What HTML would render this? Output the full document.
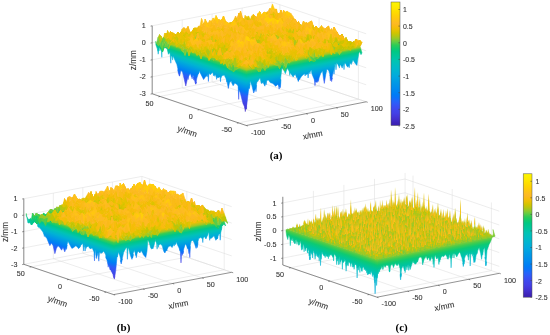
<!DOCTYPE html>
<html><head><meta charset="utf-8"><style>*{margin:0;padding:0}
html,body{width:550px;height:335px;background:#fff;overflow:hidden}
svg{display:block}
text{font-family:"Liberation Sans",Arial,sans-serif;font-size:8.00px;fill:#333;stroke:#333;stroke-width:.1}
text.r{text-anchor:end}
text.m{text-anchor:middle;font-size:8.2px}
text.cb{font-size:7.9px}
text.p{font-family:"Liberation Serif","Times New Roman",serif;font-weight:bold;font-size:11px;text-anchor:middle;fill:#000;stroke:none}
.g{stroke:#dadada;stroke-width:.5;fill:none}
.ax{stroke:#4a4a4a;stroke-width:.6;fill:none}
.cbr{stroke:#555;stroke-width:.5}
g path{stroke-width:1.1;stroke-linejoin:round}
.c0{fill:#3a20b0;stroke:#3a20b0}.c1{fill:#3c22b4;stroke:#3c22b4}.c2{fill:#3e24b8;stroke:#3e24b8}.c3{fill:#4028c0;stroke:#4028c0}.c4{fill:#422cc7;stroke:#422cc7}.c5{fill:#4430cf;stroke:#4430cf}.c6{fill:#4434d5;stroke:#4434d5}.c7{fill:#4438da;stroke:#4438da}.c8{fill:#443cdf;stroke:#443cdf}.c9{fill:#4440e4;stroke:#4440e4}.c10{fill:#4242e7;stroke:#4242e7}.c11{fill:#4145e9;stroke:#4145e9}.c12{fill:#3f47ec;stroke:#3f47ec}.c13{fill:#3e49ef;stroke:#3e49ef}.c14{fill:#3b4df1;stroke:#3b4df1}.c15{fill:#3752f3;stroke:#3752f3}.c16{fill:#3357f5;stroke:#3357f5}.c17{fill:#2f5cf8;stroke:#2f5cf8}.c18{fill:#2a61fa;stroke:#2a61fa}.c19{fill:#2266fa;stroke:#2266fa}.c20{fill:#196bf9;stroke:#196bf9}.c21{fill:#1070f9;stroke:#1070f9}.c22{fill:#0675f8;stroke:#0675f8}.c23{fill:#0079f7;stroke:#0079f7}.c24{fill:#007df6;stroke:#007df6}.c25{fill:#0080f4;stroke:#0080f4}.c26{fill:#0084f2;stroke:#0084f2}.c27{fill:#0087f1;stroke:#0087f1}.c28{fill:#008aef;stroke:#008aef}.c29{fill:#008ded;stroke:#008ded}.c30{fill:#0090eb;stroke:#0090eb}.c31{fill:#0093e9;stroke:#0093e9}.c32{fill:#0096e7;stroke:#0096e7}.c33{fill:#0099e6;stroke:#0099e6}.c34{fill:#009de4;stroke:#009de4}.c35{fill:#00a0e3;stroke:#00a0e3}.c36{fill:#00a4e2;stroke:#00a4e2}.c37{fill:#00a7e0;stroke:#00a7e0}.c38{fill:#00aade;stroke:#00aade}.c39{fill:#00addb;stroke:#00addb}.c40{fill:#00afd8;stroke:#00afd8}.c41{fill:#00b2d5;stroke:#00b2d5}.c42{fill:#00b4d1;stroke:#00b4d1}.c43{fill:#00b6ce;stroke:#00b6ce}.c44{fill:#00b9ca;stroke:#00b9ca}.c45{fill:#00bbc6;stroke:#00bbc6}.c46{fill:#00bdc3;stroke:#00bdc3}.c47{fill:#00bfbe;stroke:#00bfbe}.c48{fill:#00c1ba;stroke:#00c1ba}.c49{fill:#00c3b6;stroke:#00c3b6}.c50{fill:#00c4b0;stroke:#00c4b0}.c51{fill:#00c5aa;stroke:#00c5aa}.c52{fill:#00c5a3;stroke:#00c5a3}.c53{fill:#00c69c;stroke:#00c69c}.c54{fill:#00c696;stroke:#00c696}.c55{fill:#00c78f;stroke:#00c78f}.c56{fill:#00c789;stroke:#00c789}.c57{fill:#00c883;stroke:#00c883}.c58{fill:#07c979;stroke:#07c979}.c59{fill:#0fca70;stroke:#0fca70}.c60{fill:#17cb66;stroke:#17cb66}.c61{fill:#1ecc5c;stroke:#1ecc5c}.c62{fill:#31cc54;stroke:#31cc54}.c63{fill:#46cc4d;stroke:#46cc4d}.c64{fill:#5bcc46;stroke:#5bcc46}.c65{fill:#70cc3e;stroke:#70cc3e}.c66{fill:#84ca33;stroke:#84ca33}.c67{fill:#98c929;stroke:#98c929}.c68{fill:#aac81e;stroke:#aac81e}.c69{fill:#b6c610;stroke:#b6c610}.c70{fill:#c2c402;stroke:#c2c402}.c71{fill:#cfc400;stroke:#cfc400}.c72{fill:#dbc400;stroke:#dbc400}.c73{fill:#e4c302;stroke:#e4c302}.c74{fill:#ecc005;stroke:#ecc005}.c75{fill:#f4bd08;stroke:#f4bd08}.c76{fill:#f9bc0f;stroke:#f9bc0f}.c77{fill:#fabb18;stroke:#fabb18}.c78{fill:#fcba22;stroke:#fcba22}.c79{fill:#fdbb24;stroke:#fdbb24}.c80{fill:#febf1e;stroke:#febf1e}.c81{fill:#fec317;stroke:#fec317}.c82{fill:#ffc710;stroke:#ffc710}.c83{fill:#ffcb0c;stroke:#ffcb0c}.c84{fill:#ffcf08;stroke:#ffcf08}.c85{fill:#ffd304;stroke:#ffd304}.c86{fill:#ffd701;stroke:#ffd701}.c87{fill:#ffdb00;stroke:#ffdb00}.c88{fill:#ffdf00;stroke:#ffdf00}.c89{fill:#ffe200;stroke:#ffe200}.c90{fill:#ffe600;stroke:#ffe600}.c91{fill:#ffe900;stroke:#ffe900}.c92{fill:#feec00;stroke:#feec00}.c93{fill:#fdef00;stroke:#fdef00}.c94{fill:#fcf200;stroke:#fcf200}.c95{fill:#fbf500;stroke:#fbf500}</style></head><body>
<svg width="550" height="335" viewBox="0 0 550 335">
<defs><linearGradient id="cb" x1="0" y1="0" x2="0" y2="1"><stop offset="0.000" stop-color="#fbf500"/><stop offset="0.025" stop-color="#fdee00"/><stop offset="0.050" stop-color="#ffe700"/><stop offset="0.075" stop-color="#ffde00"/><stop offset="0.100" stop-color="#ffd503"/><stop offset="0.125" stop-color="#ffcb0b"/><stop offset="0.150" stop-color="#fec219"/><stop offset="0.175" stop-color="#fdb925"/><stop offset="0.200" stop-color="#f9bc0f"/><stop offset="0.225" stop-color="#e9c104"/><stop offset="0.250" stop-color="#d2c400"/><stop offset="0.275" stop-color="#b5c612"/><stop offset="0.300" stop-color="#8eca2e"/><stop offset="0.325" stop-color="#5ecc45"/><stop offset="0.350" stop-color="#2ccc56"/><stop offset="0.375" stop-color="#12ca6c"/><stop offset="0.400" stop-color="#00c883"/><stop offset="0.425" stop-color="#00c792"/><stop offset="0.450" stop-color="#00c5a1"/><stop offset="0.475" stop-color="#00c4b1"/><stop offset="0.500" stop-color="#00c0bc"/><stop offset="0.525" stop-color="#00bbc6"/><stop offset="0.550" stop-color="#00b6cf"/><stop offset="0.575" stop-color="#00b0d6"/><stop offset="0.600" stop-color="#00aade"/><stop offset="0.625" stop-color="#00a2e2"/><stop offset="0.650" stop-color="#009ae5"/><stop offset="0.675" stop-color="#0093e9"/><stop offset="0.700" stop-color="#008cee"/><stop offset="0.725" stop-color="#0084f2"/><stop offset="0.750" stop-color="#007cf6"/><stop offset="0.775" stop-color="#0c72f9"/><stop offset="0.800" stop-color="#2266fa"/><stop offset="0.825" stop-color="#305af7"/><stop offset="0.850" stop-color="#3a4ef2"/><stop offset="0.875" stop-color="#4046ec"/><stop offset="0.900" stop-color="#4341e6"/><stop offset="0.925" stop-color="#4438db"/><stop offset="0.950" stop-color="#432fcd"/><stop offset="0.975" stop-color="#3f25bb"/><stop offset="1.000" stop-color="#3a20b0"/></linearGradient><linearGradient id="ga1" gradientUnits="userSpaceOnUse" x1="0" y1="-16.12" x2="0" y2="43.88" gradientTransform="skewY(18.617)"><stop offset="0.000" stop-color="#ecc005"/><stop offset="0.050" stop-color="#a3c823"/><stop offset="0.083" stop-color="#3bcc51"/><stop offset="0.133" stop-color="#00c788"/><stop offset="0.200" stop-color="#00c2b8"/><stop offset="0.267" stop-color="#00b1d5"/><stop offset="0.333" stop-color="#009ae5"/><stop offset="0.417" stop-color="#007df5"/><stop offset="0.500" stop-color="#305af7"/><stop offset="0.633" stop-color="#4440e4"/><stop offset="0.800" stop-color="#3f26bc"/><stop offset="1.000" stop-color="#3a20b0"/></linearGradient><linearGradient id="ga2" gradientUnits="userSpaceOnUse" x1="0" y1="115.53" x2="0" y2="175.53" gradientTransform="skewY(-11.181)"><stop offset="0.000" stop-color="#ecc005"/><stop offset="0.050" stop-color="#a3c823"/><stop offset="0.083" stop-color="#3bcc51"/><stop offset="0.133" stop-color="#00c788"/><stop offset="0.200" stop-color="#00c2b8"/><stop offset="0.267" stop-color="#00b1d5"/><stop offset="0.333" stop-color="#009ae5"/><stop offset="0.417" stop-color="#007df5"/><stop offset="0.500" stop-color="#305af7"/><stop offset="0.633" stop-color="#4440e4"/><stop offset="0.800" stop-color="#3f26bc"/><stop offset="1.000" stop-color="#3a20b0"/></linearGradient><linearGradient id="gb1" gradientUnits="userSpaceOnUse" x1="0" y1="199.69" x2="0" y2="259.69" gradientTransform="skewY(18.645)"><stop offset="0.000" stop-color="#ecc005"/><stop offset="0.050" stop-color="#a3c823"/><stop offset="0.083" stop-color="#3bcc51"/><stop offset="0.133" stop-color="#00c788"/><stop offset="0.200" stop-color="#00c2b8"/><stop offset="0.267" stop-color="#00b1d5"/><stop offset="0.333" stop-color="#009ae5"/><stop offset="0.417" stop-color="#007df5"/><stop offset="0.500" stop-color="#305af7"/><stop offset="0.633" stop-color="#4440e4"/><stop offset="0.800" stop-color="#3f26bc"/><stop offset="1.000" stop-color="#3a20b0"/></linearGradient><linearGradient id="gb2" gradientUnits="userSpaceOnUse" x1="0" y1="259.47" x2="0" y2="319.47" gradientTransform="skewY(-10.693)"><stop offset="0.000" stop-color="#ecc005"/><stop offset="0.050" stop-color="#a3c823"/><stop offset="0.083" stop-color="#3bcc51"/><stop offset="0.133" stop-color="#00c788"/><stop offset="0.200" stop-color="#00c2b8"/><stop offset="0.267" stop-color="#00b1d5"/><stop offset="0.333" stop-color="#009ae5"/><stop offset="0.417" stop-color="#007df5"/><stop offset="0.500" stop-color="#305af7"/><stop offset="0.633" stop-color="#4440e4"/><stop offset="0.800" stop-color="#3f26bc"/><stop offset="1.000" stop-color="#3a20b0"/></linearGradient><linearGradient id="gc1" gradientUnits="userSpaceOnUse" x1="0" y1="130.52" x2="0" y2="170.52" gradientTransform="skewY(18.872)"><stop offset="0.000" stop-color="#80cb35"/><stop offset="0.075" stop-color="#3bcc51"/><stop offset="0.150" stop-color="#0cca73"/><stop offset="0.250" stop-color="#00c698"/><stop offset="0.375" stop-color="#00c2b8"/><stop offset="0.550" stop-color="#00b5d1"/><stop offset="1.000" stop-color="#00a3e2"/></linearGradient><linearGradient id="gc2" gradientUnits="userSpaceOnUse" x1="0" y1="333.06" x2="0" y2="373.06" gradientTransform="skewY(-11.057)"><stop offset="0.000" stop-color="#80cb35"/><stop offset="0.075" stop-color="#3bcc51"/><stop offset="0.150" stop-color="#0cca73"/><stop offset="0.250" stop-color="#00c698"/><stop offset="0.375" stop-color="#00c2b8"/><stop offset="0.550" stop-color="#00b5d1"/><stop offset="1.000" stop-color="#00a3e2"/></linearGradient></defs>
<path class="g" d="M246.3 125.5L152.2 93.8M276.3 119.6L182.2 87.9M306.2 113.7L212.1 82.0M336.2 107.7L242.1 76.0M366.2 101.8L272.1 70.1M238.5 122.9L358.4 99.2M199.2 109.7L319.1 85.9M160.0 96.4L279.9 72.7M152.2 93.8L152.2 25.8M182.2 87.9L182.2 19.9M212.1 82.0L212.1 14.0M242.1 76.0L242.1 8.0M272.1 70.1L272.1 2.1M152.2 93.8L272.1 70.1M152.2 76.8L272.1 53.1M152.2 59.8L272.1 36.1M152.2 42.8L272.1 19.1M152.2 25.8L272.1 2.1M358.4 99.2L358.4 31.2M319.1 85.9L319.1 17.9M279.9 72.7L279.9 4.7M366.2 101.8L272.1 70.1M366.2 84.8L272.1 53.1M366.2 67.8L272.1 36.1M366.2 50.8L272.1 19.1M366.2 33.8L272.1 2.1"/><path class="g" d="M113.6 294.6L23.8 264.3M143.1 289.0L53.3 258.7M172.6 283.5L82.8 253.2M202.2 277.9L112.4 247.6M231.7 272.3L141.9 242.0M106.1 292.1L224.2 269.8M68.7 279.5L186.8 257.1M31.3 266.8L149.4 244.5M23.8 264.3L23.8 198.7M53.3 258.7L53.3 193.1M82.8 253.2L82.8 187.6M112.4 247.6L112.4 182.0M141.9 242.0L141.9 176.4M23.8 264.3L141.9 242.0M23.8 247.9L141.9 225.6M23.8 231.5L141.9 209.2M23.8 215.1L141.9 192.8M23.8 198.7L141.9 176.4M224.2 269.8L224.2 204.2M186.8 257.1L186.8 191.5M149.4 244.5L149.4 178.9M231.7 272.3L141.9 242.0M231.7 255.9L141.9 225.6M231.7 239.5L141.9 209.2M231.7 223.1L141.9 192.8M231.7 206.7L141.9 176.4"/><path class="g" d="M377.0 297.2L282.8 265.0M407.6 291.2L313.4 259.0M438.1 285.2L343.9 253.1M468.7 279.3L374.5 247.1M499.3 273.3L405.1 241.1M369.1 294.5L491.4 270.6M329.9 281.1L452.2 257.2M290.7 267.7L413.0 243.8M282.8 265.0L282.8 196.8M313.4 259.0L313.4 190.9M343.9 253.1L343.9 184.9M374.5 247.1L374.5 178.9M405.1 241.1L405.1 172.9M282.8 258.1L405.1 234.2M282.8 244.3L405.1 220.4M282.8 230.5L405.1 206.6M282.8 216.7L405.1 192.8M282.8 202.9L405.1 179.0M491.4 270.6L491.4 202.4M452.2 257.2L452.2 189.0M413.0 243.8L413.0 175.6M499.3 266.4L405.1 234.2M499.3 252.6L405.1 220.4M499.3 238.8L405.1 206.6M499.3 225.0L405.1 192.8M499.3 211.2L405.1 179.0"/>
<path fill="url(#ga2)" stroke="url(#ga2)" stroke-width=".5" d="M245.7 63.8L247.4 62.4L249.0 62.8L250.6 66.2L252.2 56.0L253.8 62.9L255.4 66.7L257.1 65.2L258.7 67.1L260.3 67.9L261.9 67.2L263.5 67.5L265.1 70.0L266.7 67.4L268.4 66.9L270.0 60.2L271.6 62.9L273.2 63.0L274.8 64.7L276.4 65.1L278.1 65.2L279.7 66.2L281.3 63.2L282.9 63.4L284.5 70.5L286.1 67.6L287.7 61.4L289.4 62.5L291.0 60.8L292.6 60.3L294.2 55.5L295.8 60.2L297.4 59.2L299.1 53.2L300.7 54.0L302.3 52.3L303.9 54.7L305.5 56.9L307.1 50.8L308.7 55.9L310.4 60.2L312.0 60.3L313.6 60.6L315.2 61.1L316.8 57.2L318.4 57.8L320.1 55.0L321.7 54.5L323.3 49.6L324.9 49.5L326.5 49.3L328.1 50.8L329.7 51.5L331.4 54.4L333.0 48.4L334.6 52.9L336.2 47.1L337.8 50.1L339.4 54.3L341.0 52.0L342.7 49.4L344.3 50.0L345.9 49.1L347.5 47.7L349.1 49.2L350.7 50.1L352.4 45.7L354.0 46.4L355.6 47.5L357.2 44.7L358.8 40.2L360.4 45.3L362.0 41.9L360.2 46.6L362.0 52.9L361.0 54.7L359.3 51.1L358.0 58.3L356.9 65.4L354.8 62.8L353.0 60.1L351.2 64.6L349.4 61.9L347.6 67.2L345.8 63.7L344.0 62.8L342.2 68.1L340.4 64.6L338.7 66.3L336.9 61.9L334.2 65.4L332.9 73.5L331.5 79.8L330.1 75.3L328.8 70.8L327.0 69.0L325.8 74.4L324.3 83.4L323.4 78.0L322.5 70.8L320.7 73.5L319.0 78.0L317.2 82.5L315.4 81.6L313.6 78.0L311.8 73.5L311.4 70.1L309.6 71.9L306.9 74.6L304.3 73.7L301.6 76.3L299.8 79.0L298.3 80.8L297.1 77.2L295.3 74.6L292.6 76.3L290.8 73.7L289.0 71.0L287.2 68.3L285.4 73.7L283.7 70.1L281.9 68.3L281.0 75.5L279.7 87.1L277.9 84.4L275.6 86.2L272.9 83.5L270.2 82.6L268.4 79.9L266.1 80.8L264.9 86.2L263.1 82.6L261.3 83.5L260.0 78.1L258.2 80.8L257.0 82.2L255.5 88.5L253.7 93.0L251.9 85.8L250.2 81.3L248.4 91.2L246.9 103.7L245.7 108.9ZM292.5 74.3h1.6l-0.8 2.7zM330.6 77.7h1.4l-0.7 1.5zM248.6 83.8h1.6l-0.8 4.9zM348.4 61.0h1.6l-0.8 6.8zM333.4 65.0h1.2l-0.6 2.1zM317.3 78.7h1.6l-0.8 2.9zM278.5 84.7h1.3l-0.7 4.5zM304.4 72.5h1.5l-0.8 3.5zM265.3 79.3h1.6l-0.8 5.5zM347.7 63.1h1.6l-0.8 2.9zM307.5 71.9h1.2l-0.6 6.1zM338.7 64.1h1.4l-0.7 4.0zM295.9 75.0h1.4l-0.7 2.7zM334.7 62.2h1.6l-0.8 2.0zM297.7 79.2h1.2l-0.6 2.4zM333.2 65.5h1.6l-0.8 8.7zM279.8 79.5h1.2l-0.6 8.2zM347.6 63.5h1.4l-0.7 3.1zM336.7 61.9h1.6l-0.8 2.3zM330.8 77.9h1.6l-0.8 3.7zM339.7 63.2h1.5l-0.8 1.8zM314.3 79.3h1.4l-0.7 6.4zM255.3 85.2h1.3l-0.6 6.5zM309.4 70.1h1.1l-0.6 3.9zM346.0 63.7h1.2l-0.6 1.8zM343.4 61.3h1.3l-0.7 8.3zM329.8 74.8h1.2l-0.6 6.0zM358.5 50.4h1.3l-0.6 1.9zM335.2 61.6h1.6l-0.8 8.2zM289.2 70.7h1.2l-0.6 4.8z"/><path fill="url(#ga1)" stroke="url(#ga1)" stroke-width=".5" d="M156.4 42.9L158.4 45.4L160.4 47.1L162.4 51.8L164.5 46.6L166.5 46.7L168.5 48.7L170.6 42.4L172.6 40.1L174.6 39.2L176.7 46.5L178.7 45.4L180.7 47.7L182.8 50.7L184.8 55.1L186.8 48.1L188.9 55.5L190.9 50.1L192.9 52.4L195.0 50.9L197.0 55.0L199.0 53.7L201.0 58.8L203.1 51.6L205.1 50.8L207.1 54.4L209.2 60.1L211.2 57.1L213.2 56.6L215.3 58.3L217.3 59.3L219.3 59.4L221.4 59.5L223.4 64.2L225.4 62.5L227.5 67.7L229.5 69.3L231.5 70.1L233.6 71.4L235.6 66.0L237.6 66.5L239.7 64.7L241.7 65.6L243.7 63.4L245.7 63.8L246.6 63.0L246.6 108.9L245.7 109.1L243.0 103.7L240.3 93.0L237.6 84.9L234.9 83.1L233.1 85.8L231.3 81.3L229.6 82.2L228.3 88.5L226.9 80.4L224.2 75.1L221.5 76.0L219.7 76.9L217.9 77.8L216.1 74.2L214.3 75.1L212.5 72.4L210.7 74.2L209.0 73.3L207.2 75.1L205.4 76.9L203.6 79.6L201.8 76.0L200.0 72.4L199.3 70.8L196.9 78.0L195.7 84.3L193.0 75.3L191.6 77.1L190.3 73.5L187.6 78.0L185.8 86.0L182.2 70.8L180.8 70.8L179.6 76.2L176.9 64.6L173.3 56.5L171.5 56.1L170.1 52.0L168.4 54.3L167.0 48.4L164.3 47.5L162.5 45.7L161.1 50.8L159.3 46.6L158.1 51.1L155.9 44.9L155.7 41.3ZM207.8 72.4h1.2l-0.6 9.1zM193.3 77.0h1.2l-0.6 3.2zM178.6 73.5h1.4l-0.7 2.3zM209.3 72.4h1.5l-0.7 2.3zM170.0 52.3h1.5l-0.7 10.9zM197.7 71.9h1.5l-0.8 2.0zM161.2 46.8h1.2l-0.6 10.5zM191.3 74.9h1.6l-0.8 4.0zM214.1 73.3h1.7l-0.8 3.1zM215.8 73.7h1.6l-0.8 5.7zM177.7 69.7h1.5l-0.8 3.8zM195.1 81.9h1.5l-0.8 2.1zM219.9 75.0h1.2l-0.6 6.7zM181.5 69.6h1.5l-0.8 1.9zM216.4 74.4h1.2l-0.6 2.4zM158.4 45.7h1.5l-0.8 1.8zM168.4 52.0h1.2l-0.6 1.6zM158.3 46.1h1.4l-0.7 4.9zM172.0 54.8h1.2l-0.6 5.3zM187.4 75.7h1.3l-0.6 3.9zM213.0 72.7h1.4l-0.7 3.2zM244.5 106.8h1.6l-0.8 4.8zM220.4 74.7h1.4l-0.7 2.9zM165.8 46.7h1.3l-0.6 1.6zM157.5 49.0h1.4l-0.7 5.2zM226.3 78.9h1.1l-0.6 3.3zM238.2 87.0h1.1l-0.6 12.4zM216.8 75.5h1.4l-0.7 2.1zM231.8 82.6h1.3l-0.6 1.6zM206.4 73.7h1.4l-0.7 3.2z"/><path fill="url(#gb2)" stroke="url(#gb2)" stroke-width=".5" d="M113.1 237.1L114.7 238.5L116.3 238.4L117.9 241.9L119.5 227.1L121.1 235.4L122.7 239.1L124.3 238.6L125.9 240.2L127.4 239.3L129.0 238.7L130.6 240.0L132.2 237.9L133.8 237.8L135.4 235.5L137.0 234.0L138.6 234.7L140.2 237.0L141.8 234.3L143.4 236.9L144.9 234.4L146.5 233.8L148.1 236.0L149.7 234.2L151.3 236.9L152.9 230.4L154.5 226.3L156.1 233.9L157.7 235.0L159.3 232.2L160.9 228.7L162.4 228.0L164.0 227.6L165.6 227.6L167.2 229.4L168.8 224.9L170.4 228.2L172.0 223.4L173.6 229.2L175.2 227.9L176.8 227.7L178.4 225.7L180.0 232.2L181.5 232.5L183.1 229.6L184.7 225.4L186.3 226.0L187.9 221.7L189.5 228.2L191.1 221.5L192.7 220.7L194.3 222.6L195.9 221.4L197.5 218.9L199.0 220.8L200.6 218.3L202.2 212.5L203.8 220.0L205.4 219.9L207.0 222.1L208.6 220.5L210.2 221.5L211.8 223.8L213.4 222.6L215.0 224.1L216.5 226.6L218.1 227.9L219.7 224.9L221.3 220.9L222.9 220.7L224.5 216.3L226.1 220.4L227.7 223.0L223.9 219.7L225.7 226.0L223.9 224.2L222.1 226.0L221.2 229.6L219.8 233.1L218.5 234.9L217.3 238.5L215.8 240.3L214.0 235.8L212.2 237.6L210.8 238.5L209.6 235.8L208.7 232.2L207.8 234.9L206.0 238.5L204.2 236.7L202.4 238.5L200.6 237.6L198.8 238.5L197.6 243.0L196.1 248.4L194.3 243.0L192.9 240.3L191.1 241.2L189.9 247.5L189.0 253.7L188.1 248.4L186.8 245.7L185.4 243.9L183.9 248.4L182.7 253.7L181.4 252.8L179.3 248.5L177.5 244.9L175.7 241.3L173.9 244.0L172.1 247.6L170.3 245.8L168.5 246.7L166.7 249.4L164.9 253.0L163.7 251.2L162.2 245.8L160.4 244.0L158.7 244.9L156.9 243.1L155.4 239.6L154.2 244.9L152.4 248.5L150.6 247.6L149.3 243.1L147.9 239.6L147.0 251.2L145.8 257.5L143.4 254.8L141.6 250.3L139.9 253.0L138.1 251.2L136.3 254.8L134.5 250.3L133.2 253.0L132.0 259.4L130.5 255.8L128.7 248.7L127.3 246.9L125.5 248.7L123.7 252.2L122.5 257.6L121.2 262.1L119.8 255.8L118.3 252.2L117.1 255.8L115.8 270.2L114.4 279.1L113.1 275.3ZM196.5 242.6h1.6l-0.8 5.0zM147.4 238.9h1.6l-0.8 1.5zM219.9 229.3h1.6l-0.8 2.8zM186.7 245.4h1.3l-0.6 2.5zM179.3 248.6h1.5l-0.8 2.5zM221.6 224.3h1.5l-0.7 1.6zM216.7 237.0h1.2l-0.6 2.0zM135.1 252.1h1.4l-0.7 3.4zM134.6 250.9h1.5l-0.8 1.7zM156.4 241.9h1.5l-0.8 7.3zM121.0 258.9h1.5l-0.7 1.6zM173.5 242.0h1.4l-0.7 4.1zM208.9 234.6h1.6l-0.8 5.8zM155.4 239.9h1.4l-0.7 2.1zM113.4 276.6h1.4l-0.7 1.5zM205.2 236.8h1.2l-0.6 2.2zM182.3 251.2h1.3l-0.6 2.5zM157.8 243.2h1.4l-0.7 4.0zM189.2 246.5h1.2l-0.6 11.1zM135.7 253.2h1.3l-0.7 4.5zM220.6 227.6h1.4l-0.7 2.2zM126.8 245.6h1.3l-0.7 13.7zM180.3 250.7h1.5l-0.8 12.2zM116.5 253.6h1.6l-0.8 3.5zM132.0 254.1h1.3l-0.7 3.9zM174.7 240.4h1.2l-0.6 3.2zM181.5 251.9h1.4l-0.7 3.4zM219.5 230.5h1.4l-0.7 9.7zM166.1 247.9h1.3l-0.6 3.1zM202.2 236.6h1.2l-0.6 6.0zM131.7 255.4h1.5l-0.7 2.2zM141.5 250.2h1.4l-0.7 2.2zM218.6 232.2h1.5l-0.8 1.7zM174.2 240.8h1.6l-0.8 3.6zM174.8 240.3h1.2l-0.6 4.4zM152.2 245.9h1.4l-0.7 3.0zM209.7 236.0h1.3l-0.6 2.5zM150.7 246.5h1.4l-0.7 2.7zM120.3 260.4h1.7l-0.8 3.6zM187.3 246.3h1.1l-0.6 2.7z"/><path fill="url(#gb1)" stroke="url(#gb1)" stroke-width=".5" d="M27.8 222.4L29.8 221.8L31.7 223.3L33.6 219.8L35.6 220.6L37.5 217.8L39.4 222.9L41.4 220.6L43.3 221.3L45.3 225.3L47.2 221.6L49.1 215.0L51.1 220.5L53.0 221.1L55.0 220.3L56.9 217.6L58.8 216.8L60.8 217.1L62.7 220.8L64.7 222.3L66.6 222.2L68.5 225.8L70.5 227.5L72.4 231.1L74.3 229.3L76.3 226.8L78.2 232.0L80.2 229.3L82.1 230.6L84.0 228.6L86.0 231.0L87.9 236.7L89.9 232.6L91.8 231.9L93.7 235.1L95.7 233.9L97.6 231.9L99.6 237.4L101.5 234.9L103.4 234.3L105.4 237.0L107.3 237.1L109.2 235.0L111.2 234.5L113.1 237.1L114.0 237.9L114.0 275.3L112.6 273.7L109.9 268.4L107.2 261.2L105.4 254.0L103.7 251.3L101.9 253.1L99.7 252.2L97.9 253.1L96.5 258.5L95.1 249.6L93.8 251.3L92.0 247.8L90.2 248.7L88.4 246.0L86.6 246.9L84.9 242.4L84.0 245.1L82.2 243.3L80.4 246.0L78.6 248.7L77.7 247.5L75.9 245.7L73.7 247.5L71.9 248.4L69.8 244.8L68.0 241.2L66.2 247.5L64.8 251.9L63.0 247.5L61.6 250.2L59.8 247.5L58.0 245.7L56.4 248.4L54.9 253.7L53.1 245.7L51.3 243.0L49.9 245.7L48.7 243.0L46.9 238.5L45.1 235.8L42.4 231.3L39.7 227.8L37.9 226.9L36.1 219.7L34.3 217.9L32.9 222.4L31.6 219.7L30.4 217.9L29.3 221.5L28.1 218.8L26.3 216.1L26.3 213.4ZM78.6 246.0h1.7l-0.8 1.9zM43.6 233.1h1.6l-0.8 3.5zM107.6 262.3h1.2l-0.6 4.9zM90.1 246.8h1.7l-0.8 1.9zM100.2 251.2h1.4l-0.7 2.3zM105.6 256.7h1.6l-0.8 2.4zM86.9 244.9h1.3l-0.7 1.5zM85.4 244.0h1.4l-0.7 4.4zM82.9 243.4h1.7l-0.8 7.6zM88.8 246.2h1.4l-0.7 2.0zM93.8 248.9h1.4l-0.7 12.0zM79.3 245.2h1.2l-0.6 1.6zM83.4 243.5h1.2l-0.6 3.5zM109.7 267.7h1.1l-0.6 2.3zM84.5 241.7h1.4l-0.7 9.4zM81.0 242.4h1.6l-0.8 2.2zM45.6 235.9h1.2l-0.6 1.6zM28.4 219.4h1.4l-0.7 3.9zM98.0 251.1h1.6l-0.8 10.1zM65.7 245.2h1.5l-0.7 4.2z"/><path fill="url(#gc2)" stroke="url(#gc2)" stroke-width=".5" d="M376.5 259.5L495.1 236.3L493.0 229.5L493.3 234.0L491.8 238.4L490.3 242.2L489.1 244.4L488.1 247.4L487.0 250.4L485.8 266.0L484.6 247.4L482.8 251.1L481.6 259.3L480.6 253.4L479.1 247.4L477.6 251.1L476.1 255.6L474.9 262.3L473.9 257.1L472.4 252.6L470.9 251.1L469.4 253.4L468.2 257.1L467.2 253.4L465.7 254.9L464.5 258.6L463.4 265.3L462.2 259.3L461.2 254.9L459.7 251.9L458.2 254.1L456.7 257.1L455.7 254.9L454.2 252.6L452.7 254.1L451.5 256.3L450.0 254.9L449.1 253.8L447.2 256.8L445.4 254.6L443.6 256.8L441.6 255.3L440.1 259.8L438.2 256.0L436.7 259.0L435.2 255.3L433.7 258.3L431.9 256.0L430.4 260.5L428.7 256.8L427.5 259.8L426.0 256.0L424.5 258.3L423.0 262.8L421.5 257.5L419.8 256.9L418.3 259.1L416.8 262.1L415.3 264.3L413.8 259.9L412.6 262.1L411.1 266.6L410.1 269.6L408.6 263.6L407.1 267.3L405.6 265.8L404.6 271.0L403.1 265.8L401.6 268.8L400.7 276.3L400.1 268.8L398.6 263.6L397.1 265.8L395.1 263.6L393.7 266.6L392.2 264.3L390.7 265.8L389.6 271.8L388.4 265.8L386.6 265.1L385.1 267.3L383.7 265.1L382.2 265.8L380.7 269.6L379.5 267.3L378.0 271.8L376.5 277.8L376.5 277.8ZM413.8 260.2h1.2l-0.6 3.6zM422.2 260.4h1.0l-0.5 4.5zM447.6 253.7h1.2l-0.6 5.6zM453.3 251.3h1.4l-0.7 6.7zM450.6 254.4h1.0l-0.5 13.4zM382.5 263.9h1.0l-0.5 4.8zM469.6 250.8h1.0l-0.5 3.0zM424.2 256.2h1.4l-0.7 2.2zM429.3 257.6h1.0l-0.5 3.1zM382.1 264.0h1.3l-0.7 3.0zM469.4 250.8h1.3l-0.7 1.8zM460.8 254.3h1.1l-0.6 2.2zM439.3 257.6h1.0l-0.5 1.8zM438.2 255.7h1.3l-0.6 8.8zM428.0 255.4h1.4l-0.7 2.5zM377.4 270.0h1.4l-0.7 4.0zM441.8 254.4h1.1l-0.6 1.7zM416.8 259.5h1.2l-0.6 2.7zM416.9 259.2h1.3l-0.6 2.1zM471.9 251.2h1.0l-0.5 5.1zM451.4 254.0h1.0l-0.5 4.0zM381.9 264.1h1.3l-0.7 1.7zM433.4 256.0h1.3l-0.7 11.4zM436.7 256.2h1.3l-0.7 2.3zM392.7 264.6h1.4l-0.7 3.1zM446.7 255.1h1.4l-0.7 4.0zM441.0 253.8h1.3l-0.6 3.5zM438.7 256.9h1.3l-0.7 3.5zM378.6 267.1h1.0l-0.5 5.1zM400.2 273.6h1.3l-0.6 3.2zM450.6 254.6h1.4l-0.7 4.2zM412.8 259.1h1.2l-0.6 3.8zM388.9 269.9h1.2l-0.6 2.2zM462.8 263.1h1.0l-0.5 3.5zM432.6 256.1h1.1l-0.5 8.3zM376.0 275.6h1.3l-0.7 9.9zM484.8 257.5h1.0l-0.5 1.7zM437.8 254.7h1.0l-0.5 2.6zM473.3 256.2h1.4l-0.7 6.5zM476.2 251.7h1.3l-0.7 2.4zM473.6 256.7h1.0l-0.5 2.9zM470.8 250.2h1.4l-0.7 4.0zM408.2 262.7h1.1l-0.6 7.7zM378.7 266.5h1.2l-0.6 2.7zM470.3 249.7h1.4l-0.7 4.7zM450.0 253.9h1.2l-0.6 4.3zM449.9 253.8h1.0l-0.5 3.1zM382.3 264.0h1.2l-0.6 5.7zM463.4 260.0h1.3l-0.7 4.1zM467.9 254.8h1.0l-0.5 5.4zM404.9 264.7h1.1l-0.6 1.5zM400.0 274.5h1.3l-0.7 5.4zM482.0 250.6h1.3l-0.6 4.3zM377.2 270.8h1.4l-0.7 2.1zM439.0 257.4h1.4l-0.7 4.8zM474.0 258.8h1.0l-0.5 3.3zM376.5 273.7h1.3l-0.7 2.2zM485.5 261.8h1.1l-0.6 3.6zM406.4 265.7h1.1l-0.6 4.2zM448.5 252.4h1.0l-0.5 5.4zM469.6 250.7h1.2l-0.6 15.3zM404.6 266.5h1.1l-0.6 6.2zM431.5 254.8h1.4l-0.7 4.3zM379.0 266.2h1.3l-0.7 5.2zM465.8 252.7h1.3l-0.6 2.5zM415.2 261.9h1.4l-0.7 1.9z"/><path fill="url(#gc1)" stroke="url(#gc1)" stroke-width=".5" d="M287.0 228.9L376.5 259.5L377.4 259.3L377.4 277.8L376.0 276.8L374.8 282.8L373.6 275.3L372.1 273.1L370.6 270.8L369.1 273.8L367.3 268.6L365.8 270.8L364.3 267.8L362.5 266.3L361.3 268.6L359.6 264.9L358.1 267.1L356.6 264.9L354.8 263.4L353.6 267.1L352.1 262.6L350.6 264.1L349.1 261.9L347.6 261.1L346.4 265.6L344.9 259.6L343.4 262.6L341.9 258.9L340.7 261.1L339.7 256.6L338.2 257.4L337.2 261.1L335.7 255.9L334.2 253.7L333.0 257.4L331.5 254.4L330.0 255.0L328.5 254.6L327.0 256.8L325.5 253.1L324.0 256.0L322.1 252.3L320.3 255.3L319.1 253.1L317.6 256.8L316.1 252.3L315.1 253.8L313.6 250.1L312.1 254.6L310.9 252.3L309.9 259.8L308.7 249.3L307.6 251.6L306.6 246.3L305.4 248.6L304.2 245.6L302.7 243.4L301.7 247.1L300.2 241.1L299.1 244.9L297.6 241.1L296.1 238.9L294.9 243.4L293.7 239.6L292.3 236.6L291.2 240.4L290.2 237.4L288.7 235.1L287.8 239.6L286.7 235.9L286.0 231.4L286.0 229.9ZM313.5 249.9h1.2l-0.6 3.1zM293.1 238.5h1.4l-0.7 1.8zM301.6 243.3h1.4l-0.7 2.1zM329.0 253.4h1.2l-0.6 3.2zM359.3 263.9h1.1l-0.5 8.6zM331.6 254.2h1.1l-0.5 1.7zM357.6 265.3h1.4l-0.7 4.9zM320.0 253.5h1.0l-0.5 2.3zM294.3 241.8h1.2l-0.6 2.2zM350.3 262.4h1.0l-0.5 4.2zM322.4 252.8h1.4l-0.7 1.7zM327.2 254.2h1.2l-0.6 2.4zM326.2 254.5h1.0l-0.5 1.5zM347.0 259.7h1.2l-0.6 5.6zM339.8 258.6h1.4l-0.7 3.6zM356.7 264.4h1.1l-0.6 3.8zM369.5 270.2h1.4l-0.7 1.8zM317.9 253.2h1.0l-0.5 4.4zM320.6 252.4h1.1l-0.5 6.9zM359.9 265.6h1.4l-0.7 1.8zM303.5 243.8h1.1l-0.5 8.0zM295.2 238.3h1.2l-0.6 1.8zM359.0 263.4h1.1l-0.6 2.2zM367.9 270.2h1.0l-0.5 4.3zM304.8 246.9h1.4l-0.7 2.2zM341.8 258.5h1.1l-0.5 10.8zM315.4 250.9h1.2l-0.6 5.3zM345.5 262.9h1.2l-0.6 8.3zM336.2 258.1h1.1l-0.6 6.6zM371.8 272.0h1.3l-0.6 4.5zM306.9 249.7h1.2l-0.6 3.4zM293.2 238.5h1.3l-0.7 3.9zM356.6 264.2h1.1l-0.6 13.8zM318.5 251.7h1.3l-0.6 9.2zM309.4 257.4h1.1l-0.6 2.5zM305.9 245.0h1.2l-0.6 3.0zM374.6 279.9h1.0l-0.5 13.9zM301.0 245.5h1.4l-0.7 4.7zM296.4 238.7h1.2l-0.6 5.7zM311.9 252.1h1.1l-0.5 5.9zM339.3 256.1h1.3l-0.7 8.3zM361.2 266.4h1.0l-0.5 4.7zM298.3 242.8h1.1l-0.6 2.6zM296.5 238.9h1.4l-0.7 2.5zM361.7 265.2h1.2l-0.6 2.6zM304.9 246.8h1.3l-0.7 4.0zM324.6 252.1h1.3l-0.7 5.6zM353.5 264.2h1.2l-0.6 5.1zM319.9 253.5h1.2l-0.6 12.1zM354.9 262.5h1.2l-0.6 2.4zM368.6 272.3h1.0l-0.5 1.7zM366.9 267.8h1.2l-0.6 7.1zM368.3 271.4h1.0l-0.5 2.0zM361.5 265.7h1.0l-0.5 5.8zM289.7 236.2h1.2l-0.6 9.5zM291.0 237.4h1.2l-0.6 1.7zM333.5 252.8h1.0l-0.5 1.5zM363.6 266.2h1.2l-0.6 3.7zM352.0 262.3h1.0l-0.5 4.9zM327.7 253.3h1.3l-0.6 5.4zM301.9 243.2h1.0l-0.5 6.2zM337.9 255.7h1.3l-0.6 9.1zM369.7 269.7h1.4l-0.7 4.7zM343.3 260.2h1.1l-0.5 1.6zM291.8 235.1h1.0l-0.5 5.8zM308.7 252.1h1.0l-0.5 4.1zM333.0 254.3h1.1l-0.5 6.7zM342.4 260.3h1.4l-0.7 2.0zM347.5 259.9h1.3l-0.7 6.2zM324.1 253.1h1.3l-0.6 3.3zM314.4 252.3h1.3l-0.6 6.8zM357.2 265.1h1.2l-0.6 2.5zM366.1 267.9h1.4l-0.7 5.0zM367.7 269.8h1.0l-0.5 3.9z"/><g transform="scale(.5)"><path class="c83" d="M546 22l3-4-4-10-3 9z"/><path class="c80" d="M550 28l3-10-4 0-3 4zm-7 0l3-6-4-5-3 0z"/><path class="c75" d="M544 38l3-14-4 4-3 0z"/><path class="c76" d="M554 33l3 1-4-16-3 10zm-18 0l4-5-4-5-4 2z"/><path class="c77" d="M547 24l3 4-4-6-3 6z"/><path class="c78" d="M540 28l3 0-4-11-3 6z"/><path class="c72" d="M548 44l3-10-4-10-3 14z"/><path class="c73" d="M558 32l4 5-5-3-3-1zm-17-2l3 8-4-10-4 5z"/><path class="c75" d="M555 27l3 5-4 1-3 1zm-4 7l3-1-4-5-3-4zm-18-7l3 6-4-8-3 6z"/><path class="c69" d="M527 44l3-9-4-1-3 5z"/><path class="c72" d="M545 29l3 15-4-6-3-8zm-11 7l3 5-4-14-3 8z"/><path class="c73" d="M541 38l4-9-4 1-4 11zm-4 3l4-11-5 3-3-6zm-7-6l3-8-4 4-3 3z"/><path class="c74" d="M552 28l3-1-4 7-3 10z"/><path class="c76" d="M562 20l4 14-4 3-4-5z"/><path class="c78" d="M566 34l4-7-4 7-4-14z"/><path class="c79" d="M559 30l3-10-4 12-3-5z"/><path class="c69" d="M538 48l3-10-4 3-3-5z"/><path class="c70" d="M531 40l3-4-4-1-3 9z"/><path class="c71" d="M524 38l3 6-4-5-4-16z"/><path class="c72" d="M545 44l4-7-4-8-4 9z"/><path class="c73" d="M520 39l4-1-5-15-3 13z"/><path class="c74" d="M549 37l3-9-4 16-3-15z"/><path class="c76" d="M553 41l3-15-4 2-3 9z"/><path class="c77" d="M563 38l3-4-4-14-3 10z"/><path class="c79" d="M556 26l3 4-4-3-3 1z"/><path class="c80" d="M571 31l3-9-4 5-4 7z"/><path class="c69" d="M535 39l3 9-4-12-3 4zm-7 2l3-1-4 4-3-6z"/><path class="c70" d="M549 42l4-1-4-4-4 7zm-7-9l3 11-4-6-3 10zm-10 7l3-1-4 1-3 1z"/><path class="c71" d="M524 35l4 6-4-3-4 1z"/><path class="c72" d="M539 36l3-3-4 15-3-9z"/><path class="c73" d="M517 28l3 11-4-3-3-1z"/><path class="c75" d="M557 36l3 0-4-10-3 15z"/><path class="c76" d="M564 41l3-20-4 17-3-2zm-4-5l3 2-4-8-3-4z"/><path class="c78" d="M567 21l4 10-5 3-3 4z"/><path class="c82" d="M575 31l3-6-4-3-3 9z"/><path class="c71" d="M554 44l3-8-4 5-4 1zm-26-3l4-1-4 1-4-6z"/><path class="c72" d="M550 45l4-1-5-2-3-10z"/><path class="c73" d="M546 32l3 10-4 2-3-11zm-10 5l3-1-4 3-3 1zm-18 11l3-17-4-3-3 12zm-7-11l3 3-4-8-3 5z"/><path class="c74" d="M561 37l3 4-4-5-3 0zm-47 3l3-12-4 7-3-3z"/><path class="c75" d="M521 31l3 4-4 4-3-11z"/><path class="c76" d="M543 37l3-5-4 1-3 3z"/><path class="c80" d="M568 37l3-13-4-3-3 20z"/><path class="c81" d="M579 32l3-5-4-2-3 6z"/><path class="c82" d="M575 29l4 3-4-1-4-7z"/><path class="c83" d="M571 24l4 7-4 0-4-10z"/><path class="c71" d="M515 34l3 14-4-8-3-3z"/><path class="c72" d="M529 38l3 4-4-1-3 2zm3 4l4-5-4 3-4 1zm-10-4l3 5-4-12-3 17z"/><path class="c73" d="M525 43l3-2-4-6-3-4z"/><path class="c74" d="M565 41l3-4-4 4-3-4zm-18-1l3 5-4-13-3 5z"/><path class="c75" d="M554 37l4-10-4 17-4 1zm-14-2l3 2-4-1-3 1zm-36 0l3-6-4 3-3 9zm3-6l4 8-4 0-4-5z"/><path class="c76" d="M558 27l3 10-4-1-3 8z"/><path class="c77" d="M587 36l3 10-4-13-3 4zm-25 5l3 0-4-4-3-10z"/><path class="c80" d="M583 37l3-4-4-6-3 5z"/><path class="c81" d="M579 27l4 10-4-5-4-3z"/><path class="c82" d="M572 26l3 3-4-5-3 13z"/><path class="c73" d="M501 43l3-8-4 6-3-9z"/><path class="c74" d="M551 35l3 2-4 8-3-5zm-25 0l3 3-4 5-3-5zm-7-7l3 10-4 10-3-14z"/><path class="c75" d="M591 42l3 3-4 1-3-10zm-54-5l3-2-4 2-4 5z"/><path class="c76" d="M566 34l3 4-4 3-3 0zm-18 11l3-10-4 5-3-10zm-15-14l4 6-5 5-3-4zm-22 6l4-3-4 3-4-8z"/><path class="c77" d="M558 43l4-2-4-14-4 10zm-14-13l3 10-4-3-3-2zm-29 8l4-10-4 6-4 3zm-7-3l3 2-4-8-3 6z"/><path class="c78" d="M569 38l3-12-4 11-3 4zm-28-2l3-6-4 5-3 2z"/><path class="c80" d="M584 36l3 0-4 1-4-10z"/><path class="c82" d="M573 32l3-4-4-2-3 12z"/><path class="c85" d="M576 28l3-1-4 2-3-3z"/><path class="c71" d="M502 43l3-4-4 4-3 4z"/><path class="c73" d="M595 46l3 3-4-4-3-3zm-97 1l3-4-4-11-3 2z"/><path class="c74" d="M505 39l3-4-4 0-3 8z"/><path class="c75" d="M552 44l3-5-4-4-3 10zm-40-2l3-4-4-1-3-2zm-18-6l4 11-4-13-4-3z"/><path class="c76" d="M559 41l3-6-4 8-3-4zm-4-2l3 4-4-6-3-2zm-10 2l3 4-4-15-3 6z"/><path class="c77" d="M588 46l3-4-4-6-3 0zm-26-11l4-1-4 7-4 2z"/><path class="c78" d="M584 41l4 5-4-10-4-4zm-61-10l3 4-4 3-3-10z"/><path class="c79" d="M570 39l3-7-4 6-3-4z"/><path class="c80" d="M537 27l4 9-4 1-4-6zm-7-3l3 7-4 7-3-3z"/><path class="c81" d="M520 24l3 7-4-3-4 10z"/><path class="c82" d="M577 42l3-10-4-4-3 4z"/><path class="c83" d="M580 32l4 4-5-9-3 1zm-53-7l3-1-4 11-3-4z"/><path class="c70" d="M488 43l3 2-4-1-3 2z"/><path class="c71" d="M599 56l3-7-4 0-3-3zm-100-10l3-3-4 4-4-11z"/><path class="c73" d="M596 47l3 9-4-10-3-4zm-47-1l3-2-4 1-3-4zm-43-6l3 6-4-7-3 4zm3 6l3-4-4-7-3 4z"/><path class="c74" d="M491 45l3-9-4-5-3 13z"/><path class="c75" d="M592 42l3 4-4-4-3 4zm-79 0l3-15-4 15-3 4z"/><path class="c76" d="M588 45l4-3-4 4-4-5zm-32-5l3 1-4-2-3 5z"/><path class="c77" d="M546 38l3 8-4-5-4-10z"/><path class="c78" d="M581 45l3-4-4-9-3 10z"/><path class="c79" d="M563 37l4 0-5-2-3 6zm4 0l3 2-4-5-4 1z"/><path class="c80" d="M571 36l3-3-4 6-3-2zm3-3l3 9-4-10-3 7zm-33-2l4 10-4-5-4-9zm-25-4l4-3-5 14-3 4z"/><path class="c82" d="M538 35l3-4-4-4-3 6z"/><path class="c83" d="M531 37l3-4-4-9-3 1zm3-4l3-6-4 4-3-7zm-10 3l3-11-4 6-3-7z"/><path class="c66" d="M607 60l3 1-4-7-3 5zm-108-5l4-1-4-8-4 5z"/><path class="c68" d="M603 59l3-5-4-5-3 7z"/><path class="c69" d="M492 49l3 2-4-6-3-2z"/><path class="c70" d="M600 50l3 9-4-3-3-9zm-97 4l3-14-4 3-3 3z"/><path class="c71" d="M495 51l4-5-5-10-3 9z"/><path class="c74" d="M553 43l3-3-4 4-3 2z"/><path class="c75" d="M550 42l3 1-4 3-3-8zm-40-10l3 10-4 4-3-6z"/><path class="c76" d="M593 44l3 3-4-5-4 3zm-36-2l3 1-4-3-3 3zm-72-6l3 7-4 3-3-24z"/><path class="c77" d="M582 46l3-7-4 6-3-2zm3-7l3 6-4-4-3 4zm-25 4l3-6-4 4-3-1z"/><path class="c78" d="M578 43l3 2-4-3-3-9z"/><path class="c79" d="M535 41l3-6-4-2-3 4z"/><path class="c80" d="M542 41l4-3-5-7-3 4z"/><path class="c81" d="M575 36l3 7-4-10-3 3zm-8 1l4-1-4 1-4 0zm-39-2l3 2-4-12-3 11zm-11 0l3-4-4-4-3 15z"/><path class="c82" d="M524 30l4 5-4 1-4-5z"/><path class="c83" d="M520 31l4 5-4-12-4 3z"/><path class="c68" d="M611 57l3-2-4 6-3-1zm-7 0l3 3-4-1-3-9zm-108-12l3 10-4-4-3-2z"/><path class="c71" d="M503 50l4-20-4 24-4 1z"/><path class="c74" d="M554 54l3-12-4 1-3-1zm-65-15l3 10-4-6-3-7z"/><path class="c75" d="M597 46l3 4-4-3-3-3zm-11 7l3-5-4-9-3 7zm-100-9l3-5-4-3-3 8z"/><path class="c76" d="M593 48l4-2-4-2-4 4zm-32 5l3-17-4 7-3-1zm-54-23l3 2-4 8-3 14z"/><path class="c77" d="M589 48l4-4-5 1-3-6zm-43-2l4-4-4-4-4 3zm-14-1l3-4-4-4-3-2z"/><path class="c78" d="M579 45l3 1-4-3-3-7zm-68 2l3-4-4-11-3-2zm3-4l3-8-4 7-3-10z"/><path class="c79" d="M536 40l3-12-4 13-3 4zm-58-14l4 18-5-12-3 6zm4 18l3-8-4-14-4 10z"/><path class="c80" d="M568 46l3-7-4-2-3-1zm-4-10l3 1-4 0-3 6zm-25-8l3 13-4-6-3 6zm-10 10l3 7-4-10-4-5z"/><path class="c81" d="M571 39l4-3-4 0-4 1z"/><path class="c82" d="M521 35l3-5-4 1-3 4z"/><path class="c68" d="M500 53l3-3-4 5-3-10z"/><path class="c69" d="M608 55l3 2-4 3-3-3zm-111-4l3 2-4-8-3 8z"/><path class="c70" d="M615 57l3 0-4-2-3 2zm-61-2l4 1-4-2-4-6z"/><path class="c71" d="M605 55l3 0-4 2-3-1zm-47 1l3-3-4-11-3 12zm-65-3l3-8-4 4-3-10z"/><path class="c72" d="M601 56l3 1-4-7-3-4zm-111-5l3 2-4-14-3 5z"/><path class="c73" d="M550 48l4 6-4-12-4 4z"/><path class="c74" d="M590 49l3-1-4 0-3 5zm-10 1l3 2-4-7-3 7zm3 2l3 1-4-7-3-1zm-68-3l3-10-4 4-3 4zm-8 0l4-2-4-17-4 20z"/><path class="c75" d="M565 53l3-7-4-10-3 17zm-18-8l3 3-4-2-3 0z"/><path class="c76" d="M597 43l4 13-4-10-4 2z"/><path class="c77" d="M572 45l4 7-5-13-3 7zm-39-3l3-2-4 5-3-7zm-51-1l4 3-4 0-4-18z"/><path class="c78" d="M576 52l3-7-4-9-4 3zm-36-3l3-3-4-18-3 12zm3-3l3 0-4-5-3-13zm-71-10l3 7-4-11-3 7z"/><path class="c79" d="M518 39l3-4-4 0-3 8zm-43 4l3-17-4 12-3-6z"/><path class="c80" d="M522 39l3-2-4-2-3 4z"/><path class="c82" d="M525 37l4 1-5-8-3 5z"/><path class="c68" d="M559 55l3 9-4-8-4-1zm3 9l3-11-4 0-3 3z"/><path class="c70" d="M504 48l3 1-4 1-3 3z"/><path class="c71" d="M501 46l3 2-4 5-3-2zm-7-5l3 10-4 2-3-2z"/><path class="c72" d="M619 44l4 17-5-4-3 0zm-32 14l3-9-4 4-3-1zm-21-6l3-10-4 11-3 11z"/><path class="c73" d="M612 45l3 12-4 0-3-2zm-11 11l4-1-4 1-4-13zm-89-12l3 5-4-2-4 2zm-26 3l4 4-4-7-4-3z"/><path class="c74" d="M609 53l3-8-4 10-3 0zm-25-8l3 13-4-6-3-2zm-8 9l4-4-4 2-4-7zm-68-11l4 1-5 5-3-1z"/><path class="c75" d="M551 44l3 11-4-7-3-3zm-68-4l3 7-4-6-3 5zm-7 5l3 1-4-3-3-7zm-7 4l3-13-4 3-3 6z"/><path class="c76" d="M591 39l3 11-4-1-3 9zm3 11l3-7-4 5-3 1zm-25-8l3 3-4 1-3 7zm-25-3l3 6-4 1-3 3zm-25 10l3-10-4 0-3 10z"/><path class="c77" d="M537 40l3 9-4-9-3 2zm-58 6l3-5-4-15-3 17z"/><path class="c78" d="M616 47l3-3-4 13-3-12z"/><path class="c79" d="M526 48l3-14-4 3-3 2z"/><path class="c80" d="M533 44l4-4-4 2-4-8zm-4-10l4 8-4-4-4-1z"/><path class="c72" d="M563 40l3 12-4 12-3-9zm-98 4l4 5-4-4-4 2z"/><path class="c73" d="M606 52l3 1-4 2-4 1zm-29 3l3-6-4 5-3 2zm-61-6l3 0-4 0-3-5zm-18 0l3-3-4 5-3-10zm-8-1l4-7-4 10-4-4zm-28-1l3-3-4 3-3 0z"/><path class="c74" d="M570 57l3-1-4-14-3 10zm-15-12l4 10-5 0-3-11zm-86-5l4 7-4 2-4-5zm4 7l3-2-4-9-3 13z"/><path class="c75" d="M573 56l3-2-4-9-3-3zm-68-13l3 0-4 5-3-2zm-10-1l3 7-4-8-4 7zm-15 4l3-6-4 6-3-1z"/><path class="c76" d="M627 56l4 2-4-4-4-12zm-25-4l4 0-5 4-3-10zm-22-3l4-4-4 5-4 4zm-60-6l3-2-4 8-3 0zm3-2l3 7-4-9-3 10zm-36-2l3 9-4-1-3-7z"/><path class="c77" d="M623 42l4 12-4 7-4-17zm-10 13l3-8-4-2-3 8zm-15-9l3 10-4-13-3 7zm-86-5l4 8-4-5-4-1z"/><path class="c78" d="M595 55l3-9-4 4-3-11zm-54-11l3-5-4 10-3-9z"/><path class="c79" d="M588 41l3-2-4 19-3-13zm-58-2l3 5-4-10-3 14z"/><path class="c80" d="M545 47l3-10-4 2-3 5zm3-10l3 7-4 1-3-6zm-11-2l4 9-4-4-4 4z"/><path class="c81" d="M552 40l3 5-4-1-3-7z"/><path class="c82" d="M620 44l3-2-4 2-3 3z"/><path class="c72" d="M574 52l3 3-4 1-3 1zm-115 1l3-6-4 0-3-1z"/><path class="c73" d="M631 54l4 8-4-4-4-2zm-129 0l3-11-4 3-3 3z"/><path class="c74" d="M477 43l3 3-4-1-3 2z"/><path class="c75" d="M610 52l3 3-4-2-3-1zm-111-11l3 13-4-5-3-7zm-15 14l3-16-4 1-3 6zm-18-10l3-5-4 4-3 3z"/><path class="c76" d="M606 52l4 0-4 0-4 0zm-7 1l3-1-4-6-3 9zm-18 3l3-13-4 6-3 6zm-14-8l3 9-4-5-3-12zm-51 6l4-11-4 6-4-8zm-10-8l3-2-4-1-3 11zm-25-10l3 19-4-9-3-3zm-7 11l3-4-4 4-4-7z"/><path class="c77" d="M524 56l3-14-4-1-3 2z"/><path class="c78" d="M614 49l3-2-4 8-3-3zm-105-5l3-3-4 2-3 0zm-18-4l4 2-5 6-3-9z"/><path class="c79" d="M624 51l3 5-4-14-3 2zm-7-4l3-3-4 3-3 8zm-25 6l3 2-4-16-3 2zm-33-14l4 1-4 15-4-10zm-32 3l3-3-4 9-3-7z"/><path class="c80" d="M589 46l3 7-4-12-4 2zm-5-3l4-2-4 4-4 4z"/><path class="c81" d="M556 48l3-9-4 6-3-5zm-7-7l3-1-4-3-3 10zm-7 0l3 6-4-3-4-9z"/><path class="c82" d="M563 42l4 6-4-8-4-1zm-29-5l3-2-4 9-3-5z"/><path class="c83" d="M531 37l3 0-4 2-3 3z"/><path class="c70" d="M456 52l3 1-4-7-3 5z"/><path class="c72" d="M460 45l3 6-4 2-3-1zm3 6l3-6-4 2-3 6z"/><path class="c73" d="M452 51l4 1-4-1-4-12z"/><path class="c74" d="M600 61l3-6-4-2-3 6zm-4-2l3-6-4 2-3-2zm-18-4l3 1-4-1-3-3zm-111-6l3-5-4 1-3 6z"/><path class="c75" d="M636 58l3-2-4 6-4-8zm-43-2l3 3-4-6-3-7zm-83-4l3 3-4-11-3 2zm3 3l3-1-4-13-3 3zm-25-3l3-12-4-1-3 16z"/><path class="c76" d="M628 57l3-3-4 2-3-5zm-25-2l3-3-4 0-3 1zm-28 5l3-5-4-3-3-12zm-90-21l3 13-4 3-3-19zm-15 5l4 3-5-7-3 5z"/><path class="c77" d="M625 53l3 4-4-6-3 2zm-40 5l4-12-5-3-3 13zm-14-18l3 12-4 5-3-9zm-54 4l3-11-4 21-3 1zm3-11l4 23-4-13-4 11zm-17 7l3 6-4 8-3-13z"/><path class="c78" d="M618 57l3-4-4-6-3 2zm-126-15l3-1-4-1-3 12zm-14 2l3-8-4 7-3 4z"/><path class="c79" d="M610 48l4 1-4 3-4 0z"/><path class="c80" d="M621 53l3-2-4-7-3 3zm-93-14l3-2-4 5-3 14zm-33 2l4 0-4 1-4-2z"/><path class="c81" d="M546 41l3 0-4 6-3-6z"/><path class="c82" d="M567 46l4-6-4 8-4-6zm-14-5l3 7-4-8-3 1z"/><path class="c83" d="M560 36l3 6-4-3-3 9z"/><path class="c84" d="M542 39l4 2-4 0-4-4zm-4-2l4 4-5-6-3 2z"/><path class="c86" d="M535 34l3 3-4 0-3 0z"/><path class="c72" d="M457 54l3-9-4 7-4-1z"/><path class="c73" d="M597 56l3 5-4-2-3-3zm-83 5l3-17-4 11-3-3z"/><path class="c74" d="M582 54l3 4-4-2-3-1z"/><path class="c75" d="M636 58l4 8-4-8-4-6zm4 8l3-15-4 5-3 2zm-54-9l3-6-4 7-3-4zm-7-6l3 3-4 1-3 5zm-108 0l3-2-4-5-3 5zm-7-4l3 2-4 2-3-6zm-15 3l3 1-4-12-3 6z"/><path class="c76" d="M629 63l3-11-4 5-3-4zm-40-12l4 5-4-10-4 12zm-115-2l4-5-4 3-4-3zm-28-12l3 13-4-5-3 1z"/><path class="c77" d="M632 52l4 6-5-4-3 3zm-128-1l3-9-4-2-4 15zm-8-4l3 8-4-14-3 1zm-7 2l3-7-4 10-3-13zm-11-1l4-5-4 1-4 5z"/><path class="c78" d="M611 62l3-4-4-10-3-6zm3-4l4-1-4-8-4-1zm-10-5l3-11-4 13-3 6zm-32 2l3 5-4-20-4 6zm-65-13l3 10-4-6-3-6zm-8 13l4-15-4 1-4 0z"/><path class="c79" d="M525 50l3-11-4 17-4-23z"/><path class="c80" d="M622 42l3 11-4 0-3 4zm-15 0l3 6-4 4-3 3zm-78 6l3-8-4-1-3 11z"/><path class="c81" d="M561 54l3-2-4-16-3 5zm-40-9l4 5-5-17-3 11zm-39-2l3-4-4-3-3 8z"/><path class="c82" d="M564 52l3-6-4-4-3-6z"/><path class="c83" d="M557 41l3-5-4 12-3-7zm-7 0l3 0-4 0-3 0z"/><path class="c84" d="M554 41l3 0-4 0-3 0z"/><path class="c85" d="M546 36l4 5-4 0-4-2zm-7 7l3-4-4-2-3-3zm-7-3l3-6-4 3-3 2z"/><path class="c70" d="M515 58l3-2-4 5-3-3z"/><path class="c72" d="M453 52l4 2-5-3-3-1z"/><path class="c73" d="M511 58l3 3-4-9-3-10zm-21-5l3 2-4-6-3 6zm-25 1l3 1-4-8-3 3zm-8-6l4 2-4 4-4-2z"/><path class="c74" d="M640 62l4-5-4 9-4-8zm-172-7l3-4-4-2-3-2zm-7-5l3-3-4-2-3 9z"/><path class="c75" d="M633 67l3-9-4-6-3 11zm-18-7l4-6-5 4-3 4zm-32 1l3-4-4-3-3-3zm-65-5l3-11-4-1-3 17zm-18-6l4 1-5 4-3-8zm-18 1l4 4-4-12-4 5z"/><path class="c76" d="M644 57l3-1-4-5-3 15zm-43-3l3-1-4 8-3-5zm-25-4l3 1-4 9-3-5zm-51 9l4-11-4 2-4-5zm-17-8l3 7-4-16-3 9zm-15 4l3-8-4-5-3 7zm-18-13l3 6-4 1-3 2zm-25 5l3 5-4-2-3-13z"/><path class="c77" d="M648 62l3-5-4-1-3 1zm-55-12l4 6-4 0-4-5zm-21 7l4-7-4 5-4-4zm-86-2l3-6-4-10-3 4z"/><path class="c78" d="M590 52l3-2-4 1-3 6zm-25-2l3 1-4 1-3 2zm3 1l4 4-5-9-3 6zm-125-7l3-7-4 9-3-2z"/><path class="c79" d="M619 54l3-12-4 15-4 1zm-21-2l3 2-4 2-4-6z"/><path class="c80" d="M623 61l3-10-4-9-3 12zm3-10l3 12-4-10-3-11zm-18-6l3 17-4-20-3 11z"/><path class="c81" d="M540 51l3-9-4 1-3 5zm-7-6l3 3-4-8-3 8z"/><path class="c82" d="M558 46l3 8-4-13-3 0z"/><path class="c83" d="M536 48l3-5-4-9-3 6z"/><path class="c85" d="M551 44l3-3-4 0-4-5zm-8-2l3-6-4 3-3 4z"/><path class="c70" d="M519 68l3-8-4-4-3 2z"/><path class="c73" d="M634 65l3-8-4 10-3 1zm-7 5l3-2-4-17-3 10zm3-2l3-1-4-4-3-12zm-108-8l3-1-4-14-3 11zm-10-8l3 6-4 0-3-7zm-43 3l3-6-4 6-3-1z"/><path class="c74" d="M644 69l4-7-4-5-4 5zm-60-5l3-7-4 4-3-4zm-58-8l3-10-4 13-3 1zm-32-2l3-1-4 2-3-2zm-7-2l3 1-4 2-4-4zm-26 0l4 2-4-4-4-2z"/><path class="c75" d="M637 57l3 5-4-4-3 9zm-140-4l3-3-4-3-3 8zm-43-5l3 0-4 4-3-5z"/><path class="c76" d="M652 61l3 0-4-4-3 5zm-50 2l3 0-4-9-3-2zm-15-6l3-5-4 5-3 4zm-11 5l4-5-4-7-4 7zm-75-7l3-6-4 1-3 3zm3-6l4 2-4 0-4-1zm-32 0l3-7-4 9-3 4z"/><path class="c77" d="M619 55l4 6-4-7-4 6zm-39 2l3 4-4-10-3-1zm-101-5l3-1-4-3-3-6z"/><path class="c78" d="M612 52l3 8-4 2-3-17zm-7 11l3-18-4 8-3 1zm-11 2l4-13-5-2-3 2zm-25-11l3 3-4-6-3-1zm-40-8l4-1-4 3-4 11zm-53-1l3 7-4-10-3 7z"/><path class="c79" d="M544 55l3-4-4-9-3 9zm-7 0l3-4-4-3-3-3zm-97-14l3 3-4 0-4-5z"/><path class="c80" d="M562 47l3 3-4 4-3-8z"/><path class="c81" d="M609 49l3 3-4-7-3 18zm-162-17l3 15-4-10-3 7z"/><path class="c82" d="M444 39l3-7-4 12-3-3z"/><path class="c83" d="M547 51l4-7-5-8-3 6zm-111-11l4 1-5-2-3-8z"/><path class="c84" d="M559 42l3 5-4-1-3-5zm-8-2l4 1-4 3-4 7zm4 1l3 5-4-5-3 3z"/><path class="c69" d="M631 77l3-12-4 3-3 2z"/><path class="c71" d="M581 73l3-9-4-7-4 5zm-58-16l3-1-4 4-3 8z"/><path class="c72" d="M516 53l3 15-4-10-3-6zm-51 6l4-4-4-1-4-2z"/><path class="c73" d="M645 65l4-4-5 8-3-1zm-7 8l3-5-4-11-3 8z"/><path class="c74" d="M656 69l3 1-4-9-3 0zm-15-1l3 1-4-7-3-5zm-18-2l4 4-4-9-4-6zm-28-1l3-7-4 7-3-8zm-108-10l4-1-4-2-4 4z"/><path class="c75" d="M649 61l3 0-4 1-4 7zm-43 3l3-15-4 14-3 0zm-8-6l4 5-4-11-4 13zm-10 0l3-1-4 0-3 7zm-15-1l3 5-4-5-3-3zm-61 2l4-6-4-1-4 0zm-21-5l3 0-4-1-3-1zm-11 4l3-2-4-4-3-7zm3-2l4-4-5-1-3 1zm-10 1l3-12-4 4-3 6zm-15-4l3-1-4-4-3 0z"/><path class="c76" d="M620 66l3 0-4-11-3 3zm-29-9l3 8-4-13-3 5zm-21 6l3-6-4-3-3-1zm-72-16l3 8-4-2-3 1z"/><path class="c77" d="M653 55l3 14-4-8-3 0zm-115 2l3-7-4 5-3-1zm3-7l3 5-4-4-3 4zm-11 8l4-4-5-8-3 10zm-25-11l3 5-4-3-3 6zm3 5l4 0-4-1-4-2zm-53-1l3 2-4-5-3-6z"/><path class="c78" d="M616 58l3-3-4 5-3-8z"/><path class="c79" d="M613 64l3-6-4-6-3-3zm-79-10l3 1-4-10-4 1z"/><path class="c80" d="M566 53l3 1-4-4-3-3zm-18 4l3-17-4 11-3 4zm-97-15l3 6-4-1-3-15z"/><path class="c81" d="M563 58l3-5-4-6-3-5zm-133-11l3-3-4-6-3-2z"/><path class="c82" d="M448 53l3-11-4-10-3 7zm-8-10l4-4-4 2-4-1z"/><path class="c83" d="M433 44l3-4-4-9-3 7z"/><path class="c86" d="M555 49l4-7-4-1-4-1z"/><path class="c68" d="M581 77l4-8-4 4-4-10z"/><path class="c69" d="M466 56l4 1-5 2-3 10z"/><path class="c70" d="M642 74l3-9-4 3-3 5zm-7-8l3 7-4-8-3 12zm-173 3l3-10-4-7-3 1z"/><path class="c71" d="M628 61l3 16-4-7-4-4zm-43 8l3-11-4 6-3 9zm-111-12l3 5-4-5-3 0zm-4 0l3 0-4-2-4 4z"/><path class="c72" d="M577 63l4 10-5-11-3-5z"/><path class="c73" d="M632 61l3 5-4 11-3-16zm-33 4l3 5-4-12-3 7zm3 5l4-6-4-1-4-5zm-28 0l3-7-4-6-3 6zm-54-17l3 4-4 11-3-15zm-36 6l3-4-4 1-3 2zm-7 3l3-4-4-13-3 12zm-18-13l3 20-4-16-3-2z"/><path class="c74" d="M567 66l3-3-4-10-3 5zm-40-7l3-1-4-2-3 1z"/><path class="c75" d="M660 62l3-5-4 13-3-1zm-36 0l4-1-5 5-3 0zm-7 1l3 3-4-8-3 6zm-25 2l3 0-4-8-3 1zm-50-4l3 0-4-11-3 7zm-8 0l4-4-4-3-4 4zm-10-3l3 1-4-2-3-4zm-7 0l3-5-4 0-4 6z"/><path class="c76" d="M606 53l4 4-4 7-4 6zm-61 8l3-4-4-2-3-5zm-36-2l3 0-4-7-3-5zm-18 0l4-12-4 7-4 1zm-39-6l3-2-4-9-3 11z"/><path class="c77" d="M649 70l4-15-4 6-4 4zm-39-13l3 7-4-15-3 15zm-111 4l3-3-4-11-3 0zm3-3l3-11-4 8-3-8z"/><path class="c78" d="M664 63l3 5-4-11-3 5zm-115-10l3-5-4 9-3 4zm-54-6l3 0-4 7-3 0z"/><path class="c79" d="M444 45l4 8-4-14-4 4z"/><path class="c80" d="M657 52l3 10-4 7-3-14zm-98 5l4 1-4-16-4 7z"/><path class="c81" d="M441 45l3 0-4-2-3-3zm-7-2l3-3-4 4-3 3zm3-3l3 3-4-3-3 4zm-10 5l3 2-4-11-3 6z"/><path class="c82" d="M552 48l3 1-4-9-3 17z"/><path class="c65" d="M585 77l4 2-4-10-4 8z"/><path class="c69" d="M578 69l3 8-4-14-3 7z"/><path class="c70" d="M639 71l3 3-4-1-3-7zm-50 8l3-14-4-7-3 11z"/><path class="c71" d="M571 66l3 4-4-7-3 3zm-90-7l3 0-4-1-3 4z"/><path class="c72" d="M643 65l3 5-4 4-3-3zm3 5l3 0-4-5-3 9zm-53-8l3 1-4 2-3 14zm-80 4l4-8-5 1-3 0zm-28-3l3-3-4-1-3 0zm-7-3l3-1-4 3-3-5zm-15-4l3 0-4 13-3-20z"/><path class="c73" d="M636 73l3-2-4-5-3-5zm-40-10l3 2-4 0-3 0zm-28-2l3 5-4 0-3-3zm-8 8l4-6-5-6-3 7zm-25-13l3 7-4-2-3 3zm3 7l4-2-4-4-4 4zm-7 1l3-3-4-3-3 1zm-28-7l3 4-4-3-3 3zm-15 3l3-1-4-4-3 4z"/><path class="c74" d="M621 70l3-8-4 4-3-3zm-18-1l3-16-4 17-3-5zm-39-6l3 3-4-8-4-1zm-54-11l3 14-4-7-3 2zm-40-1l4 6-4 0-4-1z"/><path class="c75" d="M618 63l3 7-4-7-3 0zm-90-11l3 12-4-5-3-1zm-22 9l3-2-4-12-3 11zm-11-2l4 2-4-14-4 12z"/><path class="c76" d="M628 71l4-10-4 0-4 1zm-14-8l3 0-4 1-3-7zm-93-5l3 0-4-5-3 5zm-65-5l3-4-4 2-3 2z"/><path class="c77" d="M553 65l3-1-4-16-3 5zm-105-19l4 7-4 0-4-8z"/><path class="c78" d="M611 63l3 0-4-6-4-4zm-65-15l3 5-4 8-3 0z"/><path class="c79" d="M661 68l3-5-4-1-3-10zm-8 0l4-16-4 3-4 15zm-97-4l3-7-4-8-3-1zm-103-20l3 9-4 0-4-7zm-26 12l4-16-4 5-4 0zm-7-1l3-10-4-4-3 6z"/><path class="c80" d="M668 54l3 6-4 8-3-5z"/><path class="c81" d="M445 41l3 5-4-1-3 0zm-14-1l3 3-4 4-3-2zm-8 5l4 0-4-3-4-1z"/><path class="c83" d="M438 39l3 6-4-5-3 3z"/><path class="c66" d="M582 78l3-1-4 0-3-8z"/><path class="c67" d="M579 77l3 1-4-9-3 5z"/><path class="c68" d="M589 72l4-10-4 17-4-2z"/><path class="c69" d="M575 74l3-5-4 1-3-4z"/><path class="c71" d="M640 76l3-11-4 6-3 2zm-68-2l3 0-4-8-3-5z"/><path class="c72" d="M625 72l3-1-4-9-3 8zm-25-1l3-2-4-4-3-2zm-43-9l3 7-4-5-3 1z"/><path class="c73" d="M604 67l3-2-4 4-3 2zm-7 4l3 0-4-8-3-1zm-80-8l4-5-4 0-4 8zm-35-10l3 10-4-4-3 1z"/><path class="c74" d="M622 65l3 7-4-2-3-7zm-58-5l4 1-4 2-4 6zm-64-2l3-1-4 4-4-2z"/><path class="c75" d="M647 74l3-12-4 8-3-5zm3-12l3 6-4 2-3 0zm-21 3l3-4-4 10-3 1zm3-4l4 12-4-12-4 10zm-118-6l3 8-4 3-3-14zm-7 8l3-11-4 9-3-4zm-11 5l4-10-5 1-3-11zm-7-10l3-10-4 12-3 3zm3-10l3 11-4 0-3 1zm-68 6l3 2-4-11-3 10z"/><path class="c76" d="M662 62l3 8-4-2-3 3zm-8 7l4 2-5-3-3-6zm-47-4l4-2-5-10-3 16zm-133-12l4 7-4-3-4-6zm-7-2l3 0-4 5-3 0zm-50 3l3 1-4-8-3 0z"/><path class="c77" d="M658 71l3-3-4-16-4 16zm-119-16l3 4-4 4-3-7zm3 4l4-11-4 13-4 2zm-10-2l3-1-4 8-3-12zm-72-6l3 5-4-7-3 4z"/><path class="c78" d="M665 70l3-16-4 9-3 5zm-50-17l3 10-4 0-3 0zm-94-1l4 0-4 6-4 5zm4 0l3 0-4 6-3 0zm-93 2l3-3-4-11-4 16z"/><path class="c79" d="M464 47l3 4-4 5-3-5z"/><path class="c80" d="M550 50l3 15-4-12-3-5zm-79-4l3 7-4-2-3 0zm-14 0l3 5-4 2-3-9zm-43 0l3 8-4-7-3-9z"/><path class="c81" d="M672 62l3 3-4-5-3-6zm-125-4l3-8-4-2-4 11z"/><path class="c82" d="M449 49l4-5-5 2-3-5zm-10-9l3 10-4-11-3 12zm3 10l3-9-4 4-3-6zm-7 1l3-12-4 4-3-3z"/><path class="c66" d="M583 77l3-3-4 4-3-1z"/><path class="c67" d="M586 74l3-2-4 5-3 1z"/><path class="c68" d="M576 67l3 10-4-3-3 0z"/><path class="c70" d="M590 68l4 5-5-1-3 2z"/><path class="c71" d="M594 73l3-2-4-9-4 10z"/><path class="c73" d="M641 72l3-6-4 10-4-6zm3-6l3 8-4-9-3 11zm-8 4l4 6-4-3-4-12zm-35-8l3 5-4 4-3 0zm-101 0l4-3-4-1-4 10z"/><path class="c74" d="M568 65l4 9-4-13-4-1zm-143-5l3 0-4-6-3 0zm3 0l4-6-5 2-3-2z"/><path class="c75" d="M626 65l3 0-4 7-3-7zm-93 0l3 1-4-9-3 2zm-29-6l3 4-4-6-3 1zm-18-2l3 1-4 5-3-10zm-8 5l4-9-4 7-4-7zm-57-8l3 0-4 1-3-1z"/><path class="c76" d="M651 67l3 2-4-7-3 12zm-43 2l3-12-4 8-3 2zm-47-14l3 5-4 9-3-7zm-68 0l3 13-4-20-3 10z"/><path class="c77" d="M676 69l3 4-4-8-3-3zm-18-1l4-6-4 9-4-2zm-93-3l3 0-4-5-3-5zm-11-5l3 2-4 3-3-15zm-18 6l3-11-4 1-3 1zm-53-13l3 4-4-4-4 9z"/><path class="c78" d="M673 74l3-5-4-7-3 2zm-40-16l3 12-4-9-3 4zm-90 4l4-4-5 1-3-4zm-25-7l3-3-4 11-3-8zm-10-6l3 4-4 10-3-4zm3 4l3 2-4-3-3 11zm-36 3l3 6-4-9-3-7zm-25-3l3-3-4-1-3 7zm-32-6l3 7-4 0-3-8z"/><path class="c79" d="M666 65l3-1-4 6-3-8zm-47-3l3 3-4-2-3-10zm-8-5l4-4-4 10-4 2zm-53-1l3-1-4 7-3-2zm-33 3l4 0-4-7-4 0zm4 0l3-2-4-5-3 0zm-86-2l3-1-4-6-3-10zm3-1l3-7-4-8-3 9z"/><path class="c80" d="M669 64l3-2-4-8-3 16zm-118-8l3 4-4-10-3 8zm-115-6l3-10-4 11-3 3z"/><path class="c81" d="M461 51l3-4-4 4-3-5zm-51-7l4 2-4-8-4 17z"/><path class="c82" d="M615 61l4 1-4-9-4 4zm-162-11l4-4-4-2-4 5z"/><path class="c83" d="M468 41l3 5-4 5-3-4z"/><path class="c70" d="M587 74l3-6-4 6-3 3zm-7-4l3 7-4 0-3-10z"/><path class="c72" d="M680 72l3 15-4-14-3-4z"/><path class="c73" d="M684 68l4 10-5 9-3-15zm-112-4l4 3-4 7-4-9z"/><path class="c74" d="M594 72l4-10-4 11-4-5zm4-10l3 0-4 9-3 2z"/><path class="c75" d="M677 75l3-3-4-3-3 5zm-29-7l3-1-4 7-3-8zm-11 10l4-6-5-2-3-12zm-32-8l3-1-4-2-3-5zm-28-4l3 4-4-3-4-3zm-8 1l3-3-4 1-3 0zm-32-7l3 3-4 3-3-1zm-43 3l3-7-4-1-3 12zm3-7l3 6-4 6-3-13zm-7 11l3-12-4 3-3-1z"/><path class="c76" d="M602 73l3-3-4-8-3 0zm-62-10l3-1-4-7-3 11zm-10-2l3 4-4-6-4 0zm-43-5l3 11-4-10-3-4zm-58-2l3-7-4 13-3 0z"/><path class="c77" d="M670 70l3 4-4-10-3 1zm-18-2l3 1-4-2-3 1zm3 1l3-1-4 1-3-2zm-10-4l3 3-4-2-3 6zm-198-14l3 2-4 3-3 1zm-15-4l4 3-4 4-4 6z"/><path class="c78" d="M627 62l3 8-4-5-3 0zm3 8l3-12-4 7-3 0zm-7-5l3 0-4 0-3-3zm-61 2l3-2-4-10-3 1zm-7 1l3-12-4 4-3-4zm-11-14l3 8-4 0-3 1zm3 8l4-6-4 2-4 4zm-28 0l3-3-4-4-3 4zm-15-5l4-8-4 10-4 3zm-25-4l4 0-5 9-3-6zm-57-10l3 17-4-6-3-7z"/><path class="c79" d="M659 63l3 3-4 2-3 1zm3 3l4-1-4-3-4 6zm-140-7l3 0-4-7-3 3zm-7 0l3-4-4 0-3-2zm-61-2l3-8-4 1-3 3zm-18-3l4 3-4-7-4-3zm4 3l3 0-4-17-3 10z"/><path class="c80" d="M619 58l4 7-4-3-4-1zm-7 1l3 2-4-4-3 12zm-150-8l3 2-4-2-4-2z"/><path class="c81" d="M512 55l3 4-4-6-3-4zm-55-6l4 2-4-5-4 4zm-46 2l4-3-5-4-3 4zm4-3l3-1-4-1-4-2zm-11 3l3-3-4-11-3 15zm3-3l3-4-4 11-3-18z"/><path class="c82" d="M472 56l3 0-4-10-3-5zm-7-3l3-12-4 6-3 4z"/><path class="c71" d="M688 83l4 7-4-12-4-10zm-104-16l3 7-4 3-3-7z"/><path class="c74" d="M598 70l4 3-4-11-4 10zm-7-6l3 8-4-4-3 6zm-151 0l4-1-4-6-4-3zm-42-6l3-1-4-5-4 9z"/><path class="c75" d="M681 78l3-10-4 4-3 3zm-43-6l3-10-4 16-3-3zm-7 4l3-1-4-5-3-8zm3-1l3 3-4-20-3 12zm-28-7l3 0-4 2-3 3zm-18 1l3-5-4 10-3-7zm-7-3l3 1-4 3-3-4zm-15-1l3 2-4-2-3 2zm-10-4l3 9-4-2-4-4zm3 9l3-3-4-11-3 12zm-54-5l4-1-5-7-3 6zm-7 4l3-6-4-7-3 7zm-7-8l3 2-4 4-3-11z"/><path class="c76" d="M674 65l3 10-4-1-3-4zm-33-3l4 3-4 7-4 6zm-32 6l3-9-4 10-3 1zm-36-2l4 0-5-2-3 3zm-22-2l4 4-4-12-4 6zm-17-1l3-3-4 5-3-4zm-33 0l3-6-4 5-3-6zm-53-3l3-2-4-7-3 12zm-4 3l3-12-4 6-3 0zm-21 0l3-3-4-17-3 14z"/><path class="c77" d="M649 73l3-5-4 0-3-3zm-101-4l3-5-4-2-3-8zm-7-1l3-14-4 9-3-3zm-18-6l3 0-4-3-3 3zm3 0l4-1-5-2-3 0zm-100-2l3-6-4 6-3-17zm-25-3l3-6-4 1-3 0z"/><path class="c78" d="M666 74l4-4-4-5-4 1zm-10-2l3-9-4 6-3-1zm-126-19l4 10-4-2-4 1zm-14 8l3 1-4-3-3-4zm-36-2l3-2-4-4-3 5zm-4-1l3-5-4 3-3 0zm-25 0l3-1-4-4-3-2zm-18 4l3-8-4-7-3 7z"/><path class="c79" d="M671 66l3-1-4 5-4 4zm-162-2l3-9-4-6-4 8zm-26-7l4-1-4-3-4 0zm-68-8l4 8-4-9-4 3z"/><path class="c80" d="M663 64l3 10-4-8-3-3zm-50 6l3-13-4 2-3 9zm-155-19l4 0-5-2-3 8zm-39 6l3-14-4 4-3 1zm-11-11l3 5-4-3-3 3z"/><path class="c81" d="M473 49l3 9-4-2-3-8zm-7 4l3-5-4 5-3-2z"/><path class="c82" d="M624 57l3 5-4 3-4-7zm-155-9l3 8-4-15-3 12z"/><path class="c83" d="M616 57l3 1-4 3-3-2z"/><path class="c69" d="M692 75l4 13-4 2-4-7z"/><path class="c71" d="M542 77l3-8-4-1-3 5z"/><path class="c72" d="M602 82l4-14-4 5-4-3zm-107-10l3-3-4-6-3-2z"/><path class="c73" d="M685 81l3 2-4-15-3 10zm-183-16l3 0-4-2-3 6zm-108-9l4 2-5 3-3 2z"/><path class="c74" d="M682 71l3 10-4-3-3-2zm-122 4l3-4-4-1-3-9zm3-4l3-6-4 2-3 3zm-25 2l3-5-4-8-3 3zm-46-8l3 7-4-11-4-2zm-47-8l3 3-4 3-4 1zm-11 4l3 1-4 0-3 0zm3 1l3 2-4-10-3 8zm-10-5l3 5-4-2-3 3zm3 5l3 0-4-8-3 6zm-28-4l3 0-4-1-3 1z"/><path class="c75" d="M642 79l3-3-4-14-3 10zm-7-12l3 5-4 3-3 1zm-36-6l3 21-4-12-3-5zm-14 14l3-6-4-2-3-1zm-8 0l4-9-4 0-4 0zm-125-13l3 1-4-5-3 2z"/><path class="c76" d="M678 76l3 2-4-3-3-10zm-29-9l4 5-4 1-4 3zm4 5l3 0-4-4-3 5zm-29 12l4-12-4-15-4 13zm-14-15l3 1-4-2-3 0zm-15-4l3 5-4 2-3-8zm-21 5l3 5-4-9-3-5zm-7 0l3-9-4 4-3 6zm-15-4l4-5-5 3-3 5zm-7 3l3 0-4-15-3 14zm-11-1l4 5-4-10-4-10zm-25-9l4 3-4 2-4 1zm-50 7l3-6-4-9-3 12zm-40-7l4 4-4-6-4-8z"/><path class="c77" d="M645 76l4-3-4-8-4-3zm-75-15l3 5-4 1-3-2zm-50 0l3 1-4 0-3-1zm-7 1l3-1-4-6-3 9zm-58 1l3-12-4 6-3 1zm-46-3l3-1-4-13-3 12z"/><path class="c78" d="M675 75l3 1-4-11-3 1zm-47-3l3 4-4-14-3-5zm-11-2l3 0-4-13-3 13zm-25-4l3-1-4-1-3 5zm-65-1l3-12-4 9-3 0zm-40-6l4 2-4-5-4 1zm-82-1l3-12-4 5-3 6z"/><path class="c79" d="M667 70l4-4-5 8-3-10zm-150-16l3 7-4 0-3 1zm-33 3l3 2-4-2-3 2zm-7 3l3-1-4-1-3-9z"/><path class="c80" d="M462 60l4-7-4-2-4 0zm-50-1l3-10-4 2-3-5z"/><path class="c81" d="M660 66l3-2-4-1-3 9z"/><path class="c82" d="M620 70l4-13-5 1-3-1z"/><path class="c83" d="M470 51l3-2-4-1-3 5z"/><path class="c69" d="M696 83l4 10-4-5-4-13z"/><path class="c71" d="M628 83l4-6-4-5-4 12zm-42-6l3 6-4-8-4-5zm-47-4l3 4-4-4-4-5z"/><path class="c72" d="M689 82l3-7-4 8-3-2zm-125-4l3-8-4 1-3 4zm-18-2l3-9-4 2-3 8zm-50-4l3-8-4 8-3-7zm3-8l3 1-4 4-3 3z"/><path class="c73" d="M693 80l3 3-4-8-3 7zm-104 3l3-17-4 3-3 6zm-61-11l3 1-4-8-3 7zm-72-6l3 0-4-3-3-1zm-15 1l4-10-5 7-3-2z"/><path class="c74" d="M646 78l3-11-4 9-3 3zm-25-8l3 14-4-14-3 0zm-43 2l3-2-4 5-3-5zm3-2l4 5-4-9-4 9zm-25 3l4 2-4-14-4 5zm-78-7l3 2-4-8-3 8zm-33-4l4 5-4-10-4 10zm-7-2l3 7-4-5-3-1zm-7 4l3-3-4 1-3-5zm-43-8l3 0-4 2-3 8zm3 0l3 0-4 7-3-5z"/><path class="c75" d="M632 77l3-10-4 9-3-4zm-18 1l3-8-4 0-3-1zm-61-8l3 3-4-7-3 1zm-4-3l3-1-4 3-3 0zm-79 4l4-3-4-17-4 12zm-21-4l3-5-4-2-3-3zm-43-9l3 2-4-2-3 0zm-11 7l3-8-4-1-3 0zm3-8l4 1-4 0-4-2z"/><path class="c76" d="M686 72l3 10-4-1-3-10zm-7 4l3-5-4 5-3-1zm-11 0l3 3-4-9-3 8zm-29-4l3 7-4-7-3-5zm-32-11l3 8-4-1-4 14zm-76 12l3-5-4-15-3 12zm-7-1l3-7-4-3-3-1zm-21-5l3-10-4 8-3-1zm-15 2l4-4-5-6-3-2zm-25-15l3 9-4-3-3 6zm-40 0l4 3-4 6-4-4z"/><path class="c77" d="M671 79l4-4-4-9-4 4zm-60-5l3 4-4-9-3-8zm-40-5l3 1-4-9-3 9zm-65-12l3 2-4 6-3 0zm-25 11l3-11-4 2-3 1zm-65-12l3 3-4-10-3 10z"/><path class="c78" d="M661 80l3-2-4-12-3-3zm-25-15l3 7-4-5-3 10zm-33 2l4-6-5 21-3-21zm-82-7l3 12-4-11-3-7zm-8 12l4-18-4 8-4-3zm-93-17l3-1-4 5-3-3zm-7-10l3 11-4 3-3 1z"/><path class="c79" d="M664 78l3-8-4-6-3 2zm-68-7l3-10-4 4-3 1zm-122-3l3-8-4-11-3 2zm-8-5l4-12-4 2-4 7z"/><path class="c80" d="M657 63l3 3-4 6-3 0z"/><path class="c81" d="M654 67l3-4-4 9-4-5z"/><path class="c69" d="M701 83l3 2-4 8-4-10zm-86 5l3-2-4-8-3-4zm-25-7l3-3-4 5-3-6zm-33 3l3-2-4-9-3-3zm3-2l4-4-4-3-4-2z"/><path class="c70" d="M622 84l3 2-4-16-3 16zm3 2l3-3-4 1-3-14zm-61-8l4-6-4 6-4 4zm-21-4l3 2-4 1-3-4zm-11 4l3-2-4-3-3-1z"/><path class="c71" d="M492 77l4-5-4-7-4 4zm-17-4l3-7-4 2-4 3zm-90-9l3-8-4 10-3 2z"/><path class="c72" d="M705 86l3-2-4 1-3-2zm-8 2l4-5-5 0-3-3zm-158-18l4 4-4-1-4 3zm-4 6l4-3-5-5-3 5zm-86-5l4-5-4 1-4-5z"/><path class="c73" d="M665 83l3-7-4 2-3 2zm-47 3l3-16-4 0-3 8zm-25-8l3-7-4-5-3 17zm-11-2l4 1-5-7-3 2zm-14-4l3-3-4 1-3 8zm-18 3l3-5-4-3-3 9zm-25-1l3-2-4 0-3-12zm-72-8l3 0-4-4-3 5z"/><path class="c74" d="M675 81l4-5-4-1-4 4zm-78-3l3-7-4 0-3 7zm-25-7l3 6-4-8-3 3zm3 6l3-5-4-2-3-1zm-75-10l3 0-4-3-3 8zm-11-7l3 17-4-8-3-6zm-7 8l3-5-4 5-3-2zm-25-2l3-2-4 2-3 0zm-65-1l3 0-4-9-3 0z"/><path class="c75" d="M690 81l3-1-4 2-3-10zm-10 1l3-7-4 1-4 5zm-8-7l3 6-4-2-3-3zm-29-4l3 7-4 1-3-7zm-10 0l3-6-4 12-4 6zm-126 1l3-3-4-12-3 10zm-22-9l3 6-4-12-3 11zm-18 6l3 2-4-8-3-9zm-25-8l3 1-4 5-3-7zm-7 1l3-2-4 1-3 3z"/><path class="c76" d="M647 72l3 3-4 3-3-7zm-133-8l3-4-4 12-3-3zm-4 5l3 3-4-13-3-2zm-50-5l3-10-4 12-3 0zm-28 2l3-4-4 2-3-13zm-33-5l3-7-4 3-3 8z"/><path class="c77" d="M402 54l4 4-4 0-4-1z"/><path class="c78" d="M683 75l3-3-4-1-3 5zm-33 0l4-8-5 0-3 11zm-43-1l4 0-4-13-4 6zm-179-23l3 13-4-7-4-3zm-22 5l4 0-4 2-4-4z"/><path class="c79" d="M640 69l3 2-4 1-3-7zm-40 2l3-4-4-6-3 10zm-83-11l4 0-4-6-4 18zm-107-4l3-11-4 15-3-2z"/><path class="c80" d="M658 66l3 14-4-17-3 4zm-234-8l4-7-5 3-3 1z"/><path class="c81" d="M417 53l3 2-4 1-3-11z"/><path class="c68" d="M551 84l3 3-4-12-3 0z"/><path class="c69" d="M619 76l3 8-4 2-3 2zm-58-3l3 5-4 4-3 2zm-7 14l3-3-4-14-3 5zm-83-9l4-5-5-2-3-2z"/><path class="c70" d="M626 89l3-18-4 15-3-2zm-50-3l3-2-4-7-3-6zm-47-7l3-1-4-6-3 2zm-61-10l3 9-4-9-3 6zm-83 2l4-5-4-2-4 5zm-7-6l3 4-4-5-3 3zm3 4l4-5-4 4-4-4z"/><path class="c71" d="M701 88l4-2-4-3-4 5zm-107-12l3 2-4 0-3 3zm-11 2l3 1-4-3-3 8zm3 1l4 2-4-4-4-1zm-7 5l3-8-4-4-3 5zm-32-9l3 0-4 1-3-2zm-11 3l3-8-4 6-3 2zm-10 4l3-3-4-5-3-7zm-30-11l4-4-4 5-4 5z"/><path class="c72" d="M691 83l3 4-4-6-3 4zm3 4l3 1-4-8-3 1zm-83-10l4 11-4-14-4 0zm-150-7l3 5-4-11-3 2z"/><path class="c73" d="M709 89l3-11-4 6-3 2zm-43 1l3-6-4-1-3-15zm-37-19l4 0-5 12-3 3zm-86 3l4 1-4-1-4-4zm-39-2l3 0-4-5-3 0zm-51-8l4 2-4 0-4 5zm-60 2l3-9-4 8-3 1zm-4 0l3-1-4-9-3 8z"/><path class="c74" d="M684 82l3 3-4-10-3 7zm-8 2l4-2-5-1-3-6zm-7 0l3-9-4 1-3 7zm-100-11l3-2-4 1-4 6zm-58 0l3-9-4 5-3 3zm-11-5l4 4-4-5-4 4zm-21-3l3 3-4-2-3 7zm-15 10l3-6-4-15-3 10zm-21-3l3-9-4-2-3 5zm-47-15l3 4-4 4-3 0z"/><path class="c75" d="M633 86l4-11-4-4-4 0zm-25-6l3-3-4-3-3-2zm-7-4l3-4-4-1-3 7zm-108-14l3 9-4 6-3-17zm-47 1l3 8-4-9-3-1z"/><path class="c76" d="M687 85l3-4-4-9-3 3zm-169-4l4-14-5-7-3 4zm-82-23l3 8-4-4-3 4zm3 8l3-5-4-1-3 2zm-11 7l4-7-4-15-4 7zm-25-6l3-11-4-2-3 7z"/><path class="c77" d="M604 72l3 2-4-7-3 4zm-82-5l3 7-4-14-4 0z"/><path class="c78" d="M662 68l3 15-4-3-3-14zm-11 9l3-8-4 6-3-3z"/><path class="c79" d="M637 75l3-6-4-4-3 6zm-151-21l3 6-4 3-3 5z"/><path class="c80" d="M418 58l3-1-4-4-3 3zm3-1l3 1-4-3-3-2zm-10-5l3 4-4 0-4 0z"/><path class="c81" d="M658 81l4-13-4-2-4 3zm-4-12l4-3-4 1-4 8zm-10-5l3 8-4-1-3-2z"/><path class="c82" d="M414 56l3-3-4-8-3 11z"/><path class="c65" d="M677 99l3-7-4-8-3 16z"/><path class="c66" d="M670 94l3 6-4-16-3 6zm-115-4l3-10-4 7-3-3z"/><path class="c68" d="M580 86l3-8-4 6-3 2zm-22-6l3-7-4 11-3 3zm-21 3l3-3-4-2-3 6zm-7-6l3 7-4-5-3 3zm3 7l3-6-4 0-3 1z"/><path class="c70" d="M702 94l3-5-4-1-3-4zm3-5l4 0-4-3-4 2zm-32 11l3-16-4-9-3 9zm-43-12l3-2-4-15-3 18zm-108-11l4 5-4-15-4 14zm-93-6l3 0-4 2-3-5zm-39 0l3-5-4 0-4 5zm-8-6l3 6-4-2-3-4z"/><path class="c71" d="M698 84l3 4-4 0-3-1zm-18 8l4-10-4 0-4 2zm-57-15l3 12-4-5-3-8zm-108 2l3 2-4-17-3 9zm-140-13l3-1-4 2-3 1z"/><path class="c72" d="M663 96l3-6-4-22-4 13zm-116-24l4 12-4-9-4-1zm-7 8l3-6-4-4-3 8zm-28-14l3 13-4-6-3 3zm-4 10l3-3-4-1-3 0zm-33-8l4-3-4 8-4 5zm-10-1l3 2-4 6-3-5z"/><path class="c73" d="M695 85l3-1-4 3-3-4zm-122-9l3 10-4-15-3 2zm-101-10l3 2-4 10-3-9zm-40 5l4-13-4 8-4 7z"/><path class="c74" d="M688 80l3 3-4 2-3-3zm-68 10l3-13-4-1-3-7zm-8-7l4-14-5 8-3 3zm4-14l3 7-4 12-4-11zm-11 12l3-1-4-8-3 4zm-7-6l3 1-4 2-3-2zm-36 1l3-6-4 3-3 7zm3-6l4 3-5 5-3-5zm-107-1l3 1-4-4-4-2zm-86-10l3 7-4 2-3-13z"/><path class="c75" d="M713 78l3 7-4-7-3 11zm-76 2l4-8-4 3-4 11zm-132-17l3 13-4-4-4-4zm-65 3l3 6-4-6-3-8zm-15 2l3 5-4-15-3-1zm-21-5l3-2-4 6-3-7z"/><path class="c76" d="M590 58l4 18-4 5-4-2zm-111 9l4-1-4-1-4 3zm-32 2l3-13-4 7-3 9zm3-13l3 8-4 7-3-8zm-53 9l3-5-4-3-3 9zm3-5l3 7-4-6-3-4z"/><path class="c77" d="M655 80l3 1-4-12-3 8zm-61 0l4-5-4 1-4-18zm-7-6l3-16-4 21-3-1zm-90-13l3 7-4 3-3-9zm-75 2l3 5-4-11-3 1z"/><path class="c78" d="M483 66l3-12-4 14-3-3zm-29-5l4 8-5-5-3-8zm-47 0l4-9-5 4-3 11z"/><path class="c79" d="M645 80l3-2-4-14-3 8zm3-2l3-1-4-5-3-8zm-161-5l3-12-4-7-3 12z"/><path class="c80" d="M641 72l3-8-4 5-3 6zm-226-10l3-4-4-2-3-4z"/><path class="c82" d="M490 61l3 1-4-2-3-6z"/><path class="c63" d="M674 95l3 4-4 1-3-6z"/><path class="c66" d="M667 94l3 0-4-4-3 6z"/><path class="c67" d="M681 85l3 8-4-1-3 7zm-129 5l3 0-4-6-4-12z"/><path class="c68" d="M548 89l4 1-5-18-3 9z"/><path class="c69" d="M659 94l4 2-5-15-3-1zm-78-9l3 1-4 0-3-4zm-4-3l3 4-4 0-3-10zm-18 2l3-8-4 4-3 10zm-33-3l4-4-4 5-4-5z"/><path class="c70" d="M706 94l4-8-5 3-3 5zm-90-1l4-3-4-21-4 14zm-82-18l3 8-4 1-3-7zm-11 11l3-5-4-4-3-3zm-4-12l3 3-4 4-3-2z"/><path class="c71" d="M699 90l3 4-4-10-3 1zm-11-1l4 2-4-11-4 13zm-4 4l4-13-4 2-4 10zm-28-5l3 6-4-14-3-1zm-22-6l3-2-4 6-3 2zm-10 4l3-5-4-4-3 13zm3-5l3 7-4 1-3-12zm-18 6l3-4-4-3-3 1zm-25-1l3-12-4 4-3 8zm-11-7l4 3-4-6-4 10zm-32-11l3 13-4-1-3 3zm-155-7l4 10-5 0-3-6z"/><path class="c72" d="M544 81l3-9-4 2-3 6zm-150-16l3 0-4 1-3 5zm-15-1l3 1-4 0-3 1z"/><path class="c73" d="M710 86l3-8-4 11-4 0zm-18 5l3-6-4-2-3-3zm-86-9l3 5-4-6-3-7zm-40-4l3 8-4-16-3 6zm3 8l4-10-4-3-4-3zm-179-18l4-3-4 6-4-10z"/><path class="c74" d="M516 72l3 2-4 5-3-13zm-54-6l3 1-4 3-3-1zm-18-1l3 4-4 3-3-6zm-11 2l3-4-4 8-3 0zm-7-5l3 9-4-3-3-5zm-25 10l3-9-4-3-3 5zm-18-7l3-4-4 4-3-1z"/><path class="c75" d="M631 69l3 13-4 6-3-7zm-32 11l3-6-4 1-4 5zm3-6l3 7-4-5-3-1zm-104 1l3 4-4-18-3 6zm-22 0l3-8-4 1-3-2zm-7-6l3-3-4 3-3-2z"/><path class="c76" d="M714 85l3 0-4-7-3 8zm3 0l3-5-4 5-3-7zm-68-6l3 0-4-1-3 2zm3 0l3 1-4-3-3 1zm-61 6l3-5-4-22-3 16zm-100-13l3-5-4-6-3 12zm-8-5l4 6-4-7-4 1zm-17 1l3 1-4-2-3-1zm-30-5l4 3-4-8-4 13zm-60-10l3 11-4 2-3-7z"/><path class="c77" d="M509 69l3-3-4 10-3-13zm-8 10l4-16-5 5-3-7zm-43-16l4 3-4 3-4-8zm-17-1l3 3-4 1-4-3zm-22 4l3-3-4-5-3 4zm-11 1l3-12-4 6-3 2zm-40-2l4-6-4-4-4 3z"/><path class="c78" d="M641 67l4 13-4-8-4 8zm-190-1l3-5-4-5-3 13z"/><path class="c79" d="M415 55l4 11-4-4-4-7z"/><path class="c80" d="M494 67l3-6-4 1-3-1zm-83-12l4 7-4-10-4 9z"/><path class="c65" d="M556 89l3-5-4 6-3 0z"/><path class="c66" d="M663 88l4 6-4 2-4-2z"/><path class="c67" d="M678 93l3-8-4 14-3-4zm-58-6l4-1-4 4-4 3zm-28 4l3-3-4-3-3 5zm-40-14l4 12-4 1-4-1z"/><path class="c68" d="M671 81l3 14-4-1-3 0z"/><path class="c69" d="M703 90l3 4-4 0-3-4zm-86-2l3-1-4 6-3-9zm-4-4l3 9-4-10-3 4zm-53-5l3 6-4-1-3 5zm-158-1l3-9-4 3-3 7z"/><path class="c70" d="M685 94l3-5-4 4-3-8zm-10 0l3-1-4 2-3-14zm-8 1l4-14-4 13-4-6zm-7-10l3 3-4 6-3-6zm-75-7l3 12-4-4-3-1zm3 12l3-5-4-11-3 12z"/><path class="c71" d="M700 92l3-2-4 0-3 0zm-7-3l3 1-4 1-4-2zm3 1l3 0-4-5-3 6zm-86-4l3-2-4 3-3-5zm-15 2l4-8-5 0-3 5zm-32-3l3-7-4-2-3 8zm-43-4l3 5-4-12-3-2zm-18 2l3-9-4 5-3-4zm-108-13l4 9-4-14-4 3zm4 9l3-7-4-7-3 0z"/><path class="c72" d="M577 78l4 7-4-3-4-3zm-32-1l3 12-4-8-3-13zm-18-4l3 1-4 7-3 5zm3 1l4 1-4 2-4 4zm-168-10l3 1-4 2-3 4z"/><path class="c73" d="M710 85l4 0-4 1-4 8zm-140-15l3 9-4 7-3-8zm-93 7l3-3-4 1-3-6zm-72-8l3-2-4-4-3 9zm-36 5l4-12-5 3-3 0z"/><path class="c74" d="M653 85l3 3-4-9-3 0zm-118-4l3-8-4 2-4-1zm3-8l3-5-4 15-3-8zm-43 5l3-3-4-8-3 5zm-15-4l3-7-4 0-3 8zm-115-9l3 0-4-7-3 9z"/><path class="c75" d="M718 81l3 10-4-6-3 0zm3 10l3-6-4-5-3 5zm-93-8l3-14-4 12-3 5zm-25-6l3 5-4-8-3 6zm-98-3l4-5-4-6-4 16zm-32-5l3 6-4-9-3 3zm-46-1l3 1-4-7-3 9zm3 1l3-2-4 4-3-9zm-7 2l3-9-4 1-3 3z"/><path class="c76" d="M509 76l4-8-4 1-4 5zm-21-9l3 5-4 1-4-6zm-18 1l3 1-4 0-3-1zm-22-2l3 0-4 3-3-4zm-11 10l4-14-5 1-3 4zm-50-16l3 8-4-7-3 4zm-7 6l3-1-4-1-3-11z"/><path class="c77" d="M642 85l4 1-5-19-3 10zm4 1l3-7-4 1-4-13zm-162-18l4-1-5 0-3 7zm-32-3l3 5-4-4-3 0zm3 5l3-7-4-2-3 5z"/><path class="c78" d="M635 81l3-4-4 5-3-13zm3-4l3-10-4 13-3 2zm-125-9l3 4-4-6-3 3zm-51-6l4 6-4-2-4-3zm-17 2l3 2-4-1-3-3zm-25-2l3 9-4-5-4-11zm-47 0l3-9-4 6-4 6z"/><path class="c79" d="M412 64l3-9-4 0-3 12z"/><path class="c68" d="M596 86l3 8-4-6-3 3zm-198-10l4 2-4 1-4-9z"/><path class="c69" d="M679 95l3-7-4 5-3 1zm-8 3l4-4-4-13-4 14zm-315-28l3 3-4 0-4-2z"/><path class="c70" d="M686 89l3 7-4-2-3-6zm3 7l4-7-5 0-3 5zm-25-5l3 4-4-7-3-3zm-50 0l3-3-4-4-3 2zm-25-8l3 8-4-1-3-12zm-33 8l4-12-4 10-4-12zm-197-18l3-9-4 7-3 2z"/><path class="c71" d="M682 88l3 6-4-9-3 8zm-79 1l4-3-4-9-4 17zm-4 5l4-17-4 3-4 8zm-93-12l3-6-4-2-3 9zm-100-6l3-7-4 0-3 9z"/><path class="c72" d="M704 96l3-13-4 7-3 2zm-80-16l4 3-4 3-4 1zm-60 3l3-7-4 9-3-6zm-25 1l3-5-4-6-3 8zm-40-15l3 14-4-8-3 3zm-65 6l3 1-4-9-3 2zm-53-1l3-4-4-4-3 3z"/><path class="c73" d="M707 83l3 2-4 9-3-4zm-10 2l3 7-4-2-3-1zm-68 6l3-7-4-1-4-3zm-8-10l3-1-4 7-3 1zm-14 5l3 0-4-4-3-5zm-25-6l3-2-4 7-4-7zm-61 2l3-12-4 11-3-2zm3-12l3 3-4 13-3-5zm-10 13l3-4-4-11-4 8zm-76-14l3 1-4 6-3-1zm-65-4l4 4-4-7-4 12zm-7-1l3 10-4-9-3-1z"/><path class="c74" d="M711 96l3-6-4-5-3-2zm-54-16l3 5-4 3-3-3zm-11 9l4-11-4 8-4-1zm-7 0l3-4-4-8-3 4zm-61-2l4-7-5-2-3-3zm-11-11l3-6-4 8-3 7zm-18-9l3 10-4 12-3-12zm-32 12l3 2-4-9-3-4zm-86-11l3 7-4-6-3-1zm-18 4l3 0-4-8-3 5zm-4-3l3-5-4 3-3 2zm-18 4l3-3-4-2-3-8z"/><path class="c75" d="M654 89l3-9-4 5-3-7zm-4-11l3 7-4-6-3 7zm-119-7l4 10-5-7-3-1zm-39-3l3 10-4-6-3-5zm-11-1l3 1-4 6-3 3zm-25 1l3 7-4-5-3-5zm-72 2l3-10-4 5-3 1z"/><path class="c76" d="M714 90l4-9-4 4-4 0zm-140-15l3 3-4 1-3-9zm-32 4l3-2-4-9-3 5zm-68-14l3 12-4-8-3-1zm-11 5l4-1-5-7-3 13zm-22 0l4-6-4-2-4 14zm-17-2l3 0-4 3-3-9z"/><path class="c77" d="M632 84l3-3-4-12-3 14zm-61-5l3-4-4-5-3 6zm-25-5l3-7-4 10-3 2zm-50-5l3 0-4 9-3-10zm-37 6l3-13-4 1-3 7zm-10 0l3-10-4 1-3-2zm-72-6l3-3-4-13-3 9z"/><path class="c78" d="M467 69l3-1-4 0-4-6zm-51 3l4-10-5-7-3 9z"/><path class="c79" d="M488 67l4 1-4-1-4 1z"/><path class="c66" d="M399 82l4-8-5 2-3 12zm-7 0l3 6-4-15-3 3z"/><path class="c68" d="M676 91l3 4-4-1-4 4zm-119-3l3-8-4 11-3-1zm-162 0l3-12-4-6-3 3z"/><path class="c69" d="M668 87l3 11-4-3-3-4zm-68 0l3 2-4 5-3-8zm-82 4l3-9-4-3-3 4zm-115-17l3 2-4 2-4-2z"/><path class="c70" d="M658 103l3-11-4-12-3 9zm-65-13l3-4-4 5-3-8z"/><path class="c71" d="M701 98l3-2-4-4-3-7zm-8-3l4-10-4 4-4 7zm-28-4l3-4-4 4-3 1zm-15 9l4-11-4-11-4 11zm-35-13l3 1-4 3-3-6zm3 1l3-7-4 7-3 3zm-7-3l3 6-4-5-3 0zm-51-5l4 3-4-4-4 12zm-50 0l4 3-5-7-3 6zm-125-11l3 7-4-6-3 4zm-33 1l4 0-5 1-3-2z"/><path class="c72" d="M708 94l3 2-4-13-3 13zm-11-2l4 6-4-13-4 10zm-7-8l3 11-4 1-3-7zm-7 5l3 0-4-1-3 7zm-11-5l4 7-5 7-3-11zm-32 2l3 1-4 2-3-1zm3 1l3 2-4-4-3 4zm-36-3l4 1-4 1-4 3zm-17-4l3 10-4-7-3 2zm-8 6l4-1-4-5-4 7zm-29 4l3 1-4-14-3-10zm-46-12l3 2-4 2-3-5zm-4-1l3 5-4 1-3-14zm-126-4l4 1-4-5-4-4zm-17-2l3-8-4 10-3-3z"/><path class="c73" d="M661 92l3-1-4-6-3-5zm-25-4l3 1-4-8-3 3zm-11-2l4 5-5-11-3 1zm-39-1l3-2-4-5-3 2zm-11 4l3-2-4-12-3 4zm-165-18l3 1-4-3-3 7zm-22 5l3-3-4-13-3 10zm-18-7l3-4-4 9-3-10z"/><path class="c74" d="M633 78l3 10-4-4-3 7zm-65 3l3-2-4-3-3 7zm-123-5l4-1-4-11-4 6zm-82-13l3 1-4 0-3 9z"/><path class="c75" d="M550 78l3 12-4-23-3 7zm-7-5l3 1-4 5-3 5zm-8-1l4 12-4-3-4-10zm-10-2l3 15-4-15-3 12zm-75 0l3-4-4 9-4 1zm-8 0l3 6-4-6-3-1zm-25-7l3 8-4 1-3 0zm3 8l4-3-4-6-4 10zm-53-4l3 2-4-5-3-1z"/><path class="c76" d="M532 73l3-1-4-1-3 14zm-4 12l3-14-4 2-3-3zm-28-7l3-1-4-8-3 0zm-25-5l3 3-4-11-3 8zm3 3l3-9-4 10-3-12zm-11-1l4-2-4-4-4 1zm-7-5l3 0-4 5-3-7z"/><path class="c77" d="M492 80l4-11-4-1-4-1zm-21-7l3-8-4 3-3 1zm-18-7l3 2-4-3-3 10zm-18-6l3 9-4 6-3-7zm-7 2l3 6-4 0-3 0z"/><path class="c78" d="M485 73l3-6-4 1-3-1zm-61-6l4-5-4 6-4 3z"/><path class="c63" d="M396 89l3-7-4 6-3-6z"/><path class="c67" d="M654 93l4 10-4-14-4 11z"/><path class="c68" d="M662 97l3-6-4 1-3 11zm-101-5l4 3-5-15-3 8zm-43-3l4-4-4 6-4-11zm-172-8l3-13-4 9-3 1z"/><path class="c69" d="M647 93l3 7-4-11-3-2zm-133-13l4 11-4-8-4-3zm-125-1l3 3-4-6-3-7z"/><path class="c70" d="M701 101l4-9-4 6-4-6zm4-9l3 2-4 2-3 2zm-21 7l3-5-4-5-3 6zm-33-13l3 7-4 7-3-7zm-57 7l3-2-4-1-3-10zm3-2l3-4-4-1-3 4zm-219-12l3-5-4-1-3 2z"/><path class="c71" d="M680 95l3-6-4 6-3-4zm-111-10l3-1-4-3-3 14zm-4 10l3-14-4 2-4-3zm-11-14l3 7-4 2-3-12zm-32 4l3-15-4 12-3 9zm-11 3l3-8-4 0-3-2zm-108-7l4-14-4 7-4 8zm-22-7l4-5-4 5-4-1zm-32-6l3 2-4-1-3 8z"/><path class="c72" d="M604 87l3-3-4 5-3-2zm-18 3l4-10-4 5-4 1zm-7-12l3 8-4 1-3 2zm-7 6l3 5-4-10-3 2zm-201-10l3 1-4-6-3-2zm3 1l3-2-4-8-3 4z"/><path class="c73" d="M694 95l3-3-4 3-3-11zm-18-3l4 3-4-4-4-7zm-7 2l3-10-4 3-3 4zm-50-11l3 3-4 2-3-1zm-7 2l3 2-4-2-4-1zm-11-7l3 9-4 0-3 4zm-97 5l3-5-4-1-3 1zm-97-16l3 4-4 5-3-2zm-51-3l4 7-4-1-4 0z"/><path class="c74" d="M687 94l3-10-4 5-3 0zm-43-11l3 10-4-6-3-1zm-22 3l3 0-4-5-3 7zm-93 5l3-18-4 12-3-15zm-58-12l4-6-4 0-4 2zm-10 1l3 0-4-10-3-1zm3 0l3-5-4-5-3 0zm-53-3l3-5-4-1-3-4zm-47-4l3-6-4-4-3 8zm-11-2l3-7-4 6-3-2z"/><path class="c75" d="M637 89l3-3-4 2-3-10zm-11 1l3-11-4 7-3 0zm3-11l4-1-4 13-4-5zm-136-2l4-3-5 6-3-8zm4-3l3 4-4-9-4 11zm-83-2l3-9-4 9-3-1z"/><path class="c76" d="M547 81l3-3-4-4-3-1zm-8-5l4-3-4 11-4-12zm-50-4l3 8-4-13-3 6zm-10-2l3 5-4 1-3-3zm3 5l3-2-4-6-3 9zm-36-7l4 2-5 6-3-6z"/><path class="c77" d="M486 71l3 1-4 1-3 2z"/><path class="c78" d="M544 72l3 9-4-8-4 3zm-8 4l3 0-4-4-3 1zm-79-7l3 1-4-2-3-2zm-18 0l3 1-4-1-3-9z"/><path class="c79" d="M454 67l3 2-4-3-3 4zm-33-4l3 4-4 4-3-8z"/><path class="c80" d="M436 69l3 0-4-9-3 3zm-8-3l4-3-4-1-4 5z"/><path class="c81" d="M432 63l3-3-4 8-3-6z"/><path class="c64" d="M400 86l3-5-4 1-3 7z"/><path class="c65" d="M393 84l3 5-4-7-3-3z"/><path class="c66" d="M397 76l3 10-4 3-3-5z"/><path class="c67" d="M587 95l4 9-5-14-3-1z"/><path class="c68" d="M659 90l3 7-4 6-4-10zm-68 14l3-11-4-13-4 10zm-86-12l3 5-4-14-3-4zm3 5l3-9-4-10-3 5zm-118-16l3 3-4-5-3-4zm-47-3l3 3-4-3-3-9z"/><path class="c69" d="M663 99l3 1-4-3-3-7zm3 1l3-6-4-3-3 6zm-101-13l4-2-4 10-4-3zm-50 2l3 0-4-9-3 8z"/><path class="c70" d="M698 99l3 2-4-9-3 3zm-10 0l3-6-4 1-3 5zm-166-8l4-13-4 7-4 4zm-57-12l3 7-4-6-3 0zm-90-3l3 3-4-4-3-1zm-11 4l4-10-4 3-4 5z"/><path class="c71" d="M695 96l3 3-4-4-3-2zm-15-6l4 9-4-4-4-3zm-82 3l3-15-4 13-3 2zm-40-11l3 10-4-4-3-7zm-90 4l3-7-4-4-3 5zm-82-11l3 4-4-10-4 5zm-36-2l3-2-4-3-3 13z"/><path class="c72" d="M655 98l4-8-5 3-3-7zm-72-9l3 1-4-4-3-8zm-53-8l3 4-4 6-3-13zm-123-6l4 2-4-10-4 14zm-47 3l4-5-4-2-4-7zm-21 0l4 0-4-9-4-8z"/><path class="c73" d="M691 93l3 2-4-11-3 10zm-18 4l3-5-4-8-3 10zm-97-11l3-8-4 11-3-5zm-43-1l3-9-4-3-3 18zm-7-7l3 13-4-21-3 15zm-144-13l4 10-5-1-3 5zm-14 5l3 4-4-7-3 6zm-11-1l3 9-4-14-3 7z"/><path class="c74" d="M648 92l3-6-4 7-3-10zm-10-4l3 3-4-2-4-5zm3 3l3-8-4 3-3 3zm-33-7l4 1-5-1-3 3zm-28 1l3 4-4-11-3 8zm-79-6l3 4-4-5-3-4z"/><path class="c75" d="M623 80l3 10-4-4-3-3zm-11 11l4-10-4 4-4-1zm4-10l3 2-4 4-3-2zm-43-9l3 14-4-2-3 1zm-76 10l4-3-4-5-4 3zm-25-8l3-8-4 13-3 7zm-14 6l3 0-4-11-3-2z"/><path class="c76" d="M605 86l3-2-4 3-3-9zm-50-1l3-3-4-1-3-8zm-4-12l3 8-4-3-3 3zm-68 9l3-11-4 4-3-5zm-68-14l3-2-4 6-3 5z"/><path class="c77" d="M633 84l4 5-4-11-4 1zm-143-8l3 1-4-5-3-1zm-15-10l4 4-4 3-4 6z"/><path class="c78" d="M630 78l3 6-4-5-3 11zm-82 3l3-8-4 8-3-9zm-98-7l4-7-4 3-4-2z"/><path class="c79" d="M540 76l4-4-5 4-3 0zm-93-3l3 1-4-6-3-7zm-4-12l3 7-4 2-3-1zm-10 8l3 0-4-6-4 3zm-8 1l3-4-4 1-3-4zm-7-4l3-3-4 0-3 9z"/><path class="c80" d="M422 68l3 2-4-7-3 3z"/><path class="c81" d="M440 65l3-4-4 8-3 0z"/><path class="c63" d="M516 97l3 0-4-8-3 11zm-7-3l3 6-4-3-3-5z"/><path class="c64" d="M512 100l3-11-4-1-3 9z"/><path class="c65" d="M667 102l3 6-4-8-3-1zm-72-3l3-6-4 0-3 11z"/><path class="c66" d="M674 103l3-3-4-3-3 11zm-83-15l4 11-4 5-4-9zm-72 9l3-6-4-2-3 0z"/><path class="c67" d="M670 108l3-11-4-3-3 6z"/><path class="c68" d="M404 80l3-5-4 6-3 5z"/><path class="c69" d="M501 94l4-2-4-13-4 3zm-107-18l3 0-4 8-3-3z"/><path class="c70" d="M681 100l3-1-4-9-3 10zm3-1l4 0-4 0-4-9zm-25-4l4 4-4-9-4 8zm-60-2l3-10-4 10-3 6zm-15 1l3 1-4-6-3-4zm-183-19l3 5-4 6-3-10zm-54-9l3 7-4 8-3-3z"/><path class="c71" d="M692 99l3-3-4-3-3 6zm-15 1l3-10-4 2-3 5zm-111-12l3 4-4-5-3 0zm-4-1l3 0-4 5-3-10zm-186-14l3 7-4-4-3-1zm-7 3l3-1-4-5-4 10z"/><path class="c72" d="M616 93l4 4-4-16-4 10zm-7 6l3-8-4-7-3 2zm-82-12l3-6-4-3-4 13zm-69-2l4-5-4 0-4-2zm4-5l3-1-4 1-3 0zm-76 0l4 1-4-6-4-10zm-7 0l3-15-4 14-3-3zm-7-5l3 1-4-2-3-4zm-11-9l3 14-4-2-3-9z"/><path class="c73" d="M652 89l3 9-4-12-3 6zm-28 2l3-2-4-9-3 17zm-65-6l3 2-4-5-3 3zm-90-10l3-1-4 12-3-7zm-118 0l3-3-4 1-3-7zm3-3l3-3-4 2-3 2zm-11-7l4 1-4 12-4 0zm-7 5l3 8-4-17-3 13z"/><path class="c74" d="M649 88l3 1-4 3-3-1zm-4 3l3 1-4-9-3 8zm-76 1l4-20-4 13-4 2zm-161-16l3-7-4 6-3 5z"/><path class="c75" d="M642 82l3 9-4 0-3-3zm-22 15l3-17-4 3-3-2zm-18-14l3 3-4-8-3 15zm-25 5l3-3-4 1-3-14zm-43-5l3-8-4 10-3-4zm-43-3l3-3-4-1-3 4zm3-3l3 5-4-5-3-1zm-7 3l3-4-4-5-3 11zm-33-2l4 2-4-13-4 7zm-43-9l4-1-4 9-4-2z"/><path class="c76" d="M484 68l3 12-4 2-3-7zm-33 4l3 6-4-4-3-1z"/><path class="c77" d="M634 90l4-2-5-4-3-6zm-7-1l3-11-4 12-3-10zm-75-13l3 9-4-12-3 8zm-15-1l3 1-4 0-3 9z"/><path class="c78" d="M480 75l3 7-4-12-4-4zm-47-6l4 7-4-7-4-2zm4 7l3-11-4 4-3 0zm-11-1l3-8-4 3-3-2z"/><path class="c79" d="M476 74l4 1-5-9-3 8zm-32 7l3-8-4-12-3 4zm-15-14l4 2-5-3-3 4zm-10 4l3-3-4-2-3 2z"/><path class="c80" d="M541 77l3-5-4 4-3-1zm3-5l4 9-4-9-4 4z"/><path class="c62" d="M520 105l3-10-4 2-3 0zm-7-4l3-4-4 3-3-6z"/><path class="c65" d="M671 103l3 0-4 5-3-6zm-166-9l4 0-4-2-4 2z"/><path class="c66" d="M523 95l4-8-5 4-3 6z"/><path class="c68" d="M678 99l3 1-4 0-3 3zm-83 3l4-9-4 6-4-11zm-68-6l4-9-4 0-4 8z"/><path class="c69" d="M685 100l4 1-5-2-3 1zm4 1l3-2-4 0-4 0zm-29 0l3-3-4-3-3 5zm3-3l4 4-4-3-4-4zm-78-5l3 3-4-2-3-2zm3 3l3-8-4 7-3-1zm-86-11l3 9-4 0-3-13zm-112 0l4-9-4 5-4-1z"/><path class="c70" d="M656 100l3-5-4 3-3-9zm-43-11l3 4-4-2-3 8z"/><path class="c71" d="M581 92l3 2-4-9-3 3zm-226-13l3-2-4-5-3 3zm-15 6l3-20-4 13-3-8z"/><path class="c72" d="M610 89l3 0-4 10-3-9zm-7 11l3-10-4-7-3 10zm-105-19l3 13-4-12-3-5zm-111-7l3 11-4-5-3-10z"/><path class="c73" d="M653 95l3 5-4-11-3-1zm-32-15l3 11-4 6-4-4zm-15 10l3 9-4-13-3-3zm-28 2l3 0-4-4-3-6zm-47-5l3-4-4-2-3 6zm-68-7l3-5-4 5-4 5zm-51 2l4-2-5-11-3 7zm-7-6l3 0-4 4-3-5zm-25 1l3-7-4 10-3-7zm-7-6l3 2-4 2-3 1zm-8 0l4 5-5 4-3-14zm-28 0l3 14-4-15-3-3zm-7 4l3-8-4 0-3 13z"/><path class="c74" d="M445 80l3-2-4 3-3-9zm-47-8l3 3-4 1-3 0zm-15-2l3 10-4-15-3 15zm-21 7l3-6-4-5-3 11zm-4 0l3-11-4 3-3 3zm-25-10l3 3-4 4-3-7z"/><path class="c75" d="M570 76l4 6-5 10-3-4zm4 6l3 6-4-16-4 20zm-11-5l3 11-4-1-3-2zm-97-2l3 0-4 4-3 1zm-11-1l3 11-4-7-3-6zm-7 4l3-6-4 1-3 8zm-28-1l3-5-4-1-3 9zm-72-1l3-1-4-9-4-1z"/><path class="c76" d="M635 93l3-7-4 4-3-9zm3-7l4-4-4 6-4 2zm-82-6l3 5-4 0-3-9zm-61 1l3 0-4-4-3 3zm-79-1l3-9-4-3-4 1z"/><path class="c77" d="M646 88l3 0-4 3-3-9zm-18-7l3 0-4 8-3 2zm-90 4l3-8-4-2-3 8zm-68-10l3 1-4-1-3 0zm3 1l3-2-4 0-3 1zm-36 3l4-7-4 4-4-7zm4-7l3 9-4-16-3 11zm-18 0l3 3-4-7-3 3z"/><path class="c78" d="M631 81l3 9-4-12-3 11zm-143-9l3 8-4 0-3-12zm-58 2l3-5-4-2-3 8z"/><path class="c80" d="M480 72l4-4-4 7-4-1z"/><path class="c81" d="M552 82l4-2-4-4-4-7zm-4-13l4 7-4 5-4-9z"/><path class="c82" d="M545 77l3-8-4 3-3 5z"/><path class="c61" d="M517 99l3 6-4-8-3 4z"/><path class="c64" d="M524 96l3 0-4-1-3 10z"/><path class="c65" d="M510 91l3 10-4-7-4 0z"/><path class="c66" d="M514 88l3 11-4 2-3-10z"/><path class="c68" d="M679 109l3-4-4-6-3 2zm-7-5l3-3-4 2-3-3zm3-3l3-2-4 4-3 0zm-11 4l4-5-5-2-3 3zm4-5l3 3-4-1-4-4z"/><path class="c69" d="M682 105l3-5-4 0-3-1zm-86-2l3-14-4 13-3-8zm3-14l4 11-4-7-4 9zm-10 10l3-5-4 2-3-3zm3-5l3 8-4-14-3 8z"/><path class="c70" d="M657 98l3 3-4-1-3-5zm-298-15l3-6-4 0-3 2zm-11-4l4 3-4-6-4 4zm4 3l3-3-4-4-3 1zm-26-2l4-5-4 5-4-8z"/><path class="c71" d="M607 94l3-5-4 1-3 10zm-76-15l4 14-4-6-4 9zm-25-2l4 14-5 3-3-9zm-115 8l4-7-5 7-3-11zm-47-5l4-4-5-11-3 20zm-21 3l3-3-4-8-3-3z"/><path class="c72" d="M582 88l3 5-4-1-3 0zm-47 5l3-8-4-2-3 4zm-140-15l3-6-4 4-4 9zm-54-15l3 17-4 5-3-14z"/><path class="c73" d="M614 97l3-6-4-2-3 0zm-198-20l4 0-4 3-4 2zm-7 3l3 2-4-6-3 0zm-32 0l3-3-4-4-3-2zm-11 1l3-6-4-4-3 6zm-32-2l3-8-4-4-3 8z"/><path class="c74" d="M369 75l4-4-4 5-4-5z"/><path class="c75" d="M650 93l3 2-4-7-3 0zm-33-2l4-11-5 13-3-4zm-78-9l3-2-4 5-3 8zm-40-2l3 5-4-4-3 0zm-40-4l4 4-5 5-3-11zm-10 2l3 2-4-2-3 2zm-8 2l4 0-4-8-4 7zm-10-1l3 9-4-14-3-5zm3 9l3-9-4-10-3 5zm-28-9l3 1-4-4-3-6zm-33-10l4 11-4-9-4 4z"/><path class="c76" d="M639 93l3-7-4 0-3 7zm-65-4l4 3-4-10-4-6zm-93-8l3-2-4-7-3 11zm-7 0l3 2-4-7-3-1zm-18 1l3-6-4-2-3 6zm-4-2l3-6-4-2-3 6zm-53-5l3-5-4 2-3 6zm3-5l3 6-4-1-3-3zm-18-3l3 7-4-4-3 7z"/><path class="c77" d="M646 87l4 6-4-5-4-2zm-14 5l3 1-4-12-3 0zm-140-12l3 1-4-1-3-8zm-15 3l3-11-4 2-3 2z"/><path class="c78" d="M642 86l4 2-4-6-4 4zm-78 6l3-6-4-9-3-2zm3-6l3-10-4 12-3-11zm-25-6l3-3-4 0-3 8zm-75-9l3 4-4 0-3 5zm-43 1l3-3-4 3-3 5zm3-3l3 5-4 1-3-3z"/><path class="c79" d="M621 89l4-12-4 3-4 11zm-61-14l3 2-4 8-3-5z"/><path class="c80" d="M625 77l3 4-4 10-3-11zm-68 2l3-4-4 5-4 2zm-8 4l3-1-4-13-3 8zm-65-4l4-7-4-4-4 4z"/><path class="c64" d="M521 91l3 5-4 9-3-6z"/><path class="c67" d="M600 109l4-6-5-14-3 14zm-244-21l3-5-4-4-3 3z"/><path class="c68" d="M676 101l3 8-4-8-3 3zm-8 2l4 1-4-4-4 5z"/><path class="c69" d="M604 103l3-9-4 6-4-11zm-244-25l3 4-4 1-3 5zm-8 0l4 10-4-6-4-3zm-25-3l4 7-5-2-3 3zm4 7l3-3-4-4-4 5zm-11 6l3-5-4-14-3 6z"/><path class="c70" d="M593 86l3 17-4-9-3 5zm-68 1l3 7-4 2-3-5zm3 7l3-15-4 17-3 0zm-10-7l3 4-4 8-3-11zm-155-5l3-1-4-4-3 6zm-28-4l3-2-4 3-3 3z"/><path class="c71" d="M661 87l3 18-4-4-3-3zm-161 8l3-3-4-12-3 8zm-65-8l3-6-4 7-3-9z"/><path class="c72" d="M578 97l4-9-4 4-4-3zm-68-4l4-5-4 3-4-14zm-72-12l3-1-4-1-3 9zm-43 1l4-7-4 3-4 7z"/><path class="c73" d="M608 92l3-7-4 9-3 9zm-22-7l3 14-4-6-3-5zm-216-3l3-13-4 6-3 6z"/><path class="c74" d="M611 85l3 12-4-8-3 5zm-36 7l3 5-4-8-3-9zm-72 0l3-15-4 8-3-5zm-10-5l3 1-4-8-4 4zm-8 2l3-5-4-5-3 2zm-32-3l3-4-4-2-3-2zm-11-3l4-5-5 2-3 1zm-22 5l4-16-4 5-4 0zm-7-17l3 6-4 5-3-2z"/><path class="c75" d="M654 83l3 15-4-3-3-2zm-18 3l3 7-4 0-3-1zm-18 0l3 3-4 2-3 6zm-122 2l3-8-4 1-3-1zm-18-7l3 0-4 2-3-2zm-32-3l3 0-4 2-4 0zm-18 15l3-14-4-10-3 3zm-11-16l3 11-4-11-3-6zm-14 6l3-4-4-9-3 5zm-15-8l3 10-4-11-3-7zm-10 2l3-4-4 7-4-11zm3-4l3-6-4 10-3 3zm-36-2l3 8-4 1-3-17zm-7 5l3-13-4 8-3 8z"/><path class="c76" d="M535 84l4-2-4 11-4-14zm-64 4l3-7-4-6-3-4zm-11-6l3-6-4 0-3 6z"/><path class="c77" d="M643 91l3-4-4-1-3 7zm-155-7l4-4-4-8-4 7zm-21-5l4 9-4-17-4 5zm-57-8l3 0-4 9-3-1zm-25 5l3-1-4-8-3 6z"/><path class="c78" d="M651 95l3-12-4 10-4-6zm-83-16l3 1-4 6-3 6zm3 1l3 9-4-13-3 10zm-21 3l3 0-4 0-3-2zm3 0l4-4-5 3-3 1zm-10 4l3-6-4-1-3 2zm-80-11l4-5-4 9-4-4z"/><path class="c79" d="M658 88l3-1-4 11-3-15zm-25-2l3 0-4 6-3-7zm-72-4l3 10-4-17-3 4zm-15-1l3 2-4-6-3 3z"/><path class="c80" d="M629 85l3 7-4-11-3-4z"/><path class="c81" d="M625 82l4 3-4-8-4 12z"/><path class="c60" d="M321 95l3 5-4-12-3 4z"/><path class="c64" d="M324 100l3-25-4 8-3 5z"/><path class="c65" d="M317 92l3-4-4-13-3 12z"/><path class="c69" d="M604 94l4-2-4 11-4 6zm-7 2l3 13-4-6-3-17zm-168-10l3 3-4 4-3-9zm3 3l3-2-4-8-3 14z"/><path class="c70" d="M669 107l3-12-4 8-3 0zm-313-24l4-5-4 10-4-10z"/><path class="c71" d="M672 95l4 6-4 3-4-1zm-7 8l3 0-4 2-3-18zm-129-9l4 1-5-11-3 14zm-32-4l3-5-4 7-3 3zm-7-3l3 8-4-7-3-1zm-72-3l3 9-4-21-4 16zm-61 0l3-5-4 3-3-4zm3-5l3 3-4-1-3 1zm-28 2l3 0-4-5-3 2zm-8 0l4-3-4 4-4-7z"/><path class="c72" d="M529 81l3 17-4-4-3-7zm-7 14l3-8-4 4-3-4zm-8-6l4-2-4 1-4 5zm-75-5l3-1-4-2-3 6zm-18 0l4 0-5 4-3-11zm-29-4l3 2-4 3-3-10zm-21 0l3 0-4 2-3-3zm-25 4l3-6-4-7-3 10z"/><path class="c73" d="M590 99l3-13-4 13-3-14zm-58-1l3-14-4-5-3 15zm-21-11l3 2-4 4-3-8zm-4-2l3 8-4-16-3 15zm-18 1l4 1-5-3-3 5zm-35 1l3-8-4 7-3-1zm-55-7l4 3-4-8-4 7zm-50-2l3 0-4 1-3-8z"/><path class="c74" d="M644 100l3-6-4-3-3 5zm-50-9l3 5-4-10-3 13zm-33 1l4 0-4-10-4 11zm-104-13l3 3-4 0-3 4zm-7 6l3 1-4-8-3 0zm-47-2l4-6-4 6-4-3zm-14-3l3 0-4-5-3 1zm-15 0l4-3-5-8-3 13z"/><path class="c75" d="M579 89l3-9-4 17-3-5zm-39 6l3-8-4-5-4 2zm-94-17l4 7-4-7-4 5zm-104 3l3-10-4-8-3 13z"/><path class="c76" d="M647 94l4 1-5-8-3 4zm-7 2l3-5-4 2-3-7zm-53-3l3 6-4-14-4-5zm-5-13l4 5-4 3-4 9zm-17 12l3-13-4 13-3-10zm-11-5l3 6-4-10-3 0zm-72-12l3 14-4-8-3 0zm-10 8l3-10-4 15-4-9zm3-10l3 8-4 0-3 7zm-68 4l3-6-4 8-3 4zm-11-11l3 14-4 2-3-2zm-14 8l3 2-4-3-3 4z"/><path class="c77" d="M662 89l3 14-4-16-3 1zm-7 13l3-14-4-5-3 12zm-18-7l3 1-4-10-3 0zm-22-7l3-2-4 11-3-12zm-43 6l3-2-4-12-3-1zm-15-1l4-11-4-3-4 4zm-10-8l3-2-4-2-3 6z"/><path class="c78" d="M612 88l3 0-4-3-3 7z"/><path class="c79" d="M629 94l4-8-4-1-4-3zm-10-3l3-7-4 2-3 2zm-155-25l3 13-4-3-3 6zm-50 10l3 1-4-6-3 0z"/><path class="c80" d="M622 84l3-2-4 7-3-3zm-143-8l3-1-4 6-3-8z"/><path class="c58" d="M325 104l3-14-4 10-3-5z"/><path class="c65" d="M328 90l3-9-4-6-3 25z"/><path class="c68" d="M332 83l3 0-4-2-3 9z"/><path class="c70" d="M343 84l3 0-4-3-3 0zm-8-1l4-2-4-3-4 3z"/><path class="c71" d="M433 91l3-7-4 5-3-3zm3-7l3 0-4 3-3 2zm-86-1l3-4-4-1-3 6z"/><path class="c72" d="M655 104l4-3-4 1-4-8zm-14-4l3 0-4-4-3-1zm-101-8l4-1-4 4-4-1zm-7 3l3-1-4 4-3-17zm-14-6l3 6-4-8-4 2zm-18-2l3 3-4 5-3-8zm-76 0l4-1-4-2-4 0zm-17 5l3-8-4-7-4 6zm-40-9l3-3-4-1-3 5zm-15-4l3 4-4-5-3 0z"/><path class="c73" d="M666 98l3 9-4-4-3-14zm-65-19l3 15-4 15-3-13zm-10 13l3-1-4 8-3-6zm-68-5l3 6-4 2-3-6zm-8 4l4-2-5 0-3-2zm-57-5l3 3-4-10-3 8zm-97-17l3 15-4-6-4 5z"/><path class="c74" d="M651 94l4 8-4-7-4-1zm-75-6l3 1-4 3-3 2zm-18 2l3 2-4 1-3-6zm-14 1l3-6-4 2-3 8zm-18 2l3-12-4 6-3 8zm-18-7l3 1-4-2-3 5zm-151-4l4-13-5 14-3-4z"/><path class="c75" d="M659 101l3-12-4-1-3 14zm-11-6l3-1-4 0-3 6zm-155-18l4 10-4 0-4-1zm-7 8l3 1-4 3-3-14zm-46-3l3-4-4 6-3 0zm-25 4l3-7-4-3-3 8zm-40-11l3-1-4 6-3 0z"/><path class="c76" d="M630 92l4 2-5 0-3 1zm4 2l3 1-4-9-4 8zm-69-9l4-1-4 8-4 0zm-17 3l3-1-4-2-3 6zm-98-14l4 13-4-2-4-7zm-7 4l3 0-4 5-3 1zm-25 1l3 5-4-7-3-1zm-18 4l3 0-4-3-3-14zm-14-6l3 3-4-4-3-2zm-8-3l4 0-4 3-4 3z"/><path class="c77" d="M623 97l3-2-4-11-3 7zm-15-10l4 1-4 4-4 2zm-35-2l3 3-4 6-3-10zm-4-1l3 10-4-15-3 13zm-18 3l3 0-4-4-3 2zm-61-7l3-3-4 9-3-1zm-79 4l3-8-4-5-3 6zm-18-7l3-11-4 14-3 0zm-11 3l4-3-4-3-4 0z"/><path class="c78" d="M626 95l3-1-4-12-3 2zm-43-7l4 5-5-13-3 9zm-86-10l4 9-4 0-4-10zm-32-1l3 10-4-21-3 23zm3 10l4-4-5-4-3-13zm-7 2l3-23-4 16-3-3z"/><path class="c79" d="M616 82l3 9-4-3-3 0zm-140 2l3-8-4-3-3 10z"/><path class="c80" d="M605 85l3 2-4 7-3-15zm-7-6l3 0-4 17-3-5zm-115-3l3 9-4-10-3 1z"/><path class="c62" d="M329 94l3-11-4 7-3 14z"/><path class="c68" d="M344 88l3 2-4-6-4-2z"/><path class="c69" d="M347 90l3-7-4 1-3 0zm-11-1l3-7-4 1-3 0z"/><path class="c70" d="M659 104l4 6-4-9-4 3zm-247-16l3-2-4-2-3 8zm-73-6l4 2-4-3-4 2z"/><path class="c71" d="M537 95l3-3-4 2-3 1zm-183-10l3-3-4-3-3 4z"/><path class="c72" d="M426 86l3-4-4 5-3 5zm3-4l4 9-4-5-4 1zm-10 6l3 4-4-13-3 7zm3 4l3-5-4-3-3-5zm-18-11l4 11-5-9-3 0z"/><path class="c73" d="M663 110l3-12-4-9-3 12zm-129-20l3 5-4 0-3-4zm-58-6l4 6-4-6-4 10zm-7 11l3-1-4-7-3-10zm3-1l4-10-4-1-4 4zm-35-7l3-5-4 2-3 7zm-68-6l3-2-4 4-3 3zm-4 5l3-3-4 1-3-15z"/><path class="c74" d="M645 96l3-1-4 5-3 0zm-54-3l4 0-4-1-4 8zm-4 7l4-8-4 1-4-5zm-57-9l3 4-4-14-3 12zm-11-1l4-3-4 2-4 2zm-133-6l4 1-4-8-4 3zm4 1l3-8-4 3-3-3zm-18-6l3-4-4 5-3 3zm-11 4l4 3-4-17-4 13z"/><path class="c75" d="M652 92l3 12-4-10-3 1zm-25 6l3-6-4 3-3 2zm-68-10l3 11-4-9-3-2zm3 11l3-14-4 7-3-2zm-18-9l4-2-4 3-4 1zm-17-8l3 9-4 2-3-6zm-15 6l3 3-4-4-3-1zm-7-3l3 1-4 4-3-3zm-54 2l4 3-5-16-3 15zm4 3l3-4-4 1-4-13zm-11-2l3 1-4-11-3 4z"/><path class="c76" d="M642 98l3-2-4 4-3-14zm-4-12l3 14-4-5-3-1zm-54 12l3 2-4-12-3-7zm-122-18l3-3-4 12-3-3zm-68 0l3-4-4 1-3 8z"/><path class="c77" d="M617 106l3-12-4-12-4 6zm-62-18l3 2-4-3-3 0zm-176-10l3 2-4-6-3 1z"/><path class="c78" d="M634 98l4-12-4 8-4-2zm-14-4l3 3-4-6-3-9zm-25-1l3-14-4 12-3 1zm-43-7l3 2-4-1-3 1zm-43-10l3 12-4-2-3-1zm-7 8l3 1-4 2-4-9zm-15 4l3-8-4 5-3-9zm-7 2l3-14-4 0-3 8zm-33-1l3-15-4 4-3 0zm-50-13l3 7-4-17-3 11z"/><path class="c79" d="M577 95l3-14-4 7-3-3zm3-14l3 7-4 1-3-1z"/><path class="c80" d="M609 90l3-2-4-1-3-2zm3-2l4-6-4 6-4-1zm-42 0l3-3-4-1-4 1z"/><path class="c81" d="M494 80l3-2-4-1-3 3z"/><path class="c83" d="M602 89l3-4-4-6-3 0z"/><path class="c65" d="M333 94l3-5-4-6-3 11z"/><path class="c68" d="M340 90l4-2-5-6-3 7z"/><path class="c69" d="M348 85l3 1-4 4-3-2zm3 1l3-1-4-2-3 7z"/><path class="c70" d="M628 110l3-11-4-1-3 11zm-205-17l3-7-4 6-3-4zm-68-5l3-5-4 2-3 1z"/><path class="c71" d="M621 96l3 13-4-15-3 12zm-209-3l4-1-4-4-4-9zm4-1l3-4-4-2-3 2zm-36 0l3-8-4-6-3 15z"/><path class="c72" d="M646 113l3-14-4-3-3 2zm-22-4l3-11-4-1-3-3zm-83-9l3-10-4 2-3 3zm-21 0l3-4-4-6-3 0zm-87-12l4-1-4 4-4-9zm-42 3l3-11-4 5-4-1zm-33-8l3 0-4-1-3 3z"/><path class="c73" d="M656 102l3 2-4 0-3-12zm-68-5l3-4-4 7-3-2zm-50-9l3 12-4-5-3-5zm-65-2l3-2-4 10-3 1zm-25 2l3-1-4 2-3-1zm-10 12l3-27-4 14-4 1zm-8-10l3-2-4-6-3 4zm-25-6l3-5-4 2-3 14zm3-5l4 9-4 4-4-11zm-7 16l3-14-4 2-3-7zm-28-16l3 14-4-14-3 2zm-8 1l4 1-4 5-4-3z"/><path class="c74" d="M596 95l3 7-4-9-4 0zm-80-5l3 0-4 1-3-3zm-118-7l3 12-4-19-3 4zm-15 1l3 0-4-4-3-2zm-7 9l3-15-4-3-3 4z"/><path class="c75" d="M653 99l3 3-4-10-3 7zm-22 0l3-1-4-6-3 6zm-18 0l4 7-5-18-3 2zm-10 0l3-5-4-5-3 13zm-40-12l3 10-4 2-3-11zm3 10l4-9-5-3-3 14zm-21-8l4-1-5 2-3 10zm-82-2l3 6-4-13-3 6zm3 6l3 2-4-18-3 3zm-11-14l4 7-4 4-4-3zm4 7l3-6-4 6-3 4z"/><path class="c76" d="M649 99l3-7-4 3-3 1zm-68-4l3 3-4-17-3 14zm-58 1l4-14-4 5-4 3zm-82-23l3 15-4-6-3 5z"/><path class="c77" d="M638 96l4 2-4-12-4 12zm-68-12l4 10-4-6-4 9zm4 10l3 1-4-10-3 3zm-43-5l3 1-4 1-3-9zm-51-6l4-2-4 9-4-6zm4-2l3 7-4-12-3 14z"/><path class="c78" d="M599 102l3-13-4-10-3 14zm-50-14l3-2-4 2-4 2zm-61-3l3-2-4 5-3-7zm3-2l3-3-4 0-3 8z"/><path class="c79" d="M606 94l3-4-4-5-3 4zm-93-9l3 5-4-2-3-12z"/><path class="c80" d="M556 79l3 9-4 0-3-2zm-50 7l3-10-4 9-3-1z"/><path class="c81" d="M498 76l4 8-5-6-3 2z"/><path class="c64" d="M337 98l3-8-4-1-3 5z"/><path class="c69" d="M341 86l3-5-4 9-3 8z"/><path class="c70" d="M632 99l3 12-4-12-3 11zm-7 6l3 5-4-1-3-13zm-234-12l4-5-4 3-4-5zm-7 3l3-10-4-2-3 8zm-40-15l4 4-4 3-4 2z"/><path class="c71" d="M642 107l4 6-4-15-4-2zm-222-20l3 6-4-5-3 4zm-18 6l3-9-4 11-3-12zm-25-11l3 10-4 1-3-14zm-25-1l3 7-4-2-3-1z"/><path class="c72" d="M639 99l3 8-4-11-3 15zm-22 2l4-5-4 10-4-7zm-93-3l3-8-4 6-3 4zm-90-16l4 18-5-12-3 2zm-7 3l3 5-4-4-3 7zm-11 0l4 2-4 5-4 1zm-29 1l4 5-5-7-3 0z"/><path class="c73" d="M650 100l3-1-4 0-3 14zm-15 11l3-15-4 2-3 1zm-21-5l3-5-4-2-3-2zm-14-5l3-2-4 3-3-7zm-15-4l3 0-4 1-3-3zm-115-9l3-2-4 9-3-2zm-46-3l3 0-4 8-3-6zm-29 3l3-5-4-3-3 11zm-36-2l3-8-4 5-3 5z"/><path class="c74" d="M542 99l3-10-4 11-3-12zm-25-7l3 8-4-10-3-5zm-108-8l3 9-4-14-3 5zm-43 7l3-10-4-1-3-2zm-4-13l3 2-4 3-3 0z"/><path class="c75" d="M607 96l3 1-4-3-3 5zm-15-1l4 0-5-2-3 4zm-125-10l3 3-4 5-3-6zm-8 9l4-7-4-1-4-7zm-17-4l3-6-4-11-3 27zm-73-9l4-2-4 2-4-1z"/><path class="c76" d="M610 97l3 2-4-9-3 4zm-32-9l3 7-4 0-3-1zm-46 10l3-11-4 2-4 1zm-58-15l3 11-4-8-3 2zm3 11l3-11-4 1-3 2zm-28-4l3-8-4 6-3-4z"/><path class="c77" d="M582 93l3 4-4-2-3-7zm-25 4l3-2-4-16-3 16zm-8-7l4 5-4-7-4 1zm-14-3l3 1-4 2-3-1zm-8 3l4-1-4-7-4 14zm-75-8l3-3-4 8-3 1zm-7 2l3 4-4 0-3-15z"/><path class="c78" d="M485 89l3-4-4-4-4 2z"/><path class="c79" d="M567 89l3-5-4 13-3-10zm-7 6l3-8-4 1-3-9zm-7 0l3-16-4 7-3 2z"/><path class="c80" d="M574 89l4-1-4 6-4-10zm-64-1l3-3-4-9-3 10z"/><path class="c81" d="M506 80l4 8-4-2-4-7zm-7 5l3-6-4-3-3 11zm3-6l4 7-4-2-4-8zm-10-6l3 14-4-4-3 2zm3 14l3-11-4 4-3 3z"/><path class="c68" d="M626 117l3-14-4 2-4 8zm-8-1l3-3-4-12-3 5z"/><path class="c69" d="M388 95l3-2-4-7-3 10zm-18 0l4 0-5-14-3 10z"/><path class="c70" d="M378 94l3-2-4-10-3 13zm3-2l3 4-4-4-3-10z"/><path class="c71" d="M647 100l3 0-4 13-4-6zm-18 3l3-4-4 11-3-5zm-8 10l4-8-4-9-4 5zm-218-19l3-4-4 3-3-6z"/><path class="c72" d="M636 107l3-8-4 12-3-12zm-115-13l3 4-4 2-3-8zm-83-5l4 1-4 10-4-18zm-43-4l4 2-4 1-4 5zm4 2l3 6-4-10-3 5zm-36 3l3 1-4-13-3 8zm-7-2l3-2-4 2-3-7z"/><path class="c73" d="M643 110l4-10-5 7-3-8zm-32-6l3 2-4-9-3-1zm-68-4l3-4-4 3-3-3zm-15-3l4 1-5-8-3 8zm-75 5l3-11-4-9-3 8zm-7-6l3-6-4-6-3 6zm-40-6l3-6-4 0-3 9zm-32 5l3-13-4-3-4 2zm-21-4l3-3-4-7-4-3z"/><path class="c74" d="M600 101l4-2-4 2-4-4zm4-2l3-3-4 3-3 2zm-15 2l3-6-4 2-3 0zm-53-1l3-4-4-9-3 11zm-101-10l3-1-4-7-3 10zm-4 2l3-10-4 8-3-5zm-18-8l3 1-4 8-3-9z"/><path class="c75" d="M593 100l3-3-4-2-3 6zm3-3l4 4-4-6-4 0zm-50-1l3-6-4-1-3 10zm-86-9l3-1-4 8-3-3zm3-1l4-1-4 2-4 7zm-35 0l3 6-4-7-3 0zm-7 0l3-1-4 2-4-2zm-11-2l3 0-4 0-3 6zm-65-3l3-3-4 3-3 5zm3-3l4 3-4 4-4-4z"/><path class="c76" d="M586 91l3 10-4-4-3-4zm-33 2l4 4-4-2-4-5zm-14 3l3 3-4-11-3-1zm-21-5l3 3-4-2-3-4zm-33-1l4 2-4-3-4-1zm-4-2l4 1-5-6-3 11zm-25 3l3 3-4-15-3 3z"/><path class="c77" d="M561 95l3-13-4 13-3 2zm-47-7l3 4-4-7-3 3z"/><path class="c78" d="M478 79l3 9-4 6-3-11zm-7 4l3 0-4 5-3-3z"/><path class="c79" d="M489 92l3-19-4 12-3 4z"/><path class="c80" d="M564 82l3 7-4-2-3 8z"/><path class="c81" d="M579 85l3 8-4-5-4 1zm-8 4l3 0-4-5-3 5zm-61-7l4 6-4 0-4-8z"/><path class="c82" d="M568 87l3 2-4 0-3-7z"/><path class="c83" d="M503 82l3-2-4-1-3 6zm-7-8l3 11-4 2-3-14z"/><path class="c64" d="M622 115l4 2-5-4-3 3z"/><path class="c66" d="M630 116l3 1-4-14-3 14z"/><path class="c67" d="M637 116l3-5-4-4-3 10z"/><path class="c68" d="M615 111l3 5-4-10-3-2zm-241-20l4 3-4 1-4 0z"/><path class="c69" d="M612 115l3-4-4-7-3 2zm-245-26l3 6-4-4-3-1z"/><path class="c70" d="M450 98l3 4-4-12-3 6zm-65-15l3 12-4 1-3-4zm-28 8l3-1-4-2-3 3z"/><path class="c71" d="M640 111l3-1-4-11-3 8zm-7 6l3-10-4-8-3 4zm-176-16l3-14-4 4-3 11zm-65-10l3-6-4 8-3 2zm-28 1l3-3-4 1-3 0zm-4-2l3 0-4-4-3 2z"/><path class="c72" d="M597 112l3-11-4-4-3 3zm-57-14l3 2-4-4-3 4zm-15 2l3-3-4 1-3-4zm-79-7l4 5-4-2-4-9zm-39 1l3-10-4 6-3 4zm-8-2l4 2-4-7-4-2zm-17-8l3-1-4 9-3 2z"/><path class="c73" d="M604 105l4 1-4-7-4 2zm4 1l3-2-4-8-3 3zm-61-8l3 3-4-5-3 4zm-105-11l4 9-4-6-4-1zm-53-3l3 7-4 4-3-12z"/><path class="c74" d="M529 96l3-7-4 8-3 3zm3-7l4 11-4-2-4-1zm-10 9l3 2-4-6-3-3zm-83-2l3-9-4 2-3 1z"/><path class="c75" d="M554 91l3 9-4-7-3 8zm3 9l4-5-4 2-4-4zm-7 1l3-8-4-3-3 6zm-118-16l3 5-4 2-3-6zm-83-6l4 12-5-13-3 3z"/><path class="c76" d="M590 98l3 2-4 1-3-10zm-118-3l3-1-4-11-3 5zm-51-9l4 3-4-3-4 2zm4 3l3-3-4-1-3 1zm-8-1l4-2-5-1-3-1z"/><path class="c77" d="M414 83l3 5-4-4-3 0z"/><path class="c78" d="M489 91l4-11-4 12-4-2zm-21-3l3-5-4 2-4 1z"/><path class="c79" d="M475 94l3-15-4 4-3 0zm-11-12l4 6-5-2-3 1z"/><path class="c80" d="M579 100l4-6-4-9-4-1zm4-6l3-3-4 2-3-8zm-68-7l3 4-4-3-4-6z"/><path class="c81" d="M565 89l3-2-4-5-3 13zm-83-14l3 15-4-2-3-9z"/><path class="c82" d="M572 90l3-6-4 5-3-2zm-68-3l3-2-4-3-3 1z"/><path class="c83" d="M575 84l4 1-5 4-3 0zm-68 1l3-3-4-2-3 2zm-7-2l3-1-4 3-3-11z"/><path class="c84" d="M493 80l3-6-4-1-3 19z"/><path class="c85" d="M497 83l3 0-4-9-3 6z"/><path class="c62" d="M623 120l3 3-4-8-3 8z"/><path class="c63" d="M626 123l4-7-4 1-4-2z"/><path class="c64" d="M619 123l3-8-4 1-3-5z"/><path class="c65" d="M634 115l3 1-4 1-3-1z"/><path class="c66" d="M616 109l3 14-4-12-3 4z"/><path class="c69" d="M609 111l3 4-4-9-4-1z"/><path class="c70" d="M454 86l3 15-4 1-3-4zm-86 9l3 0-4-6-3 3zm3 0l3-4-4 4-3-6z"/><path class="c71" d="M601 104l3 1-4-4-3 11zm-61 1l4-8-4 1-4 9zm-179-16l3 3-4-2-3 1zm-8 5l4-3-4 0-4-12z"/><path class="c72" d="M404 86l3 8-4 0-4-2z"/><path class="c73" d="M558 110l4-9-5-1-3-9zm-22-3l4-9-4 2-4-11zm-78-12l3 3-4 3-3-15zm-7 3l3-12-4 12-4-5zm-8-2l3-3-4-6-3 9zm-7 2l3-2-4-6-3-5zm-40-7l3 1-4-7-3 6zm-18-9l4 2-4 10-4-3z"/><path class="c74" d="M598 100l3 4-4 8-3-20zm-54-3l3 1-4 2-3-2zm-11 1l3 9-4-18-3 7zm-7-4l3 2-4 4-3-2zm-65 4l3-16-4 5-3 14zm-68-9l3 2-4 0-3-7zm-18-6l3-1-4 9-3 4z"/><path class="c75" d="M594 92l3 20-4-12-3-2zm-43 5l3-6-4 10-3-3zm-75-3l3-8-4 8-3 1zm-43-7l3 11-4-13-3 5z"/><path class="c76" d="M562 101l3-12-4 6-4 5zm-133-11l3-5-4 1-3 3zm-18-6l3-1-4 1-3 10zm-11-5l4 7-5 6-3-1zm-14 8l3-3-4-1-3 1z"/><path class="c77" d="M591 105l3-13-4 6-3-4zm-8-5l4-6-4 0-4 6zm-158-15l4 5-4-1-4-3z"/><path class="c78" d="M587 94l3 4-4-7-3 3zm-68-6l3 10-4-7-3-4zm-51 1l4 6-4-7-4-6zm-50-8l3 5-4 2-3-5z"/><path class="c79" d="M483 96l3-1-4-20-3 11zm3-1l3-4-4-1-3-15z"/><path class="c80" d="M576 95l3 5-4-16-3 6zm-61-4l4-3-4-1-4 2zm-7 1l3-3-4-4-3 2zm-15 2l4-11-4-3-4 11z"/><path class="c81" d="M566 92l3-9-4 6-3 12zm-55-3l4-2-5-5-3 3zm-32-3l3-11-4 4-3 15z"/><path class="c82" d="M501 85l3 2-4-4-3 0z"/><path class="c83" d="M569 83l3 7-4-3-3 2z"/><path class="c61" d="M627 122l3 1-4 0-3-3z"/><path class="c63" d="M630 123l4-8-4 1-4 7z"/><path class="c65" d="M620 114l3 6-4 3-3-14z"/><path class="c67" d="M613 117l3-8-4 6-3-4z"/><path class="c68" d="M444 104l3-1-4-7-3 7zm-79-1l3-8-4-3-3-3z"/><path class="c69" d="M609 112l4 5-4-6-4-6zm-72 1l3-8-4 2-3-9zm-176-17l4 7-4-14-4 3z"/><path class="c70" d="M440 103l3-7-4 0-3 2z"/><path class="c71" d="M545 108l3 0-4-11-4 8zm-98-5l4-5-5-5-3 3zm-10-4l3 4-4-5-3-11zm-65-6l3-10-4 12-3 0zm-15-1l4-3-4 2-4 3z"/><path class="c72" d="M605 105l4 6-5-6-3-1zm-143-3l3-9-4 5-3-3z"/><path class="c73" d="M552 106l3-10-4 1-3 11z"/><path class="c74" d="M602 108l3-3-4-1-3-4zm-54 0l3-11-4 1-3-1zm-93-11l3-2-4-9-3 12z"/><path class="c75" d="M580 104l3-4-4 0-3-5zm-18-8l4-4-4 9-4 9zm-7 0l3 14-4-19-3 6zm-68-3l3 0-4 2-3 1zm-15 4l4-3-4 1-4-6z"/><path class="c76" d="M587 99l4 6-4-11-4 6zm-57-6l3 5-4-2-3-2zm-40 0l3 1-4-3-3 4zm-10-1l3 4-4-10-3 8zm-72-6l3-2-4 10-3-8zm-25 5l3-4-4-3-4-2z"/><path class="c77" d="M595 103l3-3-4-8-3 13zm-72-11l3 2-4 4-3-10zm-54-5l3 10-4-8-3 4zm-4 6l3-4-4-7-3 16zm-53 0l3-9-4 0-3 2zm-15-10l3-4-4 12-3-2zm-10 0l3-3-4 7-3 4zm3-3l3 9-4-5-3 3zm-11 5l4 6-5-9-3 1z"/><path class="c78" d="M577 94l3 10-4-9-3-2zm-50 4l3-5-4 1-3-2zm-33-5l4-7-5 8-3-1zm-64-9l3 3-4 3-4-5z"/><path class="c79" d="M512 89l3 2-4-2-3 3zm-108-6l4 3-4 0-4-7z"/><path class="c80" d="M519 91l4 1-4-4-4 3zm-100 0l3-11-4 1-3 3zm3-11l3 5-4 1-3-5zm-7 4l3-3-4 2-3 1z"/><path class="c81" d="M498 86l3-1-4-2-4 11z"/><path class="c82" d="M570 97l3-4-4-10-3 9zm3-4l3 2-4-5-3-7zm-68-11l3 10-4-5-3-2z"/><path class="c64" d="M624 121l3 1-4-2-3-6z"/><path class="c66" d="M621 121l3 0-4-7-3-2zm-255-19l3-3-4 4-4-7z"/><path class="c67" d="M538 114l3-4-4 3-3-10zm-169-15l3-6-4 2-3 8z"/><path class="c68" d="M617 112l3 2-4-5-3 8zm-68 1l3-7-4 2-3 0zm-8-3l4-2-5-3-3 8zm-93-9l3 2-4 0-3 1z"/><path class="c69" d="M613 112l4 0-4 5-4-5zm-162-9l4-6-4 1-4 5z"/><path class="c70" d="M455 107l4-8-4-2-4 6zm-14-14l3 11-4-1-3-4zm-68 5l3-6-4 1-3 6z"/><path class="c72" d="M606 105l3 7-4-7-3 3zm-147-6l3 3-4-7-3 2z"/><path class="c73" d="M534 103l3 10-4-15-3-5z"/><path class="c74" d="M599 108l3 0-4-8-3 3zm-11 1l4-9-5-1-3 11zm-4 1l3-11-4 1-3 4zm-53-3l3-4-4-10-3 5zm-54-6l3-9-4 2-4 3zm-11 2l3-16-4 6-3 9zm-36 0l4-3-4-16-4 8z"/><path class="c75" d="M592 100l3 3-4 2-4-6zm-11 1l3 9-4-6-3-10zm-25 3l3-6-4-2-3 10zm3-6l3-2-4 14-3-14zm-125 2l3-1-4-12-3-3zm-18-4l3-5-4-7-3 9zm-40-4l3-7-4-2-3 10z"/><path class="c76" d="M408 94l4-1-4-7-4-3z"/><path class="c77" d="M563 104l3-8-4 0-3 2zm-72-11l3 0-4 0-3 0zm-7-4l3 4-4 3-3-4zm-11-4l4 16-5-4-3-10z"/><path class="c78" d="M523 97l4 1-4-6-4-1zm-10 3l3 0-4-11-3 1zm-32-15l3 4-4 3-3 9zm-58 3l3 4-4-12-3 11z"/><path class="c79" d="M574 102l3-8-4-1-3 4zm-8-6l4 1-4-5-4 4zm-50 4l3-9-4 0-3-2zm-118-12l3 3-4-8-3-6zm3 3l3-8-4-4-3 4zm-18-17l4 9-4 8-4-6z"/><path class="c80" d="M426 92l4-8-5 1-3-5zm-32-15l3 6-4 6-3-9z"/><path class="c81" d="M506 94l3-4-4-8-3 9zm3-4l3-1-4 3-3-10z"/><path class="c82" d="M498 82l4 9-4-5-4 7zm4 9l3-9-4 3-3 1zm-111-9l3-5-4 3-3 3z"/><path class="c65" d="M370 111l3-13-4 1-3 3z"/><path class="c68" d="M545 106l4 7-4-5-4 2zm-93 3l3-2-4-4-3-2z"/><path class="c69" d="M617 113l4 8-4-9-4 0zm-68-4l4 4-4 0-4-7zm4 4l3-9-4 2-3 7zm-11-5l3-2-4 4-3 4zm-7 2l3 4-4-11-3 4z"/><path class="c70" d="M445 104l3-3-4 3-3-11zm-28-3l3 1-4-6-3 3z"/><path class="c71" d="M434 105l4-15-4 10-4 3z"/><path class="c72" d="M610 109l3 3-4 0-3-7zm-168-1l3-4-4-11-3-3zm-29-9l3-3-4-3-4 1z"/><path class="c73" d="M592 107l4 4-4-11-4 9zm-7-1l3 3-4 1-3-9zm-176-4l4-3-5-5-3-6zm-32-4l3-15-4 9-3 6z"/><path class="c74" d="M596 111l3-3-4-5-3-3zm-72-11l4 3-5-6-3 7zm4 3l3 4-4-9-4-1zm-11-1l3 2-4-4-3 0zm-54-20l3 21-4-1-3-3zm-25 8l3 3-4 6-3 1zm-11 5l3 8-4-11-3-4zm-7 7l3-14-4 3-3 5z"/><path class="c75" d="M600 111l3-23-4 20-3 3z"/><path class="c76" d="M603 88l3 17-4 3-3 0zm-28 11l3 8-4-5-4-2zm3 8l3-6-4-7-3 8zm-18-7l3 4-4-6-3 6zm-40 4l3-7-4-6-3 9zm-60-13l3-9-4 17-4 8z"/><path class="c77" d="M567 100l3 0-4-4-3 8zm3 0l4 2-4-5-4-1zm-78-2l3 1-4-6-3 0zm-22-3l3-10-4 2-3 16zm-68-6l3-1-4 3-3-3zm3-1l3 6-4-11-3 8z"/><path class="c78" d="M607 106l3 3-4-4-3-17zm-105 2l4-14-4-3-4-9zm-35-19l3 6-4 8-3-21z"/><path class="c79" d="M510 89l3 11-4-10-3 4zm-15 10l3-17-4 11-3 0zm-7-6l3 0-4 0-3-4z"/><path class="c80" d="M384 92l3-2-4-16-3 9zm-4-9l3-9-4 11-3 7z"/><path class="c81" d="M387 90l4-8-4 1-4-9z"/><path class="c82" d="M485 83l3 10-4-4-3-4zm-8-3l4 5-4 16-4-16zm-82 2l3 6-4-11-3 5z"/><path class="c67" d="M453 110l3-11-4 10-3 2zm-4 1l3-2-4-8-3 3zm-75-14l3 1-4 0-3 13z"/><path class="c68" d="M446 101l3 10-4-7-3 4z"/><path class="c69" d="M546 117l3-8-4-3-3 2zm-133-12l4-4-4-2-4 3z"/><path class="c70" d="M536 116l3-12-4 6-3-6zm3-12l3 4-4 6-3-4zm-111 10l3-14-4-5-3 4zm-7-9l3-6-4 3-3-1z"/><path class="c71" d="M554 105l3 2-4 6-4-4zm-22-1l3 6-4-3-3-4zm-76-5l4-8-5 16-3 2zm-18 1l4 8-4-18-4 15zm-7 0l3 5-4-2-3-8z"/><path class="c72" d="M589 113l3-6-4 2-3-3z"/><path class="c73" d="M614 102l3 11-4-1-3-3zm-18 2l4 7-4 0-4-4zm-10 2l3 7-4-7-3 3zm-29 1l3-7-4 4-3 9zm-29 3l4-6-4-1-4-3zm-32 1l3-12-4 0-3-1z"/><path class="c74" d="M611 115l3-13-4 7-3-3zm-32-5l3-1-4-2-3-8zm3-1l3-3-4-5-3 6zm-61-8l3-1-4 4-3-2zm-18-3l4 4-5 6-3-9zm-79 1l3-4-4-7-3 14zm-18-2l3 5-4-14-3 1z"/><path class="c75" d="M561 104l3-1-4-3-3 7zm-180-11l3-1-4-9-3 15z"/><path class="c76" d="M564 103l3-3-4 4-3-4zm-57-1l3-13-4 5-4 14zm-8-3l3 9-4-26-3 17zm-111-2l3-9-4 2-3 2z"/><path class="c77" d="M604 108l3-2-4-18-3 23zm-93-1l3-12-4-6-3 13z"/><path class="c78" d="M514 95l3 7-4-2-3-11z"/><path class="c79" d="M396 96l3-8-4-6-4 6zm3-8l3 1-4-1-3-6z"/><path class="c80" d="M571 92l4 7-5 1-3 0zm-180-4l4-6-4 0-4 8z"/><path class="c81" d="M489 86l3 12-4-5-3-10zm-25 10l3-7-4-7-3 9z"/><path class="c82" d="M471 86l3-1-4 10-3-6z"/><path class="c83" d="M478 95l3-4-4-11-3 5zm-4-10l3-5-4 5-3 10z"/><path class="c85" d="M481 91l4-8-4 2-4-5z"/><path class="c67" d="M425 112l3 2-4-15-3 6z"/><path class="c68" d="M417 107l4-2-4-4-4 4z"/><path class="c69" d="M532 112l4 4-4-12-4 6zm-82-15l3 13-4 1-3-10zm-72 15l3-19-4 5-3-1z"/><path class="c70" d="M540 118l3-14-4 0-3 12zm-108-17l3 0-4-1-3 14zm-50 0l3-6-4-2-3 19z"/><path class="c71" d="M550 108l4-3-5 4-3 8zm-7-4l3 13-4-9-3-4zm-100-4l3 1-4 7-4-8zm-8 1l3-1-4 5-3-5zm-25-6l3 10-4-3-3-5z"/><path class="c72" d="M547 107l3 1-4 9-3-13zm-90-8l3 4-4-4-3 11zm-18 6l4-5-5 0-3 1z"/><path class="c73" d="M608 110l3 5-4-9-3 2zm-25 0l3-4-4 3-3 1zm-18 0l3 2-4-9-3 1zm-65-7l3-5-4 1-3 12z"/><path class="c74" d="M590 106l3 1-4 6-3-7zm3 1l3-3-4 3-3 6zm-68-2l3 5-4-10-3 1zm-118-3l3-7-4 2-3-4zm-15-4l4-2-5-8-3 9zm-7-3l3 2-4-5-3 1z"/><path class="c75" d="M558 105l3-1-4 3-3-2zm-51-6l4 8-4-5-4-4zm-14 4l3 8-4-13-3-12zm-29 0l4-7-4 0-4 7zm-4 0l4-7-4-5-4 8zm-60-3l3-7-4-5-3 8z"/><path class="c76" d="M601 98l3 10-4 3-4-7zm-83 3l3 0-4 1-3-7z"/><path class="c77" d="M605 105l3 5-4-2-3-10zm-8 9l4-16-5 6-3 3zm-25-8l3-1-4-13-3 20zm-4 6l3-20-4 8-3 3zm-46-15l3 8-4-4-3 0zm-7-2l3 6-4-6-3 12zm-112-2l3 4-4-8-3-1z"/><path class="c78" d="M575 105l4 5-4-11-4-7zm-85-4l3 2-4-17-4 11z"/><path class="c80" d="M482 91l3 6-4-6-3 4zm-7 15l3-11-4-10-3 1zm-7-10l3-10-4 3-3 7z"/><path class="c82" d="M485 97l4-11-4-3-4 8z"/><path class="c66" d="M537 119l3-1-4-2-4-4z"/><path class="c67" d="M426 110l3-2-4 4-4-5zm3-2l3-7-4 13-3-2zm-8-1l4 5-4-7-4 2z"/><path class="c68" d="M533 115l4 4-5-7-3 0zm-90 4l4-9-4-10-4 5z"/><path class="c69" d="M418 108l3-1-4 0-3-8z"/><path class="c70" d="M529 112l3 0-4-2-3-5zm-78-3l3-2-4-10-3 13z"/><path class="c71" d="M584 120l3-8-4-2-4 1zm-33-4l3-5-4-3-3-1zm-7-2l3-7-4-3-3 14zm-130-15l3 8-4-2-3-10zm-28 7l3-6-4-5-3 6z"/><path class="c72" d="M569 113l3-7-4 6-3-2zm-72-9l3-1-4 8-3-8zm-43 3l3-8-4 11-3-13zm-7 3l3-13-4 4-3-1zm-11-7l3 2-4-4-3 0zm-25 2l3-6-4-4-3 7zm-7-1l3-2-4-9-3 7z"/><path class="c73" d="M579 111l4-1-4 0-4-5zm-21 2l4-2-4-6-4 6zm-165-13l3-2-4 0-3 2zm3-2l4 2-4-4-4 2zm-7 2l3-2-4-1-3-2z"/><path class="c74" d="M594 113l3 1-4-7-3-1zm-7-1l3-6-4 0-3 4zm-11 0l3-1-4-6-3 1zm-14-1l3-1-4-6-3 1zm-8 0l4-6-4 0-4 3zm-60-5l3-2-4-1-3-2z"/><path class="c75" d="M526 106l3 6-4-7-3-8zm-65-11l3 8-4 0-3-4z"/><path class="c77" d="M601 109l4-4-4-7-4 16zm-90-9l4-5-4 12-4-8zm-10-3l3 0-4 6-3 1zm3 0l3 2-4-1-3 5z"/><path class="c78" d="M486 99l4 2-5-4-3-6z"/><path class="c79" d="M519 101l3-4-4 4-3-6zm-51-8l4-2-4 5-4 7zm4-2l3 15-4-20-3 10z"/><path class="c80" d="M476 95l3-10-4 21-3-15zm3-10l3 6-4 4-3 11z"/><path class="c64" d="M447 121l4-12-4 1-4 9z"/><path class="c66" d="M541 120l3-6-4 4-3 1z"/><path class="c67" d="M537 115l4 5-4-1-4-4zm-97 1l3 3-4-14-3-2zm-10 1l3-11-4 2-3 2z"/><path class="c69" d="M437 109l3 7-4-13-3 3zm-15-4l4 5-5-3-3 1zm-7 10l3-7-4-9-3 6z"/><path class="c70" d="M580 119l4 1-5-9-3 1zm-125-9l3-7-4 4-3 2zm-47-7l3 2-4-3-3 2z"/><path class="c71" d="M555 109l3 4-4-2-3 5zm-10-4l3 4-4 5-3 6zm3 4l3 7-4-9-3 7zm-115-3l3-3-4-2-3 7zm-29-4l4 1-4 1-4-2zm-14 1l3-3-4 0-3 6z"/><path class="c72" d="M595 119l3-12-4 6-3 3zm-25-6l3-2-4 2-3 0zm-8-3l4 3-4-2-4 2zm4 3l3 0-4-3-3 1zm-169-8l3-3-4-4-3 2zm3-3l4 2-4-4-4-2z"/><path class="c73" d="M588 104l3 12-4-4-3 8zm3 12l3-3-4-7-3 6zm-18-5l3 1-4-6-3 7zm-43-12l3 16-4-3-3-6z"/><path class="c74" d="M598 107l3 2-4 5-3-1zm-108 1l4-2-4-5-4-2z"/><path class="c75" d="M512 105l3 2-4-7-3 6zm-14 2l3-10-4 7-3 2zm-40-4l3-8-4 4-3 8z"/><path class="c76" d="M487 101l3 7-4-9-3 2z"/><path class="c77" d="M520 98l3 6-4-3-4 6zm3 6l3 2-4-9-3 4zm-15 2l3-6-4-1-3-2z"/><path class="c78" d="M515 107l4-6-4-6-4 5zm-10-5l3 4-4-9-3 0zm-43-1l3-9-4 3-3 8z"/><path class="c79" d="M465 92l3 1-4 10-3-8z"/><path class="c80" d="M473 102l3-7-4-4-4 2z"/><path class="c81" d="M483 101l3-2-4-8-3-6z"/><path class="c82" d="M480 94l3 7-4-16-3 10z"/><path class="c63" d="M444 114l3 7-4-2-3-3z"/><path class="c66" d="M448 112l3-1-4 10-3-7z"/><path class="c67" d="M451 111l4-1-4-1-4 12zm-10 0l3 3-4 2-3-7zm-7 4l3-6-4-3-3 11zm-11 1l3-3-4-8-3 8zm3-3l4 4-4-7-4-5zm-10-7l3 7-4 2-3-7zm3 7l3-8-4 3-3 7z"/><path class="c68" d="M412 108l3 7-4-10-3-2z"/><path class="c70" d="M581 120l3-5-4 4-3-4zm-40-4l4-11-4 15-4-5zm-147-5l3-6-4-5-3 3z"/><path class="c71" d="M574 122l3-7-4-4-3 2zm3-7l3 4-4-7-3-1zm-10 7l3-9-4 0-4-3zm-11-6l3 5-4-12-3 4zm-147-10l3 2-4-5-4-1z"/><path class="c72" d="M592 121l3-2-4-3-3-12zm-8-6l4-11-4 16-4-1zm-25 6l3-11-4 3-3-4zm-7-8l3-4-4 7-3-7zm-58-3l4-3-4-1-4 2zm-35 3l3-12-4 2-3 7zm-58-12l3 1-4 0-3 3z"/><path class="c73" d="M549 119l3-6-4-4-3-4zm-15-10l3 6-4 0-3-16zm-36-3l4 1-4 0-4 3z"/><path class="c76" d="M531 114l3-5-4-10-3 2zm-22-8l3-1-4 1-3-4zm-7 1l3-5-4-5-3 10zm-11-12l3 15-4-2-3-7zm-18 6l4-2-4 3-4 6zm-7 3l3 4-4-16-3 9z"/><path class="c77" d="M516 103l4-5-5 9-3-2z"/><path class="c78" d="M527 101l3-2-4 7-3-2zm-43 3l3-3-4 0-3-7zm-15 4l4-6-5-9-3-1z"/><path class="c79" d="M524 105l3-4-4 3-3-6zm-47-6l3-5-4 1-3 7z"/><path class="c64" d="M427 121l3-1-4-7-3 3zm3-1l4-5-4 2-4-4z"/><path class="c66" d="M445 120l3-8-4 2-3-3z"/><path class="c67" d="M435 116l3-12-4 11-4 5zm-15-5l3 5-4-3-3-7z"/><path class="c68" d="M567 120l4-2-4 4-4-2z"/><path class="c69" d="M578 119l3 1-4-5-3 7zm-7-1l3 4-4-9-3 9zm-8 2l4 2-5-12-3 11zm-10 2l3-6-4-3-3 6zm-101-8l4-1-5-2-3 1zm4-1l3 0-4-3-4 1zm-18-9l3 7-4-2-3 6zm-25 9l3-7-4 2-3-2zm-11 5l3-10-4-7-3 7z"/><path class="c70" d="M460 107l3 7-4-1-3 0zm-62 1l3-7-4 4-3 6z"/><path class="c71" d="M585 121l3-9-4 3-3 5zm-25-14l3 13-4 1-3-5z"/><path class="c72" d="M545 113l4 6-4-14-4 11zm-7-5l3 8-4-1-3-6zm-75 6l3-10-4-3-3 12zm-58-6l4-2-5-4-3-1z"/><path class="c74" d="M588 112l4 9-4-17-4 11zm-46-2l3 3-4 3-3-8zm-7 0l3-2-4 1-3 5zm-65 1l3-10-4 7-3-4z"/><path class="c75" d="M528 111l3 3-4-13-3 4zm-22-2l3-3-4-4-3 5z"/><path class="c76" d="M510 106l3 0-4 0-3 3zm3 0l3-3-4 2-3 1zm-10-3l3 6-4-2-4-1zm-8 6l3-3-4 4-3-15z"/><path class="c79" d="M520 103l4 2-4-7-4 5zm-32-5l3-3-4 6-3 3zm-11 4l4-1-4-2-4 2zm4-1l3 3-4-10-3 5z"/><path class="c80" d="M517 96l3 7-4 0-3 3zm-32 1l3 1-4 6-3-3z"/><path class="c64" d="M431 115l4 1-5 4-3 1z"/><path class="c65" d="M424 115l3 6-4-5-3-5z"/><path class="c68" d="M579 126l3-4-4-3-3 5zm-4-2l3-5-4 3-3-4zm-21-4l3 5-4-3-3-2zm-105-13l3 7-4-2-3 8zm-7 8l3 5-4-9-3-7zm-25 0l3-4-4-5-3 7z"/><path class="c69" d="M582 122l3-1-4-1-3-1zm-32-2l3 2-4-3-4-6zm-104-11l3-2-4 13-3-5zm-33 0l4 6-4-2-4-10z"/><path class="c70" d="M571 117l4 7-4-6-4 2zm-14 8l3-18-4 9-3 6zm-101-12l4-6-4 6-4 1zm-17-3l3 5-4-11-3 12zm-33-6l3-1-4 5-3 10zm3-1l4 10-4-7-4 2z"/><path class="c71" d="M546 121l4-1-5-7-3-3z"/><path class="c72" d="M564 117l3 3-4 0-3-13zm-100-4l3-9-4 10-3-7z"/><path class="c73" d="M471 108l3 4-4-1-3-7zm-4-4l3 7-4-7-3 10z"/><path class="c74" d="M539 119l3-9-4-2-3 2zm-7-7l3-2-4 4-3-3z"/><path class="c75" d="M528 106l4 6-4-1-4 0zm-21 10l3-10-4 3-3-6zm-33-4l3-10-4-1-3 10z"/><path class="c76" d="M524 111l4 0-4-6-4-2z"/><path class="c77" d="M521 120l3-9-4-8-3-7zm-22-20l4 3-5 3-3 3z"/><path class="c78" d="M496 103l3-3-4 9-3-3zm-7 8l3-5-4-8-3-1zm-8-1l4-13-4 4-4 1z"/><path class="c79" d="M514 107l3-11-4 10-3 0zm-22-1l3 3-4-14-3 3z"/><path class="c66" d="M428 115l3 0-4 6-3-6z"/><path class="c68" d="M565 125l3 5-4-13-3 6zm-7-2l3 0-4 2-3-5zm-8 2l4-5-4 0-4 1zm-10-1l3 2-4-7-3-1zm-105-10l4-4-4 6-4-1zm-14-7l3 8-4-4-3 4z"/><path class="c69" d="M575 124l4 2-4-2-4-7zm-7 6l3-13-4 3-3-3zm-136-17l3 1-4 1-3 0zm-14 2l3-8-4 8-4-6z"/><path class="c70" d="M543 126l3-5-4-11-3 9zm-100-11l3-6-4 6-3-5zm-18-6l3 6-4 0-3-8z"/><path class="c71" d="M561 123l3-6-4-10-3 18zm-101-8l4-2-4-6-4 6z"/><path class="c72" d="M536 118l3 1-4-9-3 2zm-83-12l3 7-4 1-3-7z"/><path class="c73" d="M533 119l3-1-4-6-4-6zm-26-1l4-5-4 3-4-9zm-50-13l3 10-4-2-3-7z"/><path class="c74" d="M525 111l3-5-4 5-3 9zm-14 2l3-6-4-1-3 10zm-29-2l4-2-5 1-3-3zm-14-2l3-1-4-4-3 9zm-18 2l3-5-4 1-3 2zm-40-9l3 7-4-6-3 1z"/><path class="c75" d="M518 117l3 3-4-24-3 11zm-43-11l3 1-4 5-3-4zm3 1l3 3-4-8-3 10z"/><path class="c76" d="M493 110l3-7-4 3-3 5zm-7-1l3 2-4-14-4 13z"/><path class="c77" d="M503 107l4 9-4-13-4-3z"/><path class="c80" d="M500 102l3 5-4-7-3 3z"/><path class="c62" d="M569 142l3-6-4-6-3-5z"/><path class="c66" d="M572 136l3-12-4-7-3 13z"/><path class="c67" d="M544 125l3 0-4 1-3-2zm3 0l3 0-4-4-3 5z"/><path class="c68" d="M562 128l3-3-4-2-3 0zm-11-4l3-2-4 3-3 0z"/><path class="c69" d="M554 122l4 1-4-3-4 5z"/><path class="c70" d="M439 115l4 0-4-5-4 4z"/><path class="c71" d="M537 112l3 12-4-6-3 1zm-94-1l4 2-4 2-4 0zm4 2l3-2-4-2-3 6zm-11-8l3 10-4-1-3-1z"/><path class="c72" d="M522 114l3-3-4 9-3-3zm-108-4l4 5-5-6-3-7z"/><path class="c73" d="M465 105l3 4-4 4-4 2zm-36-4l3 12-4 2-3-6zm-7-2l3 10-4-2-3 8z"/><path class="c74" d="M519 116l3-2-4 3-3-12zm-33-3l4-2-4-2-4 2zm4-2l3-1-4 1-3-2z"/><path class="c75" d="M526 115l3-3-4-1-3 3zm3-3l4 7-5-13-3 5zm-17-3l3-4-4 8-4 5zm3-4l3 12-4-10-3 6zm-54 2l4-2-5 10-3-10z"/><path class="c76" d="M494 110l3-3-4 3-3 1zm-15-5l3 6-4-4-3-1zm-10 6l3-5-4 3-3-4zm3-5l3 0-4 2-3 1z"/><path class="c77" d="M504 108l3 10-4-11-3-5zm-50-6l3 3-4 1-3 5z"/><path class="c78" d="M497 107l3-5-4 1-3 7z"/><path class="c64" d="M566 128l3 14-4-17-3 3z"/><path class="c65" d="M563 127l3 1-4 0-3 9z"/><path class="c66" d="M559 137l3-9-4-5-4-1z"/><path class="c67" d="M555 125l4 12-5-15-3 2z"/><path class="c70" d="M548 115l3 9-4 1-3 0zm-7 10l3 0-4-1-3-12z"/><path class="c71" d="M418 121l4-22-4 16-4-5z"/><path class="c72" d="M430 115l3 5-4-19-3 11zm-8 0l4-3-4-13-4 22z"/><path class="c73" d="M537 117l4 8-4-13-4 5zm-104 3l3-15-4 8-3-12z"/><path class="c74" d="M533 117l4-5-4 7-4-7zm-53 0l3-6-4-6-3 10zm-32-6l3-4-4 6-4-2z"/><path class="c75" d="M508 115l4-6-5 9-3-10zm-35-3l3 3-4-9-3 5zm-22-5l3-5-4 9-3 2z"/><path class="c76" d="M530 109l3 8-4-5-3 3zm-7-3l3 9-4-1-3 2zm-7 8l3 2-4-11-3 4zm-26-7l4 3-4 1-4 2zm-7 4l3 2-4-2-3-6zm-7 4l3-10-4 1-3 0zm-11-3l4-1-4-6-4 2zm-25-16l3 15-4 4-3-10zm-14 16l3-11-4 8-3-10z"/><path class="c77" d="M498 114l3-8-4 1-3 3z"/><path class="c78" d="M455 107l3-2-4-3-3 5zm3-2l3 2-4-2-3-3z"/><path class="c79" d="M505 101l3 14-4-7-3-2zm-4 5l3 2-4-6-3 5z"/><path class="c65" d="M559 133l4-6-4 10-4-12z"/><path class="c71" d="M552 126l3-1-4-1-3-9zm-126-12l4 1-4-3-4 3z"/><path class="c72" d="M549 127l3-1-4-11-3 0zm-4-12l3 0-4 10-3 0zm-111-4l3-1-4 10-3-5z"/><path class="c73" d="M542 119l3-4-4 10-4-8z"/><path class="c74" d="M534 124l3-7-4 0-3-8zm-57-15l3 8-4-2-3-3zm-8 6l4-3-4-1-4 1z"/><path class="c76" d="M524 117l3-1-4-10-3 10zm-8-3l4 2-4-2-4-3zm4 2l3-10-4 10-3-2zm-8-5l4 3-4-5-4 6zm-46-7l3 11-4-3-3-3zm-14 6l3-3-4 0-3 4zm-8 3l4-2-5 0-3-15zm-7-3l3-14-4 9-3 15z"/><path class="c77" d="M509 119l3-8-4 4-3-14zm-18-1l4-8-5-3-3 2zm4-8l3 4-4-4-4-3zm-11-8l3 7-4 2-3 6zm3 7l3-2-4 6-3-2zm-28 2l3-2-4-4-3 2zm3-2l3 3-4-5-3-2zm-21 1l3 3-4-17-3 14z"/><path class="c78" d="M527 116l3-7-4 6-3-9z"/><path class="c80" d="M502 107l3-6-4 5-3 8z"/><path class="c67" d="M553 131l3 0-4-5-3 1zm3 0l3 2-4-8-3 1z"/><path class="c72" d="M546 124l3 3-4-12-3 4zm-115-7l3-6-4 4-4-1z"/><path class="c73" d="M535 119l3 3-4 2-3-6zm3 3l4-3-5-2-3 7z"/><path class="c74" d="M528 121l3-3-4-2-3 1zm-15 2l3-9-4-3-3 8zm-35 2l3-10-4-6-4 5z"/><path class="c75" d="M531 118l3 6-4-15-3 7zm-58-4l4-5-4 3-4 3zm-28 0l3-3-4 2-3-3zm3-3l4-1-4 1-4 2zm-10 2l3-3-4 0-3 1z"/><path class="c76" d="M520 113l4 4-4-1-4-2zm-25 2l4-5-4 0-4 8zm-7 7l3-4-4-9-3-7zm-36-16l4 9-4-5-4 1zm4 9l3-4-4-4-3 3z"/><path class="c77" d="M481 115l3-13-4 15-3-8zm-11-4l3 3-4 1-3-11z"/><path class="c78" d="M499 110l3-3-4 7-3-4z"/><path class="c79" d="M463 102l3 2-4 5-3 2z"/><path class="c80" d="M503 111l3-4-4 0-3 3zm3-4l3 12-4-18-3 6z"/><path class="c68" d="M550 130l3 1-4-4-3-3z"/><path class="c70" d="M439 120l3 7-4-14-3 6z"/><path class="c71" d="M546 127l4 3-4-6-4-4z"/><path class="c72" d="M514 122l3 4-4-3-3-4zm-25 2l3-9-4 7-3-2zm-47 3l3-13-4-4-3 3zm-7-8l3-6-4-2-3 6z"/><path class="c73" d="M542 120l4 4-4-5-4 3zm-10 4l3-5-4-1-3 3zm-7 6l3-9-4-4-4-4zm-8-4l3-13-4 1-3 9zm-25-11l3 0-4 3-3 4zm-10-1l3 6-4-5-3 10zm-8 4l4 7-5-11-3-3z"/><path class="c74" d="M539 122l3-2-4 2-3-3zm-29-3l3 4-4-4-3-12z"/><path class="c75" d="M485 120l3 2-4-20-3 13z"/><path class="c76" d="M507 123l3-4-4-12-3 4zm-51-9l4 0-4 1-4-9z"/><path class="c77" d="M464 120l3-10-4-8-3 12zm-4-6l3-12-4 9-3 4z"/><path class="c78" d="M449 106l3 0-4 5-3 3z"/><path class="c79" d="M499 109l4 2-4-1-4 5z"/><path class="c80" d="M467 110l3 1-4-7-3-2z"/><path class="c70" d="M518 128l3-4-4 2-3-4zm-40 4l4-18-4 11-4-7zm-35-12l3-1-4 8-3-7z"/><path class="c71" d="M525 127l4-8-4 11-4-6zm-4-3l4 6-5-17-3 13zm-10 7l3-9-4-3-3 4zm-11 1l3-2-4-21-3 12z"/><path class="c72" d="M543 127l3 0-4-7-3 2zm-14-8l3 5-4-3-3 9zm-36 6l3-4-4-6-3 9zm-18-5l3 12-4-14-3-7z"/><path class="c73" d="M533 130l3-8-4 2-3-5zm-47-14l3 8-4-4-3-6zm-40 3l3-13-4 8-3 13z"/><path class="c74" d="M536 122l3 0-4-3-3 5zm-33 8l4-7-4-12-4-2zm-35-2l3-17-4-1-3 10zm-7-10l3 2-4-6-4 0z"/><path class="c76" d="M496 121l3-12-4 6-3 0zm-46-2l3-10-4-3-3 13z"/><path class="c77" d="M471 111l3 7-4-7-3-1z"/><path class="c79" d="M453 109l3 5-4-8-3 0z"/><path class="c65" d="M512 138l3-8-4 1-3 3zm-8-5l4 1-5-4-3 2z"/><path class="c67" d="M508 134l3-3-4-8-4 7z"/><path class="c68" d="M522 138l3-11-4-3-3 4z"/><path class="c69" d="M515 130l3-2-4-6-3 9zm-54 7l4-10-4-9-4-1z"/><path class="c70" d="M529 137l4-7-4-11-4 8zm-32-14l3 9-4-11-3 4zm-32 4l3 1-4-8-3-2z"/><path class="c71" d="M537 135l3-14-4 1-3 8zm-90-6l3-10-4 0-3 1z"/><path class="c72" d="M479 117l3 1-4 14-3-12zm-7 11l3-8-4-9-3 17z"/><path class="c73" d="M490 119l3 6-4-1-3-8zm-8-1l4-2-4-2-4 18z"/><path class="c74" d="M540 121l3 6-4-5-3 0z"/><path class="c76" d="M454 118l3-1-4-8-3 10zm3-1l4 1-5-4-3-5z"/><path class="c77" d="M486 113l4 6-4-3-4 2z"/><path class="c63" d="M465 136l4 0-4-9-4 10z"/><path class="c64" d="M508 138l4 0-4-4-4-1z"/><path class="c65" d="M530 141l3-5-4 1-3-4z"/><path class="c66" d="M533 136l4-1-4-5-4 7zm-7-3l3 4-4-10-3 11zm-57 3l3-8-4 0-3-1z"/><path class="c67" d="M516 138l3-16-4 8-3 8zm-15-4l3-1-4-1-3-9zm-28-3l3-5-4 2-3 8z"/><path class="c68" d="M498 132l3 2-4-11-3 6z"/><path class="c69" d="M523 128l3 5-4 5-3-16zm-4-6l3 16-4-10-3 2z"/><path class="c70" d="M458 128l3 9-4-20-3 1z"/><path class="c71" d="M451 126l3-8-4 1-3 10z"/><path class="c72" d="M494 129l3-6-4 2-3-6zm-18-3l3-9-4 3-3 8z"/><path class="c73" d="M491 131l3-2-4-10-4-6z"/><path class="c78" d="M483 111l3 2-4 5-3-1z"/><path class="c65" d="M512 130l4 8-4 0-4 0zm-53 9l3-8-4-3-3 8zm3-8l3 5-4 1-3-9z"/><path class="c67" d="M527 136l3 5-4-8-3-5zm-22-11l3 13-4-5-3 1z"/><path class="c68" d="M520 143l3-15-4-6-3 16zm-18-7l3-11-4 9-3-2zm-32-20l3 15-4 5-4 0z"/><path class="c69" d="M509 133l3-3-4 8-3-13zm-54 3l3-8-4-10-3 8z"/><path class="c70" d="M495 121l3 11-4-3-3 2zm-18 12l3-13-4 6-3 5z"/><path class="c76" d="M480 120l3-9-4 6-3 9z"/><path class="c77" d="M487 117l4 14-5-18-3-2z"/><path class="c78" d="M484 122l3-5-4-6-3 9z"/><path class="c64" d="M521 137l3-2-4 8-3 0zm-4 6l3 0-4-5-4-8zm-54-2l3-11-4 1-3 8z"/><path class="c67" d="M524 135l3 1-4-8-3 15zm-11-1l4 9-5-13-3 3z"/><path class="c68" d="M506 138l3-5-4-8-3 11zm-36 2l4-2-4-22-4 14z"/><path class="c69" d="M499 132l3 4-4-4-3-11zm-25 6l3-5-4-2-3-15zm-8-8l4-14-5 20-3-5z"/><path class="c72" d="M481 128l3-6-4-2-3 13z"/><path class="c73" d="M495 131l4 1-4-11-4 1z"/><path class="c74" d="M491 122l4-1-4 10-4-14z"/><path class="c75" d="M488 130l3-8-4-5-3 5z"/><path class="c63" d="M467 144l3-4-4-10-3 11z"/><path class="c65" d="M474 132l4 4-4 2-4 2z"/><path class="c66" d="M517 135l4 2-4 6-4-9zm-14 1l3 2-4-2-3-4z"/><path class="c67" d="M478 136l3-8-4 5-3 5z"/><path class="c70" d="M510 122l3 12-4-1-3 5zm-28 8l3-3-4 1-3 8z"/><path class="c71" d="M507 128l3-6-4 16-3-2zm-7-8l3 16-4-4-4-1z"/><path class="c72" d="M492 127l3 4-4-9-3 8zm-7 0l3 3-4-8-3 6z"/><path class="c65" d="M471 133l3-1-4 8-3 4z"/><path class="c70" d="M478 125l4 5-4 6-4-4z"/><path class="c72" d="M514 131l3 4-4-1-3-12z"/><path class="c73" d="M489 125l3 2-4 3-3-3z"/><path class="c74" d="M511 134l3-3-4-9-3 6zm-7-6l3 0-4 8-3-16zm-18-4l3 1-4 2-3 3z"/><path class="c75" d="M493 132l3-12-4 7-3-2z"/><path class="c76" d="M496 120l4 0-5 11-3-4z"/><path class="c71" d="M475 134l3-9-4 7-3 1z"/><path class="c73" d="M479 130l4-2-5-3-3 9z"/><path class="c74" d="M508 127l3 7-4-6-3 0zm-25 1l3-4-4 6-4-5z"/><path class="c75" d="M497 126l3 5-4-11-3 12z"/><path class="c76" d="M490 123l3 9-4-7-3-1z"/><path class="c77" d="M500 131l4-3-4-8-4 0z"/><path class="c78" d="M504 113l4 14-4 1-4 3z"/><path class="c74" d="M483 132l4-5-4 1-4 2z"/><path class="c76" d="M487 127l3-4-4 1-3 4z"/><path class="c77" d="M501 133l3-20-4 18-3-5zm-7-12l3 5-4 6-3-9z"/><path class="c79" d="M491 122l3-1-4 2-3 4z"/><path class="c77" d="M498 126l3 7-4-7-3-5zm-11 2l4-6-4 5-4 5z"/><path class="c80" d="M495 126l3 0-4-5-3 1z"/><path class="c79" d="M491 128l4-2-4-4-4 6z"/><path class="c76" d="M285 376l4 1-4-7-3-2z"/><path class="c77" d="M289 360l4 20-4-3-4-1z"/><path class="c78" d="M282 374l3 2-3-8-4-3z"/><path class="c75" d="M283 376l3 0-4-2-3 6z"/><path class="c77" d="M276 367l3 13-4-6-3-3zm3 13l3-6-4-9-3 9z"/><path class="c78" d="M293 375l3 2-3 3-4-20z"/><path class="c79" d="M286 376l3-16-4 16-3-2z"/><path class="c75" d="M297 383l3-4-4-2-3-2z"/><path class="c77" d="M273 378l3-11-4 4-3 7z"/><path class="c78" d="M294 374l3 9-4-8-3-9zm-14-2l3 4-4 4-3-13z"/><path class="c80" d="M287 368l3-2-4 10-3 0z"/><path class="c82" d="M290 366l3 9-4-15-3 16z"/><path class="c75" d="M301 380l3-2-4 1-3 4zm-28 4l4-5-4-1-3-4zm-3-10l3 4-4 0-3-1z"/><path class="c76" d="M305 379l3 5-4-6-3 2zm-7 0l3 1-4 3-3-9z"/><path class="c77" d="M266 372l4 2-4 3-4 2z"/><path class="c78" d="M277 379l3-7-4-5-3 11z"/><path class="c80" d="M284 372l3-4-4 8-3-4z"/><path class="c81" d="M291 378l3-4-4-8-3 2zm-11-13l4 7-4 0-3 7z"/><path class="c69" d="M260 385l3 4-4-2-3-3z"/><path class="c73" d="M263 389l3-17-4 7-3 8z"/><path class="c76" d="M309 374l3 11-4-1-3-5zm-39 8l3 2-3-10-4-2z"/><path class="c78" d="M302 372l3 7-4 1-3-1z"/><path class="c79" d="M295 372l3 7-4-5-3 4z"/><path class="c80" d="M277 368l3-3-3 14-4 5z"/><path class="c81" d="M291 373l4-1-4 6-3-6zm-3-1l3 6-4-10-3 4z"/><path class="c83" d="M284 373l4-1-4 0-4-7z"/><path class="c72" d="M264 384l3-3-4 8-3-4zm-7 3l3-2-4-1-3-4z"/><path class="c74" d="M267 381l3 1-4-10-3 17z"/><path class="c77" d="M271 375l3 3-4 4-3-1zm3 3l3-10-4 16-3-2z"/><path class="c78" d="M313 378l3 3-4 4-3-11z"/><path class="c80" d="M288 381l3-8-3-1-4 1z"/><path class="c81" d="M298 373l4-1-4 7-3-7z"/><path class="c82" d="M306 368l3 6-4 5-3-7zm-11 6l3-1-3-1-4 1z"/><path class="c83" d="M278 368l3 5-4-5-3 10z"/><path class="c84" d="M302 377l4-9-4 4-4 1zm-21-4l3 0-4-8-3 3z"/><path class="c72" d="M261 381l3 3-4 1-3 2z"/><path class="c73" d="M257 385l4-4-4 6-3-3z"/><path class="c74" d="M254 384l3 3-4-7-3-6z"/><path class="c76" d="M268 381l3-6-4 6-3 3z"/><path class="c78" d="M316 380l4 5-4-4-3-3z"/><path class="c79" d="M289 381l3-4-4 4-3-7zm-39-8l4 11-4-10-3-2z"/><path class="c80" d="M292 377l3-3-4-1-3 8z"/><path class="c81" d="M313 383l3-3-3-2-4-6zm-28-9l3 7-4-8-3 0z"/><path class="c82" d="M282 379l3-5-4-1-3-5z"/><path class="c83" d="M299 368l3 9-4-4-3 1zm-24-1l3 1-4 10-3-3z"/><path class="c84" d="M306 377l3-5-3-4-4 9zm3-5l4 6-4-4-3-6z"/><path class="c74" d="M261 383l4 6-4-8-4 4zm4 6l3-8-4 3-3-3z"/><path class="c76" d="M254 383l3 2-3-1-4-11z"/><path class="c77" d="M320 387l4-5-4 3-4-5z"/><path class="c78" d="M324 385l3-8-3 5-4 5zm-7-3l3 5-4-7-3 3zm-31 4l3-5-4-7-3 5z"/><path class="c79" d="M268 368l4 9-4 4-3 8z"/><path class="c81" d="M293 379l3-6-4 4-3 4zm-21-2l3-10-4 8-3 6z"/><path class="c83" d="M310 372l3 11-4-11-3 5zm-63-5l3 6-3-1-4-1z"/><path class="c84" d="M300 385l3-16-4-1-3 5zm-4-12l3-5-4 6-3 3zm-17 2l3 4-4-11-3-1z"/><path class="c85" d="M303 369l3 8-4 0-3-9zm-59 6l3-8-4 4-3-5z"/><path class="c75" d="M255 384l3-3-4 2-3 5zm3-3l3 2-4 2-3-2z"/><path class="c78" d="M321 380l3 5-4 2-3-5zm-38 4l3 2-4-7-3-4zm-18-4l3-12-3 21-4-6z"/><path class="c79" d="M279 383l4 1-4-9-4 6zm-28 5l3-5-4-10-3-6z"/><path class="c80" d="M297 381l3 4-4-12-3 6zm-11-6l4-3-4 14-3-2zm4-3l3 7-4 2-3 5z"/><path class="c81" d="M328 382l3-1-4-4-3 8zm-14-3l3 3-4 1-3-11zm-10 1l3 2-4-13-3 16zm-56-8l3 16-4-21-3 8z"/><path class="c82" d="M272 379l3 2-3-4-4-9zm3 2l4-6-4-8-3 10zm-34-6l3 0-4-9-3 14z"/><path class="c83" d="M311 377l3 2-4-7-3 10z"/><path class="c84" d="M307 382l3-10-4 5-3-8z"/><path class="c77" d="M252 383l3 1-4 4-3-16z"/><path class="c78" d="M259 385l3-8-4 4-3 3z"/><path class="c79" d="M283 383l3-8-3 9-4-1zm-7-1l3 1-4-2-3-2zm-14-5l3 3-4 3-3-2z"/><path class="c80" d="M325 383l3-1-4 3-3-5z"/><path class="c81" d="M332 380l3 8-4-7-3 1zm-31-6l3 6-4 5-3-4zm-35 9l3-11-4 8-3-3zm-28-9l3 1-4 5-3-8z"/><path class="c82" d="M318 375l3 5-4 2-3-3zm-10 6l3-4-4 5-3-2zm-15 1l4-1-4-2-3-7zm-51-2l3-7-4 2-3-1z"/><path class="c83" d="M322 382l3 1-4-3-3-5zm-7 2l3-9-4 4-3-2zm-25-2l3 0-3-10-4 3zm-21-10l3 7-4-11-3 12zm-24 1l3-1-4 3-3 0z"/><path class="c84" d="M297 373l4 1-4 7-4 1zm-62-1l3 2-4-2-3 0z"/><path class="c73" d="M253 394l3 0-4-11-3 3z"/><path class="c75" d="M256 394l3-9-4-1-3-1z"/><path class="c77" d="M277 391l3-2-4-7-3 1z"/><path class="c78" d="M284 386l3-2-4-1-3 6zm-4 3l3-6-4 0-3-1zm-17-2l3-4-4-6-3 8zm-35-2l3-4-4 2-3-5z"/><path class="c79" d="M336 387l3 2-4-1-3-8zm-66 2l3-6-4-11-3 11z"/><path class="c80" d="M333 391l3-4-4-7-3 2zm-7 1l3-10-4 1-3-1zm-18-9l3-3-3 1-4 13zm-7 7l3 4-3-20-4-1zm3 4l4-13-4-1-3-6zm-55-8l3-3-4-11-3 1z"/><path class="c81" d="M287 384l3-2-4-7-3 8zm-14-1l3-1-4-3-3-7zm-28-6l4 9-4-13-3 7zm-7 8l4-5-4-6-3-2zm-7-4l4-9-4 0-4 11z"/><path class="c82" d="M329 382l3-2-4 2-3 1zm-18-2l4 4-4-7-3 4z"/><path class="c83" d="M319 381l3 1-4-7-3 9z"/><path class="c84" d="M294 373l3 0-4 9-3 0z"/><path class="c74" d="M239 397l3-10-4-2-3-2z"/><path class="c75" d="M281 391l3-5-4 3-3 2zm-25-14l4 9-4 8-3 0zm4 9l3 1-4-2-3 9z"/><path class="c76" d="M305 393l3-10-4 11-3-4zm-31-8l3 6-4-8-3 6zm-11 5l4-4-4 1-3-1z"/><path class="c77" d="M329 394l4-3-4-9-3 10zm-62-8l3 3-4-6-3 4zm-18-4l4 12-4-8-4-9z"/><path class="c78" d="M242 387l3-10-3 3-4 5zm-10-3l3-1-4-2-3 4z"/><path class="c79" d="M288 391l3-11-4 4-3 2zm-53-8l3 2-3-13-4 9zm-10-6l3 8-4-7-3 3z"/><path class="c80" d="M337 388l3-6-4 5-3 4z"/><path class="c81" d="M340 382l3 0-4 7-3-2zm-21 8l3-7-3-2-4 4zm3-7l4 9-4-10-3-1zm-10 5l3-3-4-5-3 3z"/><path class="c82" d="M315 385l4-4-4 3-4-4z"/><path class="c83" d="M344 387l3-5-4 0-3 0zm-49 5l3-13-4-6-3 7zm-4-12l3-7-4 9-3 2z"/><path class="c84" d="M298 379l3 11-4-17-3 0z"/><path class="c72" d="M243 399l3-13-4 1-3 10z"/><path class="c73" d="M306 398l3 0-4-5-3 0z"/><path class="c75" d="M236 385l3 12-4-14-3 1z"/><path class="c76" d="M309 398l3-10-4-5-3 10zm-31-10l3 3-4 0-3-6z"/><path class="c77" d="M302 393l3 0-4-3-3-11zm-17-9l3 7-4-5-3 5z"/><path class="c78" d="M333 390l4-2-4 3-4 3zm-34 2l3 1-4-14-3 13zm-7-5l3 5-4-12-3 11zm-25 4l4-11-4 6-4 4zm4-11l3 5-4 4-3-3zm-21 13l3-12-4 1-3 4zm-21-6l3-3-4 1-3-8z"/><path class="c79" d="M323 397l3-15-4 1-3 7zm3-15l3 12-3-2-4-9zm-10 7l3 1-4-5-3 3zm-42-1l4 0-4-3-3-5zm-14-2l3 4-3-4-4-9zm-7-5l3-4-3 17-4-12zm-7 5l3-4-4-5-3 10zm-20-2l3 3-4-10-3 8zm-4 1l3-8-4 4-3 1z"/><path class="c80" d="M330 389l3 1-4 4-3-12zm-111-3l3-1-4-3-3-10z"/><path class="c82" d="M340 386l4 1-4-5-3 6z"/><path class="c83" d="M347 390l4-7-4-1-3 5z"/><path class="c72" d="M310 400l3-5-4 3-3 0z"/><path class="c74" d="M264 398l3-7-4-1-3-4zm-24-18l3 19-4-2-3-12z"/><path class="c75" d="M303 391l3 7-4-5-3-1zm-42 0l3 7-4-12-3 1z"/><path class="c76" d="M313 395l3-6-4-1-3 10zm-59-1l3-7-4-6-3 12zm-7-16l3 15-4-7-3 13zm-17 14l3-6-4 1-3-3z"/><path class="c77" d="M327 402l3-13-4-7-3 15zm-7-14l3 9-4-7-3-1zm-28 5l4-4-4-2-3 7zm4-4l3 3-4 0-3-5zm-7 5l3-7-4 4-3-7zm-56-8l3-1-4-1-3 3z"/><path class="c78" d="M317 394l3-6-4 1-3 6zm-39 1l3-12-3 5-4 0zm-7-6l3-1-3-8-4 11z"/><path class="c79" d="M351 393l4 5-4-15-4 7zm-17 6l3-14-4 5-3-1zm-49-11l4 6-4-10-4-1zm-4-5l4 1-4 7-3-3z"/><path class="c80" d="M237 380l3 0-4 5-3 1zm-15-5l4 9-4 1-3 1zm-10 7l3 0-3-4-4 6z"/><path class="c81" d="M344 391l3-1-3-3-4-1zm-7-6l3 1-3 2-4 2zm-80 2l3-1-4-9-3 4zm-42-5l4 4-4-14-3 6z"/><path class="c82" d="M341 388l3 3-4-5-3-1z"/><path class="c72" d="M265 396l3 2-4 0-3-7z"/><path class="c73" d="M328 397l3 8-4-3-3-6zm3 8l3-6-4-10-3 13zm-17 0l3-11-4 1-3 5zm-7-5l3 0-4-2-3-7zm-39-2l3-9-4 2-3 7z"/><path class="c74" d="M272 399l3-5-4-5-3 9zm-14 3l3-11-4-4-3 7z"/><path class="c75" d="M324 396l3 6-4-5-3-9zm-21 4l4 0-4-9-4 1z"/><path class="c76" d="M321 401l3-5-4-8-3 6zm-46-7l3 1-4-7-3 1z"/><path class="c77" d="M296 396l3-4-3-3-4 4zm3-4l4-1-4 1-3-3zm-76 3l3-2-4-18-3 13z"/><path class="c78" d="M345 405l3-12-4-2-3-3zm-56-17l3 5-3 1-4-6zm-7 2l3-2-4-5-3 12zm-34 10l3-16-4-6-3 12zm3-16l3 10-4-1-3-15zm-7 6l3-12-4 21-3-19zm-18 3l4-1-4-8-4-9zm-10-2l3-3-4-6-3 0zm-7 0l3-9-4 2-3-2z"/><path class="c79" d="M355 388l3 3-3 7-4-5zm-7 5l3 0-4-3-3 1zm-10 2l3-7-4-3-3 14zm-105-13l4-2-4 6-3 6z"/><path class="c80" d="M219 388l3-13-3 11-4-4z"/><path class="c81" d="M352 390l3-2-4 5-3 0zm-112-7l4 7-4-10-3 0z"/><path class="c69" d="M314 410l3-6-3 1-4-1z"/><path class="c70" d="M307 408l3-4-3-4-4 0zm3-4l4 1-4-5-3 0z"/><path class="c71" d="M276 404l3-4-4-6-3 5zm-18-6l4 3-4 1-3-6z"/><path class="c72" d="M317 404l4-3-4-7-3 11zm-55-3l3-5-4-5-3 11z"/><path class="c73" d="M269 393l3 6-4-1-3-2z"/><path class="c74" d="M283 403l3-11-4-2-3 10zm-32-5l4-2-4-12-3 16zm4-2l3 6-4-8-3-10zm-21 7l3-5-4-16-3 7zm-14-10l3 2-4-7-3 3z"/><path class="c75" d="M332 399l3-5-4 11-3-8zm3-5l3 1-4 4-3 6zm-10 0l3 3-4-1-3 5zm-25 3l3 3-4-8-3 4zm-21 3l3-10-4 5-3-1zm-52-11l3 0-4 4-3 2z"/><path class="c76" d="M293 399l3-3-4-3-3-5zm-63-10l3-7-3 10-4 1zm-20-4l3 7-4-1-3-3zm3 7l3-1-4-9-3 9zm-7-4l3 3-4-9-3 10z"/><path class="c77" d="M342 393l3 12-4-17-3 7zm-52 3l3 3-4-11-3 4zm-46-11l4 15-4-10-4-7zm-41-3l3 6-4 4-3-6z"/><path class="c78" d="M349 395l3-5-4 3-3 12zm-10 4l3-6-4 2-3-1z"/><path class="c79" d="M286 392l3-4-4 0-3 2zm-49 6l3-15-3-3-4 2z"/><path class="c82" d="M363 397l3-11-4 3-3 3zm-7-6l3 1-4-4-3 2zm3 1l3-3-4 2-3-3z"/><path class="c69" d="M311 400l3 10-4-6-3 4z"/><path class="c70" d="M280 400l3 3-4-3-3 4z"/><path class="c71" d="M318 405l3-7-4 6-3 6zm-14-2l3 5-4-8-3-3z"/><path class="c72" d="M301 401l3 2-4-6-3 8zm-7 3l3 1-4-6-3-3zm-21-6l3 6-4-5-3-6zm-35-3l3 0-4 3-3 5z"/><path class="c73" d="M297 405l3-8-4-1-3 3zm-28-2l4-5-4-5-3 4zm-7-10l4 4-4 4-4-3zm4 4l3-4-4 3-3 5zm-11 0l3 1-3-2-4 2z"/><path class="c74" d="M321 398l4-4-4 7-4 3zm-104-5l3 0-4-2-3 1z"/><path class="c75" d="M287 397l3-1-4-4-3 11zm-39-8l3 9-3 2-4-15zm-17-2l3 16-4-14-3 0zm-10 12l3-12-4 6-3 0z"/><path class="c76" d="M335 402l4-3-4-5-3 5zm-10 0l3-2-3-6-4 4zm3-2l4-1-4-2-3-3zm-104-13l3 2-4 6-3-2z"/><path class="c77" d="M350 404l3-6-4-3-3 2zm-4-7l3-2-4 10-3-12zm-101 2l3-10-4-4-3 10zm-4-4l3-10-4-2-3 15zm-27-7l3 5-4-1-3-7z"/><path class="c78" d="M343 394l3 3-4-4-3 6z"/><path class="c79" d="M207 388l3-3-4 3-3-6zm-7-5l3-1-4 4-3 4z"/><path class="c80" d="M367 402l3-4-4-12-3 11zm-7-5l3 0-4-5-3-1zm-7 1l3-7-4-1-3 5z"/><path class="c70" d="M315 410l3-5-4 5-3-10z"/><path class="c71" d="M256 401l3 9-4-13-3 0z"/><path class="c72" d="M308 399l3 1-4 8-3-5zm-28 6l4-2-4-3-4 0zm4-2l3-6-4 6-3-3zm-11 1l3-4-3-2-4 5zm3-4l4 0-4 4-3-6zm-10 9l3-6-3-6-4-4zm-7 1l3-17-4 5-3-1z"/><path class="c73" d="M322 405l3-3-4-4-3 7zm-17-3l3-3-4 4-3-2zm-7-9l3 8-4 4-3-1z"/><path class="c74" d="M291 397l3 7-4-8-3 1zm-49-1l3 3-4-4-3 0zm-7 1l3-2-4 8-3-16zm-17 1l3 1-4-6-3-5z"/><path class="c75" d="M371 409l3-3-4-8-3 4zm-10 1l3-10-4-3-3 8zm-8-7l4 2-4-7-3 6zm-41-13l3 20-4-10-3-1zm-63 6l3 1-4-8-3 10zm3 1l3 0-4 1-3-9zm-20 5l3-5-4-10-3 3zm-39-3l3-8-4-8-3 13z"/><path class="c76" d="M336 403l3 0-4-1-3-10zm3 0l4-9-4 5-4 3zm-114-9l3-4-4-3-3 12z"/><path class="c77" d="M329 397l3-5-4 8-3 2zm3-5l3 10-3-3-4 1z"/><path class="c78" d="M364 400l3 2-4-5-3 0zm-7 5l3-8-4-6-3 7zm-11-7l4 6-4-7-3-3zm-146-2l3-10-3-3-4 8zm-4-5l4-8-4 7-4-7z"/><path class="c79" d="M228 390l3-3-4 2-3-2zm-21-3l3 4-3-3-4-2zm3 4l4-3-4-3-3 3z"/><path class="c81" d="M203 386l4 2-4-6-3 1z"/><path class="c70" d="M270 398l3 6-4-1-3 6zm-27 3l3 8-4-13-3 11zm-7 4l3 2-4-10-3 5z"/><path class="c71" d="M319 404l3 1-4 0-3 5zm-56-10l3 15-4-16-3 17z"/><path class="c72" d="M277 398l3 7-4-5-3 4zm-31 11l3-13-4 3-3-3zm-49-6l3-7-4-5-3 8z"/><path class="c73" d="M364 407l4 2-4-9-3 10zm-97-4l3-5-4 11-3-15zm-14 0l3-2-4-4-3-1zm-14 4l3-11-4-1-3 2zm-49-18l3 10-4-3-3 1z"/><path class="c74" d="M371 406l4-3-4 6-3 0zm4-3l3 0-4 3-3 3zm-7 6l3 0-4-7-3-2zm-11-9l4 10-4-5-4-2zm-7 12l3-9-3 1-4-6zm-27-10l3 0-4 3-3-1zm-39-6l3 2-3 5-4 2zm3 2l4-1-4 0-3 6zm-27-7l3 3-4 16-3-9zm-32 9l4 2-4-12-3 4zm-7-6l4 0-4 5-3-1z"/><path class="c75" d="M326 402l3-5-4 5-3 3zm-108-5l3-3-3 4-4-8zm-31 0l3-8-4 8-3-10z"/><path class="c76" d="M347 401l3 11-4-14-3-2zm-31-8l3 11-4 6-3-20zm-22 2l4-2-4 11-3-7z"/><path class="c77" d="M340 398l3-2-4 7-3 0zm-38-4l3 8-4-1-3-8zm-88-4l4 8-4-10-4 3z"/><path class="c78" d="M343 396l3 2-3-4-4 9zm-34-2l3-4-4 9-3 3zm-11 10l4-10-4-1-4 2zm-7-10l3 1-3 2-4 1zm-80 0l3-4-4 1-3-4zm-7-6l3-1-4-1-3 10z"/><path class="c79" d="M333 395l3 8-4-11-3 5z"/><path class="c69" d="M239 407l4-6-4 6-3-2z"/><path class="c70" d="M232 403l4 2-4-3-4-2z"/><path class="c71" d="M351 409l3 7-4-4-3-11z"/><path class="c72" d="M354 416l3-16-4 3-3 9zm-125-11l3-2-4-3-3-2zm-31-1l3-11-4 10-3-8z"/><path class="c73" d="M257 407l3-16-4 10-3 2zm-11-6l4-10-4 18-3-8zm4-10l3 12-4-7-3 13zm-56 4l3 8-4-4-3-10z"/><path class="c74" d="M368 407l3-1-3 3-4-2zm-10 1l3-6-4-2-3 16zm-56-2l3 1-3-13-4 10zm-48-9l3 10-4-4-3-12zm-53-4l3-5-4 8-3 7zm-10 7l3-5-4-6-3 8z"/><path class="c75" d="M382 406l4 4-4-1-3-5zm-21-4l3 5-3 3-4-10zm-90 0l3-5-4 1-3 5zm3-5l3 1-4 6-3-6zm-49 1l3 2-3-6-4 0z"/><path class="c76" d="M375 408l4-4-4-1-4 3zm4-4l3 5-4-6-3 0zm-157-10l3 4-4-4-3 3zm-7 5l3-2-4-7-3 4z"/><path class="c77" d="M327 397l3 4-4 1-3 0zm-18 5l3-6-3-2-4 13zm-4 5l4-13-4 8-3-8zm-24-17l3 6-4 9-3-7zm-17 9l3 4-4-9-3-3z"/><path class="c78" d="M330 401l3-6-4 2-3 5zm-10-3l3 4-4 2-3-11zm-32 1l3-5-4 4-3-2zm-104-11l3 9-4-10-3 0z"/><path class="c79" d="M344 402l3-1-4-5-3 2zm-10 3l3-11-4 1-3 6zm-39-12l3 11-4-9-3-1zm-17 3l3-6-4 8-3-1z"/><path class="c80" d="M337 394l3 4-4 5-3-8zm-132-4l3-4-4 2-3 5zm3-4l3 8-4-7-3 1z"/><path class="c82" d="M312 396l4-3-4-3-3 4z"/><path class="c71" d="M236 396l3 11-3-2-4-2z"/><path class="c72" d="M355 409l3-1-4 8-3-7zm-112-8l3 0-3 0-4 6z"/><path class="c73" d="M369 413l3-5-4-1-3 5zm-129-11l3-1-4 6-3-11zm-7-1l3-5-4 7-3 2zm-7 3l3 1-4-7-3-4zm-31-8l3 8-4-9-3 5z"/><path class="c74" d="M362 413l3-1-4-10-3 6zm3-1l3-5-4 0-3-5zm-59-10l3 0-4 5-3-1zm-7 8l3-4-4-2-3-11zm-31-10l3 2-4 1-3-4zm-66 3l3-13-4 3-3 11zm-15-2l4-1-4-3-3-9z"/><path class="c75" d="M379 409l3-3-3-2-4 4zm-7-1l3 0-4-2-3 1zm-27 1l3-11-4 4-3 10zm-81 1l4-10-4-1-3-3zm-48-15l3-1-4 5-3 2zm-32 4l3 2-3-13-4 8z"/><path class="c76" d="M386 407l3-4-3 7-4-4zm-129-9l4-2-4 11-3-10zm4-2l3 3-4-8-3 16zm-11 6l4-5-4-6-4 10zm-31-8l3 0-4 3-3 2zm-7 7l3-2-4-5-3-8zm-35 1l3-6-3-11-4 7z"/><path class="c77" d="M348 398l3 11-4-8-3 1zm-10 4l3 10-4-18-3 11zm3 10l3-10-4-4-3-4zm-45-7l3 5-4-17-3 3zm-21-9l3 0-4 1-3 5zm-66 3l3 2-4-15-3 4z"/><path class="c78" d="M330 398l4 7-4-4-3-4zm-10 8l3-5-3-3-4 0zm3-5l4-4-4 5-3-4zm-10 1l3-4-4-2-3 6z"/><path class="c79" d="M180 396l4-8-4-1-3-2z"/><path class="c80" d="M316 398l4 0-4-5-4 3zm-27-3l3 1-4 3-3-4zm3 1l3-3-4 1-3 5zm-7-1l3 4-4-3-3-6z"/><path class="c81" d="M282 392l3 3-4-5-3 6z"/><path class="c72" d="M307 418l3-12-4-4-3 6zm-7-10l3 0-4 2-3-5zm-102-8l4 3-4 1-3-8zm-17 3l3-4-4-3-3 6z"/><path class="c73" d="M373 407l3 7-4-6-3 5zm-7-4l3 10-4-1-3 1zm-63 5l3-6-4 4-3 4zm-59-1l3-7-4 1-3 1zm-39 1l4-9-4-9-3 13zm-10-7l3-1-3-4-4 4zm-7-5l3 4-4 1-3-2zm3 4l4-4-4 4-4 1zm-20 1l3-2-4-2-3-1zm3-2l3 3-4-10-3 5z"/><path class="c74" d="M376 414l3-5-4-1-3 0zm-35-4l4-1-4 3-3-10zm-94-10l3 2-4-1-3 0zm-27 8l3-3-4-11-3 1zm3-3l3-1-4-10-3 0zm-10-2l3-8-4 6-3-2z"/><path class="c75" d="M390 412l3 5-4-14-3 4zm-31-11l3 12-4-5-3 1zm-98-1l3 10-3-14-4 2zm-24 1l3 1-4-6-3 5zm-10 0l3-14-4 17-3 1zm3-14l3 14-4 4-3-1z"/><path class="c76" d="M380 415l3-19-4 13-3 5zm-28-11l3 5-4 0-3-11zm-28 5l3-9-4 1-3 5zm-14-3l3-4-4 0-3 0zm-42-12l4 6-4 0-4 10zm4 6l3-4-4 6-3-2z"/><path class="c77" d="M348 407l4-3-4-6-3 11zm-31-3l3 2-4-8-3 4zm-66-11l3 3-4 6-3-2zm3 3l3 2-3-1-4 5z"/><path class="c78" d="M383 396l3 11-4-1-3 3zm-90 8l3 1-4-9-3-1zm-18-1l4-4-4-3-3 4z"/><path class="c79" d="M387 408l3 4-4-5-3-11zm-31-12l3 5-4 8-3-5z"/><path class="c80" d="M327 400l3-2-3-1-4 4zm-48-1l3-7-4 4-3 0z"/><path class="c81" d="M331 406l3-16-4 8-3 2zm3-16l4 12-4 3-4-7z"/><path class="c82" d="M286 391l3 4-4 0-3-3z"/><path class="c67" d="M206 409l3 2-4-3-3 2z"/><path class="c69" d="M202 410l3-2-3-5-4-3z"/><path class="c70" d="M304 412l3 6-4-10-3 0zm-91-10l3 9-3-8-4 8zm-4 9l4-8-4-4-4 9z"/><path class="c71" d="M216 411l4-3-4-13-3 8zm-17-4l3 3-4-10-3 1zm-21-6l3 2-4-1-3-3z"/><path class="c72" d="M241 409l3-2-4-5-3-1zm-18-8l4 0-4 4-3 3z"/><path class="c73" d="M238 403l3 6-4-8-3 4zm-53-1l3-6-4 3-3 4zm-10-6l3 5-4-2-3 2zm-7 6l3-1-4-5-3 1z"/><path class="c74" d="M394 411l3 0-4 6-3-5zm-17 1l3 3-4-1-3-7zm-49 4l3-10-4-6-3 9zm-17-13l3 0-4 3-3 12zm-63 8l3-18-4 7-3 7zm-56-12l3 2-4-1-3-4z"/><path class="c75" d="M391 416l3-5-4 1-3-4zm-49-6l3-3-4 3-3-2zm3-3l3 0-3 2-4 1zm-48-5l3 6-4-3-3-1zm-115-19l3 19-4 1-3-2z"/><path class="c76" d="M398 411l3 2-4-2-3 0zm-77-7l3 5-4-3-3-2zm-7-1l3 1-4-2-3 4zm-80 2l3-4-4 0-3-14z"/><path class="c77" d="M370 405l3 2-4 6-3-10zm-7 5l3-7-4 10-3-12zm-84-5l3-8-3 2-4 4zm-48-5l3 5-4-18-3 14z"/><path class="c78" d="M335 410l3-2-4-18-3 16zm-17-6l3 0-4 0-3-1zm-53-15l3 5-4 16-3-10zm-10 18l3-8-4-3-3-3zm3-8l3 1-4-2-3-2z"/><path class="c79" d="M384 405l3 3-4-12-3 19zm-18-2l4 2-4-2-3 7zm-7 7l4 0-4-9-3-5zm-7-5l4-9-4 8-4 3zm-14 3l3 2-3-8-4-12zm-66-12l3 7-3-3-4-6z"/><path class="c80" d="M290 400l3 4-4-9-3-4zm-28-1l3-10-4 11-3-1z"/><path class="c81" d="M286 401l4-1-4-9-4 6z"/><path class="c82" d="M282 397l4-6-4 1-3 7z"/><path class="c68" d="M203 412l3-3-4 1-3-3z"/><path class="c70" d="M249 413l3 0-4-2-3-7zm-25 6l3-10-4-8-3 5zm-7-8l3-5-4 5-3-9zm3-5l3-5-3 7-4 3zm-10-1l3-3-4 9-3-2z"/><path class="c71" d="M304 414l4-2-4 0-4-2zm-59-10l3 7-4-4-3 2zm-52 9l3-5-4-9-3 2z"/><path class="c72" d="M308 412l3-9-4 15-3-6zm-112-4l3-1-4-6-3-2zm-28-5l4 2-4-3-3 0zm4 2l3-9-4 5-3 1zm-11-5l4 2-4 0-4 2zm4 2l3 0-4-5-3 5z"/><path class="c73" d="M377 410l4 12-4-10-3 0zm4 12l3-17-4 10-3-3zm-42-5l3-7-4-2-3 2zm-14-5l3 4-4-7-3-5zm-73 1l3-6-4-14-3 18z"/><path class="c74" d="M395 419l3-8-4 0-3 5zm-98 0l3-9-3-8-4 1zm3-9l4 2-4-4-3-6zm-59-9l4 3-4 5-3-6zm-14 8l4-9-4 1-4 0zm-38-8l3-2-4-3-3 6z"/><path class="c75" d="M402 419l3-9-4 3-3-2zm-39-2l3-14-3 7-4 0zm-10 0l3 3-4-15-3-2zm-21-14l3 7-4-4-3 10zm-98-4l4 4-4 2-3-5z"/><path class="c76" d="M388 416l3 0-4-8-3-3zm-14-4l3 0-4-5-3-2zm-45-10l3 1-4 13-3-4zm-143 5l3-6-4 1-3-19z"/><path class="c77" d="M370 417l4-5-4-7-4-2zm-14 3l3-10-3-14-4 9zm-10-9l3-8-4 4-3 3zm-56-1l3-7-3-3-4 1zm-31-10l3-1-4 0-3 8zm-80 0l3-17-4 18-3-5z"/><path class="c78" d="M349 403l3 2-4 2-3 0zm-27-3l3 12-4-8-3 0zm-7 3l3 1-4-1-3 0zm-22 0l4-1-4 2-3-4zm-10 0l3-2-4-4-3 8zm-7-3l3 5-4-2-3-7z"/><path class="c80" d="M266 402l3-3-4-10-3 10z"/><path class="c81" d="M273 395l3 5-4-4-3 3z"/><path class="c82" d="M269 399l3-3-4-2-3-5z"/><path class="c66" d="M221 419l3 0-4-13-3 5z"/><path class="c68" d="M395 425l4-3-4-3-3 7z"/><path class="c69" d="M301 419l3-5-4-4-3 9zm-111-9l3 3-4-12-3 6zm-11-1l4 5-4-14-4 8z"/><path class="c70" d="M392 426l3-7-4-3-3 0zm-35-14l3 10-4-2-3-3zm3 10l3-5-4-7-3 10zm-153-19l3 2-4 4-3 3zm-10 2l3-1-4 4-3 5zm3-1l3 8-4-5-3 1z"/><path class="c71" d="M388 411l4 15-4-10-4 7zm-45 10l3-10-4-1-3 7zm-35-4l3-4-3-1-4 2zm-136-11l3 2-3-3-4-2z"/><path class="c72" d="M399 422l3-3-4-8-3 8zm-18-8l3 9-3-1-4-12zm3 9l4-7-4-11-3 17zm-132-16l4-2-4 8-3 0zm-24-10l3 8-4 4-3 10zm-14 7l3 7-4-9-3 3zm-49 3l3-4-3-1-4-2zm-7-1l3-6-4 4-3-6z"/><path class="c73" d="M364 415l3-9-4 11-3 5zm-24-3l3 9-4-4-3-13zm-46-7l3 14-4-16-3 7zm-49 5l4 3-4-9-4-3zm-41-8l3 1-4 9-3-8zm-29 6l4-8-4-4-3 9zm-20-7l3 5-4-8-3 1z"/><path class="c74" d="M406 422l3-7-4-5-3 9zm-147-8l4-4-4-10-3 5zm-3-9l3-5-4 7-3 6zm-73 9l3-7-4-24-3 17z"/><path class="c75" d="M374 409l3 1-3 2-4 5zm-63 4l4-10-4 0-3 9zm-80-8l3-6-3 1-4 9zm-20-6l3 5-4 1-3-2z"/><path class="c76" d="M367 406l3 11-4-14-3 14zm-17 1l3 10-4-14-3 8zm-14-3l3 13-4-7-3-7zm-52 6l3-7-4 0-3 4z"/><path class="c77" d="M315 409l3-4-3-2-4 10zm-28-6l3 7-4-9-3 2zm-7 4l3-4-4 2-3-5zm-17 3l3-8-4-3-3 1zm-28-3l3-11-4 3-3 6z"/><path class="c78" d="M238 396l3 5-3 2-4-4z"/><path class="c79" d="M326 407l3-5-4 10-3-12zm-56-2l3-10-4 4-3 3z"/><path class="c80" d="M318 405l4-5-4 4-3-1zm-41-7l3 9-4-7-3-5z"/><path class="c81" d="M333 401l3 3-4-1-3-1z"/><path class="c67" d="M190 415l3-5-3 0-4 4zm-7-4l3 3-3 0-4-5zm3 3l4-4-4-3-3 7z"/><path class="c69" d="M305 418l3-1-4-3-3 5zm-83-10l3 3-4 8-3-9zm3 3l3-14-4 22-3 0zm-7-1l3 9-4-8-3-7zm-25 0l4-5-4 8-3-3z"/><path class="c70" d="M406 422l4 7-4-7-4-4zm-14 0l3 3-3 1-4-15zm-94-5l3 2-4 0-3-14zm-132-10l3-3-4 3-3 3zm-4 3l3-3-4-7-3 6z"/><path class="c71" d="M410 429l3-10-4-4-3 7zm-11-8l3-3-3 4-4 3zm3-3l4 4-4-3-3 3zm-100-12l3 12-4 1-3-2zm-126-4l3 7-4-1-3-2zm-7 2l3 2-4-3-3 4z"/><path class="c72" d="M263 407l4 4-4-1-4 4zm-48 9l3-6-4-6-3-5zm-56-16l3 10-4-4-3-5z"/><path class="c73" d="M385 421l3-10-4 12-3-9zm-24-6l3 0-4 7-3-10zm-105-5l3 4-3-9-4 2zm-10-2l3-5-4 7-3 2zm3-5l3 4-3 6-4-3z"/><path class="c74" d="M354 419l3-7-4 5-3-10zm-42-10l3 0-4 4-3 4zm-73 1l3 2-4-16-3 11z"/><path class="c75" d="M375 417l3 2-4-10-3 5zm-87-2l3-10-4-2-3 7zm-7 0l3-5-4-3-3-9zm-11-2l4-9-4 1-3 6zm-3-2l3-6-4-3-3 8zm-25 1l3-2-4-9-3-5zm-10-3l3-2-4-2-3-8zm-31-8l3 1-4 2-3 1z"/><path class="c76" d="M378 419l3-5-4-4-3-1zm-7-5l3-5-4 8-3-11zm-76-7l3 10-4-12-3 0z"/><path class="c77" d="M368 412l3 2-4-8-3 9zm-17 9l3-2-4-12-3-11zm-7-12l3-13-4 25-3-9zm3-13l3 11-4 4-3 10zm-56 9l3 0-4 5-3-7zm-83-7l3 1-4 4-3-1zm-56-5l3 8-4-2-3-4z"/><path class="c78" d="M319 410l3-8-4 3-3 4z"/><path class="c79" d="M336 407l4 5-4-8-3-3zm-10 2l3-3-3 1-4-5z"/><path class="c80" d="M329 406l4-5-4 1-3 5zm-7-4l4 5-4-7-4 5zm-48 2l3-6-4-3-3 10z"/><path class="c67" d="M187 410l3 5-4-1-3-3z"/><path class="c69" d="M410 429l3-5-3 5-4-7zm-24-5l3 5-4-8-3 1z"/><path class="c70" d="M393 422l3 1-4-1-3 7zm3 1l3-2-4 4-3-3zm-163-8l3-2-4-4-3 8zm-14-1l3-6-4 2-3 6zm-42 6l3-8-4-10-3 2zm3-8l3-1-4-2-3-7z"/><path class="c71" d="M417 424l3 3-3-7-4 4zm-4 0l4-4-4-1-3 10zm-24 5l3-7-4-11-3 10zm-35-11l4 3-4-2-3 2zm-69-2l3-1-4-5-3 5zm-28 3l3-7-4-2-3 4zm-31-12l3 10-4-6-3-3zm-32-2l3 0-4 5-3 5z"/><path class="c72" d="M382 422l3-1-4-7-3 5zm-24-1l3-6-4-3-3 7zm-91-3l3-5-3-2-4-4zm-7-6l3-5-4 7-3-4zm-10 7l3-5-4-11-3 5zm-7-4l3-7-4 4-3-2zm-7-2l3-3-4-3-3 2zm-66-5l3-4-4 0-3 3zm-7-1l3 0-4 3-3-10z"/><path class="c73" d="M403 420l3 2-4-4-3 3zm-94-11l3 0-4 8-3 1zm-28 5l4 2-4-1-4-12zm-52 3l3-8-4-12-3 14zm-32-12l4-4-4 4-4 5zm-24-1l3-2-4 4-3-2z"/><path class="c74" d="M379 413l3 9-4-3-3-2zm-17-1l3 2-4 1-3 6zm-49 7l3-2-4-8-3 0zm-7-2l3-8-4 9-3-12zm-7 1l3-12-4 11-3-10zm-46-4l3-4-4-3-3-4z"/><path class="c75" d="M372 417l3 0-4-3-3-2zm-7-3l3-2-4 3-3 0zm-49 3l3-7-4-1-3 0zm-24-6l3-4-4-2-3 10zm-18 4l3-12-3 1-4 9zm-63-11l4 12-4-17-3-1z"/><path class="c76" d="M201 409l3-9-3 1-4 4zm-45-6l3-3-4 1-3-8z"/><path class="c77" d="M347 418l4 3-4-25-3 13z"/><path class="c78" d="M340 405l4 4-4 3-4-5zm-63-2l4 12-4-17-3 6zm-73-3l4-2-4 4-3-1zm-59 0l4-7-4 7-3-6z"/><path class="c79" d="M149 393l3 0-4 2-3 5z"/><path class="c80" d="M323 404l3 5-4-7-3 8zm-171-10l4 9-4-10-3 0z"/><path class="c81" d="M330 405l3-3-4 4-3 3zm3-3l3 5-3-6-4 5z"/><path class="c83" d="M337 398l3 7-4 2-3-5z"/><path class="c68" d="M390 431l3-9-4 7-3-5zm-136-14l3 2-4-5-3 5zm-73-11l3 8-4-2-3 8z"/><path class="c69" d="M240 421l3-6-4-5-3 3zm-11-1l4-5-4 2-3-10zm-45-6l3-4-4 1-3 1zm-10-1l3 7-4-16-3 4z"/><path class="c70" d="M317 422l3-3-4-2-3 2zm-80-14l3 13-4-8-3 2z"/><path class="c71" d="M414 424l3 0-4 0-3 5zm-10 6l3-4-4-6-3 4zm3-4l3 3-4-7-3-2zm-10 1l3-3-4-1-3-1zm-105-7l3-4-3-5-4 9zm-4 0l4-9-4 4-3 1zm-20-3l3-3-4 4-3-8zm3-3l3 1-4-2-3 5zm-27-5l3 3-4 3-3 6zm3 3l3 7-4-11-3 7zm-32-2l4 4-4 2-4-12zm-27 5l3-13-4 8-3 4z"/><path class="c72" d="M421 422l3 0-4 5-3-3zm-21 2l3-4-4 1-3 2zm-49-7l3 1-3 3-4-3zm-66-7l3 10-3-4-4-2zm-24 4l3-4-4 2-3 7zm-63 1l3-6-4-4-3 0zm-7-13l3 3-4 10-3-5zm-24 1l3 5-4-1-3 0z"/><path class="c73" d="M383 420l3 4-4-2-3-9zm-25 3l4-11-4 9-4-3zm-48-7l3 3-4-10-3 8zm-7-1l3 2-4-11-3 12zm-25 4l3-5-4-11-3 12zm-14-9l3 8-4-11-3 5zm-42-2l4-1-4 1-3 6z"/><path class="c74" d="M295 416l4 2-4-11-3 4zm-76-12l3 4-3 6-4-4z"/><path class="c75" d="M365 421l4-3-4-4-3-2zm4-3l3-1-4-5-3 2zm-49 1l3-15-4 6-3 7zm-160-21l3 9-4-7-3 3z"/><path class="c76" d="M372 416l4-3-4 4-3 1zm4-3l3 0-4 4-3 0zm-28-1l3 5-4 1-3-8zm-136-2l3 0-4-6-3-4zm-49-8l4 1-4 4-3-9z"/><path class="c77" d="M205 405l3-5-4 0-3 9z"/><path class="c78" d="M344 410l3 8-3-9-4-4zm-20 0l3-4-4-2-3 15zm-168-11l4-1-4 5-4-9zm-17-2l3 1-4-5-3 13z"/><path class="c79" d="M208 400l3 4-3-6-4 2zm-66-2l3 2-3-6-4-1z"/><path class="c81" d="M327 406l3-1-4 4-3-5z"/><path class="c82" d="M341 413l3-3-4-5-3-7zm-192-25l3 6-3-1-4 7z"/><path class="c83" d="M334 409l3-11-4 4-3 3z"/><path class="c68" d="M408 435l3-7-4-2-3 4zm-223-14l3-6-4-1-3-8zm-11-6l4 3-4-5-4-1zm4 3l3-12-4 14-3-7z"/><path class="c69" d="M394 429l3-2-4-5-3 9zm-115-11l3-2-4 3-3 7zm-7 5l3 3-4-12-3 3zm3 3l3-7-4-4-3-1z"/><path class="c70" d="M415 431l3-2-4-5-3 4zm-4-3l3-4-4 5-3-3zm-10-2l3 4-4-6-3 3zm-209-8l3-4-4-12-3 13z"/><path class="c71" d="M387 418l3 13-4-7-3-4zm-28 4l3 4-4-3-3-4zm-94 0l3-5-4-7-3 4zm-14-14l3 9-4 2-3-7zm-18 6l4-6-4 7-4 5zm-34 4l3-15-4 12-3-1zm-29-6l4 1-4-5-3-5z"/><path class="c72" d="M418 429l3-7-4 2-3 0zm-56-3l3-5-3-9-4 11zm-49-12l4 8-4-3-3-3zm-7 5l4-3-4 1-3-2zm-48-13l3 8-4 5-3-2zm-18 8l4-5-4 12-3-13zm-10-6l3 6-4 6-3-9zm-4 3l3 9-3-13-4 1zm-31 3l3 1-4-10-3-3z"/><path class="c73" d="M355 419l3 4-4-5-3-1zm-59-4l3-4-4 5-3 4zm3-4l4 4-4 3-4-2zm-10-2l3 11-4 0-3-10zm-7 7l3-6-4 4-3 5zm-35 6l4-14-4 4-3-3z"/><path class="c74" d="M425 427l3-5-4 0-3 0zm-56-8l3-3-3 2-4 3zm-48-4l3-5-4 9-3 3zm-11-1l3 0-3 2-4 3zm-94-4l3-6-4 6-3 0zm-14-7l3 2-4 4-3 6zm-35 3l3 6-3-9-4-1z"/><path class="c75" d="M303 412l3 7-3-4-4-4z"/><path class="c76" d="M352 415l3 4-4-2-3-5zm-97-6l3-3-4 11-3-9zm-119-14l3 2-4 9-3 2z"/><path class="c77" d="M383 415l4 3-4 2-4-9zm-38 4l3-7-4-2-3 3zm-122-16l3 8-4-3-3-4zm-14 0l3 7-4-10-3 5zm-49 5l3-6-3-4-4 1z"/><path class="c78" d="M379 411l4 9-4-7-3 0z"/><path class="c79" d="M376 415l3-4-3 2-4 3zm-226-6l3-6-4-15-3 6zm-7-5l3-10-4 4-3-1z"/><path class="c80" d="M328 412l3-3-4-3-3 4z"/><path class="c81" d="M331 409l3 0-4-4-3 1zm-178-6l3-4-4-5-3-6zm-7-9l3-6-4 12-3-2z"/><path class="c83" d="M335 405l3-3-4 7-3 0zm3-3l3 11-4-15-3 11z"/><path class="c67" d="M276 425l3-7-4 8-3-3zm-88-10l4 3-4-3-3 6z"/><path class="c68" d="M412 428l3 3-4-3-3 7zm-143-7l3 2-4-6-3 5zm-73-2l3-1-4-4-3 4z"/><path class="c69" d="M178 414l3-4-3 8-4-3zm3-4l4 11-4-15-3 12z"/><path class="c70" d="M419 428l3 2-4-1-3 2zm-154-11l4 4-4 1-3-6zm-80-6l3 4-3 6-4-11z"/><path class="c71" d="M422 430l3-3-4-5-3 7zm-28 0l3-8-3 7-4-8zm3-8l4 4-4 1-3 2zm-7-1l4 8-4 2-3-13zm-149-3l3-7-4 3-3 6zm-70-9l3 6-4-3-3-6z"/><path class="c72" d="M426 429l3-4-4 2-3 3zm-21-19l3 25-4-5-3-4zm-122 8l3-2-4 0-3 2zm-46 2l3-6-3-6-4 6z"/><path class="c73" d="M429 425l3 2-4-5-3 5zm-66-6l3 1-4 6-3-4zm3 1l3-1-4 2-3 5zm-10 5l3-3-4-3-3-4zm-63-6l3-4-4 5-3-11zm-31-3l3 6-4-8-3-8zm-18-5l3 11-3-13-4 5zm-10-3l3 12-4-6-3-6zm-17 9l3-8-4 1-3 4zm-14-1l3-11-4-2-3 15z"/><path class="c74" d="M370 424l3-3-4-2-3 1zm-49-1l3-5-3-3-4 0zm-4-8l4 0-4 7-4-8zm-66 0l4-6-4-1-4 14z"/><path class="c75" d="M290 415l3 4-4-10-3 7zm-4 1l3-7-4 1-3 6zm-28 0l4 0-4-10-3 3zm-45-2l3-4-4 0-3-7zm-49-10l3 2-4-4-3 6zm-10-1l3 0-4 0-3 6zm-17 8l3-7-4-9-3 11zm-7-10l3 5-4-9-3 12z"/><path class="c76" d="M373 421l3-6-4 1-3 3zm-59-8l3 2-4-1-3 0zm-7-2l3 3-4 5-3-7zm-146-7l3 0-4 4-3-5zm-4-1l3 5-4-9-3 4zm-24 3l3-11-4 13-3-11z"/><path class="c77" d="M387 416l3 5-3-3-4-3zm-41-2l3 2-4 3-3-8zm3 2l3-1-4-3-3 7zm-25 2l4-6-4-2-3 5zm-24-10l3 4-4-1-3 4zm-73-1l3 1-4 3-3-8zm-7 2l3-6-4 1-3 6zm-10-4l3 9-4-11-3 2zm-63-4l3 8-4-15-3 10z"/><path class="c78" d="M401 415l4-5-4 16-4-4zm-21 6l3-6-4-4-3 4zm-174-16l3-2-4 2-3-2zm-66-1l3 0-4-7-3-2z"/><path class="c79" d="M342 411l3 8-4-6-3-11z"/><path class="c80" d="M331 414l4-9-4 4-3 3z"/><path class="c82" d="M339 415l3-4-4-9-3 3z"/><path class="c66" d="M276 432l4-4-4-3-3-3z"/><path class="c68" d="M273 422l3 3-4-2-3-2zm-74-5l4-1-4 2-3 1z"/><path class="c69" d="M280 428l3-10-4 0-3 7zm-88-18l4 9-4-1-4-3z"/><path class="c70" d="M412 434l3-1-3-5-4-2zm3-1l4-5-4 3-3-3zm-146-10l4-1-4-1-4-4zm-94-7l3-2-4 1-3-6z"/><path class="c71" d="M245 427l3-10-4-6-3 7z"/><path class="c72" d="M430 432l3-7-4 0-3 4zm-7-8l3 5-4 1-3-2zm-66-1l3 0-4 2-3-2zm-63 1l3-3-4-2-3-4zm-46-7l3-2-4 7-3-11zm-27 4l3-9-4-3-3 8zm-25-12l3 8-3 2-4-9zm-56 6l4-6-4-5-3 7zm-14-1l4-13-4 8-4 1z"/><path class="c73" d="M408 426l4 2-4 7-3-25zm-27-4l3 9-4-10-3 3zm-7 3l3-1-4-3-3 3zm-7 1l3-2-4-4-3-1zm-7-3l3-4-4 3-3 3zm-73-3l3-5-4 1-3 2zm-25-4l3 1-3-1-4 0zm-34 7l3-5-4-11-3 5zm-46-14l3 2-4-1-3 4z"/><path class="c74" d="M433 425l3-3-4 5-3-2zm-80-2l3 2-4-10-3 1zm-28-3l3-7-4 5-3 5zm-7 1l3 2-4-8-3-2zm-21 0l3-13-4 7-3 4zm-45-7l3-3-4 4-3 2zm-14-5l3 9-4 2-3-12zm-24 2l3 6-4-3-3-9zm-25-4l3 3-4 5-3-4zm-17 3l3 6-4-7-3-7zm-24 4l3-6-4-7-3 8zm-15-7l4 4-4-5-3-5z"/><path class="c75" d="M398 422l3-7-4 7-3 8zm-14 9l3-15-4-1-3 6zm-7-7l3-3-4-6-3 6zm-69-11l3 9-4-11-3 10zm-7 1l3 7-4-13-3 13zm-46-3l3 5-3-7-4 6z"/><path class="c76" d="M437 420l3 9-4-7-3 3zm-46-4l3 14-4-9-3-5zm-42 2l4 5-4-7-3-2zm-38 4l3-9-4 1-3-3zm-80-4l3-10-4 0-3-1zm-25-10l4-3-4 0-3 11zm-38-6l3 7-4-3-3-2zm-10 7l3-5-4-1-3 0zm-7-1l3-5-4 6-3-8zm-7 1l3-8-4 3-3 0z"/><path class="c77" d="M405 431l3-5-3-16-4 5zm-77-18l3 1-3-2-4 6zm-24 8l3-10-4 1-3-4zm-80-9l3-5-4-4-3 6z"/><path class="c78" d="M342 420l4-6-4-3-3 4zm-10-6l3 2-4-2-3-1zm-167-11l3-1-4 2-3 0z"/><path class="c79" d="M335 416l4-1-4-10-4 9z"/><path class="c67" d="M280 422l3 2-3 4-4 4zm-41 11l3-7-4-17-3 21zm-7-8l3 5-4-12-3 5z"/><path class="c68" d="M416 437l3-6-4 2-3 1zm-7 5l3-8-4-8-3 5zm-136-20l3 10-3-10-4 1zm-153-11l3 3-4 0-3 5z"/><path class="c69" d="M123 414l3 0-4-4-3 4z"/><path class="c70" d="M385 432l3-2-4 1-3-9zm-14 4l3-11-4-1-3 2zm-88-12l4-4-4-2-3 10zm-34 0l3-10-4 3-3 10zm-7 2l3 1-4-9-3-9zm-18-4l4 1-4-11-3 9zm-97-3l3-14-4 9-3 0z"/><path class="c71" d="M419 431l4-7-4 4-4 5zm-275-18l4 1-4-5-4 6zm-7 0l3 2-3-4-4-4z"/><path class="c72" d="M287 416l4 3-4 1-4 4zm4 3l3 5-4-9-3 5zm-25 1l3 3-4-6-3-1zm-31 10l3-21-4-1-3 10z"/><path class="c73" d="M426 425l4 7-4-3-3-5zm-27 7l3-3-4-7-3 2zm-46-5l4-4-4 0-4-5zm-55-7l3-6-4 7-3 3zm-35 2l3-2-4-4-3 0zm-46-14l4 13-4-4-3-6zm-17 11l3-8-4 6-3-8zm3-8l3-3-3 8-4 1zm-27 3l3-7-4 9-3-6zm3-7l3 2-4 5-3 2zm-21 8l4-2-4-4-3 1zm-7-4l4-1-4-2-3 6z"/><path class="c74" d="M433 432l4-12-4 5-3 7zm-10-4l3-3-3-1-4 7zm-31 0l3-4-4-8-3 14zm-4 2l3-14-4 0-3 15zm-21-13l4 19-4-10-3-14zm-48 13l3-18-4 9-3-3zm-4-12l3 3-4-8-3 9zm-56-2l3 0-4 0-3-5zm-125-10l3 7-4-6-3-2zm-4-1l3 2-3-6-4 13z"/><path class="c75" d="M402 429l3 2-4-16-3 7zm-7-5l3-2-4 8-3-14zm-52-3l3-1-4 0-3-1zm-21-9l3 8-4 3-3-2zm-66 7l3-3-4-5-3 3zm-101-9l3-1-4-6-3 5z"/><path class="c76" d="M364 412l3 14-4-7-3 4zm-25 7l3 1-3-5-4 1zm-34-2l3-4-4 8-3-7zm-112-9l3 1-4 1-3-3zm-7 0l3-1-4 4-3-2zm-24 5l3-10-4 1-3 5z"/><path class="c77" d="M378 407l3 15-4 2-3 1zm-18 12l4-7-4 11-3 0zm-14 1l3-2-3-4-4 6zm-10-2l3 1-4-3-3-2zm-7 3l3-7-4-1-3 7zm-17-10l3 7-4 4-3-9zm-105 2l3-8-4 3-3 3zm-24-9l3 4-4 1-3-2zm-14 4l3 2-4-8-3 1z"/><path class="c78" d="M441 428l3-12-4 13-3-9zm-231-23l4 6-4-6-4 3z"/><path class="c64" d="M235 426l4 7-4-3-3-5z"/><path class="c66" d="M242 426l4-5-4 5-3 7zm-128-6l3-5-4-1-3 9z"/><path class="c67" d="M410 441l3-12-4 13-3-7zm3-12l3 8-4-3-3 8zm-167-8l3 3-4 3-3-1zm-18 4l4 0-4-2-4-1z"/><path class="c68" d="M406 435l3 7-4-11-3-2zm-129-6l3-7-4 10-3-10zm-153-12l3 2-4-5-3-3zm-7-2l3-4-4 8-3-5z"/><path class="c69" d="M403 438l3-3-4-6-3 3z"/><path class="c70" d="M420 435l3-7-4 3-3 6zm-31-4l3-3-4 2-3 2zm-115-8l3 6-4-7-3 1zm-4 0l3-1-4 1-3-3zm-129-7l3-3-4 2-3-2z"/><path class="c71" d="M434 433l3 1-4-2-3 2zm-209-19l3 11-4-3-3-8zm-80 1l3-2-4 0-3 3zm3-2l3-2-3 3-4-1z"/><path class="c72" d="M427 436l3-2-4-9-3 3zm3-2l3-2-3 0-4-7zm-163-16l3 5-4-3-3 2zm-7 4l3 0-4-6-3 3zm-10-2l3-5-4 9-3-3zm-95-6l3 1-3-5-4 1z"/><path class="c73" d="M396 427l3 5-4-8-3 4zm-25 0l4-2-4 11-4-19zm-87-10l3-1-4 8-3-2zm-31-2l3 4-4-5-3 10zm-32-1l3 8-3-1-4-13zm-83-4l3 6-4-3-3-7zm-7-2l3-2-4-1-3 14z"/><path class="c74" d="M437 434l4-6-4-8-4 12zm-83-7l3-12-4 12-3 2zm-4 2l3-2-4-9-3 2zm-27-3l3-8-4-6-3 18zm-7-1l3 5-4-12-3-7zm-22-15l4 10-4 4-3-5zm-90 2l3 1-4-2-3 8z"/><path class="c75" d="M375 425l3-18-4 18-3 11zm-45-9l3 14-4-9-3-3zm3 14l3-12-4-4-3 7zm-136-20l3 9-4-10-3-1zm-24-2l3 6-4-4-3-2zm-11-1l4-3-4 9-4 2z"/><path class="c76" d="M357 415l3 4-3 4-4 4zm-10 0l3 14-4-9-3 1zm-7 8l3-2-4-2-3-1zm-14-5l3 3-4-1-3-8zm-35 1l3-9-3 9-4-3zm-111-8l3-7-4 3-3 7zm-11 4l4-7-4 0-3-4z"/><path class="c77" d="M444 429l4-3-4-10-3 12zm-62-7l3 10-4-10-3-15zm-81-11l4 6-4-3-3 6zm-107-2l3 1-4-2-3 3zm-4 2l3-3-4-1-3 1zm-24-7l3 4-4-5-3 10z"/><path class="c78" d="M378 428l4-6-4-15-3 18zm-69-8l3-9-4 2-3 4zm-11-3l3-6-3 9-4-10zm-80-6l3 3-4-6-3-1zm-4-4l3 1-3 3-4-6zm-27-1l3 5-4-3-3-4z"/><path class="c80" d="M211 401l3 6-4-2-3 8z"/><path class="c81" d="M364 410l3 7-3-5-4 7z"/><path class="c65" d="M421 443l3 4-4-12-3 4zm-182-13l3-4-3 7-4-7zm-129-13l4 3-4 3-3-2z"/><path class="c66" d="M414 445l3-6-4-10-3 12zm-7-5l3 1-4-6-3 3zm-290-17l4-4-4-4-3 5z"/><path class="c68" d="M424 447l3-11-4-8-3 7zm-192-26l3 5-3-1-4 0zm-107-3l3-3-4 2-3 2zm-4 1l3-2-4-6-3 4z"/><path class="c69" d="M431 442l3-9-4 1-3 2zm-14-3l3-4-4 2-3-8zm-171-10l4-9-4 1-4 5z"/><path class="c70" d="M445 434l3 8-4-13-3 10zm-7 2l3 3-4-5-3-1zm-119-7l4-3-4 4-3-5zm-191-14l3-7-4 11-3-2z"/><path class="c71" d="M400 427l3 11-4-6-3-5zm-11 9l4-5-4 0-4-2zm-111-16l3 2-4 7-3-6zm-42-10l3 20-4-4-3-5z"/><path class="c72" d="M448 442l3-8-3-8-4 3zm-7-3l3-10-3-1-4 6zm-48-8l3-4-4 1-3 3zm-8-2l4 2-4 1-3-10zm-104-7l3-5-4 5-3 7zm-52-6l3 5-4 4-3-11z"/><path class="c73" d="M382 433l3-4-3-7-4 6zm-7-4l3-1-3-3-4 2zm-38-1l3-5-4-5-3 12zm-188-17l3 1-4 1-3 2zm3 1l3 2-4-3-3 2zm-10-5l3 8-4 1-3-6z"/><path class="c74" d="M334 420l3 8-4 2-3-14zm-18 1l3 8-3-4-4-10zm-28 4l3-6-4-3-3 1zm-31-12l3 9-4-3-3-4zm-101 2l3-8-4 7-3-2zm-24-6l3 1-4-2-3 7z"/><path class="c75" d="M285 415l3 10-4-8-3 5zm-14-10l3 18-4 0-3-5zm-7 2l3 11-4 4-3 0zm-11 10l4-4-4 2-3 5zm-80-8l3 5-3-6-4 7zm3 5l4-3-4 3-3-6zm-17-7l3 0-4 8-3-1zm-24 3l3 0-4-4-3 2z"/><path class="c76" d="M351 419l3 8-4 2-3-14zm-10-1l3 1-4 4-3 5zm-15 3l4-5-4 2-3 8zm-104-4l3-3-4 0-3-3zm-21-11l3 6-4 7-3-9z"/><path class="c77" d="M344 419l3-4-4 6-3 2zm-32-4l4 10-4-14-3 9zm-52 5l4-13-4 15-3-9zm-94-12l3 7-3-11-4 3z"/><path class="c78" d="M358 416l3 5-4-6-3 12zm-49 3l3-4-3 5-4-8zm-111-5l3-8-4 4-3-1zm-7-8l3 3-4 2-3-5zm-11-5l4 10-4 0-4 3zm4 10l3-5-4-2-3 7z"/><path class="c79" d="M365 426l3-3-4-13-3 11zm3-3l3 4-4-10-3-7zm-66-4l3-7-4-1-3 6zm3-7l4 8-4-3-4-6zm-10-1l3 6-4-7-3 9zm-80 4l3-4-4-4-3-6zm-10-5l3-1-4 3-3-6zm3-1l3-8-4 12-3-1z"/><path class="c81" d="M361 421l3-11-4 9-3-4z"/><path class="c61" d="M425 448l3 2-4-3-3-4z"/><path class="c63" d="M428 450l3-8-4-6-3 11z"/><path class="c64" d="M418 445l3-2-4-4-3 6zm-307-17l3-4-4-7-3 7zm-7-9l3 5-4 5-3-10zm3 5l3-7-3 4-4 8z"/><path class="c65" d="M114 424l3-1-3-3-4-3z"/><path class="c66" d="M432 435l3 4-4 3-3 8zm-189-5l3-1-4-3-3 4z"/><path class="c67" d="M452 442l3 5-4-13-3 8z"/><path class="c68" d="M411 424l3 21-4-4-3-1zm-8 16l4 0-4-2-3-11zm-282-26l4 4-4 1-4 4z"/><path class="c69" d="M435 439l3-3-4-3-3 9zm-28 4l4-19-4 16-4 0zm-160-15l3-9-4 10-3 1z"/><path class="c70" d="M449 433l3 9-4 0-3-8zm-7 8l3-7-4 5-3-3zm-202-14l3 3-4 0-3-20z"/><path class="c71" d="M386 432l3 4-4-7-3 4z"/><path class="c72" d="M393 433l3-10-3 8-4 5zm-14-5l3 5-4-5-3 1zm-129-9l3-2-3 3-4 9zm-122-4l4-6-4 6-3 3z"/><path class="c73" d="M400 434l3 6-3-13-4-4zm-28-3l3-2-4-2-3-4zm-49-7l3-3-3 5-4 3zm-34 2l3-1-4 0-3-10z"/><path class="c74" d="M376 423l3 5-4 1-3 2zm-153-4l3 1-4-3-3-1z"/><path class="c75" d="M396 423l4 4-4 0-3 4zm-76-3l3 4-4 5-3-8zm-28 5l3-14-4 8-3 6zm-66-5l3-4-4-2-3 3zm-73-10l3 5-4-3-3-1zm-18 5l4-8-4 3-3-1z"/><path class="c76" d="M369 417l3 14-4-8-3 3zm-32 6l4-5-4 10-3-8zm-55-4l3-4-4 7-3-2zm-63-3l3 1-4-6-3 4zm-73-10l3 5-4 4-3-8zm-7 1l3 0-4 3-3 0z"/><path class="c77" d="M355 426l3-10-4 11-3-8zm-91-5l4-1-4-13-4 13zm-7-11l3 10-3-7-4 4zm-24-1l3 1-4 11-3-5zm-31 11l3-10-4-4-3 8zm-8-1l4-5-4-5-3-3zm-24-13l3 3-4 6-3-7zm-10 7l3-7-4 1-3 8z"/><path class="c78" d="M362 423l3 3-4-5-3-5zm-10-2l3 5-4-7-3 0zm-8 3l4-5-4 0-3-1zm-17-5l3-5-4 7-3 3zm-14-2l3 4-4-6-3 4zm-7 4l3-2-4-7-3 7zm-10-2l3-3-4-5-3 14zm-21-8l3 9-4 3-3-18zm-59-1l3 6-4-1-3-5zm-73 1l3-5-4 1-3 0z"/><path class="c79" d="M330 414l4 6-4-4-4 5zm-31 2l3 3-4-2-3-6zm-108-10l3 13-3-13-4-1zm-24 5l3-5-4 2-3-2zm-4-5l3 2-4-1-3 0z"/><path class="c80" d="M348 419l3 0-4-4-3 4zm-77-1l4-7-4-6-3 15zm-3 2l3-15-4 13-3-11zm-59-11l3 1-4-1-3 1zm3 1l3 5-4-14-3 8zm-25-5l4 1-4 0-3 5zm-10-1l3-3-4 13-3-5z"/><path class="c82" d="M184 403l3 2-3 6-4-10z"/><path class="c62" d="M421 450l4-2-4-5-3 2z"/><path class="c63" d="M108 431l3-3-4-4-3-5zm-10 0l3-10-4 2-3 6z"/><path class="c64" d="M429 447l3-12-4 15-3-2z"/><path class="c65" d="M418 447l3 3-3-5-4-13zm-303-19l3-13-4 9-3 4z"/><path class="c66" d="M101 421l3-2-4 0-3 4z"/><path class="c68" d="M436 451l3-14-4 2-3-4zm-32-15l3 7-4-3-3-6zm-282-7l3-5-4-10-3 1zm-4-14l3-1-4 9-3 1z"/><path class="c69" d="M443 443l3-1-4-1-3-4zm-4-6l3 4-4-5-3 3zm-195-17l3 8-4 2-3-3zm-119 4l3-9-3 3-4-4z"/><path class="c70" d="M446 442l3-9-4 1-3 7zm-32-10l4 13-4 0-3-21z"/><path class="c71" d="M390 430l3 3-4 3-3-4z"/><path class="c72" d="M411 434l3-2-3-8-4 19zm-14 6l3-6-4-11-3 10z"/><path class="c73" d="M198 421l4-1-4-6-4 5zm-66-6l3 0-3-6-4 6z"/><path class="c74" d="M383 422l3 10-4 1-3-5zm-90-1l3-2-4 6-3 1zm-42-3l3 2-4-1-3 9zm-24 6l3-10-4 6-3-1zm-25-12l3 4-3 4-4 1z"/><path class="c75" d="M338 416l3 18-4-11-3 6zm3 18l3-10-3-6-4 5zm-55-11l3 3-4-11-3 4zm-18 1l3-6-3 2-4 1zm-111-12l3 1-4 2-3-5zm-18 1l4-2-4-4-4 8z"/><path class="c76" d="M261 423l3-2-4-1-3-10zm-24-4l3 8-4-17-3-1zm-42-6l3 8-4-2-3-13zm-42 4l4-5-4-2-3-3z"/><path class="c77" d="M387 422l3 8-4 2-3-10zm-25 4l4-2-4-1-3 2zm-28 3l3-6-3-3-4-6zm-52-3l4-3-4-4-4-8zm-24-7l3 4-4-13-3 10zm-4 1l3-10-4 7-3 2zm-24-6l3-5-4 7-3 4zm-10 0l3 5-4-3-3-6zm-15 2l4-7-4 1-3 10zm-41 0l3-5-4-5-3 7z"/><path class="c78" d="M380 421l3 1-4 6-3-5zm-7 1l3 1-4 8-3-14zm-7 2l3-7-4 9-3-3zm-11-6l4 7-4 1-3-5zm4 7l3-2-4-7-3 10zm-11 1l4-5-4-2-4 5zm-24-11l3 4-4 5-3-4zm-7 6l3-1-4 1-3-4zm-17 2l3-4-4-3-3 3zm3-4l3 2-4-2-3-3zm-69-1l3 1-4-10-3 5zm-88-5l4-6-4-1-3 5zm4-6l3 3-4 1-3-5z"/><path class="c79" d="M331 419l3 10-4-15-3 5zm-21-6l3 4-4 2-3 2zm-32-2l4 8-4 1-3-9zm-66 5l4-6-4 0-3-1zm-41-3l3-7-4 0-3 5z"/><path class="c80" d="M314 418l3 3-4-4-3-4zm-7-1l3-4-4 8-3-2z"/><path class="c81" d="M275 415l3-4-3 0-4 7zm-87 1l3-10-4-1-3-2zm-14-10l3-2-4 5-3-3z"/><path class="c82" d="M178 408l3-1-4-3-3 2z"/><path class="c83" d="M181 407l3-4-4-2-3 3z"/><path class="c61" d="M109 437l3-11-4 5-3-6zm-14-10l3 4-4-2-3 0z"/><path class="c62" d="M429 448l3 4-3-5-4 1zm-4 0l4-1-4 1-4 2zm-313-22l3 2-4 0-3 3z"/><path class="c63" d="M422 443l3 5-4 2-3-3zm-320-12l3-6-4-4-3 10z"/><path class="c64" d="M432 452l4-1-4-16-3 12zm-313-22l3-1-4-14-3 13z"/><path class="c65" d="M439 451l4-8-4-6-3 14zm-313-28l3 4-4-3-3 5zm-21 2l3 6-4-12-3 2z"/><path class="c69" d="M398 433l3 3-4 4-3 4zm-4 11l3-4-4-7-3-3zm-265-17l3-12-4 0-3 9z"/><path class="c70" d="M415 437l3 10-4-15-3 2zm-14-1l3 0-4-2-3 6z"/><path class="c71" d="M408 429l3 5-4 9-3-7z"/><path class="c72" d="M133 410l3 8-4-3-3 12z"/><path class="c73" d="M405 436l3-7-4 7-3 0zm-14-4l3 12-4-14-3-8zm-150-13l3 1-4 7-3-8zm-105-1l3-5-4 2-3 0z"/><path class="c74" d="M248 420l3-2-4 10-3-8zm-42 2l3 2-4-8-3-4zm-49-3l4-4-4-3-4 5z"/><path class="c75" d="M345 423l3 3-4-2-3 10zm-59 5l3-14-3 9-4 3zm-24-1l3-10-4 6-3-4zm3-10l3 7-4-3-3 2zm-10 9l3-7-4 1-3-2zm-10-4l3-2-4 0-3-1zm-15 2l4-6-4-4-3 10zm-7-7l4 7-4-5-3-5zm-62-2l3 1-4-3-3-1z"/><path class="c76" d="M289 414l4 7-4 5-3-3zm-20 12l3-8-4 6-3-7zm-31-5l3-2-4 0-3-1zm-29 3l3-8-3-7-4 7zm-10-4l3-8-4 9-3-8zm-10-6l3 4-4-2-3-1zm-21-1l3 0-4-2-3 5zm-18 0l3 4-3-10-4 6z"/><path class="c77" d="M342 424l3-1-4 11-3-18zm-46-3l4 2-4-4-3 2zm-24-3l3-3-4 3-3 6zm-59-1l3-8-4 7-3 8zm-21 1l3-5-4-7-3 10zm-28-12l4 7-4 3-3-1zm-24 8l3-13-4 12-3 5z"/><path class="c78" d="M359 426l3 0-3-1-4-7zm-24 2l3-12-4 13-3-10zm-10-7l3 5-4-11-3 9zm-4 3l3-9-4 5-3 1zm-42-3l3 5-4-15-3 4zm-136-20l3 12-3-2-4 2z"/><path class="c79" d="M377 427l3-6-4 2-3-1zm-11-7l4 1-4 3-4 2zm-17-1l3 3-4 4-3-3zm3 3l3-4-3 3-4 5zm-24 4l3-7-4 0-3-4zm-10-7l3 5-4-3-3-3zm-14-2l3 0-4 2-3 4zm-11 3l3 1-3 0-4-7zm-77-11l4 5-4-4-4 6zm-31 6l3 1-4-13-3 4z"/><path class="c80" d="M384 424l3-2-4 0-3-1zm-11-1l4 4-4-5-3-1zm-3-2l3 1-4-5-3 7zm-59 1l3-4-4-5-3 4zm-129-10l3 3-4-8-3 1zm-7 0l3-4-4-2-3 7z"/><path class="c55" d="M95 445l3-3-3-15-4 9z"/><path class="c59" d="M98 442l4-11-4 0-3-4zm-10-7l3 1-4-10-3 5z"/><path class="c60" d="M436 457l3-6-3 0-4 1zm-331-25l4 5-4-12-3 6z"/><path class="c61" d="M433 454l3 3-4-5-3-4zm-320-16l3-12-4 0-3 11zm-22-2l4-9-4 2-4-3z"/><path class="c63" d="M120 429l3 5-4-4-3-4zm3 5l3-11-4 6-3 1zm-7-8l3 4-4-2-3-2z"/><path class="c65" d="M426 445l3 3-4 0-3-5z"/><path class="c69" d="M419 432l3 11-4 4-3-10zm-289-8l3-14-4 17-3-4z"/><path class="c72" d="M395 433l3 0-4 11-3-12zm-164-14l3 6-4-1-3 8zm-4 13l3-8-3 0-4-7z"/><path class="c73" d="M416 442l3-10-4 5-3-3zm-7 1l3-9-4-5-3 7zm-7-12l3 5-4 0-3-3zm-178-7l3 8-4-15-3 3z"/><path class="c74" d="M412 434l3 3-4-3-3-5zm-129-10l3 4-4-2-3-5zm-28-1l4-4-4 7-3 1zm4-4l3 8-4-8-3 7zm-11 4l4 4-4-7-3 2zm4 4l3-1-4-8-3 2zm-18-2l4-4-4-3-4 6zm-24-6l3-2-4 7-3-2zm-10 13l3-20-4 8-3-2zm-63-10l3-8-4 4-3-8z"/><path class="c75" d="M336 426l3 0-4 2-3 4zm-4 6l3-4-4-9-3 7zm-66-10l3 4-4-9-3 10zm-25 4l4-4-4-3-3 2zm-45-8l3 2-4-7-3 5zm-45 5l3-10-4 0-3 0zm3-10l3 6-4-2-3-4z"/><path class="c76" d="M273 425l3-5-4-2-3 8zm-112-6l3-13-3 9-4 4z"/><path class="c77" d="M329 421l3 11-4-6-3-5zm-126-9l3 10-4-10-3 8zm-17 6l3-4-4 1-3-3zm-42 7l3-12-4-12-3 13z"/><path class="c78" d="M384 432l4-2-4-6-4-3zm4-2l3 2-4-10-3 2zm-49-4l3-2-4-8-3 12zm-59-7l3 5-4-3-3-1zm-60 1l3-3-3-3-4-5zm-27-11l3 9-4 0-3-4z"/><path class="c79" d="M360 429l3-8-4 5-3-7zm3-8l3-1-4 6-3 0zm-17 6l3-8-4 4-3 1zm-24-3l3-3-4 3-3-5zm-8-1l4-4-4-1-3 4zm-14-5l4-1-4 6-4-2zm-10-2l3 4-4-6-3 14zm-14 4l3 1-4-6-3 3zm-59-6l3 6-4-11-3 8zm-38 1l3-3-4-4-3 4zm-8-8l4 5-4 1-3 0zm-24 6l3 0-4 0-3-12z"/><path class="c80" d="M377 428l3-7-3 6-4-4zm3-7l4 3-4-3-3 6zm-10 9l3-7-3-2-4-1zm-14-11l3 7-4-8-3 4zm-49-1l4 4-4-5-3 0zm-10 0l3 0-4 3-3-1zm-122-7l4 4-4-3-4-5zm-7 6l3-10-3 6-4-7z"/><path class="c82" d="M353 420l3-1-4 3-3-3zm-49-6l3 4-3-1-4 1z"/><path class="c52" d="M99 441l3 2-4-1-3 3z"/><path class="c55" d="M92 439l3 6-4-9-3-1z"/><path class="c56" d="M102 443l3-11-3-1-4 11z"/><path class="c58" d="M82 442l3-5-4-5-3-3zm3-5l3-2-4-4-3 1z"/><path class="c59" d="M106 432l3-1-4 1-3 11zm3-1l4 7-4-1-4-5z"/><path class="c61" d="M116 438l4-9-4-3-3 12z"/><path class="c64" d="M430 449l3 5-4-6-3-3zm-307-25l4 8-4 2-3-5z"/><path class="c65" d="M127 432l3-8-4-1-3 11z"/><path class="c66" d="M131 426l3 1-4-3-3 8z"/><path class="c68" d="M427 446l3 3-4-4-3-7z"/><path class="c69" d="M413 449l3-7-4-8-3 9zm-275-22l3-7-4 2-3 5z"/><path class="c71" d="M420 445l3-7-4-6-3 10zm3-7l3 7-4-2-3-11zm-219-2l3-13-4-11-3 20zm-70-9l3-5-4-12-3 14z"/><path class="c72" d="M162 431l3-13-4 1-3 0zm-21-11l3 5-4-11-3 8z"/><path class="c73" d="M406 433l3 10-4-7-3-5zm-258-16l3 6-4-10-3 12z"/><path class="c74" d="M270 428l3-3-4 1-3-4zm-18-2l3-3-3 4-4-4zm-7-2l3-1-3-1-4 4zm-7-2l3 4-3-5-4 4zm-10-2l3-1-4 13-3-8zm-31 3l3 9-4-14-3-9zm-39-4l3 0-4 0-3-6z"/><path class="c75" d="M398 432l4-1-4 2-3 0zm-10 4l3-6-3 0-4 2zm-167-11l3-1-4-4-3-6zm-66-10l3 4-4-6-3 10z"/><path class="c76" d="M391 430l4 3-4-1-3-2zm-51-4l3 6-4-6-3 0zm3 6l3-5-4-3-3 2zm-11-2l4-4-4 6-3-11zm-45-4l3-10-4 12-3-4zm-21 0l4 2-4-6-3-6zm-24-7l3 5-4 2-3-4zm-7 2l3 1-4 3-3-6zm-24-3l3-1-4 2-3 4zm-4 5l3-4-4 3-3-10z"/><path class="c77" d="M395 427l3 5-3 1-4-3zm-48 0l3-4-4 4-3 5zm-56 3l3-5-4-9-3 10zm-14-4l3-7-4 1-3 5zm-18-1l4-9-4 3-4 4zm4-9l3 6-4 5-3-8zm-77 3l3-2-3 1-4-2zm-21-1l3-1-4-11-3 13z"/><path class="c78" d="M381 431l3 1-4-11-3 7zm-7-5l3 2-4-5-3 7zm-10 1l3 2-4-8-3 8zm-42 2l3 0-3-5-4-5zm3 0l4-8-4 0-3 3zm-41-9l3 6-4-2-3-5zm-70-3l3-3-4 3-3 2zm-25 0l4-8-4 5-3 4zm-7-1l4 2-4-6-3 3z"/><path class="c79" d="M371 423l3 3-4 4-3-1zm-4 6l3 1-4-10-3 1zm-56-5l3-1-3-1-4-4zm-132-8l3 0-3-1-4-4z"/><path class="c80" d="M357 429l3 0-4-10-3 1zm-42-7l3-3-4 4-3 1zm3-3l4 5-4-5-4 4zm-24 6l3-7-4 2-3-4z"/><path class="c81" d="M350 423l3-3-4-1-3 8zm-42 1l3 0-4-6-3-4zm-136-16l3 3-4-4-3 10z"/><path class="c82" d="M301 422l3-8-4 4-3 0z"/><path class="c54" d="M93 447l3-14-4 6-3 10zm-7-10l3 12-4-12-3 5zm3 12l3-10-4-4-3 2z"/><path class="c55" d="M96 433l3 8-4 4-3-6z"/><path class="c56" d="M103 442l3-10-4 11-3-2z"/><path class="c58" d="M79 430l3 12-4-13-3 11z"/><path class="c59" d="M113 433l3 5-3 0-4-7z"/><path class="c61" d="M117 433l3 1-4 4-3-5zm-7 4l3-4-4-2-3 1z"/><path class="c63" d="M120 434l3-10-3 5-4 9z"/><path class="c66" d="M127 432l4-6-4 6-4-8z"/><path class="c68" d="M416 441l4 4-4-3-3 7zm-282-18l4 4-4 0-3-1z"/><path class="c69" d="M424 448l3-2-4-8-3 7zm-11-8l3 1-3 8-4-3zm-4 6l4 3-4-6-3-10zm-209-23l4 13-4-4-3-9z"/><path class="c70" d="M141 431l4-11-4 0-3 7z"/><path class="c71" d="M270 432l3 5-3-9-4-2zm-121 1l3-10-4-6-3 3z"/><path class="c72" d="M273 437l4-11-4-1-3 3zm-51-11l3 1-4-2-3 4zm-15-3l4-5-4 5-3 13zm-48 0l3 8-4-12-3-4zm-14-3l3-3-4 8-3-5z"/><path class="c73" d="M277 438l4-20-4 8-4 11z"/><path class="c74" d="M256 429l3-4-4-2-3 3zm-27 0l3-4-4-5-3 7zm-4-2l3-7-4 4-3 1zm-73-4l3-8-4 8-3-6z"/><path class="c75" d="M406 436l3 10-3-13-4-6zm-21-4l3 4-4-4-3-1zm-27 3l3 1-4-7-3 0zm-70-1l3-4-4-4-3-6zm-25-2l3-6-3-10-4 9zm-14-8l3 2-4-3-3 1zm-31 5l3-4-4-11-3 3zm-52-14l3-2-4 5-3 13z"/><path class="c76" d="M361 436l3-9-4 2-3 0zm-35-6l3-4-4 3-3 0zm-73-12l3 11-4-3-3-2zm-7 9l3-3-4 0-3-5zm-31-4l3 6-4-12-3 1zm-18-1l3 1-3 0-4-8z"/><path class="c77" d="M402 427l4 6-4-2-4 1zm-59 1l4-1-4 5-3-6zm-10-2l3 3-4 1-3-4zm3 3l4-3-4 0-4 4zm-7-3l3 4-3-9-4 8zm-97-1l3-4-4-2-3 1zm-42-1l3-9-4 2-3 2z"/><path class="c78" d="M399 437l3-10-4 5-3-5zm-7-12l3 2-4 3-3 6zm-10 7l3 0-4-1-3-10zm-14 0l3-9-4 6-3-2zm-56-5l3-5-4 2-3 0zm-17-2l3-8-4 8-3 5zm-56-4l3-2-4 3-3-1zm-46-6l4 8-4-14-4 8zm-10-2l3 6-4-3-3 0zm-10 15l3-10-4-10-3 5z"/><path class="c79" d="M378 421l3 10-4-3-3-2zm-28 7l4 1-4-6-3 4zm4 1l3 0-4-9-3 3zm-35-6l3 6-4-10-3 3zm-38-5l3 2-4-1-3 7zm-112-5l3-5-4 9-3 1z"/><path class="c80" d="M375 437l3-16-4 5-3-3zm-73-13l3-1-4-1-3-5zm-4-7l3 5-4-4-3 7zm-122 1l3-2-4-5-3-3z"/><path class="c81" d="M305 423l3 1-4-10-3 8z"/><path class="c54" d="M90 437l3 10-4 2-3-12z"/><path class="c58" d="M107 442l3-5-4-5-3 10zm-7-7l3 7-4-1-3-8z"/><path class="c59" d="M104 430l3 12-4 0-3-7zm-7 4l3 1-4-2-3 14zm-15-1l4 4-4 5-3-12z"/><path class="c61" d="M114 436l3-3-4 0-3 4zm-39-6l4 0-4 10-3-9z"/><path class="c62" d="M121 434l3-1-4 1-3-1zm-42 4l3-5-3-3-4 0zm-7-11l3 3-3 1-4 7z"/><path class="c64" d="M128 432l3 1-4-1-3 1zm-4 1l3-1-4-8-3 10z"/><path class="c67" d="M131 433l3-10-3 3-4 6z"/><path class="c68" d="M145 431l4 2-4-13-4 11zm-7-1l3 1-3-4-4-4z"/><path class="c69" d="M420 444l4 4-4-3-4-4zm-146-10l3 4-4-1-3-5zm-122-7l4 0-4-4-3 10z"/><path class="c72" d="M417 442l3 2-4-3-3-1zm-129-7l3-1-3 0-4-7zm-24 3l3-13-4 7-3-4zm-60-17l3 2-3 13-4-13zm-45 5l4-2-4-1-3 4zm4-2l3-9-4 16-3-8z"/><path class="c73" d="M361 438l4-1-4-1-3-1zm-17-1l3 2-4-11-3 11zm-53-3l4-9-4 5-3 4zm-10 5l3-12-3-9-4 20zm-14-14l3 7-4-6-3 6zm-7 3l3 4-4-7-3 4zm-35-1l4 2-4-2-3-1zm-69 0l3-4-4-8-3 8z"/><path class="c74" d="M410 430l3 10-4 6-3-10zm-192-9l4 5-4 3-3-6zm-10 7l3-1-4-4-3-2zm-24 1l3-1-4-15-3 9zm-7-4l3-3-4-4-3 10z"/><path class="c75" d="M368 433l4 3-4-4-3 5zm-3 4l3-5-4-5-3 9zm-11 3l4-5-4-6-4-1zm-24 0l3-14-4 0-3 4zm-97-13l3-4-4 2-3 4zm-22 0l4-4-4-5-4 5zm-10 0l3-6-4 2-3-1zm-7-1l3-4-4-7-3 9zm-7 2l3-4-4-5-3-6z"/><path class="c76" d="M379 440l3-8-4-11-3 16zm-7-4l3 1-4-14-3 9zm-25 3l3-11-3-1-4 1zm-10-10l3 10-4-10-3-3zm3 10l3-11-3-2-4 3zm-83-12l3 1-4 1-3-11zm-14 0l3 0-4-8-3 2z"/><path class="c77" d="M403 430l3 6-4-9-3 10zm-94 3l3-6-4-3-3-1zm-25-6l4 7-4-14-3-2zm-48-4l3-2-4 0-3 4z"/><path class="c78" d="M389 426l3-1-4 11-3-4zm-66-2l3 6-4-1-3-6zm-10 6l3-12-4 9-3 6zm-14 3l3-9-4-7-3 8zm-49-16l3 1-4 6-3 3zm-10 2l3 8-4-6-3 2zm-60 3l3-9-4 3-3 2zm-10-8l3 14-4-15-3 2z"/><path class="c79" d="M396 428l3 9-4-10-3-2zm-10 0l3-2-4 6-3 0zm-80-8l3 13-4-10-3 1z"/><path class="c81" d="M393 435l3-7-4-3-3 1zm-77-17l3 5-4-1-3 5z"/><path class="c82" d="M320 425l3-1-4-1-3-5z"/><path class="c57" d="M93 439l4-5-4 13-3-10z"/><path class="c60" d="M90 435l3 4-3-2-4-3zm-4-1l4 3-4 0-4-4zm-20 5l3-7-4-6-3 16z"/><path class="c61" d="M83 435l3-1-4-1-3 5z"/><path class="c62" d="M111 420l3 16-4 1-3 5z"/><path class="c63" d="M100 432l4-2-4 5-3-1zm-31 0l3-5-4 11-3-12z"/><path class="c64" d="M118 428l3 6-4-1-3 3zm-42 0l3 10-4-8-3-3z"/><path class="c65" d="M125 425l3 7-4 1-3 1z"/><path class="c66" d="M115 435l3-7-4 8-3-16z"/><path class="c67" d="M149 433l3-6-3 6-4-2zm-41-13l3 0-4 22-3-12z"/><path class="c68" d="M299 443l3-3-3-7-4 9zm-167-15l3-6-4 11-3-1z"/><path class="c69" d="M135 422l3 8-4-7-3 10z"/><path class="c70" d="M278 430l3 9-4-1-3-4zm-66 6l3-2-4-7-3 1zm-56-7l3-3-3 1-4 0zm-14-16l3 18-4 0-3-1z"/><path class="c71" d="M292 431l3 11-4-8-3 1zm-146-3l3 5-4-2-3-18z"/><path class="c72" d="M331 437l3-2-4 5-3-7zm-36 5l4-9-4-8-4 9zm-10-10l3 3-4-8-3 12z"/><path class="c73" d="M355 439l3-3-4 4-3-6zm3-3l3 2-3-3-4 5zm-7-2l3 6-4-12-3 11zm-83-1l3-2-4-6-3 13zm3-2l3 3-4-2-3-7zm-10-2l3 9-4-10-3-1zm-32 4l4-6-4 2-4-2zm-90-8l3-12-4 17-3-8z"/><path class="c74" d="M414 445l3-3-4-2-3-10zm-38-14l3 9-4-3-3-1zm-11 4l3-2-3 4-4 1zm-17-6l3 5-4 5-3-2zm-73 0l3 1-4 4-3-3zm-56 3l3-10-4-1-3 13zm-4 2l3-13-3 2-4 4zm-10-7l3 1-4-7-3 6zm-17-4l3-4-4 9-3 1zm3-4l3 7-4-2-3 4zm-10 2l3 8-4-7-3 3zm-11 13l4-8-4-12-3 6zm4-8l3-1-4 3-3-14zm-11-4l4-2-4 4-4 2z"/><path class="c75" d="M334 435l3-6-4-3-3 14zm-7-2l3 7-4-10-3-6zm-129-12l3 6-4-5-3 4z"/><path class="c76" d="M411 441l3 4-4-15-3 3zm-39-5l4-5-4 5-4-3zm-31-12l3 13-4 2-3-10zm-32 11l4-5-4 3-3-13zm-7 5l4-20-4 4-3 9zm-80-18l3 5-3-1-4-5z"/><path class="c77" d="M404 437l3-4-4-3-3 9zm-4 2l3-9-4 7-3-9zm-17-10l3-1-4 4-3 8zm-136-7l3-5-4 10-3 0zm-52-1l3 0-4 5-3-7zm-28-1l3-6-4 1-3 9z"/><path class="c78" d="M397 433l3 6-4-11-3 7zm-80 5l3-13-4-7-3 12zm-63-7l3-4-4-9-3-1zm-18-11l4-1-4 4-3 4z"/><path class="c79" d="M407 433l3-3-4 6-3-6zm-28-10l4 6-4 11-3-9zm-55 3l3 7-4-9-3 1zm-73-4l3 9-4-14-3 5zm-8-1l4 1-4 5-3-8z"/><path class="c81" d="M390 423l3 12-4-9-3 2z"/><path class="c55" d="M63 450l3-11-4 3-3-3z"/><path class="c60" d="M94 439l3-3-4 3-3-4zm-24 2l3-10-4 1-3 7z"/><path class="c61" d="M97 436l3-4-3 2-4 5zm-10 2l3-3-4-1-3 1z"/><path class="c62" d="M80 436l3-1-4 3-3-10z"/><path class="c63" d="M101 434l3 3-4-5-3 4zm-24 3l3-1-4-8-3 3z"/><path class="c65" d="M73 431l3-3-4-1-3 5z"/><path class="c66" d="M126 437l3-5-4-7-3 9zm-8-6l4 3-4-6-3 7zm-14 6l4-17-4 10-4 2z"/><path class="c67" d="M122 434l3-9-4 9-3-6z"/><path class="c68" d="M129 432l3-4-4 4-3-7z"/><path class="c69" d="M303 435l3 6-4-1-3 3zm-87 2l3-5-4 2-3 2zm-63-10l3 2-4-2-3 6z"/><path class="c70" d="M296 435l3 8-4-1-3-11zm-10 4l3 0-4-7-3 8zm-150-6l3-8-4-3-3 6zm-25-7l4 9-4-15-3 0z"/><path class="c71" d="M310 437l3 1-4-3-3 6zm-28 3l3-8-4 7-3-9zm-52-5l3-4-4 2-3 1zm-21-2l3 3-4-8-3-1zm-52-1l3-6-4 3-3-2zm-7-11l3 6-4 6-3-5z"/><path class="c72" d="M289 439l3-8-4 4-3-3zm-66-3l3-2-4-12-3 10zm-49-10l3-1-3 1-4 8zm-7 7l3 1-3-14-4 2zm-7-7l3-4-4 4-3 3z"/><path class="c73" d="M335 430l3 15-4-10-3 2zm-22 8l4 0-4-8-4 5zm-7 3l3-6-3-15-4 20zm-34-4l3-8-4 2-3 2zm-7-8l3 4-4 5-3-9zm-39 5l3-1-4-6-3-5zm-20-4l3 3-4-6-3 1zm-63-1l3-1-4-15-3 12z"/><path class="c74" d="M359 437l3-1-4 0-3 3zm3-1l3-1-4 3-3-2zm-20 1l3 0-4-13-3 21zm-63-6l3 9-4-10-3-1zm-46 0l3-11-3 7-4 6zm-31-3l3-1-4 0-3-6zm-21 8l4-13-4-2-4 4zm-4-11l4-4-4 4-3 1z"/><path class="c75" d="M369 439l3-3-4-3-3 2zm-17 0l3 0-4-5-3-5zm-14 6l3-21-4 5-3 6zm-80-19l3 3-4-2-3 4zm-59 5l3-3-4-7-3 0zm-14-8l3 0-4 6-3-8z"/><path class="c76" d="M408 441l3 0-4-8-3 4zm-7-1l3-3-4 2-3-6zm-35-7l3 6-4-4-3 1zm-39 1l4 3-4-4-3-7zm-90-5l3 1-4-10-3 11z"/><path class="c77" d="M345 437l3-8-4 8-3-13zm-25-6l4-5-4-1-3 13zm-59-5l4 3-4 0-3-3zm-69 1l3-6-4-2-3 4z"/><path class="c78" d="M254 422l4 4-4 5-3-9z"/><path class="c79" d="M394 437l3-4-4 2-3-12zm-147-10l4-5-4 0-4-1zm-7 3l3-9-3-2-4 1z"/><path class="c80" d="M376 429l3-6-3 8-4 5z"/><path class="c81" d="M390 432l4 5-4-14-4 5z"/><path class="c82" d="M383 434l3-6-3 1-4-6z"/><path class="c83" d="M386 428l4-5-4 5-3 1z"/><path class="c53" d="M63 447l4-2-4 5-3-6zm-3-3l3 6-4-11-3 7z"/><path class="c55" d="M67 445l3-4-4-2-3 11z"/><path class="c59" d="M74 448l3-11-4-6-3 10z"/><path class="c61" d="M88 437l3 0-4 1-3 1zm3 0l3 2-4-4-3 3zm-7 2l3-1-4-3-3 1z"/><path class="c62" d="M81 434l3 5-4-3-3 1z"/><path class="c63" d="M98 431l3 3-4 2-3 3z"/><path class="c65" d="M105 428l3 6-4 3-3-3z"/><path class="c67" d="M133 432l3 1-4-5-3 4zm-18 2l3-3-3 4-4-9z"/><path class="c68" d="M290 449l3-10-4 0-3 0zm-77-12l3 0-4-1-3-3zm-84-14l4 9-4 0-3 5zm-7-2l4 16-4-3-4-3zm-10 3l3 10-4-8-3 8zm-4 10l3-8-3-6-4 17z"/><path class="c69" d="M168 435l3 1-4-3-3-6zm3 1l3-10-4 8-3-1z"/><path class="c70" d="M307 444l3-7-4 4-3-6zm-7 0l3-9-4 8-3-8zm-17-2l3-3-4 1-3-9zm-11-2l4 0-4-3-3-2zm-45-7l3 2-4-1-3 2zm-10 0l3-3-4 7-3 0zm3-3l3 6-4-4-3 5zm-10 6l3 1-4-4-3-3zm-70-8l3 1-4-4-3 8z"/><path class="c71" d="M297 437l3 7-4-9-3 4zm-119-3l3 2-4-11-3 1zm-42-14l4 8-4 5-3-1z"/><path class="c72" d="M293 439l3-4-4-4-3 8zm-91-7l4-2-4-2-3 3zm-41-4l3-1-4-1-3 6zm3-1l3 6-4-11-3 4zm-20 3l3-9-4 8-3-1z"/><path class="c73" d="M314 438l3-6-4 6-3-1zm-38 2l3-9-4-2-3 8zm-7-5l3 2-4-4-3-4zm-35-3l3-3-4 2-3 4zm-80-5l3 5-4-5-3-6z"/><path class="c74" d="M353 436l3 0-4 3-3 1zm3 0l3 1-4 2-3 0zm-18-2l4 3-4 8-3-15zm-21-2l3-1-3 7-4 0zm-122-4l4 3-4-10-3 6zm-48-7l3 0-4 7-3 1z"/><path class="c75" d="M370 441l3-1-4-1-3-6zm-25-10l4 9-4-3-3 0zm4 9l3-1-4-10-3 8zm-84-7l4 2-4-6-4-3zm-24-4l3 0-4 1-3-1zm-49-3l3 2-3-1-4-3zm-7-5l3 3-3-1-4 13z"/><path class="c76" d="M397 441l4-1-4-7-3 4zm-24-1l3-11-4 7-3 3zm-45 0l3-9-4 3-3-3zm-140-16l4 3-4-4-3 0z"/><path class="c77" d="M394 437l3 4-3-4-4-5zm-17 0l3-2-4-6-3 11zm-14-5l3 1-4 3-3 1zm-32-1l4-1-4 7-4-3zm-83-1l3-6-4 3-3 2zm-4-1l3-2-4-6-3 9z"/><path class="c78" d="M401 437l3-11-3 14-4 1zm3-11l4 15-4-4-3 3zm-17 17l3-11-4-4-3 6zm-66-13l3 1-4 0-3 1zm3 1l3 3-3-8-4 5z"/><path class="c80" d="M258 423l3 3-3 0-4-4zm-7 1l3-2-3 0-4 5z"/><path class="c81" d="M380 435l3-1-4-11-3 6z"/><path class="c56" d="M74 448l4-8-4 8-4-5zm-7-8l3 3-3 2-4 2zm3 3l4 5-4-7-3 4z"/><path class="c60" d="M78 440l3-6-4 3-3 11z"/><path class="c64" d="M92 436l3-6-4 7-3 0zm3-6l3 1-4 8-3-2zm-10-1l3 8-4 2-3-5z"/><path class="c67" d="M287 444l3 5-4-10-3 3zm-185-11l3-5-4 6-3-3z"/><path class="c68" d="M99 428l3 5-4-2-3-1z"/><path class="c69" d="M116 428l3 4-4 2-3-10zm3 4l3-11-4 10-3 3z"/><path class="c70" d="M294 435l3 2-4 2-3 10zm-11 8l4 1-4-2-4-9zm-70-9l4-1-4 4-3-1zm-41-2l3-3-4 7-3-1zm-49-3l3 7-4-15-3 11zm3 7l3-13-3 14-4-16zm-17-9l3-3-4 10-3-6z"/><path class="c71" d="M311 438l3 0-4-1-3 7zm-10 6l3-10-4 10-3-7zm3-10l3 10-4-9-3 9zm-76 7l3 0-4-8-3-9zm3 0l3-9-4 3-3-2zm-56-12l3 5-4-8-3 10z"/><path class="c72" d="M276 432l3 1-3 7-4 0zm3 1l4 9-4-11-3 9zm-44 4l3-9-4 4-3 9zm-29-9l4 8-4-6-4 2zm-27 6l3-6-4 6-3-5zm-14-7l3 8-4-8-3 1zm-7 2l3-1-4 4-3-5zm-11 0l4 6-4-14-3 9z"/><path class="c73" d="M269 433l3 7-3-5-4-2zm-70-3l3 2-3-1-4-3zm-17-2l3-7-4 15-3-2zm-28-6l4 7-4-2-3 8z"/><path class="c74" d="M224 424l3 9-4 3-3-6zm-21 6l3-2-4 4-3-2zm-52 5l3-8-4-6-3 0zm-18-11l3-4-3 12-4-9z"/><path class="c75" d="M374 440l3-3-4 3-3 1zm-42 4l3-10-4-3-3 9zm-24-17l3 11-4 6-3-10zm-70 1l3 1-4 0-3 3zm-42 0l3 2-4-2-3-2zm-56-9l4 11-4-2-4-8z"/><path class="c76" d="M398 442l3-5-4 4-3-4zm-42-4l4 0-4-2-3 0zm-38-2l3-6-4 2-3 6zm-73-4l3-2-4-1-3 0z"/><path class="c77" d="M367 439l3 2-4-8-3-1zm-7-1l3-6-4 5-3-1zm-11-7l4 5-4 4-4-9zm-10 6l3 1-4-4-3 0zm3 1l3-7-3 6-4-3zm-17-6l3 8-4-9-3-1zm-63 6l3-5-4-7-3-3zm-10-5l3-5-4-4-3 6zm-32-13l4 4-4 6-3 3z"/><path class="c78" d="M388 439l3-5-4 9-3-14zm3-5l3 3-4-5-3 11zm-10 7l3-12-4 6-3 2zm3-12l3 14-4-9-3 1zm-21 4l4 6-4-7-3 6zm-28 1l3 0-3-4-4 1zm-76-6l3 10-4-15-3 5zm-70-5l3 3-4-2-3-3z"/><path class="c80" d="M255 428l3-5-4-1-3 2z"/><path class="c58" d="M71 442l3 6-4-5-3-3z"/><path class="c62" d="M78 438l3-8-3 10-4 8z"/><path class="c66" d="M88 432l4 4-4 1-3-8zm-7-2l4-1-4 5-3 6z"/><path class="c69" d="M290 443l4-8-4 14-3-5zm-194-18l3 3-4 2-3 6zm-11 4l3 3-3-3-4 1z"/><path class="c70" d="M231 432l4 5-4 4-3 0zm-111-2l3-1-4 3-3-4zm-14-5l3 2-4 1-3 5z"/><path class="c71" d="M287 433l3 10-3 1-4-1zm-160-6l3 0-4 9-3-7zm-24 1l3-3-4 8-3-5z"/><path class="c72" d="M297 438l4 6-4-7-3-2zm-34 4l3 0-4-4-3-10zm3 0l3-9-4 0-3 5zm-90-12l3 4-4-5-3 3zm-7 1l3 1-4 3-3-8zm-39-4l3-3-4-1-3 13zm-17 2l3-1-4-4-3 3z"/><path class="c73" d="M315 441l3-5-4 2-3 0zm-35-2l3 4-4-10-3-1zm-7-1l3-6-4 8-3-7zm-27 0l3 2-4-8-3 0zm-8 5l4-11-4-4-3 9zm-28-15l3 6-3 2-4-8z"/><path class="c74" d="M371 443l3-3-4 1-3-2zm-35 0l3-6-4-3-3 10zm-7-4l3 5-4-4-3-8zm-10-1l3-2-4 0-3 5zm-49-9l3 9-4-5-3 9zm-21 11l3-7-4-3-3 2zm-84-8l4-1-4-4-3 1zm-3-4l3-1-4 1-3 1zm-11-2l3-4-3 13-4-6zm-41-5l3 8-4-2-3-2z"/><path class="c75" d="M350 454l3-15-4-8-3 5zm-45-13l3-14-4 7-3 10zm-11-15l3 12-3-3-4 8zm-80 2l3 6-4 0-3-6zm3 6l3-14-3 13-4 1zm-17-3l3-1-4 0-3-2zm-17-9l3 8-4-2-3 6zm-39 1l3 6-3 1-4-11z"/><path class="c76" d="M367 443l4 0-4-4-4-6zm-125-11l3 0-4-3-3-1zm-35-4l3 0-4 0-3 2zm-14 5l3-5-4-2-3-3zm-35-8l4 3-4 1-4-7zm-24 4l3-14-4 9-3 3z"/><path class="c77" d="M392 444l3-5-4-5-3 5zm-18-12l4 4-4 4-3 3zm4 4l3 5-4-4-3 3zm-18 6l3-9-3 5-4 0zm-7-3l3-1-3-2-4-5zm-10-3l3 0-4 2-3-1zm-21 0l3-4-4-2-3 6zm-10-6l3 11-4-3-3-11zm-56 1l3-3-4 0-3 5zm-32-4l4 14-4-17-4-4zm-38 3l3-7-4-2-3 7z"/><path class="c78" d="M395 439l3 3-4-5-3-3zm-10-1l3 1-4-10-3 12zm-39-2l3-5-4 0-3 7zm-156-23l3 20-4-10-3 7z"/><path class="c79" d="M326 425l3 14-4-7-3 4zm-189-10l3 4-4 1-3 4z"/><path class="c60" d="M75 436l3 2-4 10-3-6z"/><path class="c67" d="M82 436l3-7-4 1-3 8z"/><path class="c68" d="M89 436l3-2-4-2-3-3zm3-2l4-9-4 11-4-4z"/><path class="c69" d="M121 441l3-10-4-1-3 2zm-25-6l3-4-3-6-4 9z"/><path class="c71" d="M235 437l3 6-3-6-4-5zm-118-5l3-2-4-2-3 1z"/><path class="c72" d="M354 449l3-12-4 2-3 15zm-70-8l3-8-4 10-3-4zm-17 0l3-12-4 13-3 0zm-98-11l3 7-3-6-4 1zm3 7l4-7-4 2-3-1zm-48-6l3-4-4 2-3 1zm-25 0l4-3-4 0-3-3z"/><path class="c73" d="M361 449l3-2-4-5-3-5zm-14-4l3 9-4-18-3 0zm-14-6l3 4-4 1-3-5zm-32-5l4 7-4 3-4-6zm-59-2l4 6-4-6-4 11zm-128-2l3 2-4-3-3-8zm-8 5l4-14-4 4-3 3z"/><path class="c74" d="M281 435l3 6-4-2-3-3zm-4 1l3 3-4-7-3 6zm-28-5l4 1-4 8-3-2zm-87 0l3 1-3-4-4-3z"/><path class="c75" d="M364 447l3-4-4-10-3 9zm-49-5l4-4-4 3-3-11zm-62-10l3-1-4 2-3 7zm-25-3l3 3-3 9-4-14zm-24 1l3-2-4 2-3 1zm-28-4l4-3-4 7-4 7zm-24 1l3 1-4-2-3 3zm-4 2l3-3-4 3-3-6zm-17-9l3 9-4-2-3 0z"/><path class="c76" d="M389 446l3-2-4-5-3-1zm-32-9l3 5-4-4-3 1zm-20 2l3-5-4 9-3-4zm-77-9l3 12-4-14-3 3zm-59 1l3-1-4 1-3-7zm-4-7l3 7-4-3-3 5zm-17-1l3-1-4 12-3-4zm-35 6l3 0-4-6-3 2zm-7 1l3-5-4-10-3 14z"/><path class="c77" d="M385 442l4 4-4-8-4-2zm-14-5l3-5-3 11-4 0zm-31-3l3 2-4 1-3 6zm-35 2l3-6-3 11-4-7zm-49 1l4-7-4 1-3 1zm-31-3l3-5-4-2-3 2zm-7-10l3 5-4 5-3-6zm-7 5l3-1-4 0-3 0zm-56-1l3-3-4-3-3 4z"/><path class="c78" d="M381 436l4 2-4 3-3-5zm-83 1l3-3-4 4-3-12zm-7-8l3-3-4 17-3-10zm-17-6l3 13-4 2-3-9zm-53 6l3-2-4-7-3 14z"/><path class="c79" d="M308 430l4 0-4-3-3 14zm-167-5l3-2-4-4-3-4z"/><path class="c80" d="M378 442l3-6-3 0-4-4zm-48-14l3 11-4 0-3-14zm-7 1l3-4-4 11-3 2zm-129-2l3-3-4 9-3-20z"/><path class="c81" d="M187 425l3-12-4 17-3-8z"/><path class="c63" d="M83 442l3-6-4 0-3 11zm-4 5l3-11-4 2-3-2z"/><path class="c67" d="M100 438l3 1-4-8-3 4zm-14-2l3 0-4-7-3 7z"/><path class="c68" d="M351 452l3-3-4 5-3-9zm-248-13l3-4-3-7-4 3zm-10-7l3 3-4-1-3 2z"/><path class="c69" d="M124 434l4 0-4-3-3 10z"/><path class="c70" d="M365 451l3-1-4-3-3 2zm-248-24l4 14-4-9-3-2zm-10 6l3-6-4 8-3 4z"/><path class="c71" d="M358 453l3-4-4-12-3 12zm-10-5l3 4-4-7-3-3z"/><path class="c72" d="M236 434l3 6-4-3-3 6zm3 6l3-8-4 11-3-6zm-10 6l3-3-4-14-3 5zm-63-7l3-9-4 2-3-1z"/><path class="c73" d="M372 452l3-6-4-9-3 13zm-108-14l3 3-4 1-3-12zm-32 5l3-6-4-5-3-3zm-69-10l3 6-4-8-3-2zm-53-6l4 3-4-9-4 14z"/><path class="c74" d="M368 450l3-13-4 6-3 4zm-27 5l3-13-4-8-3 5zm-74-16l4-7-4 9-3-3zm-24 3l3-7-4-3-3 8zm-94-6l3-9-4 2-3 0zm-21-2l3-14-4 7-3 4z"/><path class="c75" d="M316 435l3 4-4 3-3 3zm-63 6l3-4-3-5-4-1zm-48-4l3-8-4 1-3 1zm-32-9l3-2-4 11-3-7zm-17 4l3-3-4-1-3-1z"/><path class="c76" d="M344 442l3 3-4-9-3-2zm-35-2l3 5-4-15-3 6zm-24-4l3-4-4 9-3-6zm-25-2l4 4-4-8-4 7zm-14 1l3-4-3 7-4-6zm-24 3l3-4-4-5-3-5zm-35-8l3-2-3-3-4 12zm-7 1l3 6-3-14-4 3zm-21-2l3 2-4-6-3 3zm-17-5l3 5-4-4-3 5z"/><path class="c77" d="M382 444l3-2-4-6-3 6zm-63-5l4-10-4 9-4 4zm-7 6l3-3-3-12-4 0zm-10-6l3-3-4-2-3 3zm-90-4l3-6-4 0-3 0zm-4-6l3 0-4-1-3 2zm-76-7l3 0-4-2-3 14zm3 0l3 8-4-1-3-9z"/><path class="c78" d="M375 446l3-4-4-10-3 5zm-42-4l4-3-4 0-3-11zm-45-10l3-3-4 4-3 8zm-90-4l3 3-4-7-3 3zm-15 9l4-12-4-3-3 1z"/><path class="c79" d="M292 433l3 4-4-8-3 3zm3 4l3 0-4-11-3 3zm-24-5l3-9-4 6-3 12zm-56-3l3-5-4 4-3 1z"/><path class="c80" d="M278 428l3 7-4 1-3-13z"/><path class="c81" d="M190 428l4-1-4-14-3 12z"/><path class="c83" d="M326 438l4-10-4-3-3 4z"/><path class="c64" d="M87 443l3-5-4-2-3 6z"/><path class="c67" d="M355 459l3-6-4-4-3 3zm-261-23l3 5-4-9-3 6zm3 5l3-3-4-3-3-3zm-7-3l3-6-4 4-3 0z"/><path class="c68" d="M359 454l3-9-4 8-3 6zm-8-1l4 6-4-7-3-4zm-247-18l3-2-4 6-3-1z"/><path class="c69" d="M226 450l3-4-4-12-3 4z"/><path class="c70" d="M369 450l3 2-4-2-3 1zm-7-5l3 6-4-2-3 4zm-18 5l4-2-4-6-3 13zm-177-14l3 8-4-5-3-6zm-56 2l3-1-4-10-3 6z"/><path class="c71" d="M376 444l3 13-4-11-3 6zm-143-7l3-3-4 9-3 3zm-10-5l3 18-4-12-3 4z"/><path class="c72" d="M337 449l4 6-4-16-4 3zm-83-1l3-12-4 5-3-4zm-7 0l3-11-4-2-3 7zm-73-14l3 5-4-11-3 16zm-4 10l3-16-4 2-3 9z"/><path class="c73" d="M379 457l3-13-4-2-3 4zm-66-7l3-15-4 10-3-5zm-17 1l3-3-4-11-3-4zm-56-11l3 2-4-2-3-6zm-24 0l3 2-4-13-3 6zm-63-6l3-2-4-5-3 9zm-32-13l3 13-3 7-4-14zm-7 16l3-10-3 3-4-3z"/><path class="c74" d="M334 445l3 4-4-7-3-2zm-35 3l3-9-4-2-3 0zm-171-19l4-7-4 12-4 0zm-10 5l3-13-4 6-3 10z"/><path class="c75" d="M303 443l3-9-4 5-3 9zm-39-3l3-1-3-1-4-4zm-7-4l3-2-4 3-3 4zm-7 1l3 4-4-10-3 4zm-31 5l3-4-4-14-3 5zm-59-12l3 3-4-4-3 3zm-14-2l3 8-4-7-3-5z"/><path class="c76" d="M320 445l3-3-4-3-3-4zm-112-17l4 7-4-6-3 8zm-7 3l4 6-4-6-3-3zm-17-7l3 6-4 7-3-6zm-7 15l3-8-4-5-3 2zm-38-9l3-6-4 6-3-8z"/><path class="c77" d="M327 439l3 1-4-2-3 4zm-21-5l3 6-4-4-3 3zm-35-2l3 5-3-5-4 7zm-73 3l3-4-3-3-4 0zm-49-18l4 17-4 2-3-8zm-7 10l4 1-4-4-3 6zm-7 5l4-2-4-8-3 0z"/><path class="c78" d="M330 440l3 2-3-14-4 10zm-7 2l3-4-3-9-4 10zm-34-5l3-4-4-1-3 4zm-98-6l3-3-4 0-3 2z"/><path class="c79" d="M282 431l3 5-4-1-3-7zm-88-3l4 0-4-1-4 1z"/><path class="c80" d="M278 436l4-5-4-3-4 9z"/><path class="c81" d="M274 437l4-9-4-5-3 9z"/><path class="c64" d="M91 451l3-15-4 2-3 5z"/><path class="c66" d="M355 460l4-6-4 5-4-6z"/><path class="c67" d="M98 443l3-7-4 5-3-5zm3-7l3-1-4 3-3 3z"/><path class="c68" d="M348 460l3-7-3-5-4 2zm-118-15l3-8-4 9-3 4z"/><path class="c69" d="M241 449l3-6-4-3-3 8zm-15-2l4-2-4 5-3-18z"/><path class="c70" d="M345 452l3 8-4-10-3-8zm-4-10l3 8-3 5-4-6zm-90 0l3 6-4-11-3 11zm-7 1l3 5-4-6-3-2zm-10 2l3 3-4-11-3 8zm-119-11l3 0-4 3-3 1z"/><path class="c71" d="M314 449l3 1-4 0-3-10zm-14-6l3 0-4 5-3 3zm-81 9l4-20-4 10-3-2zm-48-16l3-2-4 10-3-8zm-63-7l3 9-4-5-3 2z"/><path class="c72" d="M369 452l4 1-4-3-3-2zm4 1l3-9-4 8-3-2zm-11-4l4-1-4-3-3 9zm4-1l3 2-4 1-3-6zm-49 2l3-5-4-10-3 15zm-80-2l3-8-4-6-3 3zm-80-5l3-13-4 2-3 2zm-52-14l3 0-4 6-3 1z"/><path class="c73" d="M338 447l3-5-4 7-3-4z"/><path class="c74" d="M212 439l4 1-4-5-4-7zm-90 4l3-16-4-6-3 13z"/><path class="c75" d="M324 444l3-5-4 3-3 3zm-14-4l3 10-4-10-3-6zm-18 0l4 11-4-18-3 4zm-34-2l3-8-4 6-3 12zm-49 0l3 1-4-11-3 10zm-7-4l3 4-4-7-3 4zm3 4l3-10-3 9-4-6zm-27-8l3 1-4 8-3-5zm-18 1l4-3-4 2-3 13zm4-3l3 8-4-3-3-3zm-32 6l3-2-3-10-4 7z"/><path class="c76" d="M331 442l3 3-4-5-3-1zm-24 5l3-7-4-6-3 9zm-126-16l3-7-4 7-3 8zm-42-2l3-2-3 3-4 2zm-10 0l3 5-4-5-3-2zm-4-2l3 2-4 5-3-13z"/><path class="c77" d="M289 436l3 4-3-3-4 4zm-4 5l4-4-4-1-3-5zm-17-7l3-2-4 7-3 1zm-7-4l3 10-4-6-3 2zm-108-7l4 20-4-9-4-17z"/><path class="c78" d="M282 439l3 2-3-10-4 5zm-87-10l3 6-4-7-3 3z"/><path class="c79" d="M275 430l3 6-4 1-3-5zm-10 3l3 1-4 6-3-10zm-119 0l3-16-3 11-4-1z"/><path class="c80" d="M188 421l3 10-4-1-3-6z"/><path class="c82" d="M185 424l3-3-4 3-3 7z"/><path class="c63" d="M94 444l4-1-4-7-3 15z"/><path class="c66" d="M356 457l3 6-4-3-3-5zm-4-2l3 5-4-7-3 7zm-132-2l3-3-4 2-3-9z"/><path class="c67" d="M359 463l3-14-3 5-4 6z"/><path class="c68" d="M349 454l3 1-4 5-3-8zm-112-5l4 0-4-1-3-3zm-118-5l3-1-4-9-3 0z"/><path class="c69" d="M244 452l4-10-4 1-3 6zm-14-7l4 0-4 0-4 2zm-7 5l3-3-3-15-4 20zm-7-7l3 9-3-12-4-1zm-115-3l4-11-4 7-3 7z"/><path class="c71" d="M366 460l3-8-3-4-4 1zm-56-1l4-10-4-9-3 7zm-62-17l3 0-4 6-3-5zm-122 2l3-15-4-2-3 16zm-10-8l3 8-4-10-3-4z"/><path class="c72" d="M332 448l3 7-4-13-3 9zm-77-5l3-5-4 10-3-6zm-42-2l3 2-4-4-3-1z"/><path class="c73" d="M342 451l3 1-4-10-3 5zm-7 4l3-8-4-2-3-3zm-17-10l3-4-4 9-3-1zm-66-1l3-1-4-1-3 0zm-140-14l3 4-4 4-3-9z"/><path class="c74" d="M325 447l3 4-4-7-3-3zm-4-6l3 3-4 1-3 5zm-18 2l4 4-4-4-3 0zm-97-3l3-2-4 0-3-4zm-49 1l3-10-3 12-4-20zm-48-4l3-7-4-1-3 0z"/><path class="c75" d="M328 451l3-9-4-3-3 5zm-32-20l4 12-4 8-4-11zm-129 2l4 3-4 0-3-8zm-34-1l3-2-4 4-3-5zm3-2l3-1-4 3-3 2z"/><path class="c76" d="M164 440l3-7-3-5-4 3z"/><path class="c77" d="M300 445l3-2-3 0-4-12zm-104-10l3-1-4-5-3 5zm3-1l3 0-4 1-3-6zm-24-10l3 6-4 4-3 2zm-35 7l3-2-4 0-3 1zm3-2l3 4-4-6-3 2z"/><path class="c78" d="M286 435l3 1-4 5-3-2zm-115-5l4-6-4 12-4-3z"/><path class="c79" d="M262 440l3-7-4-3-3 8z"/><path class="c80" d="M293 439l3-8-4 9-3-4zm-14-6l3 6-4-3-3-6zm-87 1l3-5-4 2-3-10z"/><path class="c81" d="M182 425l3-1-4 7-3-1zm-32 4l3-6-4-6-3 16z"/><path class="c82" d="M269 433l3-6-4 7-3-1zm3-6l3 3-4 2-3 2zm-83 2l3 5-4-13-3 3z"/><path class="c83" d="M276 432l3 1-4-3-3-3z"/><path class="c63" d="M231 454l3 5-4-14-3 17z"/><path class="c64" d="M360 465l3 1-4-3-3-6zm-136-16l3 13-4-12-3 3z"/><path class="c65" d="M227 462l3-17-4 2-3 3zm-104-17l3-1-4-1-3 1z"/><path class="c66" d="M363 466l3-6-4-11-3 14zm-244-16l4-5-4-1-3-8z"/><path class="c67" d="M234 459l3-10-3-4-4 0zm-107-17l3-1-4 3-3 1z"/><path class="c68" d="M241 445l3 7-3-3-4 0zm-143-14l3 9-3 3-4 1z"/><path class="c69" d="M314 453l4-8-4 4-4 10zm-97-8l3 8-4-10-3-2zm-115-3l3 3-4-5-3-9z"/><path class="c70" d="M353 451l3 6-4-2-3-1zm-248-6l4-8-4-8-4 11z"/><path class="c71" d="M346 448l3 6-4-2-3-1zm-39-2l3 13-3-12-4-4zm-59-3l4 1-4-2-4 10zm-136 3l4-10-4-6-3 7z"/><path class="c72" d="M339 446l3 5-4-4-3 8zm-28-8l3 15-4 6-3-13zm-104 9l3-6-4-1-3-1zm-77-6l3-9-4-3-3 15z"/><path class="c73" d="M336 446l3 0-4 9-3-7zm-32 4l3-4-4-3-3 2zm-94-9l3 0-4-3-3 2zm-49-4l3 3-4-9-3 10z"/><path class="c74" d="M328 443l4 5-4 3-3-4z"/><path class="c75" d="M343 445l3 3-4 3-3-5zm-143-4l3-2-4-5-3 1zm3-2l3 1-4-6-3 0zm-35-3l3-6-4 3-3 7z"/><path class="c76" d="M321 439l4 8-4-6-3 4zm-163-7l3 5-4 4-3-14zm-21-1l3 0-4-1-3 2z"/><path class="c77" d="M297 450l3-5-4-14-3 8zm-153-13l3-8-4 0-3 2z"/><path class="c78" d="M255 439l4-14-4 18-3 1zm4-14l3 15-4-2-3 5zm-77 19l3-12-3-7-4 3zm-28-17l3 14-4-18-3 6zm-7 2l3 0-4 4-3-4z"/><path class="c79" d="M290 442l3-3-4-3-3-1zm-97-12l3 5-4-1-3-5z"/><path class="c80" d="M262 442l4-7-4 5-3-15zm4-7l3-2-4 0-3 7zm-115-8l3 0-4 2-3 0z"/><path class="c81" d="M175 431l3-3-3-4-4 6z"/><path class="c82" d="M287 432l3 10-4-7-3-9zm-4-6l3 9-4 4-3-6zm-98 6l4-3-4-5-3 1zm-7-4l4-3-4 5-3-6z"/><path class="c83" d="M273 433l3-1-4-5-3 6z"/><path class="c85" d="M280 427l3-1-4 7-3-1z"/><path class="c63" d="M235 462l3-9-4 6-3-5z"/><path class="c64" d="M228 450l3 4-4 8-3-13z"/><path class="c66" d="M238 453l3-8-4 4-3 10z"/><path class="c67" d="M116 440l3 10-3-14-4 10zm-10 3l3 1-4 1-3-3zm3 1l3 2-3-9-4 8z"/><path class="c68" d="M221 448l3 1-4 4-3-8zm-108-7l3-1-4 6-3-2z"/><path class="c69" d="M357 452l3 13-4-8-3-6zm-139-7l3 3-4-3-3 5zm-95-15l4 12-4 3-4 5z"/><path class="c70" d="M354 456l3-4-4-1-3 12zm-4 7l3-12-4 3-3-6zm-139-15l3 2-4-9-3 6zm-81 1l4-19-4 11-3 1z"/><path class="c71" d="M214 450l3-5-4-4-3 0z"/><path class="c72" d="M346 451l4 12-4-15-3-3zm-104-3l3-10-4 7-3 8zm3-10l3 5-4 9-3-7z"/><path class="c73" d="M301 446l3 4-4-5-3 5zm-98-7l4 8-4-8-3 2z"/><path class="c74" d="M315 446l3 7-4 0-3-15zm3 7l3-14-3 6-4 8zm-20-5l3-2-4 4-3-7zm-129-10l3 5-4-7-3 1zm-4-1l3-1-4 4-3-3z"/><path class="c75" d="M322 454l3-12-4-3-3 14zm-28-11l3 7-4-11-3 3zm-108-1l3-10-4 0-3 12zm-24-2l3-3-4 0-3-5zm-28-10l3 1-4 1-3 9z"/><path class="c76" d="M339 450l4-5-4 1-3 0zm-31-5l3-7-4 8-3 4zm-56-8l3 2-3 5-4-1zm-56 2l4 2-4-6-3-5zm-24 4l3-12-4-1-3 6zm-35-2l4-9-4-1-3-1zm4-9l3 5-4-6-3 0z"/><path class="c77" d="M259 452l3-10-3-17-4 14zm-10-12l3-3-4 6-3-5z"/><path class="c78" d="M332 438l4 8-4 2-4-5zm-7 4l3 1-3 4-4-8z"/><path class="c79" d="M291 441l3 2-4-1-3-10zm-98-6l3 4-3-9-4 2zm-14-9l3 18-4-16-3 3z"/><path class="c80" d="M189 432l4-2-4-1-4 3zm-41-7l3 2-4 2-3 8z"/><path class="c81" d="M273 442l4 0-4-9-3-6zm-118-14l3 4-4-5-3 0z"/><path class="c82" d="M266 435l4-8-4 8-4 7z"/><path class="c83" d="M277 442l3-15-4 5-3 1zm-7-15l3 6-4 0-3 2z"/><path class="c84" d="M284 444l3-12-4-6-3 1z"/><path class="c66" d="M232 446l3 16-4-8-3-4z"/><path class="c68" d="M225 452l3-2-4-1-3-1zm-115-11l3 0-4 3-3-1z"/><path class="c69" d="M239 440l3 8-4 5-3 9zm-10 9l3-3-4 4-3 2z"/><path class="c70" d="M350 457l4-1-4 7-4-12zm-136-11l4-1-4 5-3-2z"/><path class="c71" d="M221 441l4 11-4-4-3-3zm-101-2l3-9-4 20-3-10z"/><path class="c72" d="M326 454l3 2-4-14-3 12zm-192-15l3 2-3-11-4 19zm-17-4l3 4-4 1-3 1z"/><path class="c73" d="M207 435l4 13-4-1-4-8z"/><path class="c74" d="M340 449l3 5-4-4-3 0zm3 5l3-3-3-6-4 5zm-10 4l3-8-4-12-3 18zm-14-13l3 9-4-1-3-7zm-59-3l3 2-4 8-3-9zm-119-4l4 0-4-6-4 9zm-14-14l3 25-3-7-4-12z"/><path class="c75" d="M284 451l4-6-4-1-4-3zm-21-7l3-9-4 7-3 10zm-7-1l3 9-4-13-3-2zm-56-2l3-2-3 2-4-2z"/><path class="c76" d="M302 449l3-8-4 5-3 2zm3-8l3 4-4 5-3-4zm-132-1l3-11-4 14-3-5zm-7-8l3 6-4-1-3 3z"/><path class="c77" d="M336 450l3 0-3-4-4-8zm-7 6l3-18-4 5-3-1zm-20-5l3-7-4 1-3-4zm-14-9l3 6-4-5-3-2zm-42 3l3-2-4-6-3 3zm-7-8l3 3-4-2-3 10zm-49 0l3 4-4-2-3-4zm-7 2l3-4-4-3-3 10zm-7-5l3 8-4 2-3-18zm-38 4l3-13-4 12-3-5zm-21-2l3-12-4 6-3 9z"/><path class="c78" d="M312 444l3 2-4-8-3 7zm-108-10l3 1-4 4-3 2zm-45-3l3 9-4-8-3-4z"/><path class="c79" d="M288 445l3-4-4-9-3 12zm-11-10l3 6-3 1-4 0zm-101-6l3-3-4 5-3 12zm-21 8l4-6-4-3-3 8zm-7-7l4 6-4-11-3 13z"/><path class="c80" d="M280 441l4 3-4-17-3 15z"/><path class="c81" d="M270 443l3-1-3-15-4 8zm-118-7l3-8-4-1-3-2z"/><path class="c82" d="M180 434l3 0-4-8-3 3z"/><path class="c70" d="M330 458l3 0-4-2-3-2z"/><path class="c71" d="M347 459l3-2-4-6-3 3zm-111-14l3-5-4 22-3-16zm-11 2l4 2-4 3-4-11z"/><path class="c72" d="M320 457l3-2-4-10-3 11z"/><path class="c73" d="M337 452l3-3-4 1-3 8zm-14 3l3-1-4 0-3-9zm-91-14l4 4-4 1-3 3zm-14 6l3-6-3 4-4 1zm-104-11l3-1-4 6-3 0z"/><path class="c74" d="M344 448l3 11-4-5-3-5zm-38 7l3-4-4-10-3 8zm-91-7l3-1-4-1-3-11zm-77-14l3 4-4 3-3-2zm-17 5l3-3-4 3-3-4z"/><path class="c75" d="M313 442l3 14-4-12-3 7zm3 14l3-11-4 1-3-2zm-77-8l4-5-4-3-3 5zm-28-13l3 11-3 2-4-13zm-80-3l3 7-4 10-3-25z"/><path class="c76" d="M298 445l4 4-4-1-3-6zm-41 3l3-6-4 1-3 2zm-14-5l3-6-4 11-3-8zm-56-3l3-1-4 3-3-8zm-52-3l3-3-4 5-3-7z"/><path class="c77" d="M191 440l3-6-4 5-3 1z"/><path class="c78" d="M288 439l3-1-3 7-4 6zm-7 5l3 7-4-10-3-6zm-7 1l3-10-4 7-3 1zm-27-2l3 0-4-6-3 6zm3 0l3 2-4-5-3-3zm-56-9l3 3-4-2-3 4zm-10 2l3 4-4-6-3 0zm-7 6l3-8-4-5-3 11zm-7-11l3 9-4-2-3-6zm-18 2l3 4-3-1-4-6zm-7-3l3 0-3 8-4 0z"/><path class="c79" d="M295 445l3 0-3-3-4-4zm-4-7l4 4-4-1-3 4zm-20 6l3 1-4-2-3-10zm-7 0l3-11-4 11-3-2zm-56 0l3-9-4 0-3-1zm-42-2l4-11-4 1-3-2zm-3-12l3 2-4 8-3-9zm-35 5l3-3-4-8-3 12z"/><path class="c80" d="M267 433l3 10-4-8-3 9zm-66-5l3 6-4 7-3-4zm-42 5l4-3-4 1-4 6z"/><path class="c72" d="M327 451l3 7-4-4-3 1z"/><path class="c73" d="M331 459l3-10-4 9-3-7zm3-10l3 3-4 6-3 0zm-10 0l3 2-4 4-3 2zm-88 4l3-5-3-3-4-4zm-10-2l3-8-4 4-3 2zm-7-8l3 6-4-2-3 1zm3 6l3-2-4-6-3 6z"/><path class="c74" d="M316 451l4 6-4-1-3-14zm-10-4l3 5-3 3-4-3zm-4 5l4 3-4-6-4-4zm-73-9l3-2-3 8-4-2z"/><path class="c75" d="M338 451l3 6-4-5-3-3zm3 6l3-9-4 1-3 3zm-32-5l4-10-4 9-3 4zm-66-4l4-5-4 0-4 5zm-31 0l3 0-4-13-3 9zm-87-8l3-5-4 1-3 3zm-7-6l3 5-4-4-3 1z"/><path class="c76" d="M275 454l3-13-4 4-3-1zm-21-10l3 4-4-3-3-2zm-66 0l3-4-4 0-3-4zm-49-2l3-5-4-3-3 3zm-17-7l3 5-4-1-3-5z"/><path class="c77" d="M299 444l3 8-4-7-3 0zm-14 2l3-7-4 12-3-7zm-24-6l3 4-4-2-3 6zm-11 8l4-4-4-1-3 0zm-108-11l3-7-4 8-3-4zm-10 2l3-2-4-5-3 3z"/><path class="c78" d="M268 454l3-10-4-11-3 11zm-73-4l3-20-4 4-3 6zm-14-13l3-1-4-2-3 8z"/><path class="c79" d="M282 444l3 2-4-2-3-3zm-4-3l3 3-4-9-3 10zm-21-5l4 4-4 8-3-4zm-52 10l3-2-4-10-3-6zm-28-5l4-4-4 5-4-14zm-7-1l3-12-3 3-4 11zm3-12l4 14-4-2-3-9z"/><path class="c80" d="M163 432l3 10-3-12-4 3zm-7-1l3 2-4 4-3-4zm-10 5l3-5-4-1-3 7z"/><path class="c81" d="M292 444l3 1-4-7-3 1zm-143-13l3 2-4-3-3 0z"/><path class="c82" d="M198 430l3-2-4 9-3-3z"/><path class="c83" d="M202 429l3 17-4-18-3 2z"/><path class="c73" d="M317 455l3 4-4-8-3 3zm3 4l4-10-4 8-4-6zm-48-6l3 1-4-10-3 10zm-35-7l3 0-4 7-3 0zm3 0l3 2-4 0-3 5zm-10 0l3 7-4-10-3 8zm3 7l3 0-4-12-3 2zm-24-6l3 1-4-4-3 2z"/><path class="c74" d="M334 460l4-9-4-2-3 10zm-66-9l4 2-4 1-3-11zm-52-8l3 0-4 5-3 0zm-25 0l4 7-4-10-3 4z"/><path class="c75" d="M327 449l4 10-4-8-3-2zm-104-8l3 10-4-2-3-6z"/><path class="c76" d="M310 450l3 4-4-2-3-5zm3 4l3-3-3-9-4 10zm-66-10l3 4-3-5-4 5zm-34-9l3 8-4 5-3-1zm-25 8l3 0-3 1-4-2zm-31-6l3 5-4-11-3 16zm-7 9l3 1-4-16-3 5zm-25-4l4-7-4 5-3-5zm4-7l3 4-4-4-3 5z"/><path class="c77" d="M303 452l3-5-4 5-3-8zm-17-2l3 1-4-5-3-2zm-7-5l3-1-4-3-3 13zm-14-2l3 11-4-10-3-4zm-81-1l4 2-4-8-3 1zm-41-6l3 0-4 1-3 5zm-7-5l3 11-4-5-3 2z"/><path class="c78" d="M289 451l3-7-4-5-3 7zm-83-8l3 4-4-1-3-17zm-25-7l3 6-3-5-4 4zm-28 11l3-16-4 2-3-2zm-21-11l4-5-4 8-3-4z"/><path class="c79" d="M293 438l3 10-4-4-3 7zm3 10l3-4-4 1-3-1zm-42-7l3-5-3 8-4 4zm-55 3l3-15-4 1-3 20z"/><path class="c80" d="M174 432l3 9-4-13-3 12zm-7-4l3 12-4 2-3-10zm-7 14l3-10-4 1-3-2z"/><path class="c82" d="M261 438l4 5-4-3-4-4z"/><path class="c83" d="M164 426l3 2-4 4-3 10z"/><path class="c72" d="M304 463l3-8-4-3-3 4z"/><path class="c73" d="M331 456l3 4-3-1-4-10zm-17 6l3-7-4-1-3-4z"/><path class="c74" d="M199 453l3-10-3 1-4 3zm-4-6l4-3-4 6-4-7z"/><path class="c75" d="M321 455l3-8-4 12-3-4zm-87-11l3 2-4 7-3-7zm-42 1l3 2-4-4-3 0zm-63 0l3-9-3-1-4 7z"/><path class="c76" d="M324 447l3 2-3 0-4 10zm-17 8l3-5-4-3-3 5zm-7 1l3-4-4-8-3 4zm-28-7l3-6-3 10-4-2zm3-6l4 2-4 9-3-1zm-48 2l3 1-4 5-3-10zm-7 8l3-12-4 2-3 0zm-66-21l3 5-4 10-3-1zm-11 12l4-7-4-1-3 10zm-3 2l3-10-4 6-3-11z"/><path class="c77" d="M328 456l3 0-4-7-3-2zm-45-4l3-2-4-6-3 1zm-28 0l3-5-4-6-3 5zm-7-1l3-5-4-2-3-1zm-4-8l3 1-4 4-3-2zm-27 4l3 6-4-10-3-8zm-70-10l3 9-4-10-3 0zm-11 6l4 3-4-15-4 5z"/><path class="c78" d="M290 451l3-13-4 13-3-1zm-11-2l4 3-4-7-4-2zm-14 3l3-1-3-8-4-5zm-14-6l3-5-4 7-3-4zm-10-3l3 0-4 3-3 0zm-17-9l3 11-4-4-3 12zm-15 9l4-8-4 12-3-4zm-24-4l3 4-4-1-3-6z"/><path class="c79" d="M297 446l3 10-4-8-3-10zm-95-3l4 0-4-14-3 15zm-27 2l3-2-4-11-3 3zm3-2l3-7-4 5-3-9z"/><path class="c80" d="M161 439l3-13-4 16-3-5z"/><path class="c81" d="M258 447l3-9-4-2-3 5z"/><path class="c82" d="M168 450l3-15-4-7-3-2zm3-15l3-3-4 8-3-12z"/><path class="c72" d="M308 455l3 0-4 0-3 8zm-7 6l3 2-4-7-3-10zm-105-6l3-2-4-6-3-2zm-56-1l3-10-3 2-4-3z"/><path class="c73" d="M315 458l3-4-4 8-3-7zm3-4l3 1-4 0-3 7zm-7 1l3 7-4-12-3 5z"/><path class="c74" d="M266 463l3-21-4 10-3 5zm-63-14l3 0-4-6-3 10zm-70-4l3-2-4-7-3 9z"/><path class="c75" d="M290 463l3-10-3-2-4-7zm-31-18l3 12-4-10-3 5zm-98 5l4-3-4-8-3 2zm-14-5l3 1-3-9-4 7z"/><path class="c76" d="M325 457l3-1-4-9-3 8zm-63 0l3-5-4-14-3 9zm-10-14l3 9-4-6-3 5zm-32 8l4-17-4 19-3-6zm-14-2l3-6-3 0-4 0zm-34-7l3 3-4-10-3 15z"/><path class="c77" d="M283 456l3-12-3 8-4-3zm3-12l4 7-4-1-3 2zm-17-2l3 7-4 2-3 1zm-80 5l3-2-4-2-3-4zm-39-1l4-14-4 14-3-9z"/><path class="c78" d="M245 447l3 4-4-8-3 0zm-10 2l3-2-4-3-3-1zm3-2l3-4-4 3-3-2zm-7-4l3 1-4 2-3-1zm-45 6l3-2-4-8-3-3zm-7-6l3-7-4 7-3 2zm-14 4l3 3-4-24-3 13zm-11-4l4-2-4-9-4 14z"/><path class="c79" d="M293 453l4-7-4-8-3 13zm-17-7l3 3-4-6-3 6zm-66-5l3-1-4 3-3 6z"/><path class="c80" d="M213 440l4 7-4-12-4 8zm-31-4l3 3-4-3-3 7zm-24 5l3-2-4-2-3-5z"/><path class="c81" d="M227 444l4-1-4 2-3-11z"/><path class="c67" d="M141 456l3 1-4-3-3-2z"/><path class="c70" d="M301 462l3 0-3-1-4 0zm3 0l4-7-4 8-3-2zm-160-5l3-12-4-1-3 10z"/><path class="c71" d="M197 453l3-3-4 5-3-2zm-32 4l3-7-3-3-4 3zm-28-5l3 2-4-11-3 2z"/><path class="c72" d="M294 455l3 6-4-8-3 10zm-31 3l3 5-4-6-3-12zm-63-8l3-1-4 4-3 2z"/><path class="c73" d="M319 465l3-7-4-4-3 4zm-8-3l4-4-4-3-3 0zm-24 0l3 1-4-19-3 12zm-97-9l3 0-4-6-3 2zm3 0l3 2-4-10-3 2zm-21 1l4-2-4-10-4 8zm-21-2l3-9-4 3-3-1z"/><path class="c74" d="M322 458l3-1-4-2-3-1zm-25 3l4 0-4-15-4 7zm-129-11l4-8-4 8-3-3z"/><path class="c75" d="M270 454l3-3-4-9-3 21zm-94-2l3-9-4 2-3-3zm-18-3l3 1-3-9-4 2z"/><path class="c76" d="M253 457l3-2-4-12-3 5zm-32-8l3-1-4 3-3-8z"/><path class="c77" d="M280 452l3 4-4-7-3-3zm-24 3l3-10-4 7-3-9zm-73-5l3-1-4-13-3 7z"/><path class="c78" d="M277 450l3 2-4-6-3 5zm-32 0l4-2-4-1-3-3zm4-2l3-5-4 8-3-4zm-11-1l4-3-4 3-3 2zm-7 3l4-1-4-6-4 1zm-14-7l3 8-3-4-4-7zm-10-2l3 0-4 8-3 0z"/><path class="c79" d="M273 451l3-5-4 3-3-7zm-31-7l3 3-4-4-3 4zm-18 4l3-4-3-10-4 17z"/><path class="c80" d="M214 445l3-2-4-3-3 1z"/><path class="c66" d="M145 463l3-9-4 3-3-1z"/><path class="c67" d="M312 469l3 2-4-9-3 7zm-136-2l3-8-3-7-4 2z"/><path class="c68" d="M305 467l3 2-4-7-3 0z"/><path class="c69" d="M315 471l4-6-4-7-4 4zm-153-8l3-6-4-7-3-1z"/><path class="c70" d="M308 469l3-7-3-7-4 7zm-17-6l3-8-4 8-3-1zm-122-10l3 1-4-4-3 7zm-21 1l3-2-4-7-3 12z"/><path class="c71" d="M298 464l3-2-4-1-3-6zm-10-7l3 6-4-1-3 1zm-32 5l4-4-4-3-3 2zm-104-7l3-8-4 5-3 2z"/><path class="c72" d="M284 463l3-1-4-6-3-4zm-21-2l4-8-4 5-3 0zm4-8l3 1-4 9-3-5zm-73-3l3 3-4 0-3 0zm-11 1l3-3-3 2-4 9zm-4 8l4-9-4-7-3 9z"/><path class="c73" d="M186 448l4 5-4-4-3 1z"/><path class="c74" d="M281 459l3 4-4-11-3-2zm-21-1l3 0-4-13-3 10zm-59-8l3 1-4-1-3 3zm-46-3l3 2-4-6-3 9z"/><path class="c75" d="M249 453l4 4-4-9-4 2z"/><path class="c76" d="M242 462l3-12-3-6-4 3zm-7-9l3-6-3 2-4 1zm-10-1l3-3-4-1-3 1zm-21-1l3-10-4 8-3 1z"/><path class="c77" d="M274 449l3 1-4 1-3 3zm-42-4l3 8-4-3-3-1zm-4 4l3 1-4-6-3 4zm-10 3l3-3-4-6-3 2z"/><path class="c78" d="M208 452l3-9-4-2-3 10z"/><path class="c81" d="M211 443l3 2-4-4-3 0z"/><path class="c65" d="M163 469l3-12-4 6-3-5z"/><path class="c66" d="M180 468l3-17-4 8-3 8z"/><path class="c67" d="M170 466l3-7-4-6-3 4zm3-7l3 8-4-13-3-1zm-24 0l3-4-4-1-3 9z"/><path class="c68" d="M299 468l3 2-4-6-3 2zm3 2l3-3-4-5-3 2zm-136-13l3-4-4 4-3 6z"/><path class="c69" d="M260 465l3-4-3-3-4 4z"/><path class="c70" d="M309 453l3 16-4 0-3-2zm-17 14l3-1-4-3-3-6zm3-1l3-2-4-9-3 8zm-136-8l3 5-4-14-3-2z"/><path class="c71" d="M253 465l3-3-3-5-4-4zm-10-5l3-2-4 4-3-7z"/><path class="c72" d="M285 460l3-3-4 6-3-4zm-129-13l3 11-4-11-3 8z"/><path class="c73" d="M246 458l3-5-4-3-3 12zm-56-4l4-4-4 3-4-5z"/><path class="c74" d="M267 461l4-10-4 2-4 8zm-28-6l3 7-4-15-3 6zm-52-3l3 2-4-6-3 3z"/><path class="c75" d="M236 457l3-2-4-2-3-8zm-32-4l4-1-4-1-3-1zm-10-5l3 1-3 1-4 4zm3 1l4 1-4 3-3-3z"/><path class="c76" d="M229 457l3-12-4 4-3 3zm-7-7l3 2-4-3-3 3z"/><path class="c77" d="M278 454l3 5-4-9-3-1zm-7-3l3-2-4 5-3-1zm-56 1l3 0-4-7-3-2z"/><path class="c78" d="M274 454l4 0-4-5-3 2zm-55-13l3 9-4 2-3 0z"/><path class="c79" d="M212 441l3 11-4-9-3 9z"/><path class="c63" d="M167 470l3-4-4-9-3 12z"/><path class="c65" d="M177 456l3 12-4-1-3-8z"/><path class="c66" d="M174 465l3-9-4 3-3 7z"/><path class="c67" d="M303 475l3-13-4 8-3-2zm-7-2l3-5-4-2-3 1zm-42-6l3 1-4-3-3 1zm3 1l3-3-4-3-3 3zm-76-4l3-8-4 12-3-12z"/><path class="c68" d="M160 459l3 10-4-11-3-11z"/><path class="c70" d="M250 466l3-1-4-12-3 5zm-66-10l3-4-4-1-3 17z"/><path class="c71" d="M306 462l3-9-4 14-3 3zm-45-4l3-3-4 10-3 3zm3-3l3 6-4 0-3 4zm-17 3l3 8-4-8-3 2zm-94-4l3-7-4 8-3 4z"/><path class="c72" d="M289 460l3 7-4-10-3 3zm-98 8l3-20-4 6-3-2z"/><path class="c73" d="M285 461l4-1-4 0-4-2zm-52 2l3-6-4-12-3 12z"/><path class="c74" d="M281 458l4 2-4-1-3-5zm-41-10l3 12-4-5-3 2zm-10 5l3 10-4-6-3-7z"/><path class="c75" d="M278 465l3-7-3-4-4 0z"/><path class="c76" d="M271 457l3-3-3-3-4 10zm-45-7l3 7-4-5-3-2z"/><path class="c77" d="M222 462l4-12-4 0-3-9zm-14-10l4-11-4 11-4 1zm-10 5l3-14-4 6-3-1zm3-14l3 10-3-3-4-1z"/><path class="c78" d="M205 447l3 5-4 1-3-10z"/><path class="c81" d="M215 448l4-7-4 11-3-11z"/><path class="c64" d="M171 460l3 5-4 1-3 4zm-7 3l3 7-4-1-3-10z"/><path class="c66" d="M299 469l4 6-4-7-3 5zm-107 0l3-13-4 12-3 0zm-25-9l4 0-4 10-3-7z"/><path class="c67" d="M296 473l3-4-3 4-4-6zm-118-10l3 1-4-8-3 9zm-18-4l4 4-4-4-4 6z"/><path class="c68" d="M185 461l3 7-4-12-3 8zm3 7l3 0-4-16-3 4z"/><path class="c69" d="M292 467l4 6-4-6-3-7zm-41-4l3 4-4-1-3-8z"/><path class="c70" d="M258 460l3-2-4 10-3-1zm-102 5l4-6-4-12-3 7z"/><path class="c71" d="M289 469l3-2-3-7-4 1zm-56-6l4 1-4-1-3-10zm-38-7l3 1-4-9-3 20z"/><path class="c73" d="M282 462l3-1-4-3-3 7zm-42 4l4-10-4-8-3 16zm-3-2l3-16-4 9-3 6z"/><path class="c74" d="M275 459l3 6-4-11-3 3z"/><path class="c75" d="M268 456l3 1-4 4-3-6zm-24 0l3 2-4 2-3-12zm-18-3l4 0-4-3-4 12z"/><path class="c76" d="M272 458l3 1-4-2-3-1z"/><path class="c77" d="M265 454l3 2-4-1-3 3zm-56 0l3-2-4 0-3-5zm-7-1l3-6-4-4-3 14z"/><path class="c78" d="M219 452l3 10-3-21-4 7z"/><path class="c79" d="M212 452l3-4-3-7-4 11z"/><path class="c80" d="M216 440l3 12-4-4-3 4z"/><path class="c66" d="M189 465l3 4-4-1-3-7z"/><path class="c68" d="M293 468l3 5-4-6-3 2zm-119-10l4 5-4 2-3-5zm-10 4l3-2-3 3-4-4z"/><path class="c69" d="M182 457l3 4-4 3-3-1z"/><path class="c70" d="M286 471l3-2-4-8-3 1zm-49-11l3 6-3-2-4-1zm-66 0l3-2-3 2-4 0z"/><path class="c71" d="M251 466l4-8-4 5-3 4zm4-8l3 2-4 7-3-4zm-77 0l4-1-4 6-4-5z"/><path class="c72" d="M283 466l3 5-4-9-3-2zm-39-12l4 13-4-11-4 10zm4 13l3-4-4-5-3-2z"/><path class="c73" d="M279 460l3 2-4 3-3-6zm-21 3l4 1-4-4-3-2z"/><path class="c74" d="M262 464l3-10-4 4-3 2z"/><path class="c75" d="M276 460l3 0-4-1-3-1zm-7 6l3-8-4-2-3-2zm-73-17l3-7-4 14-3 13z"/><path class="c76" d="M223 448l3 5-4 9-3-10zm-20 19l3-14-4 0-3-11zm-4-25l3 11-4 4-3-1z"/><path class="c77" d="M230 443l3 20-3-10-4 0zm-24 10l3 1-4-7-3 6z"/><path class="c78" d="M213 460l3-20-4 12-3 2z"/><path class="c79" d="M227 461l3-18-4 10-3-5z"/><path class="c81" d="M220 451l3-3-4 4-3-12z"/><path class="c68" d="M287 475l3-5-4 1-3-5z"/><path class="c69" d="M290 470l3-2-4 1-3 2z"/><path class="c70" d="M175 464l3-6-4 0-3 2zm-7-6l3 2-4 0-3 2z"/><path class="c71" d="M214 465l3-1-4-4-3-1z"/><path class="c72" d="M192 455l4-6-4 20-3-4zm-7-4l4 14-4-4-3-4z"/><path class="c73" d="M280 468l3-2-4-6-3 0zm-7 2l3-10-4-2-3 8zm-18-10l3 3-3-5-4 8zm-7-2l3 8-3 1-4-13zm-7 2l3-6-4 12-3-6zm-34-3l3 2-4-6-3 14z"/><path class="c74" d="M269 466l4 4-4-4-3-17zm-31-8l3 2-4 0-3-1zm-28 1l3 1-4-6-3-1zm-28 1l3-9-3 6-4 1z"/><path class="c75" d="M262 464l4-15-4 15-4-1zm-31 4l3-9-4-16-3 18zm-42-15l3 2-3 10-4-14z"/><path class="c76" d="M266 449l3 17-4-12-3 10zm-32 10l3 1-4 3-3-20zm-10 7l3-5-4-13-3 3z"/><path class="c77" d="M217 464l3-13-4-11-3 20zm-17-11l3 14-4-25-3 7z"/><path class="c68" d="M176 474l3-16-4 6-3-1z"/><path class="c69" d="M284 469l3 6-4-9-3 2zm-84-1l3 7-3-22-4 11z"/><path class="c70" d="M225 463l3 4-4-1-3 2zm3 4l3 1-4-7-3 5zm-10-4l3 5-4-4-3 1zm-15 12l4-18-4 10-3-14zm-31-12l3 1-4-4-3-2z"/><path class="c71" d="M280 475l4-6-4-1-4-6z"/><path class="c72" d="M276 462l4 6-4-8-3 10zm-41 5l3-9-4 1-3 9zm-14 1l3-2-4-15-3 13zm-42-10l3 2-4-2-3 6z"/><path class="c73" d="M273 464l3-2-3 8-4-4zm-63-3l4 4-4-6-3-2zm-17 5l3-2-4-9-3-2z"/><path class="c74" d="M186 465l3-12-4-2-3 9z"/><path class="c75" d="M266 467l3-1-3-17-4 15zm-7-8l3 5-4-1-3-3z"/><path class="c76" d="M252 452l3 8-4 6-3-8zm-7 7l3-1-4-4-3 6zm-49 5l4-11-4-4-4 6z"/><path class="c77" d="M242 453l3 6-4 1-3-2z"/><path class="c79" d="M249 454l3-2-4 6-3 1z"/><path class="c68" d="M197 470l3-2-4-4-3 2z"/><path class="c69" d="M232 467l3 0-4 1-3-1z"/><path class="c70" d="M204 471l3-22-4 26-3-7zm-24-5l3-10-4 2-3 16z"/><path class="c71" d="M214 465l4-2-4 2-4-4z"/><path class="c72" d="M277 470l3 5-4-13-3 2zm-10-4l3-3-4 4-3 3zm-39-3l4 4-4 0-3-4zm-7 0l4 0-4 5-3-5zm-34 0l3 1-4 1-3-9zm3 1l3 2-4-13-3 12z"/><path class="c73" d="M270 463l3 1-4 2-3 1zm-7 7l3-3-4-3-3-5zm-56-21l3 12-3-4-4 18zm-24 7l3 9-4-5-3-2z"/><path class="c75" d="M236 459l3-4-4 12-3 0zm-25 3l3 3-4-4-3-12z"/><path class="c77" d="M260 467l3 3-4-11-3-12zm-21-12l3-2-4 5-3 9z"/><path class="c79" d="M246 459l3-5-4 5-3-6z"/><path class="c81" d="M256 447l3 12-4 1-3-8z"/><path class="c84" d="M253 450l3-3-4 5-3 2z"/><path class="c67" d="M198 469l3 1-4 0-3 0zm3 1l3 1-4-3-3 2z"/><path class="c68" d="M194 470l3 0-4-4-3-2z"/><path class="c70" d="M191 468l3 2-4-6-3-1z"/><path class="c71" d="M264 473l3-7-4 4-3-3z"/><path class="c72" d="M232 472l4-13-4 8-4-4zm-10 1l3-5-4-5-3-6zm-38-8l3-2-4-7-3 10z"/><path class="c73" d="M271 472l3-3-4-6-3 3zm3-3l3 1-4-6-3-1zm-49-1l3-5-3 0-4 0zm-10 3l3-14-4 8-3-3z"/><path class="c74" d="M218 457l3 6-3 0-4 2zm-10 6l3-1-4-13-3 22z"/><path class="c75" d="M246 468l4-2-4-7-3 0z"/><path class="c79" d="M250 466l3-16-4 4-3 5zm-11-9l4 2-4-4-3 4zm4 2l3 0-4-6-3 2z"/><path class="c80" d="M257 462l3 5-4-20-3 3z"/><path class="c69" d="M264 477l4-1-4-3-3-2zm-62-6l3-4-4 3-3-1zm3-4l3-4-4 8-3-1zm-10-1l3 3-4 1-3-2z"/><path class="c70" d="M268 476l3-4-4-6-3 7zm-49-3l3 0-4-16-3 14zm-32-2l4-3-4-5-3 2z"/><path class="c71" d="M212 469l3 2-4-9-3 1z"/><path class="c72" d="M257 478l4-7-4-9-3 4zm4-7l3 2-4-6-3-5zm-35-3l3-7-4 7-3 5zm3-7l3 11-4-9-3 5zm-20 5l3 3-4-6-3 4z"/><path class="c73" d="M250 468l4-2-4 0-4 2z"/><path class="c76" d="M233 462l3-6-4 16-3-11z"/><path class="c77" d="M254 466l3-4-4-12-3 16zm-11-5l3 7-3-9-4-2zm-7-5l3 1-3 2-4 13z"/><path class="c67" d="M261 481l3-4-3-6-4 7z"/><path class="c69" d="M223 470l3-2-4 5-3 0zm-7-1l3 4-4-2-3-2zm-25 0l4-3-4 2-4 3z"/><path class="c70" d="M220 472l3-2-4 3-3-4z"/><path class="c71" d="M254 471l3 7-3-12-4 2zm-56-8l4 8-4-2-3-3z"/><path class="c72" d="M205 462l4 4-4 1-3 4z"/><path class="c73" d="M195 465l3-2-3 3-4 3z"/><path class="c74" d="M244 471l3-7-4-3-3 11zm-14 0l3-9-4-1-3 7zm-17-17l3 15-4 0-3-3z"/><path class="c75" d="M247 464l3 4-4 0-3-7zm-10 7l3 1-4-16-3 6z"/><path class="c77" d="M240 472l3-11-4-4-3-1z"/><path class="c67" d="M258 478l3 3-4-3-3-7z"/><path class="c69" d="M255 479l3-1-4-7-3 1z"/><path class="c71" d="M241 473l3-2-4 1-3-1zm-18-6l4 5-4-2-3 2zm4 5l3-1-4-3-3 2zm-28 4l3-2-4-11-3 2z"/><path class="c72" d="M248 478l3-6-4-8-3 7zm-46-4l3-12-3 9-4-8z"/><path class="c73" d="M251 472l3-1-4-3-3-4zm-20-6l3 1-4 4-3 1zm3 1l3 4-4-9-3 9zm-18 7l4-2-4-3-3-15zm-10-9l3 2-4-5-3 12z"/><path class="c77" d="M209 467l4-13-4 12-4-4z"/><path class="c68" d="M252 481l3-2-4-7-3 6z"/><path class="c70" d="M241 473l4 3-4-3-3 2zm4 3l3 2-4-7-3 2zm-42-5l3-6-4 9-3 2z"/><path class="c72" d="M238 475l3-2-4-2-3-4z"/><path class="c73" d="M227 475l4-9-4 6-4-5zm-7-12l3 4-3 5-4 2z"/><path class="c74" d="M234 468l4 7-4-8-3-1zm-24 6l3-12-4 5-3-2z"/><path class="c76" d="M217 462l3 1-4 11-3-12zm-4 0l3 12-3-20-4 13z"/><path class="c68" d="M249 478l3 3-4-3-3-2z"/><path class="c70" d="M245 479l4-1-4-2-4-3z"/><path class="c73" d="M231 472l3-4-3-2-4 9zm-24-3l3 5-4-9-3 6z"/><path class="c74" d="M238 463l3 10-3 2-4-7z"/><path class="c75" d="M228 463l3 9-4 3-3-12z"/><path class="c76" d="M224 463l3 12-4-8-3-4z"/><path class="c77" d="M214 462l3 0-4 0-3 12z"/><path class="c80" d="M221 457l3 6-4 0-3-1z"/><path class="c73" d="M211 475l3-13-4 12-3-5z"/><path class="c74" d="M242 472l3 7-4-6-3-10z"/><path class="c76" d="M215 475l3-16-4 3-3 13z"/><path class="c77" d="M232 470l3-8-4 10-3-9zm3-8l3 1-4 5-3 4z"/><path class="c80" d="M225 466l3-3-4 0-3-6z"/><path class="c81" d="M239 455l3 17-4-9-3-1z"/><path class="c82" d="M218 459l3-2-4 5-3 0z"/><path class="c76" d="M229 476l3-6-4-7-3 3z"/><path class="c78" d="M236 485l3-30-4 7-3 8z"/><path class="c79" d="M226 465l3 11-4-10-3-7zm-8 6l4-12-4 0-3 16z"/><path class="c82" d="M222 459l3 7-4-9-3 2z"/><path class="c71" d="M233 478l3 7-4-15-3 6z"/><path class="c74" d="M229 478l4 0-4-2-3-11z"/><path class="c79" d="M222 470l4-5-4-6-4 12z"/><path class="c76" d="M226 475l3 3-3-13-4 5z"/></g><path fill="#76cb3b" d="M376.5 259.9L495.1 236.7L405.6 206.1L287.0 229.3"/><g transform="scale(.5)"><path fill="#a1c824" d="M823 417h3l-1-25zm-18 1h3l-1-16zm8-3h3l-1-3zm-15 2h3l-1-4zm15-1h3l-1-11zm7 0h3l-1-12zm-25-1h3l-1-8zm6 0h3l-1-5zm8 4h3l-1-12zm-2-5h3l-1-20zm-23 4h3l-1-6zm14 1h3l-1-12zm21-1h3l-1-18zm-8-2h3l-1-24zm-10 3h3l-1-6zm16-3h3l-1-6zm-26 4h3l-1-3zm26-5h3l-1-11zm-12 4h3l-1-6zm6 0h3l-1-3zm-10 0h3l-1-6zm17-4h3l-1-3zm-22 1h3l-1-7zm9 0h3l-1-3zm15 1h3l-1-3zm-24 3h3l-1-32zm-3-2h3l-1-11zm-1-1h3l-1-9zm11 0h3l-1-3zm-4-3h3l-1-2zm2 4h3l-1-8zm-11-1h3l-1-8zm13-2h3l-1-14zm-7 0h3l-1-6zm22 2h3l-1-10zm-32 2h3l-1-16zm9-3h3l-1-7zm-15 3h3l-1-3zm32-3h3l-1-25zm-20 1h3l-1-4zm10 2h3l-1-14zm-19 1h3l-1-10zm0 0h3l-1-4zm34-5h3l-1-14zm-14 2h3l-1-13zm3 3h3l-1-11zm2-2h3l-1-3zm7-2h3l-1-4zm1 4h3l-1-4zm-29-1h3l-1-3zm31-1h3l-1-4zm-40 1h3l-1-22z"/><path fill="#bec507" d="M802 417h2l-1-3zm16-3h2l-1-4zm-12 2h2l-1-4zm-5 0h2l-1-4zm-4-3h2l-1-4zm-2 1h2l-1-4z"/><path fill="#d9c400" d="M813 412h2l-1-6zm-18 0h2l-1-5zm23-1h2l-1-6zm-21 2h2l-1-4zm-4 1h2l-1-5zm9 1h2l-1-5zm-12-1h2l-1-5zm28-1h2l-1-6zm-34 3h2l-1-6z"/><path fill="#ecc005" d="M820 411h2l-1-7zm-11 4h2l-1-7zm-11-1h2l-1-7zm-4 0h2l-1-7zm9-5h2l-1-8zm0 5h2l-1-8zm15-5h2l-1-9zm-14 3h2l-1-8zm3 3h2l-1-7z"/><path fill="#f9bb11" d="M806 411h2l-1-9zm-19 1h2l-1-10z"/><path fill="#fdb925" d="M807 406h2l-1-12zm12 5h2l-1-11z"/><path fill="#fec11a" d="M823 407h2l-1-15zm-12-1h2l-1-14zm-14 1h2l-1-19zm15-1h2l-1-15zm-33 4h2l-1-13z"/><path fill="#a1c824" d="M780 428h3l-1-8zm20-1h3l-1-10zm-16-2h3l-1-4zm29-3h3l-1-3zm20 1h3l-1-16zm-69 1h3l-1-11zm-2-1h3l-1-14zm45 1h3l-1-11zm-42 1h3l-1-5zm35-5h3l-1-6zm14 1h3l-1-17zm-68 4h3l-1-13zm58 2h3l-1-3zm-25-2h3l-1-8zm53-5h3l-1-13zm-53 6h3l-1-17zm-15-5h3l-1-8zm83 5h3l-1-17zm-55-3h3l-1-3zm53 2h3l-1-8zm-51 2h3l-1-13zm-34-4h3l-1-2zm60 1h3l-1-3zm27 1h3l-1-13zm-34-3h3l-1-35zm-39 0h3l-1-15zm30-1h3l-1-7zm6 4h3l-1-11zm-23-3h3l-1-9zm49 4h3l-1-3zm-35 0h3l-1-4zm-4 0h3l-1-3zm24-2h3l-1-14zm-39 3h3l-1-3zm-18-5h3l-1-5zm78 2h3l-1-4zm-48 0h3l-1-24zm-44 1h3l-1-7zm54-4h3l-1-6zm-31 1h3l-1-3zm59 3h3l-1-6zm4-3h3l-1-4zm-6 2h3l-1-11zm7 1h3l-1-4zm7 1h3l-1-23zm-11 0h3l-1-11zm9-1h3l-1-3zm-6-3h3l-1-9zm-13 1h3l-1-7zm-76 3h3l-1-15zm94 0h3l-1-6zm-70-1h3l-1-25zm67-3h3l-1-27zm-9-1h3l-1-17zm-40 5h3l-1-5zm1 0h3l-1-4zm-23 0h3l-1-5zm17-1h3l-1-26zm35 3h3l-1-17zm-15-2h3l-1-4zm2-4h3l-1-8zm-27-2h3l-1-5zm28 1h3l-1-5zm-57 4h3l-1-25zm28 1h3l-1-9zm45-5h3l-1-3zm2 6h3l-1-12zm-40-1h3l-1-12zm43-6h3l-1-4zm-13 5h3l-1-2zm34 2h3l-1-11zm-4-2h3l-1-13zm-64 0h3l-1-6zm0 1h3l-1-35zm-33 1h3l-1-8zm46-3h3l-1-7zm-20-1h3l-1-3zm-1-1h3l-1-4zm34-2h3l-1-2zm-7 5h3l-1-28zm44 2h3l-1-14zm-8-2h3l-1-8zm-5-5h3l-1-9zm-59 6h3l-1-4zm49-3h3l-1-16zm-51 1h3l-1-14zm40-4h3l-1-8zm-22 4h3l-1-3zm-19-2h3l-1-5zm15 2h3l-1-12zm2-3h3l-1-8zm51 4h3l-1-7zm-33-4h3l-1-18zm10 3h3l-1-8zm-37-1h3l-1-13zm57-2h3l-1-18zm-33 5h3l-1-3zm-6 2h3l-1-9zm7-5h3l-1-10zm-28 1h3l-1-5zm27 2h3l-1-12zm-41-1h3l-1-10zm0 0h3l-1-8zm68-3h3l-1-10zm-19 1h3l-1-8zm-67 3h3l-1-5zm37-3h3l-1-13zm10-2h3l-1-10zm27-1h3l-1-4zm-35 0h3l-1-6zm-6 4h3l-1-8zm10 3h3l-1-11zm-15-3h3l-1-13zm35 1h3l-1-12zm5 0h3l-1-4zm-24-4h3l-1-17zm11 1h3l-1-4zm35 2h3l-1-25zm-7 1h3l-1-9zm-29 0h3l-1-5zm2-3h3l-1-19zm-58 5h3l-1-6zm95-2h3l-1-8zm-40 0h3l-1-10zm-50 2h3l-1-13zm32-4h3l-1-5zm19 0h3l-1-4zm43 3h3l-1-2zm9 1h3l-1-5zm-95-2h3l-1-4zm25 1h3l-1-3zm-9 0h3l-1-7zm2-1h3l-1-8zm13-3h3l-1-14zm49-1h3l-1-19zm-22 1h3l-1-31zm39 6h3l-1-6zm-90-3h3l-1-8zm82 0h3l-1-13zm-90 0h3l-1-2zm28-2h3l-1-7zm-10 3h3l-1-8zm39-1h3l-1-19zm-43-4h3l-1-12zm54 5h3l-1-16zm-29-4h3l-1-7zm-6 1h3l-1-14zm65 4h3l-1-11zm-36-3h3l-1-5zm18 3h3l-1-12zm-72-2h3l-1-8zm63-1h3l-1-10zm10 2h3l-1-6zm-84 1h3l-1-10zm47-7h3l-1-23zm-4 7h3l-1-9zm-37-2h3l-1-5zm39 2h3l-1-3zm5-1h3l-1-22zm49 1h3l-1-6zm-80-4h3l-1-13zm0 4h3l-1-3zm-2 0h3l-1-3zm9-2h3l-1-20zm3-3h3l-1-7zm39 4h3l-1-22zm8-4h3l-1-7zm-53-1h3l-1-12zm62 4h3l-1-8zm-6-3h3l-1-3zm-4 0h3l-1-8zm-53-2h3l-1-7zm66 3h3l-1-2zm-21 4h3l-1-9zm-48 1h3l-1-9zm12-1h3l-1-3zm-15-1h3l-1-2zm33-4h3l-1-13zm31 3h3l-1-6zm-41-4h3l-1-17zm-6 3h3l-1-25zm48 0h3l-1-3z"/><path fill="#bec507" d="M781 427h3l-1-48zm47 0h3l-1-53zm6-3h3l-1-40z"/><path fill="#bec507" d="M801 418h2l-1-4zm3 1h2l-1-4zm-53 3h2l-1-4zm82 1h2l-1-3zm-10-3h2l-1-4zm19 4h2l-1-4zm-61-2h2l-1-4zm14-1h2l-1-4zm42 1h2l-1-4zm-55-4h2l-1-4zm-42 7h2l-1-3zm30-2h2l-1-4zm80 2h2l-1-3zm-69-4h2l-1-4zm11-1h2l-1-4zm42 4h2l-1-4zm14 1h2l-1-4zm-69-6h2l-1-4zm46 0h2l-1-4zm5 3h2l-1-4z"/><path fill="#d9c400" d="M780 424h2l-1-5zm20-1h2l-1-6zm-35-3h2l-1-6zm14 2h2l-1-5zm-15-4h2l-1-5zm81 4h2l-1-5zm-35-1h2l-1-6zm-22-3h2l-1-5zm49 1h2l-1-5zm-31 0h2l-1-5zm-27 3h2l-1-6zm71 1h2l-1-6zm-102 1h2l-1-5zm89-2h2l-1-5zm-6-5h2l-1-5zm-20 0h2l-1-5zm-25 1h2l-1-5zm29 3h2l-1-5zm-20 3h2l-1-5zm8-5h2l-1-6zm-43 2h2l-1-6zm0 1h2l-1-5zm69-4h2l-1-6zm-19 1h2l-1-5zm-20-2h2l-1-6zm-15 3h2l-1-5zm50 2h2l-1-5zm11 0h2l-1-5zm-41-1h2l-1-6zm-24 1h2l-1-5zm-10 0h2l-1-5zm9 1h2l-1-5zm-9-2h2l-1-5zm62 0h2l-1-6zm-74 2h2l-1-6zm43 0h2l-1-5zm43-1h2l-1-5zm-10-4h2l-1-5zm-53-1h2l-1-4zm44 6h2l-1-6zm-47 1h2l-1-5z"/><path fill="#ecc005" d="M762 417h2l-1-9zm46 3h2l-1-7zm-61 0h2l-1-8zm86-5h2l-1-8zm-38 7h2l-1-8zm53-2h2l-1-8zm-27-2h2l-1-8zm9 2h2l-1-7zm3 2h2l-1-7zm-7 0h2l-1-7zm-41 0h2l-1-7zm60-3h2l-1-8zm0 3h2l-1-8zm-75-4h2l-1-9zm14 1h2l-1-7zm-6-2h2l-1-8zm24 4h2l-1-7zm-23-3h2l-1-8zm6 4h2l-1-7zm-15-4h2l-1-8zm35 3h2l-1-7zm-59 0h2l-1-8zm39-4h2l-1-8zm58 3h2l-1-8zm-76-4h2l-1-7zm19 2h2l-1-8zm65 4h2l-1-7zm-18 0h2l-1-7zm-65-4h2l-1-8zm5-2h2l-1-7zm26 1h2l-1-8z"/><path fill="#f9bb11" d="M834 417h2l-1-9zm-20-3h2l-1-10zm-34 5h2l-1-10zm68 0h2l-1-10zm-74-3h2l-1-9zm-26 4h2l-1-9zm81-6h2l-1-10zm-9 7h2l-1-10zm2-4h2l-1-10zm-17-4h2l-1-11zm-18 1h2l-1-10zm34 6h2l-1-10zm-33-5h2l-1-10z"/><path fill="#fdb925" d="M834 413h2l-1-11zm-35 2h2l-1-11zm35-2h2l-1-11zm-24 5h2l-1-12zm-35-1h2l-1-12zm43 1h2l-1-13z"/><path fill="#fec11a" d="M781 408h2l-1-29zm32 0h2l-1-21zm-19 7h2l-1-15zm51 2h2l-1-14zm-73-3h2l-1-15zm66-2h2l-1-16zm-53 2h2l-1-16zm-35 1h2l-1-15zm78-9h2l-1-32zm-47 6h2l-1-21zm20 1h2l-1-17zm33-5h2l-1-24zm-2 6h2l-1-15zm-20-4h2l-1-18zm-15 1h2l-1-14zm3 6h2l-1-13zm-18-3h2l-1-15z"/><path fill="#a1c824" d="M805 431h3l-1-3zm3-3h3l-1-4zm-77 0h3l-1-10zm58 4h3l-1-5zm-53-4h3l-1-4zm21 4h3l-1-7zm16 0h3l-1-5zm-6 0h3l-1-8zm-49 0h3l-1-3zm128 3h3l-1-8zm4-3h3l-1-5zm-95 2h3l-1-8zm97 0h3l-1-7zm-33-4h3l-1-11zm37 4h3l-1-16zm-101-6h3l-1-4zm46 6h3l-1-13zm-80 1h3l-1-4zm102-5h3l-1-22zm-114 5h3l-1-2zm98-3h3l-1-7zm10-4h3l-1-3zm-28 6h3l-1-3zm63 0h3l-1-13zm-17 1h3l-1-3zm4-6h3l-1-4zm-101-1h3l-1-5zm27 6h3l-1-13zm49 1h3l-1-6zm-75-7h3l-1-4zm81 2h3l-1-9zm-42 2h3l-1-3zm11-2h3l-1-28zm-62 0h3l-1-3zm-21 5h3l-1-10zm16-3h3l-1-8zm-11 2h3l-1-2zm86-6h3l-1-6zm-72 5h3l-1-9zm69 0h3l-1-4zm-21-2h3l-1-7zm-6 4h3l-1-8zm12-6h3l-1-3zm76 1h3l-1-6zm-35-2h3l-1-5zm28 0h3l-1-4zm15 5h3l-1-5zm-20 2h3l-1-4zm-112-7h3l-1-6zm46 1h3l-1-14zm-50 2h3l-1-5zm37 0h3l-1-5zm18-1h3l-1-4zm36 3h3l-1-3zm-26 1h3l-1-7zm0-3h3l-1-5zm-34 1h3l-1-5zm-11-2h3l-1-8zm79 5h3l-1-10zm-92-4h3l-1-3zm-6 4h3l-1-23zm6-5h3l-1-10zm51 5h3l-1-14zm-16-7h3l-1-6zm-1 5h3l-1-15zm66 0h3l-1-13zm-105 1h3l-1-9zm7-5h3l-1-6zm-7 5h3l-1-6zm-2-4h3l-1-5zm131 2h3l-1-7zm-37-2h3l-1-7zm-96 1h3l-1-10zm-3 2h3l-1-14zm16-1h3l-1-6zm92-4h3l-1-14zm23 3h3l-1-12zm-69 2h3l-1-7zm-12-3h3l-1-6zm-38 0h3l-1-14zm-14 2h3l-1-7zm31 2h3l-1-15zm78-2h3l-1-3zm29 0h3l-1-9zm-77-4h3l-1-13zm-2 6h3l-1-22zm-24-3h3l-1-4zm102-1h3l-1-3zm-1 0h3l-1-6zm-49 1h3l-1-8zm-57 0h3l-1-7zm51 1h3l-1-15zm22-3h3l-1-4zm-83 6h3l-1-11zm75-7h3l-1-7zm-106 7h3l-1-2zm65-6h3l-1-3zm-18-1h3l-1-5zm21 3h3l-1-7zm-28 0h3l-1-12zm20-2h3l-1-6zm79 2h3l-1-7zm-87 0h3l-1-8zm67-2h3l-1-4zm-12 1h3l-1-5zm-53 3h3l-1-24zm-7 0h3l-1-11zm7-3h3l-1-31zm47 1h3l-1-3zm-21-2h3l-1-7zm-19-1h3l-1-5zm27 5h3l-1-8zm-24-3h3l-1-15zm-44 2h3l-1-3zm3-1h3l-1-5zm21-1h3l-1-3zm49-2h3l-1-6zm69 6h3l-1-5zm-141-5h3l-1-3zm35 4h3l-1-13zm3 2h3l-1-10zm56 0h3l-1-14zm34-6h3l-1-2zm-20 5h3l-1-16zm-63-5h3l-1-13zm-9 1h3l-1-3zm-38 1h3l-1-3zm115-2h3l-1-17zm10 3h3l-1-8zm-22-2h3l-1-2zm-79 4h3l-1-5zm-32 1h3l-1-15zm26-2h3l-1-11zm-26 1h3l-1-7zm146-3h3l-1-5zm-134-2h3l-1-5zm88-1h3l-1-7zm-6 3h3l-1-5zm31 0h3l-1-20zm-9 0h3l-1-11zm-7 2h3l-1-3zm20-3h3l-1-4zm-28 1h3l-1-4zm31-1h3l-1-9zm-57 3h3l-1-7zm-69 1h3l-1-5zm111-6h3l-1-16zm-89 2h3l-1-22zm96 2h3l-1-13zm-109-1h3l-1-9zm76-2h3l-1-4zm-66 3h3l-1-4zm39-3h3l-1-8zm20 6h3l-1-3zm-39-2h3l-1-7zm83 0h3l-1-5zm-16-4h3l-1-8zm26 1h3l-1-6zm-107 1h3l-1-8zm-32 2h3l-1-5zm32-1h3l-1-5zm46-4h3l-1-3zm-45 4h3l-1-18zm8 3h3l-1-4zm58-3h3l-1-18zm3 2h3l-1-6zm43-1h3l-1-25zm-109-4h3l-1-19zm43 6h3l-1-22zm-35-7h3l-1-11zm56 3h3l-1-2zm-54 2h3l-1-9zm32-5h3l-1-7zm13 1h3l-1-9zm-1 4h3l-1-4zm-60-4h3l-1-7zm-8 2h3l-1-9zm-5 0h3l-1-7zm36 0h3l-1-12zm-27 2h3l-1-12zm77 2h3l-1-21zm-19-6h3l-1-19zm33 0h3l-1-3zm-46 1h3l-1-9zm-60 5h3l-1-12zm42-7h3l-1-11zm6 7h3l-1-5zm-67-1h3l-1-18zm27 0h3l-1-14zm113-2h3l-1-21zm-62 2h3l-1-4zm48-6h3l-1-9zm-109 3h3l-1-18zm8 3h3l-1-3zm28-4h3l-1-11zm13-1h3l-1-5zm-36-1h3l-1-8zm-38 7h3l-1-8zm78 0h3l-1-17zm50-5h3l-1-2zm-40 5h3l-1-14zm1-6h3l-1-9zm22 6h3l-1-11zm-30 0h3l-1-3zm61-3h3l-1-6zm-86 2h3l-1-9zm71 0h3l-1-3zm1-1h3l-1-6zm23-4h3l-1-5zm-110 2h3l-1-4zm114 3h3l-1-3zm-43-2h3l-1-5zm-19-4h3l-1-7zm-94 6h3l-1-8zm23-1h3l-1-10zm105-3h3l-1-6zm-57 5h3l-1-5zm-70 0h3l-1-3zm83-5h3l-1-4zm-21-1h3l-1-4zm62 4h3l-1-38zm33 1h3l-1-7zm-71-6h3l-1-5zm-6 2h3l-1-12zm15 3h3l-1-19zm-85-2h3l-1-7zm87 1h3l-1-3zm54-1h3l-1-3zm20 4h3l-1-7zm-13 0h3l-1-3zm-112-1h3l-1-9zm106-6h3l-1-11zm-52 5h3l-1-11zm49 2h3l-1-5zm-103-6h3l-1-3zm80-1h3l-1-7zm-60 2h3l-1-21zm57 0h3l-1-11zm-11 2h3l-1-21zm42-3h3l-1-7zm-123 5h3l-1-10zm-24 0h3l-1-14zm146-3h3l-1-17zm-37-1h3l-1-3zm15 3h3l-1-6zm-37 2h3l-1-11zm18-7h3l-1-4zm46 2h3l-1-7zm-59 3h3l-1-7zm11-2h3l-1-14zm-99 1h3l-1-4zm87-2h3l-1-3zm-87 3h3l-1-10zm49-5h3l-1-5zm-34 7h3l-1-28zm56-5h3l-1-12zm46 0h3l-1-4zm-104 1h3l-1-17zm86 1h3l-1-9zm-87-2h3l-1-16zm122 1h3l-1-8zm-91 2h3l-1-3zm61-4h3l-1-13zm-60 5h3l-1-8zm23 1h3l-1-3zm-41-1h3l-1-29zm56 1h3l-1-2zm-9-2h3l-1-3zm-58-3h3l-1-6zm-10 4h3l-1-14zm-6-3h3l-1-3zm55 3h3l-1-4zm-49-1h3l-1-9zm53-1h3l-1-9zm35-4h3l-1-16zm-88 6h3l-1-6zm3 1h3l-1-4zm132-6h3l-1-5zm-73 1h3l-1-9zm9 0h3l-1-19zm81 4h3l-1-6zm-110-4h3l-1-6zm-43 4h3l-1-2zm131-1h3l-1-3zm-44 2h3l-1-4zm-24-2h3l-1-9zm24-4h3l-1-31zm6 1h3l-1-5zm30 1h3l-1-7zm22 3h3l-1-4zm-8-4h3l-1-3zm-45-2h3l-1-5zm-7 0h3l-1-6zm-18 4h3l-1-4zm-17-1h3l-1-5zm-40 1h3l-1-8zm113 2h3l-1-6zm-93 0h3l-1-10zm1 0h3l-1-4zm-6-2h3l-1-11zm40 3h3l-1-5zm-35-4h3l-1-6zm3-3h3l-1-6zm-8 2h3l-1-7zm64-1h3l-1-28zm-58 2h3l-1-8zm109 2h3l-1-9zm-16-4h3l-1-14z"/><path fill="#bec507" d="M789 431h3l-1-57zm66 0h3l-1-43zm-9 0h3l-1-46z"/><path fill="#bec507" d="M758 429h2l-1-4zm95 2h2l-1-4zm-45-1h2l-1-4zm7 2h2l-1-4zm-17-6h2l-1-4zm-24 2h2l-1-4zm82 0h2l-1-3zm-125-2h2l-1-4zm62 5h2l-1-4zm-24-6h2l-1-4zm-32 1h2l-1-4zm-8 5h2l-1-4zm129-2h2l-1-4zm-120 0h2l-1-4zm46 1h2l-1-4zm-11-2h2l-1-4zm-52 1h2l-1-4zm136-2h2l-1-4zm-106 1h2l-1-4zm65-2h2l-1-4zm-47 0h2l-1-4zm80 3h2l-1-4zm-59-3h2l-1-4zm13 0h2l-1-4zm-82 5h2l-1-4zm100-5h2l-1-4zm-55 4h2l-1-4zm93-2h2l-1-3zm-37 3h2l-1-4zm-24-6h2l-1-4zm-48 1h2l-1-4zm96 3h2l-1-4zm-14 1h2l-1-4zm-35-5h2l-1-4zm34 2h2l-1-3zm30 4h2l-1-4zm-147-3h2l-1-4zm116-3h2l-1-4zm28 1h2l-1-4zm-24 5h2l-1-4zm28-4h2l-1-4zm-59 3h2l-1-4zm-74-3h2l-1-4zm142 5h2l-1-3zm-109-5h2l-1-4zm79 1h2l-1-4zm-37-2h2l-1-4zm37 6h2l-1-4zm-92-4h2l-1-4zm3-2h2l-1-3z"/><path fill="#d9c400" d="M732 424h2l-1-6zm35 4h2l-1-5zm80 4h2l-1-5zm-92-2h2l-1-5zm64-4h2l-1-6zm2 0h2l-1-5zm-114 5h2l-1-6zm16-2h2l-1-5zm2 1h2l-1-5zm43 2h2l-1-5zm-20-5h2l-1-5zm79 4h2l-1-6zm-93-5h2l-1-6zm-4 4h2l-1-5zm91-3h2l-1-4zm-95 0h2l-1-6zm132 1h2l-1-5zm-50 0h2l-1-5zm-67 3h2l-1-6zm37-3h2l-1-4zm-17-1h2l-1-5zm37 3h2l-1-5zm-29 1h2l-1-6zm85-2h2l-1-5zm-107-1h2l-1-6zm90-1h2l-1-6zm15-1h2l-1-5zm-57 4h2l-1-4zm-59-3h2l-1-5zm48-1h2l-1-5zm49 0h2l-1-5zm-81 2h2l-1-5zm11-4h2l-1-7zm2 6h2l-1-5zm45-5h2l-1-5zm-69 2h2l-1-6zm-4 1h2l-1-4zm54-2h2l-1-5zm47-2h2l-1-5zm-74 2h2l-1-6zm-22-1h2l-1-5zm-38 7h2l-1-5zm89-7h2l-1-5zm-34 5h2l-1-5zm-57 0h2l-1-5zm24-1h2l-1-6zm148 3h2l-1-4zm-125-1h2l-1-5zm-14-1h2l-1-6zm-20-2h2l-1-6zm98 0h2l-1-6zm36 0h2l-1-5zm-91 3h2l-1-5zm-39-2h2l-1-6zm54-1h2l-1-6zm9-2h2l-1-6zm0 3h2l-1-5zm-53-1h2l-1-5zm19 2h2l-1-6zm-4-2h2l-1-6zm0-1h2l-1-4zm6 0h2l-1-5zm109 2h2l-1-5z"/><path fill="#ecc005" d="M801 428h2l-1-8zm52 1h2l-1-8zm-88 0h2l-1-8zm13-6h2l-1-9zm7 6h2l-1-9zm50-2h2l-1-8zm-112 0h2l-1-8zm107-5h2l-1-8zm24 4h2l-1-7zm-119-2h2l-1-9zm47-1h2l-1-8zm-33 3h2l-1-7zm7 2h2l-1-7zm10-1h2l-1-8zm58 3h2l-1-8zm-49-6h2l-1-8zm69 3h2l-1-8zm-71-1h2l-1-7zm-28 2h2l-1-7zm-14 2h2l-1-7zm42-6h2l-1-7zm-34 4h2l-1-9zm53 1h2l-1-9zm23 2h2l-1-7zm-31-6h2l-1-7zm71-1h2l-1-7zm-52 5h2l-1-7zm23-3h2l-1-7zm-116 2h2l-1-8zm88 3h2l-1-7zm16-6h2l-1-8zm-28 0h2l-1-7zm33-1h2l-1-8zm-100 4h2l-1-9zm123-4h2l-1-8z"/><path fill="#f9bb11" d="M857 428h2l-1-9zm-88-2h2l-1-9zm-17 2h2l-1-9zm49-2h2l-1-9zm-27-2h2l-1-9zm65 4h2l-1-10zm4-6h2l-1-10zm-123 7h2l-1-9zm117-8h2l-1-10zm-18 4h2l-1-11zm-107 2h2l-1-11zm17-3h2l-1-11zm53 4h2l-1-10zm74-4h2l-1-10zm-129 0h2l-1-10zm0 0h2l-1-9zm81-2h2l-1-9z"/><path fill="#fdb925" d="M780 425h2l-1-13zm66-2h2l-1-12zm-94 2h2l-1-11zm4-3h2l-1-11zm67 4h2l-1-13zm-20-5h2l-1-11zm48 3h2l-1-12zm-53 1h2l-1-11zm-29-3h2l-1-12zm47 1h2l-1-12zm-25-1h2l-1-11z"/><path fill="#fec11a" d="M824 421h2l-1-13zm-34-2h2l-1-17zm-1-11h2l-1-34zm-61 17h2l-1-14zm128-12h2l-1-26zm-93 11h2l-1-14zm1-6h2l-1-18zm-16 3h2l-1-13zm116 2h2l-1-15zm-66 3h2l-1-13zm49-14h2l-1-27zm-19 6h2l-1-23zm-98 5h2l-1-17zm10-1h2l-1-17zm66-5h2l-1-19zm2 1h2l-1-17z"/><path fill="#a1c824" d="M821 441h3l-1-3zm-121-5h3l-1-2zm59 0h3l-1-5zm-79 4h3l-1-12zm187 0h3l-1-13zm-31 1h3l-1-5zm-41-1h3l-1-7zm-51-4h3l-1-3zm43 5h3l-1-5zm85 0h3l-1-5zm-92-2h3l-1-5zm-70-4h3l-1-14zm130 6h3l-1-8zm-16-1h3l-1-6zm-124 0h3l-1-12zm19-2h3l-1-4zm50 2h3l-1-17zm-41 2h3l-1-22zm128-6h3l-1-7zm-85 0h3l-1-4zm103 7h3l-1-5zm-138-3h3l-1-5zm-1 1h3l-1-9zm27-1h3l-1-16zm9-3h3l-1-4zm-53 5h3l-1-9zm78-2h3l-1-6zm68 2h3l-1-14zm-31-3h3l-1-3zm-22 1h3l-1-18zm-95 1h3l-1-6zm94-3h3l-1-23zm-86-1h3l-1-10zm63 5h3l-1-6zm-102-4h3l-1-8zm135 1h3l-1-2zm52 3h3l-1-6zm-171-2h3l-1-3zm31 1h3l-1-6zm98-2h3l-1-13zm26 2h3l-1-7zm-76-5h3l-1-14zm-38 6h3l-1-3zm-46 0h3l-1-3zm68 1h3l-1-10zm116-3h3l-1-23zm-76-2h3l-1-6zm-49 0h3l-1-11zm6 0h3l-1-21zm60 4h3l-1-3zm-130-2h3l-1-7zm-18 2h3l-1-7zm90 0h3l-1-4zm63-1h3l-1-11zm-154 1h3l-1-7zm0-1h3l-1-29zm195 1h3l-1-24zm-118-2h3l-1-4zm-64 2h3l-1-3zm115-6h3l-1-7zm-40 4h3l-1-6zm72 0h3l-1-2zm-55-2h3l-1-9zm-68 4h3l-1-10zm20-1h3l-1-4zm142-1h3l-1-3zm-160 0h3l-1-6zm53-3h3l-1-8zm81-1h3l-1-9zm-175 5h3l-1-12zm187-2h3l-1-4zm10-1h3l-1-6zm-163 4h3l-1-7zm145-5h3l-1-3zm-3 1h3l-1-13zm-136-1h3l-1-9zm-2 5h3l-1-20zm34-4h3l-1-17zm126 0h3l-1-9zm-3-1h3l-1-8zm-184 2h3l-1-18zm43 3h3l-1-22zm29-3h3l-1-7zm-70 2h3l-1-8zm90 0h3l-1-11zm-97 0h3l-1-3zm-1-1h3l-1-5zm4 1h3l-1-18zm106-3h3l-1-20zm-39 2h3l-1-6zm-70 2h3l-1-3zm112-7h3l-1-20zm-104 7h3l-1-25zm13-4h3l-1-5zm78 5h3l-1-7zm76-4h3l-1-8zm10 0h3l-1-16zm-159-3h3l-1-3zm111 0h3l-1-3zm76 4h3l-1-8zm-113 0h3l-1-13zm17-2h3l-1-11zm-114 2h3l-1-8zm158-4h3l-1-4zm-151 2h3l-1-11zm187 2h3l-1-6zm-143-1h3l-1-4zm143 1h3l-1-5zm-50 0h3l-1-11zm-69-3h3l-1-2zm-59 3h3l-1-12zm55 1h3l-1-11zm-9-4h3l-1-6zm-33 1h3l-1-24zm-18 3h3l-1-4zm59 0h3l-1-21zm91 0h3l-1-12zm-32-3h3l-1-16zm-97 1h3l-1-5zm57 3h3l-1-12zm88-5h3l-1-3zm-191 6h3l-1-3zm190-7h3l-1-3zm-139 1h3l-1-7zm150-1h3l-1-9zm-107-1h3l-1-2zm-6 7h3l-1-10zm87 0h3l-1-7zm-127-1h3l-1-3zm-47 1h3l-1-13zm16-2h3l-1-7zm25 1h3l-1-8zm118-2h3l-1-7zm-114 0h3l-1-16zm74 1h3l-1-5zm-106-1h3l-1-4zm174 3h3l-1-3zm-53-6h3l-1-2zm66 2h3l-1-14zm-79 1h3l-1-3zm-87 4h3l-1-7zm-10-4h3l-1-4zm122-3h3l-1-15zm-74 2h3l-1-6zm-57-1h3l-1-3zm63 2h3l-1-6zm103-2h3l-1-9zm-157 2h3l-1-5zm5 3h3l-1-2zm192-3h3l-1-4zm-177 3h3l-1-3zm-6-3h3l-1-13zm163 0h3l-1-8zm-45 2h3l-1-3zm34-5h3l-1-5zm10 4h3l-1-6zm-80-3h3l-1-6zm101 3h3l-1-3zm1 1h3l-1-3zm-30 1h3l-1-13zm-39-6h3l-1-4zm47 3h3l-1-4zm-6-3h3l-1-12zm-61 3h3l-1-14zm25-3h3l-1-16zm-81 5h3l-1-3zm63-6h3l-1-4zm-109 0h3l-1-8zm181 2h3l-1-3zm-30 4h3l-1-9zm-146-6h3l-1-9zm181 4h3l-1-4zm-131 2h3l-1-14zm38-3h3l-1-14zm-51 3h3l-1-3zm-10 0h3l-1-12zm70-4h3l-1-8zm17 4h3l-1-14zm-95-4h3l-1-3zm94 3h3l-1-7zm-6-1h3l-1-3zm-54 0h3l-1-8zm-8 3h3l-1-3zm97-6h3l-1-14zm5 3h3l-1-3zm-28 0h3l-1-3zm-58 2h3l-1-4zm-57 0h3l-1-20zm156-1h3l-1-5zm-26-1h3l-1-6zm-15 1h3l-1-6zm52-3h3l-1-7zm-164 6h3l-1-12zm158-5h3l-1-21zm-50 1h3l-1-24zm12 4h3l-1-3zm58-1h3l-1-2zm-82-4h3l-1-4zm-1 3h3l-1-3zm-78-3h3l-1-3zm147 1h3l-1-7zm-120 4h3l-1-8zm6-3h3l-1-12zm-79 1h3l-1-18zm197-4h3l-1-8zm-64 6h3l-1-25zm3-7h3l-1-6zm8 5h3l-1-3zm-88-4h3l-1-8zm27-1h3l-1-3zm124 6h3l-1-5zm-12-5h3l-1-5zm-6 2h3l-1-6zm-177-1h3l-1-4zm187-1h3l-1-12zm-169 2h3l-1-6zm-1-2h3l-1-12zm128 1h3l-1-12zm-165 2h3l-1-28zm110 0h3l-1-5zm-60-1h3l-1-6zm60 3h3l-1-3zm48-5h3l-1-6zm-119 2h3l-1-15zm48-3h3l-1-3zm19 2h3l-1-5zm2-1h3l-1-3zm-22 0h3l-1-7zm38-2h3l-1-5zm-112 4h3l-1-3zm28-1h3l-1-7zm96-2h3l-1-7zm9 1h3l-1-3zm-4-1h3l-1-5zm-35 5h3l-1-2zm92 0h3l-1-7zm-119 0h3l-1-13zm90-2h3l-1-6zm28-3h3l-1-6zm-194 4h3l-1-8zm42 2h3l-1-5zm60 0h3l-1-3zm-70-2h3l-1-14zm-37 0h3l-1-6zm198-1h3l-1-16zm-87-2h3l-1-12zm-20 5h3l-1-7zm101-4h3l-1-21zm-103-2h3l-1-16zm46 1h3l-1-18zm6 5h3l-1-6zm-62-1h3l-1-12zm26-4h3l-1-3zm-95 3h3l-1-6zm92-2h3l-1-6zm93-1h3l-1-5zm-21 1h3l-1-8zm-117 1h3l-1-4zm96-3h3l-1-7zm-30 0h3l-1-6zm55 5h3l-1-2zm-81 1h3l-1-8zm12 0h3l-1-14zm17-1h3l-1-11zm-66-4h3l-1-15zm40 2h3l-1-23zm-66 0h3l-1-3zm11 2h3l-1-3zm-47-1h3l-1-13zm217 0h3l-1-10zm-84-1h3l-1-15zm-106-1h3l-1-3zm12-2h3l-1-5zm166 0h3l-1-19zm-173 3h3l-1-29zm119-1h3l-1-8zm36-1h3l-1-7zm3 2h3l-1-5zm-12 0h3l-1-7zm-1 3h3l-1-4zm-49-6h3l-1-13zm-37 1h3l-1-9zm-28 0h3l-1-24zm25-2h3l-1-22zm38 1h3l-1-8zm91 7h3l-1-4zm-57-1h3l-1-8zm-1-2h3l-1-10zm-52-3h3l-1-5zm-47 1h3l-1-3zm-24 5h3l-1-8zm-16-5h3l-1-4zm160-1h3l-1-10zm-67-1h3l-1-5zm19 3h3l-1-10zm31 3h3l-1-2zm-112-7h3l-1-2zm28 2h3l-1-5zm124-1h3l-1-13zm-164 2h3l-1-8zm-19 1h3l-1-17zm157-1h3l-1-4zm-128 1h3l-1-4zm-27 0h3l-1-23zm185-3h3l-1-6zm-18 6h3l-1-5zm-44-2h3l-1-5zm33-3h3l-1-5zm28 0h3l-1-32zm-148 3h3l-1-9zm71 0h3l-1-20zm-46-4h3l-1-4zm62 5h3l-1-6zm-36-4h3l-1-32zm73 0h3l-1-9zm-125 4h3l-1-6zm-36-4h3l-1-13zm178 2h3l-1-2zm-148 2h3l-1-4zm153-3h3l-1-12zm-119 1h3l-1-5zm-58 2h3l-1-6zm168-3h3l-1-3zm25 4h3l-1-9zm-22-6h3l-1-7zm-38 0h3l-1-3zm-125 5h3l-1-3zm130-6h3l-1-3zm-153 5h3l-1-2zm56-3h3l-1-12zm139 5h3l-1-10zm-20-5h3l-1-4zm-35 0h3l-1-9zm-97 0h3l-1-10zm32 0h3l-1-4zm96 1h3l-1-10zm-151-2h3l-1-17zm125 3h3l-1-12zm-134-2h3l-1-14zm88 1h3l-1-6zm-48-2h3l-1-6zm57 4h3l-1-4zm52-4h3l-1-6zm38 5h3l-1-12zm-49-2h3l-1-10zm-96-3h3l-1-3zm119 5h3l-1-15zm1 1h3l-1-8zm-136-6h3l-1-9zm181 7h3l-1-23zm-9 0h3l-1-2zm-19-1h3l-1-27zm-23-1h3l-1-3zm-5 1h3l-1-4zm-112-7h3l-1-9zm13 0h3l-1-3zm35 8h3l-1-11zm-41-1h3l-1-17zm116-6h3l-1-6zm-115 1h3l-1-11zm25 0h3l-1-6zm107 1h3l-1-11zm-121 1h3l-1-3zm33-2h3l-1-33zm-17 5h3l-1-7zm-64-3h3l-1-11zm26-3h3l-1-6zm-14 4h3l-1-5zm11 1h3l-1-10zm-30 1h3l-1-11zm75-5h3l-1-6zm39 0h3l-1-3zm56 4h3l-1-19zm-143 0h3l-1-3zm-39-2h3l-1-10zm-26 3h3l-1-6zm149 0h3l-1-3zm-18 0h3l-1-4zm-55-5h3l-1-15zm14-1h3l-1-17zm132 4h3l-1-10zm-207 1h3l-1-6zm76-2h3l-1-26zm124 2h3l-1-9zm-133-4h3l-1-18zm69 4h3l-1-11zm-111-1h3l-1-14zm109-2h3l-1-5zm-60 4h3l-1-23zm113-3h3l-1-4zm-7 4h3l-1-16zm-142-6h3l-1-11zm131 1h3l-1-31zm-71 0h3l-1-6zm-44 3h3l-1-3zm12-2h3l-1-5zm102 3h3l-1-7zm-119 0h3l-1-6zm158 0h3l-1-10zm-39-4h3l-1-4zm-12 2h3l-1-7zm-116 1h3l-1-10zm12-2h3l-1-4zm33 0h3l-1-11zm-32-3h3l-1-6zm80 0h3l-1-23zm-127 6h3l-1-3zm81-3h3l-1-3zm122 0h3l-1-3zm-17-2h3l-1-4z"/><path fill="#bec507" d="M856 437h3l-1-40zm-35-1h3l-1-41zm-62 6h3l-1-42z"/><path fill="#bec507" d="M796 438h2l-1-4zm28-1h2l-1-4zm-27 1h2l-1-4zm-81 1h2l-1-4zm72 0h2l-1-4zm84 1h2l-1-3zm-140-2h2l-1-4zm72-3h2l-1-3zm-132 4h2l-1-4zm129-6h2l-1-4zm-40 5h2l-1-3zm-49-1h2l-1-4zm155-1h2l-1-3zm-163 4h2l-1-4zm50-3h2l-1-4zm-7 1h2l-1-4zm28 2h2l-1-4zm99-3h2l-1-3zm-133-3h2l-1-4zm-24 0h2l-1-4zm124 5h2l-1-4zm-159-2h2l-1-4zm144-1h2l-1-4zm-125 4h2l-1-4zm38-5h2l-1-3zm128 3h2l-1-4zm-81-3h2l-1-3zm51 2h2l-1-4zm-15 0h2l-1-4zm52-1h2l-1-4zm-58-3h2l-1-3zm53 3h2l-1-4zm-159 1h2l-1-4zm13 0h2l-1-3zm108-2h2l-1-4zm-72-1h2l-1-4zm-47 1h2l-1-4zm97-2h2l-1-4zm62 5h2l-1-4zm-30-1h2l-1-4zm29-3h2l-1-4zm-200 4h2l-1-3zm92 2h2l-1-4zm50-1h2l-1-4zm-131-2h2l-1-4zm92-2h2l-1-4zm51-1h2l-1-4zm-31 0h2l-1-3zm62 1h2l-1-4zm-9 1h2l-1-4zm30-3h2l-1-4zm-63 5h2l-1-4zm-87 1h2l-1-4zm-30-1h2l-1-4zm171-5h2l-1-4zm-87 3h2l-1-3zm-48-3h2l-1-4zm109 0h2l-1-4zm13 1h2l-1-4zm-90 0h2l-1-3zm1 6h2l-1-4zm-37-7h2l-1-4zm41 2h2l-1-4zm-112 5h2l-1-4zm14-2h2l-1-4zm98-2h2l-1-4zm71 3h2l-1-4zm-119 1h2l-1-4zm106-3h2l-1-4zm-102-4h2l-1-4z"/><path fill="#d9c400" d="M841 438h2l-1-5zm15-5h2l-1-4zm-121 5h2l-1-5zm-17 0h2l-1-6zm7-5h2l-1-6zm-40 2h2l-1-5zm172 3h2l-1-4zm-93 1h2l-1-6zm-73-2h2l-1-4zm-17 2h2l-1-4zm103-4h2l-1-5zm-67 4h2l-1-6zm55-5h2l-1-5zm80-1h2l-1-5zm-135 0h2l-1-6zm159 2h2l-1-5zm-3-1h2l-1-5zm-182 3h2l-1-5zm168-1h2l-1-5zm37 0h2l-1-5zm-210 1h2l-1-5zm145-2h2l-1-6zm-73 2h2l-1-7zm116-5h2l-1-5zm-113 6h2l-1-6zm-46 0h2l-1-5zm140-5h2l-1-5zm20 3h2l-1-5zm-170-4h2l-1-5zm151 5h2l-1-6zm-146-5h2l-1-5zm97 2h2l-1-5zm15 3h2l-1-4zm-60-1h2l-1-5zm119-2h2l-1-4zm-121 6h2l-1-5zm125-6h2l-1-5zm-141 0h2l-1-5zm-61 2h2l-1-5zm168-2h2l-1-5zm-76 5h2l-1-5zm117-3h2l-1-6zm-65-1h2l-1-5zm-60-2h2l-1-5zm34 0h2l-1-5zm34 6h2l-1-5zm0-3h2l-1-6zm-123 3h2l-1-5zm143-6h2l-1-6zm-48 2h2l-1-6zm-92 0h2l-1-5zm19 2h2l-1-5zm124-3h2l-1-5zm38 5h2l-1-6zm-13-2h2l-1-6zm-55-4h2l-1-5zm-97 0h2l-1-6zm128 1h2l-1-6zm-22 1h2l-1-6zm24 3h2l-1-5zm-137-5h2l-1-5zm13-1h2l-1-5zm-28 3h2l-1-6zm23 2h2l-1-6zm-43-2h2l-1-6zm196 1h2l-1-6zm-7 2h2l-1-5zm8 0h2l-1-6zm-168-1h2l-1-6z"/><path fill="#ecc005" d="M681 435h2l-1-7zm187 0h2l-1-8zm-157-5h2l-1-8zm-11 5h2l-1-7zm165 1h2l-1-9zm-34-2h2l-1-8zm-51-4h2l-1-8zm-25 4h2l-1-7zm72 2h2l-1-7zm-156 0h2l-1-7zm175-3h2l-1-8zm-73 4h2l-1-7zm3-2h2l-1-8zm18-1h2l-1-7zm-107-1h2l-1-7zm9 3h2l-1-7zm145 1h2l-1-7zm-72 0h2l-1-7zm-102 0h2l-1-8zm200-4h2l-1-8zm-162 0h2l-1-8zm153 4h2l-1-8zm2-5h2l-1-7zm-60 1h2l-1-8zm-47 3h2l-1-8zm38-3h2l-1-8zm-61 3h2l-1-7zm86 0h2l-1-9zm28-6h2l-1-8zm-135 8h2l-1-7zm50-3h2l-1-7zm121-3h2l-1-7zm-171 1h2l-1-7zm128 1h2l-1-7zm-86 2h2l-1-8zm-44-2h2l-1-8zm74-2h2l-1-7zm-31 4h2l-1-7zm30 0h2l-1-8zm16 1h2l-1-7zm-127-2h2l-1-8zm127-4h2l-1-8zm75 0h2l-1-8zm-182 0h2l-1-8zm184 2h2l-1-7zm-136-1h2l-1-7zm88 2h2l-1-7zm-134-2h2l-1-8zm188 4h2l-1-7zm-101 2h2l-1-7zm-39-6h2l-1-7zm132 2h2l-1-7zm-177 4h2l-1-7zm113-1h2l-1-7zm-111-3h2l-1-8zm13-2h2l-1-7zm48 2h2l-1-7z"/><path fill="#f9bb11" d="M770 433h2l-1-10zm-7 1h2l-1-10zm49-1h2l-1-11zm-69-2h2l-1-10zm-61 1h2l-1-11zm-2 2h2l-1-11zm182-2h2l-1-10zm-54-1h2l-1-10zm-96 2h2l-1-9zm100-3h2l-1-9zm12-1h2l-1-10zm-112 4h2l-1-9zm157 0h2l-1-10zm-110-3h2l-1-9zm47 0h2l-1-11zm-75 1h2l-1-9zm71 2h2l-1-9zm-114-1h2l-1-10zm12-3h2l-1-10zm153 6h2l-1-9zm-115 0h2l-1-10zm-5-4h2l-1-9zm14-1h2l-1-10zm-8 0h2l-1-11zm113 7h2l-1-9z"/><path fill="#fdb925" d="M762 430h2l-1-12zm-53 4h2l-1-12zm77-4h2l-1-12zm2-2h2l-1-12zm-38 5h2l-1-13zm-44-1h2l-1-12zm161-2h2l-1-12zm-186 4h2l-1-11zm182-4h2l-1-13zm11-1h2l-1-11zm-117-2h2l-1-13zm40 5h2l-1-12zm68 1h2l-1-11z"/><path fill="#fec11a" d="M729 433h2l-1-13zm81-4h2l-1-14zm47-8h2l-1-24zm24 10h2l-1-14zm-208-1h2l-1-17zm195 2h2l-1-15zm-144 1h2l-1-13zm-39-1h2l-1-15zm24-4h2l-1-14zm109 1h2l-1-14zm-4 4h2l-1-15zm-141-4h2l-1-17zm97 1h2l-1-14zm52-10h2l-1-25zm-121 8h2l-1-18zm58-3h2l-1-25zm-27 2h2l-1-15zm-41 3h2l-1-14zm184-6h2l-1-19zm-98 0h2l-1-19zm122 10h2l-1-14zm-29-3h2l-1-16zm-87-7h2l-1-20zm-36 5h2l-1-16zm-1 3h2l-1-14zm95-7h2l-1-18zm-37 2h2l-1-14z"/><path fill="#a1c824" d="M839 447h3l-1-11zm-148 3h3l-1-3zm201-6h3l-1-7zm-10 6h3l-1-3zm-10-1h3l-1-15zm-18-5h3l-1-10zm-127 3h3l-1-10zm-57-4h3l-1-6zm88 1h3l-1-10zm86-1h3l-1-3zm-64 6h3l-1-13zm-128 1h3l-1-11zm57-2h3l-1-5zm-19 0h3l-1-8zm111 1h3l-1-3zm-179 1h3l-1-2zm35-7h3l-1-16zm-27 6h3l-1-22zm122-5h3l-1-7zm-28 3h3l-1-32zm-79 2h3l-1-3zm246 1h3l-1-25zm-258-3h3l-1-6zm58 2h3l-1-4zm70-6h3l-1-7zm-34 7h3l-1-8zm-49-5h3l-1-3zm195-1h3l-1-5zm-185 6h3l-1-4zm20-6h3l-1-5zm34 6h3l-1-3zm83 0h3l-1-4zm-172-6h3l-1-19zm77 5h3l-1-21zm-26-6h3l-1-9zm79 4h3l-1-4zm-114-3h3l-1-7zm122 4h3l-1-4zm51 1h3l-1-20zm-77 1h3l-1-6zm-26-1h3l-1-15zm-71-2h3l-1-8zm-31 3h3l-1-8zm149-2h3l-1-12zm58-1h3l-1-9zm-157-3h3l-1-2zm75 5h3l-1-4zm-63-1h3l-1-9zm153-1h3l-1-10zm-54 3h3l-1-3zm100-2h3l-1-16zm-193-5h3l-1-9zm-10 0h3l-1-5zm-44 7h3l-1-7zm188-4h3l-1-3zm-114 2h3l-1-3zm-53-2h3l-1-17zm-5 2h3l-1-9zm52-2h3l-1-4zm67-2h3l-1-12zm109 0h3l-1-9zm-255 5h3l-1-8zm240 0h3l-1-5zm-65-5h3l-1-8zm-35 1h3l-1-13zm-36 1h3l-1-8zm144 0h3l-1-3zm-173 2h3l-1-26zm66-1h3l-1-13zm-55-2h3l-1-8zm-69 0h3l-1-12zm-32 4h3l-1-3zm155 1h3l-1-17zm-94-4h3l-1-7zm-33-2h3l-1-11zm-15 6h3l-1-11zm178-3h3l-1-4zm11 1h3l-1-12zm-14-3h3l-1-3zm18-1h3l-1-7zm24 5h3l-1-8zm-129-4h3l-1-3zm-70-2h3l-1-9zm172 5h3l-1-20zm-31-4h3l-1-28zm-95 5h3l-1-5zm178-1h3l-1-5zm-114-2h3l-1-5zm-84 3h3l-1-5zm199-3h3l-1-6zm-61 1h3l-1-3zm-77 3h3l-1-25zm-65-6h3l-1-4zm-53 5h3l-1-3zm125-1h3l-1-3zm52 1h3l-1-4zm-58-3h3l-1-13zm129 1h3l-1-28zm-44-4h3l-1-10zm-178 2h3l-1-8zm49-2h3l-1-3zm123 3h3l-1-12zm71-3h3l-1-6zm-141 7h3l-1-3zm-108-1h3l-1-8zm214-2h3l-1-2zm-10 2h3l-1-20zm-129 0h3l-1-5zm10-5h3l-1-7zm81-1h3l-1-6zm-73 5h3l-1-4zm155-2h3l-1-14zm-254 0h3l-1-10zm150 3h3l-1-5zm80-1h3l-1-10zm46 1h3l-1-5zm-201-1h3l-1-22zm-45 2h3l-1-16zm41-3h3l-1-11zm-48 1h3l-1-15zm168-1h3l-1-6zm-27-4h3l-1-13zm-118 3h3l-1-15zm35 0h3l-1-20zm46-2h3l-1-28zm45 0h3l-1-2zm16 5h3l-1-5zm55 1h3l-1-12zm-156 0h3l-1-6zm-47-6h3l-1-14zm167 3h3l-1-3zm-17 1h3l-1-10zm-59 1h3l-1-7zm63 1h3l-1-8zm-161-3h3l-1-9zm197 3h3l-1-12zm-146-2h3l-1-11zm83 1h3l-1-4zm-177-1h3l-1-3zm94-4h3l-1-3zm153 2h3l-1-9zm-116 0h3l-1-5zm50-3h3l-1-4zm17 2h3l-1-18zm-34 3h3l-1-3zm109 2h3l-1-5zm-186-2h3l-1-8zm-23 2h3l-1-4zm122 0h3l-1-7zm-53 0h3l-1-24zm-7-4h3l-1-6zm85 4h3l-1-6zm-107-3h3l-1-4zm166-2h3l-1-12zm-200 5h3l-1-5zm110-6h3l-1-5zm5 4h3l-1-3zm29 2h3l-1-10zm-34-5h3l-1-2zm-160 3h3l-1-9zm175 3h3l-1-19zm-80-5h3l-1-12zm118 4h3l-1-11zm15-2h3l-1-6zm-63 0h3l-1-3zm-25 1h3l-1-19zm38 1h3l-1-10zm-165-5h3l-1-8zm207 5h3l-1-10zm-130-5h3l-1-9zm-103 5h3l-1-5zm238 0h3l-1-3zm-40 1h3l-1-6zm-140-7h3l-1-3zm114 5h3l-1-4zm-43-4h3l-1-8zm124 2h3l-1-13zm-140 3h3l-1-2zm6-6h3l-1-7zm50 5h3l-1-22zm78-1h3l-1-8zm-115 0h3l-1-16zm114 3h3l-1-4zm-246-5h3l-1-10zm156 2h3l-1-3zm-154 2h3l-1-8zm178-2h3l-1-12zm-165-1h3l-1-10zm-6 0h3l-1-13zm191 3h3l-1-6zm-72-1h3l-1-2zm-111-6h3l-1-9zm194 4h3l-1-10zm23-3h3l-1-11zm-142-1h3l-1-2zm-27 2h3l-1-4zm124 5h3l-1-4zm29-4h3l-1-4zm-39 0h3l-1-9zm23 2h3l-1-6zm68 0h3l-1-5zm-257 0h3l-1-6zm23-4h3l-1-7zm12 2h3l-1-3zm-17-2h3l-1-2zm40 4h3l-1-4zm91-4h3l-1-4zm-42 2h3l-1-15zm7 5h3l-1-4zm-113-6h3l-1-15zm247 2h3l-1-16zm-125-1h3l-1-4zm-52 4h3l-1-11zm28-1h3l-1-8zm146 2h3l-1-4zm-251-6h3l-1-3zm247 5h3l-1-30zm-6-6h3l-1-19zm-156 5h3l-1-5zm-62-4h3l-1-15zm190 3h3l-1-8zm-49-4h3l-1-10zm-64 0h3l-1-4zm2 6h3l-1-27zm120-1h3l-1-13zm-53-4h3l-1-6zm11 2h3l-1-4zm-34 0h3l-1-21zm104-2h3l-1-29zm-18 6h3l-1-5zm-234-1h3l-1-3zm245-1h3l-1-15zm-259 1h3l-1-4zm273-2h3l-1-4zm-52-4h3l-1-9zm-42 0h3l-1-7zm24 6h3l-1-3zm-31-7h3l-1-6zm-145 0h3l-1-9zm150 1h3l-1-9zm50 6h3l-1-24zm53-4h3l-1-6zm-163 3h3l-1-2zm-26-1h3l-1-11zm162 1h3l-1-27zm-34-1h3l-1-5zm-124-1h3l-1-3zm139 2h3l-1-8zm-123-3h3l-1-12zm59-3h3l-1-9zm34 1h3l-1-6zm-38 2h3l-1-6zm-37-1h3l-1-8zm60 4h3l-1-4zm-110-4h3l-1-8zm79 5h3l-1-18zm-124-4h3l-1-6zm82-3h3l-1-16zm-35 3h3l-1-4zm-71 2h3l-1-3zm179-5h3l-1-28zm64 6h3l-1-12zm-194 0h3l-1-4zm62-6h3l-1-4zm174 8h3l-1-3zm-64-7h3l-1-24zm-8 1h3l-1-10zm-184 0h3l-1-3zm95 0h3l-1-5zm-33 5h3l-1-2zm-64-4h3l-1-14zm138 2h3l-1-9zm-43 0h3l-1-10zm24-3h3l-1-6zm-72 0h3l-1-12zm-49 1h3l-1-6zm112 3h3l-1-36zm-38 0h3l-1-8zm-84 1h3l-1-10zm66 0h3l-1-9zm-12-2h3l-1-7zm193-4h3l-1-7zm-46 2h3l-1-7zm-114 4h3l-1-6zm-55-4h3l-1-11zm6 1h3l-1-18zm124-4h3l-1-28zm-106 4h3l-1-15zm-30-2h3l-1-11zm87 3h3l-1-23zm89 2h3l-1-11zm-70-6h3l-1-13zm54 6h3l-1-3zm-142-3h3l-1-22zm177 2h3l-1-19zm-127-6h3l-1-4zm85 6h3l-1-4zm-168-1h3l-1-38zm151-2h3l-1-9zm56-2h3l-1-12zm-201 3h3l-1-2zm225 0h3l-1-6zm-106 0h3l-1-2zm-46-3h3l-1-11zm-109 3h3l-1-2zm166-3h3l-1-7zm-165 4h3l-1-8zm149-2h3l-1-15zm-6-1h3l-1-8zm-6 0h3l-1-13zm-44-1h3l-1-18zm33 3h3l-1-17zm-108-3h3l-1-4zm108 3h3l-1-16zm74-4h3l-1-13zm-31 4h3l-1-4zm-109-4h3l-1-6zm100 3h3l-1-2zm-60 2h3l-1-14zm-41 2h3l-1-2zm58-3h3l-1-2zm-52 3h3l-1-9zm23-5h3l-1-3zm-56 4h3l-1-19zm89-3h3l-1-6zm93 1h3l-1-2zm-112-2h3l-1-12zm99 5h3l-1-16zm-93-5h3l-1-11zm123 4h3l-1-10zm-210-2h3l-1-15zm16-1h3l-1-35zm135 0h3l-1-15zm66 3h3l-1-12zm-214-4h3l-1-21zm49-1h3l-1-5zm168 6h3l-1-4zm-117-3h3l-1-3zm-42-1h3l-1-3zm145 2h3l-1-8zm48-1h3l-1-4zm-58 3h3l-1-22zm-56-3h3l-1-3zm-51-1h3l-1-13zm30 1h3l-1-7zm40 2h3l-1-18zm-32-1h3l-1-6zm-106-3h3l-1-11zm86 0h3l-1-4zm-13 0h3l-1-6zm0 2h3l-1-10zm-43 3h3l-1-24zm-23-2h3l-1-4zm-27-4h3l-1-19zm225 1h3l-1-4zm-211 1h3l-1-4zm-3 1h3l-1-36zm224-4h3l-1-2zm-160 0h3l-1-7zm-2 4h3l-1-20zm-51 2h3l-1-4zm12-5h3l-1-12zm10 5h3l-1-3zm194 0h3l-1-7zm-187-6h3l-1-20zm28 4h3l-1-16zm138 3h3l-1-19zm15-3h3l-1-3zm-155-3h3l-1-4zm-64 6h3l-1-7zm139-7h3l-1-13zm94 6h3l-1-3zm9-1h3l-1-13zm-181-1h3l-1-7zm133-3h3l-1-4zm-95 4h3l-1-12zm3-1h3l-1-15zm-21-1h3l-1-7zm-40 0h3l-1-3zm147 4h3l-1-7zm-59-6h3l-1-6zm65-1h3l-1-9zm-205 2h3l-1-7zm6 5h3l-1-17zm143-7h3l-1-10zm53 2h3l-1-7zm-135 2h3l-1-20zm58 0h3l-1-15zm-132 1h3l-1-5zm245-3h3l-1-3zm-234 3h3l-1-8zm175 0h3l-1-9zm66 2h3l-1-6zm-53-1h3l-1-11zm-164-3h3l-1-9zm141 3h3l-1-12zm-125-2h3l-1-13zm45 2h3l-1-5zm138-3h3l-1-5zm-26-1h3l-1-22zm2 1h3l-1-16zm-109-3h3l-1-6zm84 4h3l-1-10zm-153 2h3l-1-5zm125-5h3l-1-9zm-21-1h3l-1-7zm-109 7h3l-1-3zm162 0h3l-1-4zm-206 0h3l-1-3zm207-6h3l-1-21zm-86 3h3l-1-3zm14-2h3l-1-3zm116 1h3l-1-28zm-196-1h3l-1-16zm60 5h3l-1-7zm85-6h3l-1-7zm32-1h3l-1-7zm-106 5h3l-1-10zm-87-1h3l-1-8zm83-1h3l-1-7zm152 4h3l-1-13zm-60-7h3l-1-2zm-127 5h3l-1-7zm124 1h3l-1-8zm17 0h3l-1-4zm-170-4h3l-1-5zm147 5h3l-1-4zm-186-7h3l-1-3zm182 2h3l-1-4zm-171 5h3l-1-3zm-6-1h3l-1-13zm164 1h3l-1-11zm57-5h3l-1-3zm-107 0h3l-1-4zm89 2h3l-1-4zm-107-3h3l-1-2zm101 4h3l-1-18zm-13-2h3l-1-10zm-53 3h3l-1-2zm-152 1h3l-1-15zm10-3h3l-1-30zm49 2h3l-1-8zm57-1h3l-1-12zm102-2h3l-1-14zm-193 0h3l-1-6zm117 3h3l-1-3zm80-4h3l-1-9zm-162 3h3l-1-4zm192-3h3l-1-8zm-126 2h3l-1-5zm-61 1h3l-1-9zm16 1h3l-1-10zm-28-2h3l-1-9zm-7 1h3l-1-3zm-22 2h3l-1-7zm181-5h3l-1-7zm73 4h3l-1-6zm-6-3h3l-1-3zm-39-2h3l-1-3zm-78 0h3l-1-6zm-142 3h3l-1-2zm67 0h3l-1-7zm-52 1h3l-1-27zm0-4h3l-1-8zm21 1h3l-1-9zm70 1h3l-1-7zm-16 0h3l-1-6zm-60 0h3l-1-2zm173 4h3l-1-7zm-128-1h3l-1-6zm-80 0h3l-1-6zm44-1h3l-1-10zm-56 0h3l-1-4zm170 0h3l-1-5zm-92-5h3l-1-23zm116 3h3l-1-7zm-24 0h3l-1-4zm-66 2h3l-1-17zm158-3h3l-1-12zm-71 3h3l-1-9zm-32-4h3l-1-7zm-133 3h3l-1-10zm65 2h3l-1-3zm179 1h3l-1-9zm-221-3h3l-1-6zm171 0h3l-1-6zm-151 2h3l-1-14zm86-5h3l-1-9zm-128 6h3l-1-11zm230-3h3l-1-13zm-246 2h3l-1-11zm87-2h3l-1-2zm66-1h3l-1-3zm11 1h3l-1-7zm66 3h3l-1-4zm-35-5h3l-1-7zm-155 4h3l-1-10zm35-1h3l-1-17zm-22 2h3l-1-5zm18-6h3l-1-6zm205 6h3l-1-15zm-227-1h3l-1-6zm86-4h3l-1-5zm-75 5h3l-1-4zm90-7h3l-1-15zm-2 2h3l-1-11zm84-1h3l-1-7zm-26 6h3l-1-6zm-81-5h3l-1-5zm27-2h3l-1-11zm48 5h3l-1-3zm44-4h3l-1-4zm-238 1h3l-1-6zm70 1h3l-1-8zm34 5h3l-1-11zm-121-2h3l-1-15zm110-2h3l-1-25zm126-4h3l-1-13zm-153 1h3l-1-22zm57 5h3l-1-4zm-3-2h3l-1-4zm-36-3h3l-1-21zm89-1h3l-1-16zm-104 1h3l-1-13zm156 1h3l-1-32zm34 5h3l-1-35zm-252-2h3l-1-2zm191-4h3l-1-5zm-68 0h3l-1-6zm9 3h3l-1-4zm-99 0h3l-1-21zm-31-2h3l-1-4zm157 5h3l-1-4zm-38-6h3l-1-17zm-87 6h3l-1-3zm54-7h3l-1-5zm81 3h3l-1-8zm-134-3h3l-1-9zm177 3h3l-1-25zm14 2h3l-1-5zm-148-2h3l-1-8zm181 4h3l-1-4zm-10 0h3l-1-11zm-186 0h3l-1-16zm111 0h3l-1-7zm-43-7h3l-1-8zm-16 5h3l-1-4zm7 1h3l-1-10zm-69 0h3l-1-2zm42-4h3l-1-2zm85 0h3l-1-6zm-70-2h3l-1-19zm-35 7h3l-1-3zm154-3h3l-1-5zm-4 1h3l-1-4zm-177 0h3l-1-22zm127-1h3l-1-8zm8 3h3l-1-5zm-164 0h3l-1-5zm108-6h3l-1-5zm-14 6h3l-1-21zm-89-2h3l-1-15zm39-4h3l-1-4zm177 2h3l-1-12zm9 1h3l-1-21zm-245 1h3l-1-19zm249 0h3l-1-2zm-207 2h3l-1-13zm-24-5h3l-1-9zm10 4h3l-1-7zm111-2h3l-1-5zm-74-4h3l-1-2zm159 4h3l-1-6zm-234 2h3l-1-17zm220-3h3l-1-5z"/><path fill="#bec507" d="M700 450h3l-1-52zm39-3h3l-1-45zm180 3h3l-1-52z"/><path fill="#bec507" d="M670 441h2l-1-4zm83 0h2l-1-4zm-119 4h2l-1-3zm128-4h2l-1-4zm4 6h2l-1-4zm-80-3h2l-1-4zm145-3h2l-1-4zm51 2h2l-1-4zm13-2h2l-1-4zm-164 0h2l-1-4zm80 0h2l-1-4zm20 4h2l-1-4zm-104 3h2l-1-4zm44-2h2l-1-4zm45 1h2l-1-4zm-60-4h2l-1-4zm85 4h2l-1-4zm37-2h2l-1-3zm-43 3h2l-1-3zm-80-7h2l-1-4zm82 7h2l-1-4zm1-2h2l-1-3zm-188 0h2l-1-3zm163-3h2l-1-4zm-6-1h2l-1-4zm-7-1h2l-1-4zm108 2h2l-1-4zm-77-1h2l-1-3zm-37 2h2l-1-4zm-132-1h2l-1-4zm121 0h2l-1-4zm-121 0h2l-1-3zm45 2h2l-1-4zm192-3h2l-1-4zm-159 6h2l-1-3zm154-4h2l-1-4zm-94-3h2l-1-4zm-105 0h2l-1-4zm61 3h2l-1-4zm19 0h2l-1-4zm7 2h2l-1-3zm-32-3h2l-1-4zm-19-2h2l-1-4zm164 6h2l-1-4zm-226 0h2l-1-4zm61-3h2l-1-4zm128 3h2l-1-4zm-60-6h2l-1-4zm-140 1h2l-1-4zm246 6h2l-1-4zm-152-7h2l-1-4zm36-1h2l-1-4zm-39 7h2l-1-4zm85-6h2l-1-4zm33-1h2l-1-4zm-204 3h2l-1-4zm-1 4h2l-1-4zm253 0h2l-1-3zm-122-6h2l-1-4zm-75 3h2l-1-4zm39-1h2l-1-4zm-17 1h2l-1-3zm113 3h2l-1-4zm-127 0h2l-1-3zm-80-1h2l-1-4zm181-2h2l-1-4zm-34-3h2l-1-4zm-110 3h2l-1-4zm171 0h2l-1-3zm-45 0h2l-1-4zm-94-2h2l-1-3zm-22 5h2l-1-4zm184-6h2l-1-4zm-26 6h2l-1-4zm-200-5h2l-1-4zm130 0h2l-1-4zm50 5h2l-1-4zm7-5h2l-1-4zm-148 4h2l-1-4zm196-2h2l-1-3z"/><path fill="#d9c400" d="M840 443h2l-1-6zm53-2h2l-1-4zm-38-1h2l-1-6zm-128 3h2l-1-6zm32-3h2l-1-6zm-107 6h2l-1-7zm39-1h2l-1-5zm37 2h2l-1-5zm-23-7h2l-1-5zm-35 1h2l-1-4zm-2 3h2l-1-5zm-31 3h2l-1-5zm207-4h2l-1-5zm-145 1h2l-1-6zm153-1h2l-1-6zm-147-3h2l-1-5zm-53 7h2l-1-4zm16-3h2l-1-5zm228-4h2l-1-5zm-255 5h2l-1-5zm175-4h2l-1-5zm-72 2h2l-1-5zm-18-1h2l-1-5zm-87 4h2l-1-6zm217-1h2l-1-5zm-200-5h2l-1-6zm174-1h2l-1-6zm-179 2h2l-1-5zm-5 5h2l-1-5zm-6-4h2l-1-6zm230 2h2l-1-6zm-41 0h2l-1-6zm4 3h2l-1-5zm-161-4h2l-1-6zm52 1h2l-1-6zm152-1h2l-1-6zm-160 2h2l-1-5zm127 1h2l-1-6zm-194-2h2l-1-6zm179 3h2l-1-6zm-165-5h2l-1-5zm207 4h2l-1-6zm-130-5h2l-1-5zm26 1h2l-1-5zm118 3h2l-1-5zm-247-3h2l-1-6zm1 5h2l-1-5zm14-4h2l-1-6zm2-3h2l-1-5zm194 3h2l-1-6zm-33-1h2l-1-5zm-142-1h2l-1-4zm76 5h2l-1-5zm108-1h2l-1-5zm-49-5h2l-1-6zm40 1h2l-1-5zm-193-1h2l-1-5zm149 0h2l-1-6zm57 6h2l-1-5zm-63-7h2l-1-5zm-41 3h2l-1-5zm-50 0h2l-1-5zm143-1h2l-1-6zm-48 3h2l-1-6zm-42 0h2l-1-6zm-23 2h2l-1-5zm-84 0h2l-1-6zm65 1h2l-1-6zm135-4h2l-1-4zm-168-2h2l-1-6zm169 5h2l-1-6zm-39-3h2l-1-5zm-72-3h2l-1-6zm-109 5h2l-1-5zm144-4h2l-1-5zm-78 6h2l-1-6zm43-6h2l-1-6zm123 3h2l-1-6zm-4 1h2l-1-5zm-112-2h2l-1-6zm0 0h2l-1-4zm113-4h2l-1-6zm-55 0h2l-1-6zm53 3h2l-1-4zm-198 3h2l-1-5zm175-1h2l-1-6zm-151-1h2l-1-6zm149 0h2l-1-6zm-28-2h2l-1-5zm-47 3h2l-1-6zm-87 0h2l-1-5zm83-1h2l-1-4zm-35 2h2l-1-4zm123 0h2l-1-5zm-2-3h2l-1-6zm-146 3h2l-1-5zm163-4h2l-1-6zm29 0h2l-1-5zm-186 3h2l-1-5zm15 1h2l-1-6zm-28-1h2l-1-6zm153-2h2l-1-4zm-177-1h2l-1-5zm20 0h2l-1-6zm4 3h2l-1-6zm134 1h2l-1-5zm-164-2h2l-1-6zm244 3h2l-1-6zm-116-6h2l-1-5zm52 2h2l-1-4zm-155 4h2l-1-6zm111-7h2l-1-6zm-76 3h2l-1-5zm35 4h2l-1-7zm72-3h2l-1-5zm-134-4h2l-1-6zm43 4h2l-1-5zm53-3h2l-1-5zm-9 5h2l-1-6zm53-1h2l-1-5zm-153-2h2l-1-5z"/><path fill="#ecc005" d="M781 444h2l-1-8zm6-1h2l-1-7zm-1-4h2l-1-7zm-5 1h2l-1-8zm1 1h2l-1-8zm-124-1h2l-1-7zm-4-1h2l-1-7zm174 4h2l-1-7zm-83-2h2l-1-8zm78 1h2l-1-7zm71-1h2l-1-9zm-183 2h2l-1-7zm92-5h2l-1-8zm79 7h2l-1-7zm-202-6h2l-1-8zm190 6h2l-1-7zm29-5h2l-1-7zm-155 1h2l-1-7zm118 4h2l-1-7zm27-3h2l-1-8zm-72 1h2l-1-7zm-171-1h2l-1-8zm224-3h2l-1-7zm-149 7h2l-1-7zm144-3h2l-1-8zm-146 1h2l-1-7zm19-3h2l-1-7zm142 3h2l-1-7zm-215-3h2l-1-8zm47-1h2l-1-7zm-33 1h2l-1-7zm106-2h2l-1-8zm86 1h2l-1-7zm-100 0h2l-1-8zm63-2h2l-1-8zm-99 5h2l-1-8zm2-2h2l-1-7zm135 3h2l-1-7zm-128-3h2l-1-8zm-67 0h2l-1-7zm14-2h2l-1-7zm117-1h2l-1-8zm103 5h2l-1-8zm-142 0h2l-1-7zm81 1h2l-1-7zm-22 0h2l-1-7zm-126-2h2l-1-8zm207 3h2l-1-8zm-250-1h2l-1-8zm164 1h2l-1-7zm-70-2h2l-1-7zm103-3h2l-1-9zm39 0h2l-1-7zm-192 4h2l-1-8zm-43 2h2l-1-7zm231-4h2l-1-8zm-246 3h2l-1-7zm147-4h2l-1-7zm78-3h2l-1-8zm-151 1h2l-1-8zm188 7h2l-1-7zm-10-5h2l-1-7zm-194 4h2l-1-8z"/><path fill="#f9bb11" d="M873 443h2l-1-9zm-216-7h2l-1-10zm83 7h2l-1-9zm158-2h2l-1-10zm-225-1h2l-1-10zm108 4h2l-1-10zm-111 0h2l-1-10zm-8-2h2l-1-9zm23-2h2l-1-9zm142-3h2l-1-11zm-58 5h2l-1-10zm-13-2h2l-1-9zm-106-1h2l-1-9zm248 2h2l-1-10zm-232-1h2l-1-9zm221 3h2l-1-9zm-102 0h2l-1-11zm-41-6h2l-1-10zm-35 4h2l-1-9zm74-1h2l-1-9zm-55-3h2l-1-11zm33 4h2l-1-10zm-1 0h2l-1-10zm76 3h2l-1-10zm-180-3h2l-1-9zm151-1h2l-1-9zm7 2h2l-1-11zm-78-2h2l-1-9zm36 0h2l-1-9zm-107 3h2l-1-10zm119-2h2l-1-9zm78-1h2l-1-9zm-172-2h2l-1-9zm165 3h2l-1-11zm-218 3h2l-1-9zm101-2h2l-1-10zm-18 0h2l-1-10zm201 2h2l-1-9zm-126-7h2l-1-9zm-162 6h2l-1-9zm191-6h2l-1-9zm-45 0h2l-1-10zm-58 6h2l-1-10zm-40-1h2l-1-9zm-30 1h2l-1-10z"/><path fill="#fdb925" d="M654 436h2l-1-11zm76 4h2l-1-13zm113 1h2l-1-12zm-15-1h2l-1-12zm22 1h2l-1-12zm-129-3h2l-1-12zm103 5h2l-1-12zm-35-2h2l-1-12zm96-5h2l-1-12zm-96 2h2l-1-13zm-99 2h2l-1-11zm183 2h2l-1-11zm-206-1h2l-1-12zm-8-5h2l-1-13zm193 6h2l-1-13zm-195-6h2l-1-11zm73 4h2l-1-12zm-22-5h2l-1-12zm166 7h2l-1-11zm-148-3h2l-1-12zm134-2h2l-1-13zm-18-2h2l-1-12zm-108 1h2l-1-13zm-43 2h2l-1-12zm76-3h2l-1-12zm4 7h2l-1-12zm136-4h2l-1-12zm-245 3h2l-1-12z"/><path fill="#fec11a" d="M630 440h2l-1-13zm95-6h2l-1-19zm167 6h2l-1-15zm-176-2h2l-1-15zm-16-8h2l-1-31zm98 2h2l-1-17zm-54 8h2l-1-15zm130-4h2l-1-17zm-160 3h2l-1-13zm53-6h2l-1-17zm-4 8h2l-1-14zm42-1h2l-1-13zm86-2h2l-1-18zm-145 1h2l-1-16zm148-5h2l-1-17zm-39 7h2l-1-14zm26-3h2l-1-16zm-65-6h2l-1-17zm43 3h2l-1-14zm-84-1h2l-1-22zm-35-6h2l-1-27zm74 4h2l-1-17zm-49 7h2l-1-14zm-68-1h2l-1-13zm-33-5h2l-1-23zm7-1h2l-1-21zm35 8h2l-1-14zm-38-7h2l-1-22zm252-4h2l-1-31zm-34 6h2l-1-17zm-239 1h2l-1-18zm19 1h2l-1-16zm46-3h2l-1-14zm32 3h2l-1-15zm-28-2h2l-1-13zm159-3h2l-1-19zm34 4h2l-1-21zm-40 0h2l-1-15zm-164 3h2l-1-13z"/><path fill="#a1c824" d="M713 454h3l-1-2zm99 3h3l-1-3zm-150-2h3l-1-13zm209 3h3l-1-5zm-261-6h3l-1-6zm209 2h3l-1-9zm29-3h3l-1-3zm-198 4h3l-1-3zm103 1h3l-1-5zm155-4h3l-1-24zm-48 3h3l-1-20zm-118 0h3l-1-5zm190 0h3l-1-8zm-185 2h3l-1-6zm-8 1h3l-1-3zm95-4h3l-1-17zm-15 0h3l-1-4zm-156 2h3l-1-2zm150-3h3l-1-12zm-69 2h3l-1-5zm-123-2h3l-1-5zm262-2h3l-1-6zm7 7h3l-1-4zm-3-4h3l-1-7zm-115 4h3l-1-7zm-36 0h3l-1-9zm-119-1h3l-1-5zm297 0h3l-1-4zm-96-1h3l-1-6zm-135-2h3l-1-12zm81-1h3l-1-3zm-81 3h3l-1-9zm219 2h3l-1-7zm-244-2h3l-1-2zm199-4h3l-1-15zm-40 4h3l-1-8zm-174-2h3l-1-5zm275-2h3l-1-13zm-253 2h3l-1-12zm125 3h3l-1-5zm-52-4h3l-1-18zm-112 1h3l-1-2zm302-1h3l-1-3zm-99 5h3l-1-11zm-179-5h3l-1-15zm32 3h3l-1-13zm244 1h3l-1-6zm-221-2h3l-1-3zm-81-3h3l-1-9zm54 1h3l-1-12zm-66-2h3l-1-3zm309 5h3l-1-12zm-246 2h3l-1-14zm-23-2h3l-1-2zm83-1h3l-1-3zm0-2h3l-1-5zm135 0h3l-1-8zm-234-1h3l-1-8zm7 5h3l-1-9zm62-2h3l-1-6zm194-3h3l-1-3zm-168 2h3l-1-12zm-7 2h3l-1-3zm27 0h3l-1-7zm51-5h3l-1-4zm-36 2h3l-1-11zm108 1h3l-1-13zm-259 3h3l-1-2zm224-4h3l-1-8zm64 4h3l-1-23zm-280-1h3l-1-9zm115-3h3l-1-13zm23 0h3l-1-15zm-70 1h3l-1-9zm63-2h3l-1-7zm-123-1h3l-1-15zm150 6h3l-1-4zm17 0h3l-1-20zm-29-3h3l-1-9zm-47-2h3l-1-13zm91 2h3l-1-15zm-75-2h3l-1-4zm-30 3h3l-1-16zm-28-3h3l-1-10zm239 3h3l-1-28zm-13 1h3l-1-4zm-299-3h3l-1-10zm1 1h3l-1-6zm47 2h3l-1-10zm-68 1h3l-1-2zm175-1h3l-1-7zm52 1h3l-1-5zm-165-6h3l-1-4zm233 1h3l-1-21zm-174-1h3l-1-9zm27 4h3l-1-4zm182-1h3l-1-22zm-6 3h3l-1-5zm-285-4h3l-1-10zm294 3h3l-1-3zm-186-2h3l-1-2zm130 4h3l-1-5zm-209-7h3l-1-10zm113 1h3l-1-11zm-92 4h3l-1-9zm42-3h3l-1-17zm-13 2h3l-1-9zm151 0h3l-1-14zm-199 2h3l-1-4zm239-4h3l-1-21zm-52-1h3l-1-9zm-95 2h3l-1-3zm22 2h3l-1-11zm78 2h3l-1-16zm-14-3h3l-1-7zm-102 0h3l-1-22zm135 3h3l-1-8zm-55 0h3l-1-3zm-14-2h3l-1-8zm-171-5h3l-1-8zm-24 5h3l-1-7zm329 0h3l-1-6zm-53 0h3l-1-7zm-85-1h3l-1-19zm98-1h3l-1-2zm-3 2h3l-1-8zm-185 0h3l-1-4zm222 1h3l-1-4zm-150-4h3l-1-8zm-121 1h3l-1-3zm-64 2h3l-1-6zm110 1h3l-1-25zm82-6h3l-1-18zm38 1h3l-1-4zm-82-1h3l-1-5zm167 5h3l-1-7zm-215-2h3l-1-7zm37-1h3l-1-10zm141 1h3l-1-13zm-158 3h3l-1-5zm222 0h3l-1-2zm-48 0h3l-1-16zm-181-6h3l-1-2zm-1 1h3l-1-7zm-55 4h3l-1-2zm202-5h3l-1-3zm-141 4h3l-1-12zm98-2h3l-1-8zm-195 3h3l-1-9zm159 0h3l-1-4zm156 1h3l-1-3zm-121 1h3l-1-3zm-62-7h3l-1-10zm1 1h3l-1-6zm73-1h3l-1-8zm-199 4h3l-1-13zm282 0h3l-1-4zm-149-2h3l-1-25zm41 4h3l-1-21zm22-6h3l-1-5zm-14 4h3l-1-4zm-99-5h3l-1-8zm219 1h3l-1-9zm-242 3h3l-1-17zm161 2h3l-1-8zm-88-1h3l-1-6zm114-1h3l-1-14zm-102-2h3l-1-2zm-43 1h3l-1-26zm58 4h3l-1-3zm138 1h3l-1-17zm-217-4h3l-1-13zm-67 4h3l-1-13zm139-7h3l-1-7zm15 2h3l-1-3zm145 5h3l-1-12zm-306-5h3l-1-4zm72 0h3l-1-2zm81 1h3l-1-26zm5 2h3l-1-19zm-136 1h3l-1-9zm121-2h3l-1-7zm-143-3h3l-1-5zm145 3h3l-1-14zm-113-3h3l-1-13zm-35 3h3l-1-7zm315 2h3l-1-6zm-232-1h3l-1-4zm-42-2h3l-1-23zm-55-1h3l-1-3zm98 4h3l-1-19zm-40 0h3l-1-24zm-40-5h3l-1-4zm211 1h3l-1-7zm-178-1h3l-1-2zm14-1h3l-1-15zm219 7h3l-1-4zm-200-5h3l-1-17zm188 1h3l-1-10zm-131-2h3l-1-5zm-16 4h3l-1-3zm-66-5h3l-1-6zm170 5h3l-1-4zm-215-2h3l-1-5zm164 1h3l-1-3zm-16 0h3l-1-3zm66-3h3l-1-7zm-77 5h3l-1-5zm44-3h3l-1-3zm-191 3h3l-1-6zm286 1h3l-1-5zm-103-5h3l-1-3zm-125 0h3l-1-14zm104 5h3l-1-3zm-6-4h3l-1-6zm14 0h3l-1-13zm-127-1h3l-1-5zm134 1h3l-1-11zm-113 4h3l-1-8zm-60 0h3l-1-4zm5-4h3l-1-3zm19 1h3l-1-6zm210 3h3l-1-6zm-243-3h3l-1-3zm195-4h3l-1-22zm-92 4h3l-1-18zm-63-4h3l-1-24zm123 4h3l-1-18zm97 2h3l-1-25zm-77-4h3l-1-20zm-66 2h3l-1-9zm-62-2h3l-1-4zm147 2h3l-1-5zm-147 2h3l-1-17zm243 0h3l-1-12zm32 1h3l-1-13zm-169-6h3l-1-12zm6 3h3l-1-11zm-123 0h3l-1-9zm161-2h3l-1-3zm-62 4h3l-1-5zm-72-2h3l-1-13zm93 1h3l-1-4zm-148 1h3l-1-5zm194 0h3l-1-3zm-33 0h3l-1-25zm47-4h3l-1-3zm-139 3h3l-1-9zm89 2h3l-1-5zm72-4h3l-1-4zm-193 1h3l-1-8zm193 3h3l-1-17zm-130-7h3l-1-7zm168 2h3l-1-11zm-159-2h3l-1-9zm122 3h3l-1-3zm-237-1h3l-1-2zm85 5h3l-1-18zm27-4h3l-1-3zm-106 0h3l-1-10zm153 0h3l-1-3zm59 2h3l-1-15zm-108-1h3l-1-17zm-21-2h3l-1-12zm126-1h3l-1-5zm-189 1h3l-1-20zm48-2h3l-1-7zm97 1h3l-1-3zm119 5h3l-1-8zm4 0h3l-1-4zm-116-1h3l-1-8zm-1 1h3l-1-5zm-55-6h3l-1-13zm-94 7h3l-1-4zm166-3h3l-1-16zm-159-1h3l-1-7zm124 3h3l-1-6zm-84 1h3l-1-8zm73-7h3l-1-10zm115 7h3l-1-8zm-189 0h3l-1-4zm186-4h3l-1-3zm24 2h3l-1-11zm-299-3h3l-1-3zm288 3h3l-1-5zm41 0h3l-1-31zm-121 1h3l-1-16zm93-5h3l-1-22zm14 1h3l-1-5zm-176 1h3l-1-5zm-119 2h3l-1-9zm239-1h3l-1-6zm-8-2h3l-1-10zm21 4h3l-1-13zm-238-6h3l-1-6zm250 4h3l-1-19zm-60 1h3l-1-7zm-74-2h3l-1-2zm-165 4h3l-1-3zm241-3h3l-1-11zm27 0h3l-1-8zm-57-1h3l-1-9zm135 1h3l-1-16zm-314-4h3l-1-9zm137 2h3l-1-3zm72-1h3l-1-4zm51 1h3l-1-3zm-194-1h3l-1-18zm-62 4h3l-1-2zm187-1h3l-1-11zm-119 0h3l-1-16zm83 1h3l-1-8zm-135 0h3l-1-7zm11-1h3l-1-5zm183-2h3l-1-25zm55 4h3l-1-4zm-91-3h3l-1-7zm-178 2h3l-1-3zm175 2h3l-1-16zm-79-6h3l-1-12zm119 1h3l-1-9zm18-2h3l-1-5zm-225 2h3l-1-2zm18 4h3l-1-2zm222-5h3l-1-4zm-263 1h3l-1-11zm127-1h3l-1-5zm31 0h3l-1-6zm42-1h3l-1-9zm-76 3h3l-1-4zm115-1h3l-1-18zm70-2h3l-1-3zm-218 6h3l-1-18zm-68-5h3l-1-6zm289 6h3l-1-10zm-290-7h3l-1-2zm163 1h3l-1-3zm-60 2h3l-1-4zm-13-2h3l-1-18zm5-1h3l-1-35zm134 5h3l-1-23zm6-2h3l-1-9zm-229-2h3l-1-10zm167 1h3l-1-15zm-195 5h3l-1-9zm246-3h3l-1-12zm-93-4h3l-1-4zm-20 2h3l-1-7zm116 4h3l-1-4zm-22-4h3l-1-5zm-48 5h3l-1-3zm-170-2h3l-1-2zm51-3h3l-1-4zm176-2h3l-1-2zm-134 7h3l-1-2zm196-1h3l-1-14zm-102-4h3l-1-10zm-130 4h3l-1-5zm250-5h3l-1-4zm-9 0h3l-1-5zm-70 1h3l-1-20zm-97 4h3l-1-12zm-126 0h3l-1-11zm285-2h3l-1-4zm-23-3h3l-1-16zm-141 4h3l-1-8zm78-3h3l-1-4zm97-2h3l-1-6zm-78 3h3l-1-12zm-71 3h3l-1-10zm144-5h3l-1-4zm-204 5h3l-1-7zm209-5h3l-1-3zm-269 5h3l-1-6zm241-6h3l-1-22zm-50 6h3l-1-4zm-229 0h3l-1-2zm67-6h3l-1-5zm224 5h3l-1-7zm10-2h3l-1-4zm-297 3h3l-1-7zm113-6h3l-1-15zm-108 1h3l-1-6zm161 2h3l-1-20zm-172-1h3l-1-14zm36 2h3l-1-2zm270-3h3l-1-7zm-193 6h3l-1-8zm70-2h3l-1-5zm-43 1h3l-1-5zm12 1h3l-1-5zm73-1h3l-1-13zm-219-5h3l-1-5zm128 3h3l-1-25zm125-3h3l-1-5zm31 1h3l-1-8zm-122-1h3l-1-2zm113 2h3l-1-10zm30 2h3l-1-4zm-177-2h3l-1-14zm67 1h3l-1-2zm-135-1h3l-1-6zm-23 0h3l-1-7zm67-1h3l-1-7zm194 5h3l-1-5zm-55-5h3l-1-7zm8-2h3l-1-11zm-30 3h3l-1-8zm-208 1h3l-1-17zm290 3h3l-1-12zm-247-2h3l-1-10zm147-2h3l-1-11zm89 4h3l-1-9zm-294-3h3l-1-7zm281-2h3l-1-3zm27 0h3l-1-6zm-109 3h3l-1-15zm88-1h3l-1-5zm-262-4h3l-1-3zm55 0h3l-1-5zm38 4h3l-1-4zm152 0h3l-1-7zm2 2h3l-1-6zm-8 0h3l-1-19zm-189-5h3l-1-10zm-94 4h3l-1-3zm71-3h3l-1-4zm113-1h3l-1-7zm-39 5h3l-1-17zm106-1h3l-1-3zm33-4h3l-1-5zm-177 3h3l-1-4zm-5-2h3l-1-5zm184 0h3l-1-7zm-64 1h3l-1-17zm-160-2h3l-1-8zm151-1h3l-1-3zm92 7h3l-1-21zm-113-7h3l-1-6zm-198 6h3l-1-1zm299 1h3l-1-6zm-207-2h3l-1-7zm-61-2h3l-1-5zm134 3h3l-1-23zm-38 0h3l-1-10zm-119 1h3l-1-2zm327-5h3l-1-3zm-164 1h3l-1-19zm25-2h3l-1-14zm72 3h3l-1-5zm-9 0h3l-1-6zm-207-3h3l-1-8zm56 5h3l-1-9zm91-6h3l-1-20zm-39 3h3l-1-8zm-162 3h3l-1-4zm12-3h3l-1-1zm228 4h3l-1-6zm-204-5h3l-1-4zm140 1h3l-1-5zm1-2h3l-1-6zm-74 1h3l-1-13zm57 0h3l-1-3zm108 1h3l-1-14zm-225-1h3l-1-3zm16 3h3l-1-2zm-18-4h3l-1-15zm298 4h3l-1-3zm-238-1h3l-1-8zm158 0h3l-1-3zm-203 2h3l-1-6zm161-3h3l-1-11zm124 3h3l-1-17zm-47-2h3l-1-14zm-137 2h3l-1-25zm51-3h3l-1-16zm73-3h3l-1-6zm-45 5h3l-1-22zm28 2h3l-1-5zm-91-3h3l-1-3zm-13 2h3l-1-3zm193-1h3l-1-5zm-265-4h3l-1-4zm62 2h3l-1-3zm59-1h3l-1-7zm-55 4h3l-1-3zm174-6h3l-1-7zm-293 4h3l-1-14zm315 0h3l-1-14zm-301-2h3l-1-12zm46 4h3l-1-6zm199-2h3l-1-23zm-214 0h3l-1-12zm10 2h3l-1-6zm69-1h3l-1-13zm145 0h3l-1-4zm-142-4h3l-1-2zm-14 0h3l-1-15zm147 4h3l-1-6zm-172-4h3l-1-4zm54 4h3l-1-3zm98 1h3l-1-11zm-176-2h3l-1-3zm83 1h3l-1-15zm-159 2h3l-1-2zm242-3h3l-1-8zm65 0h3l-1-6zm-83-2h3l-1-18zm-192-1h3l-1-8zm157 1h3l-1-2zm128 2h3l-1-14zm-105-3h3l-1-5zm-26-1h3l-1-8zm-154 1h3l-1-2zm265 5h3l-1-5zm2 0h3l-1-9zm-152-6h3l-1-4zm24 4h3l-1-6zm-146 1h3l-1-12zm161-5h3l-1-3zm-43 2h3l-1-5zm46 1h3l-1-2zm-22-3h3l-1-5zm-37 2h3l-1-2zm-28-2h3l-1-26zm-10 1h3l-1-5zm226 4h3l-1-4zm-86-2h3l-1-12zm-235 3h3l-1-3zm28 0h3l-1-9zm-31-3h3l-1-2zm201-3h3l-1-3zm63 5h3l-1-4zm-13 2h3l-1-8zm0-1h3l-1-9zm26 1h3l-1-6zm-186-4h3l-1-3zm-58 1h3l-1-4zm274-2h3l-1-7zm-161 0h3l-1-7zm162 3h3l-1-35zm-138-5h3l-1-4zm-141 5h3l-1-3zm1-5h3l-1-2zm-11 0h3l-1-2zm203 6h3l-1-4zm-32-3h3l-1-12zm-7 1h3l-1-4zm-106 0h3l-1-14zm42 0h3l-1-24zm-63-2h3l-1-5zm165 4h3l-1-27zm-120 0h3l-1-4zm209-3h3l-1-4zm-40 4h3l-1-5zm-217-7h3l-1-27zm-6 3h3l-1-15zm231-1h3l-1-8zm-129 0h3l-1-6zm119-2h3l-1-6zm-17 3h3l-1-14zm-178-1h3l-1-7zm188 5h3l-1-3zm18-4h3l-1-3zm-104-1h3l-1-4zm-51 4h3l-1-6zm20-3h3l-1-14zm132-2h3l-1-22zm-25 6h3l-1-10zm-148-3h3l-1-14zm7-3h3l-1-3zm52 6h3l-1-3zm128-4h3l-1-4zm-81-3h3l-1-5zm-11 5h3l-1-4zm-215 2h3l-1-4zm338-3h3l-1-9zm-257-1h3l-1-5zm172 1h3l-1-6zm91-2h3l-1-10zm-273 4h3l-1-19zm179-5h3l-1-14zm-205 4h3l-1-2zm49-2h3l-1-7zm195 1h3l-1-4zm-179 1h3l-1-8zm139-1h3l-1-7zm-216-3h3l-1-13zm236 1h3l-1-29zm-1-2h3l-1-15zm69 5h3l-1-13zm-97 2h3l-1-3zm-163 0h3l-1-12zm186-7h3l-1-9zm-110 6h3l-1-6zm5-6h3l-1-7zm37 4h3l-1-10zm60 3h3l-1-10zm9-2h3l-1-4zm-187 0h3l-1-7zm123-3h3l-1-8zm-2-2h3l-1-9zm90 6h3l-1-4zm-80-3h3l-1-14zm-90 0h3l-1-4zm81 4h3l-1-13zm18-2h3l-1-8zm-120 1h3l-1-2zm86-4h3l-1-3zm-19 4h3l-1-6zm49 0h3l-1-2zm-122-2h3l-1-4zm89 0h3l-1-3zm8 2h3l-1-22zm35-2h3l-1-9zm-16 1h3l-1-3zm-170-6h3l-1-8zm169 3h3l-1-11zm-2-1h3l-1-4zm-108 2h3l-1-14zm25 3h3l-1-4zm61-3h3l-1-5zm-61-2h3l-1-8zm222 2h3l-1-12zm-105 1h3l-1-3zm-49-2h3l-1-3zm94 2h3l-1-7zm-58 1h3l-1-15zm-41-4h3l-1-2zm-92 0h3l-1-4zm191 4h3l-1-4zm-59-1h3l-1-6zm-221 2h3l-1-1zm152-4h3l-1-3zm-131 2h3l-1-3zm198-3h3l-1-12zm9 4h3l-1-7zm1 0h3l-1-11zm72-3h3l-1-5zm6 0h3l-1-11zm-225 3h3l-1-32zm161-1h3l-1-3zm-43 2h3l-1-2zm110-4h3l-1-14zm-290 5h3l-1-6zm212-5h3l-1-9zm34-2h3l-1-20zm-214 3h3l-1-4zm110 4h3l-1-18zm80-3h3l-1-17zm71-2h3l-1-14zm-92-1h3l-1-5zm87-1h3l-1-16zm-1 0h3l-1-5zm-33 2h3l-1-10zm-23 1h3l-1-6zm-73 1h3l-1-5zm-154-1h3l-1-8zm216-3h3l-1-3zm-172 1h3l-1-4zm70 2h3l-1-4zm-116-2h3l-1-11zm63 1h3l-1-15zm255-1h3l-1-3zm-256 1h3l-1-2zm227 5h3l-1-16zm-116-3h3l-1-17zm-99 0h3l-1-4zm3-1h3l-1-7zm14 1h3l-1-5zm32 3h3l-1-18zm91-4h3l-1-4zm-213 2h3l-1-5zm105-4h3l-1-6zm-74 0h3l-1-6zm227-1h3l-1-6z"/><path fill="#bec507" d="M818 454h3l-1-40zm-36 3h3l-1-41zm-142 1h3l-1-43zm35 0h3l-1-46z"/><path fill="#bec507" d="M611 450h2l-1-3zm136 4h2l-1-4zm137-5h2l-1-3zm3 2h2l-1-4zm-68 2h2l-1-3zm84 3h2l-1-4zm24-2h2l-1-3zm-221-1h2l-1-4zm46 1h2l-1-4zm2-5h2l-1-4zm-145 3h2l-1-4zm227 0h2l-1-4zm98 2h2l-1-3zm-54-1h2l-1-4zm-288 0h2l-1-4zm316 0h2l-1-4zm-215-2h2l-1-4zm12-2h2l-1-4zm41 1h2l-1-4zm8 3h2l-1-3zm17-1h2l-1-4zm-147 0h2l-1-4zm315 3h2l-1-3zm-100-5h2l-1-4zm-224 5h2l-1-4zm156-4h2l-1-4zm-128 2h2l-1-4zm210 3h2l-1-4zm-160-8h2l-1-4zm-38 4h2l-1-4zm124 2h2l-1-3zm85-1h2l-1-3zm-225-5h2l-1-4zm161 3h2l-1-4zm-35-1h2l-1-3zm-135 0h2l-1-3zm110 0h2l-1-4zm176-1h2l-1-3zm-208 5h2l-1-4zm-60 1h2l-1-3zm-29-6h2l-1-4zm294 0h2l-1-4zm-239 3h2l-1-3zm-23 0h2l-1-4zm67-2h2l-1-4zm-107 2h2l-1-4zm309-1h2l-1-3zm-39 1h2l-1-4zm3 2h2l-1-4zm-107-5h2l-1-4zm8 0h2l-1-4zm101 7h2l-1-3zm-207-3h2l-1-4zm166 0h2l-1-4zm-21 2h2l-1-3zm-62-6h2l-1-3zm-122 6h2l-1-4zm225-6h2l-1-3zm-72 2h2l-1-4zm120-3h2l-1-4zm-234 6h2l-1-4zm-4 1h2l-1-4zm205-1h2l-1-3zm34-1h2l-1-3zm-135-1h2l-1-4zm99 4h2l-1-4zm30-6h2l-1-4zm-160 0h2l-1-4zm3 1h2l-1-3zm118-3h2l-1-4zm-194 2h2l-1-4zm51 5h2l-1-4zm111-2h2l-1-4zm-159-2h2l-1-4zm155 1h2l-1-4zm-96 2h2l-1-3zm12 0h2l-1-4zm59-2h2l-1-3zm7 1h2l-1-4zm-207 2h2l-1-4zm231-3h2l-1-4zm-152-1h2l-1-4zm28-1h2l-1-4zm-73 0h2l-1-4zm227-1h2l-1-3z"/><path fill="#d9c400" d="M820 450h2l-1-5zm112 2h2l-1-5zm-159 3h2l-1-4zm-36 0h2l-1-5zm-53-3h2l-1-6zm133 1h2l-1-5zm13 1h2l-1-6zm-205-5h2l-1-5zm246 1h2l-1-5zm-234-1h2l-1-5zm7 5h2l-1-5zm195-4h2l-1-5zm-215 2h2l-1-5zm67-1h2l-1-5zm79 0h2l-1-5zm-89-3h2l-1-6zm-73 1h2l-1-6zm47 2h2l-1-6zm108 2h2l-1-4zm-54-6h2l-1-6zm-82 2h2l-1-6zm29-2h2l-1-6zm113 1h2l-1-6zm-92 5h2l-1-6zm29-2h2l-1-6zm139-3h2l-1-6zm23 7h2l-1-5zm-69-2h2l-1-5zm-170-5h2l-1-5zm-25 5h2l-1-4zm287 0h2l-1-5zm-114-4h2l-1-5zm-47 0h2l-1-6zm79 1h2l-1-5zm-196 2h2l-1-5zm133-4h2l-1-6zm74 0h2l-1-5zm-116-1h2l-1-5zm219 0h2l-1-5zm-81 5h2l-1-5zm-68-4h2l-1-4zm-125 6h2l-1-6zm233-4h2l-1-6zm-43-1h2l-1-4zm-47 1h2l-1-6zm-113 5h2l-1-5zm48-3h2l-1-5zm49-2h2l-1-6zm-122 2h2l-1-5zm41 0h2l-1-6zm-33 0h2l-1-5zm63-4h2l-1-4zm10-1h2l-1-6zm-109 3h2l-1-6zm284 4h2l-1-5zm-113-1h2l-1-5zm-102 2h2l-1-5zm73-8h2l-1-6zm115 7h2l-1-5zm21-3h2l-1-6zm-279 1h2l-1-5zm230-3h2l-1-6zm-26 4h2l-1-4zm1-2h2l-1-6zm27 1h2l-1-5zm-57-2h2l-1-5zm-178-2h2l-1-5zm154 5h2l-1-5zm-134 0h2l-1-4zm194-4h2l-1-6zm-30-2h2l-1-5zm112 7h2l-1-6zm-54-3h2l-1-5zm-229-3h2l-1-6zm-28 6h2l-1-5zm196-5h2l-1-6zm-62 3h2l-1-5zm26 1h2l-1-6zm134 0h2l-1-4zm-287 1h2l-1-4zm106 1h2l-1-5zm178-5h2l-1-5zm-9 0h2l-1-6zm-32 0h2l-1-4zm-23 0h2l-1-5zm-164 2h2l-1-6zm147-3h2l-1-7zm88 5h2l-1-5zm-218-6h2l-1-6zm191 2h2l-1-4zm-223-1h2l-1-5zm59 4h2l-1-6zm-76-4h2l-1-5zm57 4h2l-1-6zm52-2h2l-1-5zm-61 0h2l-1-5zm115-2h2l-1-6zm58 3h2l-1-6zm-9 0h2l-1-5zm-211-3h2l-1-5zm154-1h2l-1-5zm114 5h2l-1-6zm-274 1h2l-1-5zm220 1h2l-1-5zm0-2h2l-1-5zm26-4h2l-1-5zm-26 5h2l-1-6zm70-3h2l-1-6zm6-2h2l-1-6zm-234 3h2l-1-5zm152-4h2l-1-5zm-104 1h2l-1-4zm37 2h2l-1-6zm60 3h2l-1-6zm-179-1h2l-1-4zm124-3h2l-1-5zm-2-3h2l-1-5zm19 6h2l-1-5zm6-2h2l-1-5zm-186-4h2l-1-5zm169 1h2l-1-7zm-85 1h2l-1-5zm162 3h2l-1-4zm-51 0h2l-1-6zm2-3h2l-1-5zm43 0h2l-1-6zm-251 1h2l-1-5z"/><path fill="#ecc005" d="M663 449h2l-1-8zm151-1h2l-1-7zm-131 1h2l-1-7zm236-2h2l-1-8zm-253 2h2l-1-7zm16 2h2l-1-8zm-3-2h2l-1-7zm242 2h2l-1-7zm-245 1h2l-1-8zm56-3h2l-1-7zm35-1h2l-1-7zm108 0h2l-1-8zm-137 0h2l-1-8zm-16-1h2l-1-8zm134 2h2l-1-9zm-85 3h2l-1-7zm100-3h2l-1-8zm-160 1h2l-1-7zm-90 0h2l-1-8zm246-1h2l-1-8zm-165 0h2l-1-8zm-67 4h2l-1-8zm299 0h2l-1-7zm-161-3h2l-1-9zm-113-3h2l-1-8zm13 1h2l-1-8zm112 1h2l-1-8zm123 3h2l-1-7zm31 1h2l-1-8zm-168-6h2l-1-7zm-90 3h2l-1-8zm212-1h2l-1-7zm-184-1h2l-1-7zm32-2h2l-1-8zm135 6h2l-1-8zm-63-2h2l-1-7zm-95-3h2l-1-7zm-111 1h2l-1-7zm246 2h2l-1-7zm51 1h2l-1-9zm-157 1h2l-1-7zm-126 0h2l-1-7zm218-3h2l-1-7zm-231-2h2l-1-8zm225 5h2l-1-8zm-92-3h2l-1-8zm124-2h2l-1-7zm51 6h2l-1-7zm-134-7h2l-1-9zm-94 2h2l-1-8zm165 0h2l-1-9zm26 1h2l-1-9zm-260 1h2l-1-8zm316-1h2l-1-8zm-302-1h2l-1-7zm32 2h2l-1-7zm79 1h2l-1-8zm180-2h2l-1-8zm-292 2h2l-1-7zm208-2h2l-1-7zm-49 0h2l-1-7zm-112 0h2l-1-8zm174 0h2l-1-8zm-107 0h2l-1-8zm-42 0h2l-1-9zm131-2h2l-1-8zm-217 0h2l-1-8zm303 4h2l-1-8zm-259 2h2l-1-7zm131-5h2l-1-8zm-9 5h2l-1-8zm-104-4h2l-1-8zm248 0h2l-1-7zm-121-2h2l-1-7zm88 1h2l-1-7zm3-1h2l-1-8zm3 0h2l-1-8zm-292 1h2l-1-7z"/><path fill="#f9bb11" d="M834 447h2l-1-10zm24-1h2l-1-9zm-119 0h2l-1-11zm-88 1h2l-1-9zm110 0h2l-1-9zm-129-2h2l-1-9zm182 3h2l-1-9zm-106 0h2l-1-10zm11-2h2l-1-10zm131 5h2l-1-10zm-65-7h2l-1-11zm102 7h2l-1-10zm-206-3h2l-1-10zm238 3h2l-1-10zm-243-6h2l-1-9zm19 1h2l-1-10zm18 2h2l-1-11zm60 0h2l-1-11zm-108 2h2l-1-10zm191 1h2l-1-10zm-151 0h2l-1-11zm133-1h2l-1-9zm-108-2h2l-1-10zm84 0h2l-1-9zm-2 3h2l-1-10zm124-2h2l-1-10zm-248-4h2l-1-11zm5 3h2l-1-10zm103 3h2l-1-10zm49-5h2l-1-11zm-126-1h2l-1-11zm83 2h2l-1-9zm80-2h2l-1-10zm-156-1h2l-1-9zm-99 4h2l-1-10zm183 2h2l-1-9zm-72 0h2l-1-10zm77-3h2l-1-10zm-189-1h2l-1-9zm299 4h2l-1-10zm-132-2h2l-1-9zm-60-2h2l-1-9zm33 4h2l-1-9zm-118-2h2l-1-9zm204-3h2l-1-9zm-42 5h2l-1-9zm-60 1h2l-1-11zm79-3h2l-1-10zm67-3h2l-1-10zm-224 2h2l-1-9zm226 4h2l-1-10zm-116-3h2l-1-10zm-50 3h2l-1-11z"/><path fill="#fdb925" d="M860 447h2l-1-12zm-61 3h2l-1-12zm84-7h2l-1-13zm13 2h2l-1-13zm-100 2h2l-1-12zm-1 2h2l-1-12zm-9-1h2l-1-12zm-77 1h2l-1-11zm84-4h2l-1-12zm-148 0h2l-1-12zm243 3h2l-1-11zm-190 2h2l-1-11zm145-5h2l-1-12zm-64 1h2l-1-12zm97 3h2l-1-11zm22 1h2l-1-13zm-140-3h2l-1-11zm27-4h2l-1-12zm36 4h2l-1-13zm11-2h2l-1-11zm46-1h2l-1-13zm-222 5h2l-1-11zm198-6h2l-1-12z"/><path fill="#fec11a" d="M909 442h2l-1-15zm-5 6h2l-1-14zm15-4h2l-1-17zm-1 1h2l-1-13zm-185 2h2l-1-13zm-31 0h2l-1-15zm52-4h2l-1-15zm-31 0h2l-1-16zm58 0h2l-1-16zm-116 2h2l-1-14zm4 3h2l-1-14zm135-6h2l-1-13zm-155-1h2l-1-15zm221 6h2l-1-15zm-83 0h2l-1-15zm147-3h2l-1-18zm-29-1h2l-1-13zm-69 0h2l-1-15zm-113-6h2l-1-21zm135 10h2l-1-14zm31-5h2l-1-13zm-70-4h2l-1-24zm-77 7h2l-1-15zm40-5h2l-1-25zm-30 8h2l-1-14zm-11-1h2l-1-15zm138-1h2l-1-14zm-170-6h2l-1-16zm200 2h2l-1-21zm-188 3h2l-1-14zm101 1h2l-1-16zm-167-6h2l-1-16zm199 1h2l-1-18zm-81 8h2l-1-13zm-133-8h2l-1-26zm35-1h2l-1-27zm-6 3h2l-1-19z"/><path fill="#a1c824" d="M948 460h3l-1-26zm-208 6h3l-1-12zm112-2h3l-1-5zm-267-1h3l-1-5zm121 1h3l-1-7zm43-2h3l-1-8zm173-3h3l-1-4zm-125 6h3l-1-13zm-164 0h3l-1-2zm240-6h3l-1-4zm85 5h3l-1-4zm-20-3h3l-1-23zm-231 3h3l-1-2zm-57-3h3l-1-2zm34 3h3l-1-6zm235 0h3l-1-3zm-115-2h3l-1-8zm-74-3h3l-1-6zm59 5h3l-1-3zm76 2h3l-1-4zm-77-6h3l-1-17zm18 0h3l-1-12zm154 5h3l-1-5zm-27-5h3l-1-15zm-30 2h3l-1-12zm-295 0h3l-1-17zm151 3h3l-1-3zm-47 0h3l-1-3zm171-5h3l-1-15zm-152 5h3l-1-7zm5-4h3l-1-3zm-10 4h3l-1-7zm-54-2h3l-1-30zm255 3h3l-1-3zm-277-5h3l-1-5zm146 2h3l-1-14zm146-1h3l-1-17zm-322-4h3l-1-4zm-28 3h3l-1-15zm49 1h3l-1-3zm34-2h3l-1-11zm290 6h3l-1-16zm-277-7h3l-1-4zm86 3h3l-1-5zm33 2h3l-1-5zm113-1h3l-1-3zm28-2h3l-1-5zm-162 4h3l-1-5zm125-4h3l-1-3zm-327-1h3l-1-4zm69 2h3l-1-3zm-28 3h3l-1-22zm48 0h3l-1-4zm100-5h3l-1-7zm44 6h3l-1-4zm-33-4h3l-1-6zm-46-3h3l-1-5zm92 4h3l-1-5zm-240-3h3l-1-2zm193 2h3l-1-27zm-169-2h3l-1-23zm229 4h3l-1-11zm-220-3h3l-1-2zm80 3h3l-1-11zm-63-2h3l-1-21zm-42 3h3l-1-4zm136-6h3l-1-3zm-19 6h3l-1-6zm6 1h3l-1-3zm51-1h3l-1-9zm-98-2h3l-1-3zm209-4h3l-1-4zm-228 2h3l-1-3zm22 1h3l-1-5zm86 4h3l-1-6zm-9-8h3l-1-36zm149 7h3l-1-4zm-27-2h3l-1-21zm47 2h3l-1-10zm-315 0h3l-1-5zm148-6h3l-1-15zm-111 4h3l-1-15zm78 1h3l-1-16zm70 1h3l-1-9zm-50-6h3l-1-15zm-109 4h3l-1-4zm291 2h3l-1-3zm-57-4h3l-1-5zm-252-1h3l-1-4zm0 0h3l-1-7zm15-1h3l-1-6zm-39 3h3l-1-7zm212 1h3l-1-17zm-211-1h3l-1-4zm298 1h3l-1-13zm-274-1h3l-1-10zm187 3h3l-1-3zm51-2h3l-1-5zm-261 1h3l-1-1zm276-4h3l-1-21zm-178 0h3l-1-5zm105 3h3l-1-14zm-166-5h3l-1-4zm304 2h3l-1-4zm-27-1h3l-1-15zm21 7h3l-1-11zm-188-5h3l-1-6zm-92-1h3l-1-8zm109 2h3l-1-10zm-37-2h3l-1-4zm-96 2h3l-1-2zm88 4h3l-1-5zm-75-3h3l-1-5zm-37-5h3l-1-3zm81 2h3l-1-5zm62-2h3l-1-15zm9 5h3l-1-9zm205 3h3l-1-8zm-299-5h3l-1-4zm-14 0h3l-1-4zm159 1h3l-1-3zm45 4h3l-1-7zm97-6h3l-1-7zm-53 0h3l-1-6zm57 2h3l-1-10zm6 2h3l-1-20zm-349-1h3l-1-3zm218-4h3l-1-4zm-224 6h3l-1-15zm249-3h3l-1-22zm2-1h3l-1-4zm-160 3h3l-1-4zm8-1h3l-1-11zm-67-1h3l-1-4zm254 3h3l-1-9zm-240-1h3l-1-12zm201-5h3l-1-5zm-59-1h3l-1-30zm129 3h3l-1-7zm-315 2h3l-1-2zm58 1h3l-1-5zm88 0h3l-1-12zm-86-2h3l-1-10zm252 1h3l-1-5zm-322 1h3l-1-5zm342 1h3l-1-4zm-263-6h3l-1-3zm-27 5h3l-1-4zm2-1h3l-1-10zm-25 3h3l-1-5zm98-2h3l-1-10zm2-6h3l-1-3zm92 6h3l-1-4zm61-3h3l-1-2zm-245 3h3l-1-2zm59-1h3l-1-4zm-91-4h3l-1-12zm140-1h3l-1-9zm196 1h3l-1-6zm-259 1h3l-1-9zm72 3h3l-1-5zm-49 0h3l-1-8zm-84-2h3l-1-4zm263-2h3l-1-20zm-132 7h3l-1-4zm-85-7h3l-1-5zm87 5h3l-1-15zm204 0h3l-1-4zm-217-1h3l-1-3zm-56-1h3l-1-8zm-94 0h3l-1-2zm207 0h3l-1-20zm1 0h3l-1-2zm124-3h3l-1-21zm23 0h3l-1-10zm-164 6h3l-1-27zm153-6h3l-1-9zm-280 0h3l-1-3zm213 1h3l-1-10zm-117 6h3l-1-4zm-139-3h3l-1-4zm110-4h3l-1-6zm-10 3h3l-1-14zm230 4h3l-1-5zm-43-1h3l-1-7zm-253 0h3l-1-10zm108-5h3l-1-4zm73 1h3l-1-3zm-164 3h3l-1-12zm59 1h3l-1-6zm-43-6h3l-1-4zm130 3h3l-1-5zm155 1h3l-1-13zm-42 2h3l-1-11zm-313-2h3l-1-3zm256-2h3l-1-5zm-28-1h3l-1-8zm-217 2h3l-1-5zm258 2h3l-1-10zm-253-1h3l-1-2zm255-2h3l-1-11zm-37 1h3l-1-25zm-240-2h3l-1-3zm323 5h3l-1-3zm-117-5h3l-1-3zm-96 2h3l-1-6zm196 2h3l-1-16zm-303-2h3l-1-5zm182-2h3l-1-3zm-59 2h3l-1-4zm-41-1h3l-1-17zm-73 4h3l-1-4zm262-5h3l-1-25zm-88-1h3l-1-17zm-79-1h3l-1-8zm213 2h3l-1-20zm-301 2h3l-1-5zm148-3h3l-1-25zm6 1h3l-1-4zm-123 1h3l-1-12zm118 2h3l-1-8zm-156 2h3l-1-7zm247-3h3l-1-3zm-94-2h3l-1-3zm35 6h3l-1-3zm114-4h3l-1-19zm-253-3h3l-1-3zm245 3h3l-1-3zm-115 3h3l-1-5zm73 1h3l-1-2zm-106-8h3l-1-4zm18 0h3l-1-10zm-147 7h3l-1-3zm260-5h3l-1-5zm-7-1h3l-1-7zm61 4h3l-1-10zm-139 1h3l-1-15zm-160 0h3l-1-9zm318-1h3l-1-3zm-346-1h3l-1-2zm109 3h3l-1-19zm101-5h3l-1-4zm-219 3h3l-1-5zm90-2h3l-1-8zm156 2h3l-1-17zm-104 2h3l-1-8zm118-5h3l-1-11zm91 3h3l-1-14zm-95-2h3l-1-14zm-179-2h3l-1-14zm193 6h3l-1-7zm-33-4h3l-1-3zm-234 3h3l-1-2zm187-3h3l-1-6zm-120 1h3l-1-5zm109-1h3l-1-9zm37-1h3l-1-23zm-87 5h3l-1-2zm109-3h3l-1-7zm-60 3h3l-1-19zm-73 0h3l-1-20zm58 0h3l-1-5zm-156-4h3l-1-2zm319 2h3l-1-10zm-58 3h3l-1-5zm34-5h3l-1-7zm-205 2h3l-1-23zm84-4h3l-1-13zm79 4h3l-1-17zm-136 0h3l-1-37zm-112 2h3l-1-6zm148-5h3l-1-12zm-159-1h3l-1-9zm125-1h3l-1-4zm50 6h3l-1-11zm-165-1h3l-1-4zm-29-4h3l-1-6zm163 6h3l-1-23zm-64-1h3l-1-10zm-16-1h3l-1-4zm95-3h3l-1-15zm49 3h3l-1-10zm-4 0h3l-1-3zm-3-1h3l-1-13zm-39 0h3l-1-5zm77-3h3l-1-5zm85 4h3l-1-15zm-172-2h3l-1-12zm68 4h3l-1-3zm92 1h3l-1-3zm0-3h3l-1-22zm-14-1h3l-1-9zm-271 1h3l-1-10zm-13 2h3l-1-9zm76 0h3l-1-14zm42-5h3l-1-8zm155 6h3l-1-16zm-144-4h3l-1-28zm-161-4h3l-1-3zm61 4h3l-1-13zm231 1h3l-1-2zm-276-1h3l-1-6zm135 3h3l-1-5zm-121-7h3l-1-5zm191 2h3l-1-7zm82 3h3l-1-11zm-76-1h3l-1-21zm-175 0h3l-1-2zm69 2h3l-1-4zm-81-2h3l-1-2zm241 3h3l-1-10zm-194-1h3l-1-5zm57 2h3l-1-5zm-32-6h3l-1-31zm30 2h3l-1-8zm129 0h3l-1-3zm-148-3h3l-1-7zm118 4h3l-1-27zm-182-3h3l-1-7zm300 3h3l-1-3zm-52 2h3l-1-3zm-97 0h3l-1-12zm-13 1h3l-1-25zm-102-3h3l-1-28zm-90 0h3l-1-1zm365 0h3l-1-15zm-65 2h3l-1-19zm5-4h3l-1-3zm-35 4h3l-1-5zm-112-5h3l-1-7zm-168 0h3l-1-4zm19 3h3l-1-4zm64 2h3l-1-4zm249 0h3l-1-7zm-75-2h3l-1-6zm57 0h3l-1-4zm-249-5h3l-1-3zm299 5h3l-1-2zm-144 0h3l-1-4zm-205-1h3l-1-1zm360 2h3l-1-5zm-70-5h3l-1-12zm-279 1h3l-1-4zm177 5h3l-1-17zm84-3h3l-1-7zm-193-3h3l-1-24zm208 7h3l-1-5zm-108-5h3l-1-7zm56 3h3l-1-12zm-45 0h3l-1-5zm-12-5h3l-1-2zm14 6h3l-1-10zm-70-3h3l-1-2zm154-1h3l-1-5zm-253 2h3l-1-5zm213 2h3l-1-18zm84 0h3l-1-8zm-3 0h3l-1-4zm15-6h3l-1-23zm-143 2h3l-1-8zm-108-2h3l-1-9zm175 6h3l-1-7zm93 0h3l-1-7zm-69-2h3l-1-4zm38-4h3l-1-6zm-196 1h3l-1-4zm226 3h3l-1-6zm-305-3h3l-1-7zm-2 2h3l-1-2zm-27 3h3l-1-3zm198-6h3l-1-10zm-198-1h3l-1-2zm33 6h3l-1-7zm143 0h3l-1-6zm-26 0h3l-1-12zm4-2h3l-1-10zm37-2h3l-1-6zm-10 1h3l-1-12zm80 1h3l-1-7zm-144 4h3l-1-13zm-87-2h3l-1-7zm148 1h3l-1-3zm162 0h3l-1-4zm-274 1h3l-1-4zm12-8h3l-1-13zm56 7h3l-1-9zm189-5h3l-1-10zm-263 0h3l-1-2zm41-1h3l-1-9zm-7 1h3l-1-7zm45 0h3l-1-9zm182 2h3l-1-9zm-126 3h3l-1-10zm-86-3h3l-1-3zm153 0h3l-1-32zm-258-2h3l-1-3zm4 3h3l-1-8zm-3-2h3l-1-4zm283 3h3l-1-13zm-250-3h3l-1-5zm182 0h3l-1-3zm24-1h3l-1-14zm67 0h3l-1-11zm-190 3h3l-1-2zm-111-1h3l-1-11zm125 1h3l-1-3zm182-1h3l-1-7zm-290 2h3l-1-4zm258 0h3l-1-12zm8-3h3l-1-17zm-188 5h3l-1-3zm-65 0h3l-1-12zm152-1h3l-1-6zm-161 0h3l-1-18zm146-4h3l-1-9zm27-1h3l-1-4zm79 2h3l-1-4zm-261 2h3l-1-2zm288 0h3l-1-21zm-137-3h3l-1-17zm83 1h3l-1-12zm34-3h3l-1-10zm-217 6h3l-1-9zm87-5h3l-1-3zm-192 0h3l-1-5zm375 4h3l-1-10zm-340-3h3l-1-7zm292 0h3l-1-9zm-96 4h3l-1-2zm130 0h3l-1-2zm-28-4h3l-1-16zm-191 3h3l-1-11zm25 0h3l-1-12zm167-3h3l-1-11zm-188 2h3l-1-12zm108-3h3l-1-4zm43-1h3l-1-27zm-98 2h3l-1-6zm66-1h3l-1-4zm-93 0h3l-1-16zm-105-1h3l-1-4zm222 0h3l-1-4zm-129 2h3l-1-8zm-81 1h3l-1-13zm95 3h3l-1-13zm-66-1h3l-1-8zm54-3h3l-1-8zm19-1h3l-1-4zm166 1h3l-1-13zm-245-2h3l-1-3zm71-1h3l-1-8zm-78 7h3l-1-9zm-16-1h3l-1-16zm25-1h3l-1-19zm-64 0h3l-1-18zm288-2h3l-1-10zm-63-1h3l-1-14zm-197 5h3l-1-3zm252-1h3l-1-3zm-171-2h3l-1-5zm123 3h3l-1-3zm51-5h3l-1-3zm-111 1h3l-1-15zm-119-1h3l-1-10zm150-1h3l-1-34zm-28 0h3l-1-2zm-122 0h3l-1-16zm-6 6h3l-1-5zm53-2h3l-1-5zm216 3h3l-1-7zm-105-1h3l-1-13zm129-2h3l-1-4zm-172 0h3l-1-12zm107 1h3l-1-6zm-288-3h3l-1-2zm266 3h3l-1-9zm56-4h3l-1-3zm-113 5h3l-1-14zm-186-6h3l-1-8zm62 7h3l-1-5zm179-1h3l-1-3zm-92-2h3l-1-23zm56-1h3l-1-16zm2 0h3l-1-8zm-155-1h3l-1-4zm-7-2h3l-1-10zm183 3h3l-1-8zm-106-3h3l-1-19zm-5 6h3l-1-12zm-20-5h3l-1-10zm156 6h3l-1-35zm49-3h3l-1-3zm-228 2h3l-1-4zm-18 0h3l-1-6zm108-7h3l-1-10zm-123 0h3l-1-4zm196 4h3l-1-4zm-219-3h3l-1-2zm-30 3h3l-1-14zm148 1h3l-1-5zm71 0h3l-1-8zm40 0h3l-1-5zm14 0h3l-1-18zm-207 3h3l-1-2zm178-4h3l-1-4zm-123-1h3l-1-6zm63 1h3l-1-9zm-134 1h3l-1-10zm32 0h3l-1-6zm-25-5h3l-1-3zm141 4h3l-1-2zm-10-4h3l-1-9zm61 3h3l-1-3zm-115 5h3l-1-4zm61-3h3l-1-6zm12-3h3l-1-4zm64-1h3l-1-8zm-303 1h3l-1-2zm136 1h3l-1-6zm-90 0h3l-1-9zm261 3h3l-1-2zm-24-4h3l-1-7zm-62 2h3l-1-6zm36-1h3l-1-8zm-119 3h3l-1-9zm231-1h3l-1-5zm-7 1h3l-1-5zm-325 1h3l-1-4zm123-1h3l-1-29zm192-1h3l-1-8zm-341-3h3l-1-4zm129 1h3l-1-11zm-126 0h3l-1-4zm132 0h3l-1-3zm154-2h3l-1-7zm-205 6h3l-1-38zm122 0h3l-1-4zm-125-5h3l-1-11zm55 5h3l-1-15zm-126-6h3l-1-2zm76 4h3l-1-29zm34-2h3l-1-12zm18 0h3l-1-6zm-72 1h3l-1-6zm76-3h3l-1-2zm116 1h3l-1-3zm-248 2h3l-1-4zm101-1h3l-1-11zm161 3h3l-1-10zm61-3h3l-1-2zm-273 3h3l-1-8zm272-1h3l-1-10zm-320-1h3l-1-6zm283 3h3l-1-6zm-215-2h3l-1-4zm-13 2h3l-1-6zm220-2h3l-1-2zm-243 2h3l-1-27zm67-2h3l-1-6zm60-1h3l-1-5zm-26 1h3l-1-4zm36-1h3l-1-3zm-75 3h3l-1-19zm87-2h3l-1-16zm-103-1h3l-1-3zm-56-1h3l-1-10zm53 4h3l-1-6zm156-2h3l-1-4zm-212-2h3l-1-5zm112 0h3l-1-3zm-94 0h3l-1-4zm68 3h3l-1-17zm17 2h3l-1-20zm-44-6h3l-1-4zm18-1h3l-1-3zm222 3h3l-1-7zm-88 4h3l-1-11zm70-4h3l-1-13zm-148-2h3l-1-11zm81-1h3l-1-3zm55 2h3l-1-16zm-198-1h3l-1-8zm-44 1h3l-1-18zm176-2h3l-1-10zm-31 3h3l-1-5zm117 2h3l-1-3zm-5-5h3l-1-12zm-36 6h3l-1-4zm19 0h3l-1-8zm42 1h3l-1-5zm-341-4h3l-1-3zm347-2h3l-1-2zm-225 1h3l-1-9zm98 0h3l-1-8zm-18 3h3l-1-7zm28-2h3l-1-10zm9 0h3l-1-9zm16-3h3l-1-15zm39 0h3l-1-4zm-168 0h3l-1-7zm49 6h3l-1-30zm183-2h3l-1-4zm-170-2h3l-1-18zm-185 1h3l-1-3zm343 1h3l-1-7zm-201 1h3l-1-3zm94 1h3l-1-3zm-222-7h3l-1-2zm248 1h3l-1-3zm59 3h3l-1-3zm-11-3h3l-1-16zm-270 6h3l-1-9zm92-3h3l-1-3zm203-2h3l-1-4zm-296 0h3l-1-26zm145 3h3l-1-8zm2-2h3l-1-3zm116 3h3l-1-8zm-8-3h3l-1-16zm-17 0h3l-1-15zm-258-3h3l-1-2zm10 0h3l-1-10zm238 8h3l-1-4zm-173-3h3l-1-12zm-16 0h3l-1-7zm60 1h3l-1-10zm-88-1h3l-1-3zm207 2h3l-1-17zm-109 0h3l-1-3zm24-5h3l-1-8zm-106 2h3l-1-3zm170-3h3l-1-2zm-180 6h3l-1-8zm278-1h3l-1-8zm4-4h3l-1-7zm-144-1h3l-1-18zm91 7h3l-1-5zm20-4h3l-1-8zm-44-1h3l-1-3zm-248 1h3l-1-1zm254-4h3l-1-32zm-160 3h3l-1-18zm208-1h3l-1-9zm-319-1h3l-1-12zm162 4h3l-1-9zm-125-1h3l-1-5zm52-2h3l-1-4zm22 0h3l-1-2zm182-1h3l-1-6zm-111 4h3l-1-32zm112-1h3l-1-2zm-15 3h3l-1-14zm-226-5h3l-1-24zm192-1h3l-1-10zm-169-1h3l-1-17zm-69 4h3l-1-4zm25 0h3l-1-5zm317-1h3l-1-2zm-148 0h3l-1-23zm-46-2h3l-1-5zm18 4h3l-1-15zm10-1h3l-1-11zm-140-2h3l-1-7zm326 6h3l-1-5zm-348-5h3l-1-5zm290 2h3l-1-3zm-69-2h3l-1-3zm-243-3h3l-1-2zm351 6h3l-1-11zm-135-6h3l-1-4zm126 2h3l-1-4zm-20 6h3l-1-13zm-54-6h3l-1-13zm-179 2h3l-1-15zm68 1h3l-1-16zm53-2h3l-1-3zm-29-2h3l-1-2zm-63 3h3l-1-4zm-102 0h3l-1-2zm312 0h3l-1-3zm-25 2h3l-1-9zm-170 2h3l-1-28zm-83-7h3l-1-4zm204 7h3l-1-13zm-265-5h3l-1-3zm67 0h3l-1-5zm53 0h3l-1-3zm4-1h3l-1-4zm-66 0h3l-1-3zm83-2h3l-1-2zm-58 7h3l-1-9zm-4-3h3l-1-3zm51 3h3l-1-10zm166-6h3l-1-7zm-127 2h3l-1-8zm-170-3h3l-1-2zm341 6h3l-1-8zm-6-3h3l-1-10zm11 3h3l-1-2zm-61 1h3l-1-4zm-220-1h3l-1-4zm204-3h3l-1-3zm71-2h3l-1-7zm-270 2h3l-1-4zm-6 2h3l-1-2zm268-1h3l-1-15zm-64-3h3l-1-2zm-141 0h3l-1-5zm248 6h3l-1-4zm-30-4h3l-1-16zm-1 3h3l-1-3zm-192-1h3l-1-8zm204-3h3l-1-6zm-91 1h3l-1-6zm96-2h3l-1-19zm-117 6h3l-1-5zm-211 0h3l-1-6zm219 0h3l-1-4zm-93-3h3l-1-6zm63-3h3l-1-7zm117 5h3l-1-12zm-102-1h3l-1-4zm-127-2h3l-1-7zm112 4h3l-1-9zm-137-1h3l-1-12zm260-1h3l-1-4zm22 1h3l-1-9zm-276-1h3l-1-23zm240-3h3l-1-3zm-43 5h3l-1-3zm83-3h3l-1-9zm-92 4h3l-1-11zm-55-6h3l-1-5zm-207 3h3l-1-6zm277 2h3l-1-6zm-253-5h3l-1-6zm-6 5h3l-1-12zm201-5h3l-1-3zm-73 5h3l-1-3zm-35-2h3l-1-19zm3-5h3l-1-9zm-22 3h3l-1-17zm-59-1h3l-1-5zm141 5h3l-1-3zm-113-4h3l-1-10zm146 4h3l-1-20zm-219-4h3l-1-2zm1 2h3l-1-5zm91-1h3l-1-23zm137 3h3l-1-10z"/><path fill="#bec507" d="M709 459h3l-1-40zm19 6h3l-1-46zm-10-2h3l-1-39z"/><path fill="#bec507" d="M685 462h2l-1-3zm45-5h2l-1-4zm1 5h2l-1-4zm-4 0h2l-1-4zm47-5h2l-1-4zm10 2h2l-1-4zm-69 3h2l-1-4zm49 1h2l-1-4zm-147-6h2l-1-4zm15-1h2l-1-3zm-39 3h2l-1-4zm149 0h2l-1-3zm205-2h2l-1-4zm-54 1h2l-1-4zm26 0h2l-1-4zm16-2h2l-1-3zm-219 1h2l-1-4zm0 6h2l-1-4zm-9-3h2l-1-3zm-98 2h2l-1-4zm270-5h2l-1-4zm-85 1h2l-1-4zm112 0h2l-1-4zm-290 4h2l-1-3zm-31-5h2l-1-4zm18 2h2l-1-4zm204-2h2l-1-4zm-97-1h2l-1-4zm-64 2h2l-1-4zm104 0h2l-1-4zm163 4h2l-1-4zm-44-3h2l-1-4zm-93-1h2l-1-4zm77 5h2l-1-4zm93-1h2l-1-4zm-31-5h2l-1-3zm29 4h2l-1-3zm-304-4h2l-1-4zm4 4h2l-1-4zm143 0h2l-1-4zm15-4h2l-1-3zm70 2h2l-1-4zm-168-1h2l-1-4zm223 2h2l-1-4zm-124 2h2l-1-3zm-25-4h2l-1-4zm156 5h2l-1-4zm-41-1h2l-1-4zm-208 1h2l-1-4zm53-4h2l-1-3zm-39 1h2l-1-3zm112 0h2l-1-4zm-90-1h2l-1-3zm146-2h2l-1-4zm-61 3h2l-1-4zm-72-2h2l-1-3zm-72 1h2l-1-4zm-54 1h2l-1-4zm283 3h2l-1-3zm-228 0h2l-1-3zm44-2h2l-1-4zm-24 1h2l-1-3zm243-3h2l-1-4zm-129 2h2l-1-4zm144-1h2l-1-4zm-266 0h2l-1-4zm261-3h2l-1-4zm-49 0h2l-1-4zm-251 0h2l-1-4zm242-1h2l-1-4zm43 1h2l-1-4zm16 1h2l-1-3zm-91 1h2l-1-3zm-232 3h2l-1-4zm126-2h2l-1-3zm63-4h2l-1-4zm-112 2h2l-1-4zm-94 3h2l-1-4zm277 2h2l-1-3zm-252-6h2l-1-4z"/><path fill="#d9c400" d="M707 461h2l-1-4zm43-2h2l-1-5zm54 0h2l-1-5zm-129-3h2l-1-6zm169 4h2l-1-6zm-71 1h2l-1-6zm151 0h2l-1-6zm-130 1h2l-1-5zm-176-4h2l-1-6zm32-1h2l-1-5zm108 1h2l-1-6zm-4 1h2l-1-5zm205 4h2l-1-5zm-110 0h2l-1-4zm102-5h2l-1-6zm-63 3h2l-1-6zm-225-3h2l-1-6zm-15 1h2l-1-6zm73 1h2l-1-6zm17-5h2l-1-6zm-62 1h2l-1-6zm22 3h2l-1-5zm-19 0h2l-1-5zm261-4h2l-1-6zm-11 0h2l-1-5zm-67 1h2l-1-6zm31 6h2l-1-4zm-253-1h2l-1-6zm191-5h2l-1-5zm41 4h2l-1-6zm1-4h2l-1-6zm-169-1h2l-1-5zm60 4h2l-1-5zm8-5h2l-1-6zm168 5h2l-1-6zm-299 2h2l-1-5zm53-3h2l-1-5zm51 3h2l-1-5zm129 1h2l-1-4zm-92-4h2l-1-6zm60 1h2l-1-4zm87 0h2l-1-6zm-324-3h2l-1-5zm174 4h2l-1-6zm-95 0h2l-1-6zm128-1h2l-1-6zm91 0h2l-1-5zm-271 0h2l-1-6zm-14 3h2l-1-5zm119-5h2l-1-5zm131 4h2l-1-6zm-139-2h2l-1-5zm59 2h2l-1-6zm128 1h2l-1-5zm-130-4h2l-1-5zm-109-2h2l-1-5zm131-1h2l-1-6zm-44 3h2l-1-6zm-123 3h2l-1-4zm103 0h2l-1-5zm190-5h2l-1-6zm-222 0h2l-1-5zm37 0h2l-1-6zm183 2h2l-1-5zm-127 3h2l-1-6zm-186-1h2l-1-5zm169-2h2l-1-5zm113-3h2l-1-6zm-217 7h2l-1-5zm269-2h2l-1-6zm-339-2h2l-1-4zm292-1h2l-1-5zm-168 1h2l-1-5zm-51 3h2l-1-5zm54-3h2l-1-5zm11-3h2l-1-5zm-79 7h2l-1-6zm234-5h2l-1-6zm-235-1h2l-1-6zm199 5h2l-1-6zm-242-5h2l-1-5zm207 3h2l-1-5zm-163-4h2l-1-6zm184 3h2l-1-5zm-131-2h2l-1-6zm67-1h2l-1-6zm43 5h2l-1-5zm-35-1h2l-1-5zm-134 0h2l-1-6zm137-4h2l-1-5zm83 1h2l-1-5zm-257 2h2l-1-6zm212 0h2l-1-5zm-119 3h2l-1-5zm213-1h2l-1-5zm-51-4h2l-1-4zm-18 4h2l-1-6zm-212 1h2l-1-5zm272-2h2l-1-6zm-297-2h2l-1-6zm68 0h2l-1-5zm132-3h2l-1-6zm63 7h2l-1-5zm-177-3h2l-1-5zm99 0h2l-1-5zm10 0h2l-1-6zm9 1h2l-1-5zm-113-3h2l-1-4zm-83 6h2l-1-5zm144-3h2l-1-5zm118 1h2l-1-5zm-273-6h2l-1-6zm108 6h2l-1-6zm34-3h2l-1-5zm-115 5h2l-1-5zm278-1h2l-1-5zm-29-2h2l-1-5zm10-2h2l-1-5zm-157 3h2l-1-5zm82-5h2l-1-6zm-61 3h2l-1-6zm119 2h2l-1-6zm-232 1h2l-1-5zm48 0h2l-1-6zm38-3h2l-1-5zm172 3h2l-1-5zm-7-4h2l-1-6zm-182 3h2l-1-5zm69 2h2l-1-6zm146-2h2l-1-5zm3-2h2l-1-5zm-240-3h2l-1-5zm-52 2h2l-1-6zm155 3h2l-1-6z"/><path fill="#ecc005" d="M740 461h2l-1-7zm58-2h2l-1-8zm9-4h2l-1-7zm97 2h2l-1-7zm-107 0h2l-1-8zm-94 3h2l-1-7zm188-2h2l-1-8zm-93-1h2l-1-8zm132 4h2l-1-7zm-230-2h2l-1-7zm-52 0h2l-1-7zm102 1h2l-1-7zm-152-6h2l-1-7zm107 2h2l-1-8zm-48 3h2l-1-7zm301-2h2l-1-8zm-43 3h2l-1-7zm-268-4h2l-1-7zm216 0h2l-1-7zm92 2h2l-1-8zm-96-3h2l-1-8zm-179-2h2l-1-8zm105 0h2l-1-8zm-21 2h2l-1-7zm41 2h2l-1-8zm-48-1h2l-1-7zm-62 3h2l-1-9zm-47-2h2l-1-8zm241 2h2l-1-7zm-92 1h2l-1-7zm89-6h2l-1-7zm-54 5h2l-1-7zm-71 0h2l-1-7zm31-3h2l-1-7zm-64 4h2l-1-8zm-40-7h2l-1-8zm211 6h2l-1-8zm-44-4h2l-1-8zm66 1h2l-1-7zm-300 2h2l-1-7zm274 1h2l-1-7zm-244 2h2l-1-7zm215-4h2l-1-7zm-146 2h2l-1-7zm26 0h2l-1-7zm167-3h2l-1-7zm-188 2h2l-1-7zm-67-1h2l-1-8zm94 3h2l-1-8zm174-4h2l-1-8zm-83-2h2l-1-9zm-13 6h2l-1-8zm-43-1h2l-1-7zm28 0h2l-1-8zm-69 1h2l-1-7zm-129-4h2l-1-8zm108 1h2l-1-7zm-48-1h2l-1-7zm38 0h2l-1-7zm-8 0h2l-1-7zm131 5h2l-1-7zm70-4h2l-1-8zm-149-2h2l-1-7zm151-1h2l-1-7zm-219 4h2l-1-7zm-97-3h2l-1-7zm279 4h2l-1-8zm70 0h2l-1-7zm-28 1h2l-1-8zm-55-5h2l-1-8zm-13 6h2l-1-8zm72-2h2l-1-7zm-253 0h2l-1-7zm194 2h2l-1-7zm-244-1h2l-1-7z"/><path fill="#f9bb11" d="M789 454h2l-1-10zm145 0h2l-1-9zm-326 1h2l-1-10zm275-1h2l-1-9zm59 2h2l-1-10zm-349-1h2l-1-9zm372 5h2l-1-9zm-209-7h2l-1-9zm-111 4h2l-1-9zm78 1h2l-1-9zm21-5h2l-1-9zm60 3h2l-1-10zm104-3h2l-1-9zm-164-1h2l-1-9zm-142 7h2l-1-9zm146-1h2l-1-9zm154 0h2l-1-10zm-221-4h2l-1-10zm102-2h2l-1-10zm18 6h2l-1-9zm49-2h2l-1-10zm14 1h2l-1-10zm-101-3h2l-1-9zm166 3h2l-1-9zm-37 2h2l-1-10zm64-2h2l-1-9zm-172 1h2l-1-10zm48-1h2l-1-11zm71-3h2l-1-10zm-261 4h2l-1-11zm141-4h2l-1-10zm129 0h2l-1-10zm-162-1h2l-1-10zm-92 4h2l-1-10zm132-3h2l-1-9zm-119-2h2l-1-10zm162 4h2l-1-9zm56 0h2l-1-11zm-157 3h2l-1-9zm57-2h2l-1-10zm-76 1h2l-1-10zm183-4h2l-1-10zm-46-1h2l-1-9zm-68 0h2l-1-11zm125 0h2l-1-10zm-16 1h2l-1-10zm-17 1h2l-1-9zm-19 3h2l-1-10zm-185-6h2l-1-10zm97 5h2l-1-9zm-85-1h2l-1-9zm68 1h2l-1-10zm163-1h2l-1-9zm13-2h2l-1-10zm-236 0h2l-1-10z"/><path fill="#fdb925" d="M640 454h2l-1-13zm237 1h2l-1-13zm-6-3h2l-1-13zm86 4h2l-1-12zm-106-3h2l-1-13zm27-2h2l-1-12zm-86 3h2l-1-12zm124-3h2l-1-12zm0 1h2l-1-12zm-6 2h2l-1-12zm-188 4h2l-1-11zm60 0h2l-1-12zm-73-1h2l-1-12zm105-4h2l-1-13zm78 4h2l-1-11zm29-1h2l-1-12zm-239 0h2l-1-11zm-63 0h2l-1-11zm131-4h2l-1-11zm-48 6h2l-1-11zm28-1h2l-1-12zm-76-3h2l-1-11zm138-2h2l-1-11zm-87 2h2l-1-11zm237-3h2l-1-11zm-233 4h2l-1-11zm96 2h2l-1-12z"/><path fill="#fec11a" d="M948 449h2l-1-16zm-10 3h2l-1-14zm-228-9h2l-1-24zm-38 8h2l-1-18zm-46 5h2l-1-13zm158-5h2l-1-16zm-169-1h2l-1-14zm140-6h2l-1-22zm35 2h2l-1-18zm-14 8h2l-1-16zm61-2h2l-1-15zm34-1h2l-1-15zm-108-2h2l-1-15zm-35-2h2l-1-28zm92 4h2l-1-14zm-119 3h2l-1-14zm27-6h2l-1-22zm20 8h2l-1-14zm169-1h2l-1-13zm-169-4h2l-1-17zm-49-3h2l-1-18zm129 4h2l-1-16zm-44 4h2l-1-15zm-102-4h2l-1-17zm-6-2h2l-1-14zm253 0h2l-1-14zm-56 0h2l-1-19zm3-2h2l-1-16zm-55-2h2l-1-21zm-43 8h2l-1-14zm104-2h2l-1-21zm-138 1h2l-1-18zm-64-3h2l-1-23zm1 2h2l-1-17zm-41 2h2l-1-16zm130-1h2l-1-18zm-133-3h2l-1-15zm228-4h2l-1-19zm-90 4h2l-1-19zm-128 0h2l-1-15zm147 2h2l-1-14zm-68 2h2l-1-17zm-7-7h2l-1-24zm-48 7h2l-1-14zm7-2h2l-1-14z"/><path fill="#a1c824" d="M622 469h3l-1-2zm6 3h3l-1-18zm2-2h3l-1-23zm301-3h3l-1-33zm-132 5h3l-1-12zm-104-2h3l-1-5zm160-1h3l-1-25zm-82-1h3l-1-4zm70 2h3l-1-6zm24 1h3l-1-10zm-111 2h3l-1-7zm-89-7h3l-1-29zm211 5h3l-1-5zm-127-5h3l-1-7zm212 7h3l-1-4zm-59-6h3l-1-3zm-112 4h3l-1-17zm-174-4h3l-1-12zm116 3h3l-1-4zm159-2h3l-1-10zm54-1h3l-1-2zm-7 6h3l-1-4zm-122-1h3l-1-11zm-22-4h3l-1-2zm-134 0h3l-1-3zm12 0h3l-1-19zm167 4h3l-1-4zm62 0h3l-1-15zm-116-5h3l-1-7zm179 5h3l-1-2zm-308 1h3l-1-2zm242-5h3l-1-9zm-282 4h3l-1-8zm86-2h3l-1-4zm266 3h3l-1-5zm-289-2h3l-1-3zm-5 0h3l-1-3zm240-2h3l-1-5zm-221 0h3l-1-4zm266 4h3l-1-1zm-42 0h3l-1-7zm-107-5h3l-1-7zm-89 0h3l-1-6zm155 1h3l-1-27zm-213 2h3l-1-12zm230-3h3l-1-3zm54 3h3l-1-3zm-309 2h3l-1-3zm241-2h3l-1-11zm74-4h3l-1-6zm-139 4h3l-1-22zm-112 2h3l-1-24zm134-7h3l-1-5zm31 4h3l-1-22zm-195-4h3l-1-5zm82 5h3l-1-24zm-117-3h3l-1-6zm247 4h3l-1-3zm-142-3h3l-1-12zm225-2h3l-1-3zm-163 3h3l-1-28zm-186-1h3l-1-17zm187 1h3l-1-6zm-141 2h3l-1-9zm31-2h3l-1-9zm56-4h3l-1-3zm198 4h3l-1-2zm-120-1h3l-1-3zm-219 3h3l-1-5zm297-4h3l-1-3zm2 2h3l-1-7zm36-1h3l-1-2zm-183 3h3l-1-15zm113-2h3l-1-10zm-90 3h3l-1-5zm-153-3h3l-1-5zm325 0h3l-1-2zm-151 3h3l-1-15zm-148 0h3l-1-3zm226-1h3l-1-6zm-174-4h3l-1-22zm1-1h3l-1-11zm-23 4h3l-1-27zm147 1h3l-1-7zm96 1h3l-1-19zm-284-7h3l-1-11zm-31 3h3l-1-3zm87 0h3l-1-21zm-4 0h3l-1-17zm129 4h3l-1-5zm-9-4h3l-1-5zm148 4h3l-1-6zm-342-1h3l-1-2zm117-3h3l-1-5zm122-3h3l-1-9zm92 2h3l-1-4zm-322 5h3l-1-11zm267-1h3l-1-3zm59 0h3l-1-2zm-244-6h3l-1-4zm86 6h3l-1-8zm119 1h3l-1-20zm-62-2h3l-1-25zm-208-2h3l-1-6zm49-2h3l-1-5zm174 0h3l-1-17zm-14 6h3l-1-8zm-169-2h3l-1-4zm-40-2h3l-1-5zm257-2h3l-1-3zm36 3h3l-1-11zm-132-1h3l-1-2zm0 0h3l-1-9zm18 2h3l-1-14zm-95-2h3l-1-7zm242 1h3l-1-3zm-178-2h3l-1-12zm139 0h3l-1-5zm-300 1h3l-1-4zm264 3h3l-1-8zm67-2h3l-1-8zm-166 0h3l-1-4zm-139 0h3l-1-13zm-56-1h3l-1-11zm117 3h3l-1-5zm252 0h3l-1-3zm-76-1h3l-1-5zm29-2h3l-1-2zm30-2h3l-1-15zm-269 3h3l-1-29zm-35 1h3l-1-12zm242 2h3l-1-37zm-36-4h3l-1-4zm83 0h3l-1-2zm-274-3h3l-1-3zm249 3h3l-1-3zm-233 4h3l-1-4zm14-2h3l-1-8zm235-2h3l-1-7zm-221 5h3l-1-12zm-53-2h3l-1-18zm153 1h3l-1-2zm98-7h3l-1-4zm-282 2h3l-1-3zm140 3h3l-1-10zm-136 2h3l-1-4zm4-4h3l-1-9zm268-1h3l-1-5zm-23 2h3l-1-6zm49 4h3l-1-6zm-84-3h3l-1-10zm-69 2h3l-1-3zm87-2h3l-1-2zm-204-5h3l-1-14zm122 0h3l-1-3zm-94 2h3l-1-4zm-17-1h3l-1-7zm20 1h3l-1-8zm76 4h3l-1-6zm-132-3h3l-1-4zm268 4h3l-1-13zm-90 1h3l-1-12zm-61-2h3l-1-2zm-21-3h3l-1-20zm214-2h3l-1-4zm-350-1h3l-1-3zm93 7h3l-1-4zm-45-7h3l-1-27zm307 7h3l-1-10zm-148-4h3l-1-23zm98-2h3l-1-4zm23 1h3l-1-8zm38-1h3l-1-13zm-52-1h3l-1-3zm-179 5h3l-1-35zm-96-1h3l-1-11zm59-4h3l-1-13zm38 7h3l-1-5zm38-3h3l-1-4zm-36 3h3l-1-4zm192-6h3l-1-6zm-213 1h3l-1-9zm195 1h3l-1-2zm-20 3h3l-1-4zm-229-3h3l-1-14zm289 1h3l-1-3zm-159-2h3l-1-24zm162 4h3l-1-2zm-14-5h3l-1-3zm-111 0h3l-1-17zm83 1h3l-1-25zm-92 1h3l-1-4zm-2 2h3l-1-22zm-12 1h3l-1-2zm-178-5h3l-1-4zm284 2h3l-1-8zm-292 2h3l-1-33zm283 0h3l-1-2zm-106 0h3l-1-6zm83-2h3l-1-3zm-230 3h3l-1-6zm-18 1h3l-1-9zm236-6h3l-1-18zm6 0h3l-1-10zm-197 1h3l-1-4zm158 0h3l-1-7zm-46 5h3l-1-5zm-113-1h3l-1-10zm144 1h3l-1-3zm-126-2h3l-1-11zm82-5h3l-1-19zm-83 7h3l-1-11zm96-6h3l-1-6zm173 4h3l-1-4zm-164-2h3l-1-12zm84 3h3l-1-15zm-136-5h3l-1-8zm-21 6h3l-1-10zm238-4h3l-1-7zm-153 2h3l-1-5zm147 3h3l-1-4zm-70-3h3l-1-29zm77 1h3l-1-3zm-128 1h3l-1-4zm131 0h3l-1-2zm-226-4h3l-1-6zm153 0h3l-1-5zm13 2h3l-1-6zm51-4h3l-1-3zm-158 7h3l-1-3zm-175-2h3l-1-3zm325-4h3l-1-7zm-344-2h3l-1-6zm333 7h3l-1-4zm-127 0h3l-1-5zm-19-2h3l-1-7zm-87-5h3l-1-4zm75 0h3l-1-3zm37 2h3l-1-2zm122 2h3l-1-2zm-238 3h3l-1-33zm270-3h3l-1-7zm-192 0h3l-1-16zm90 1h3l-1-2zm-80 2h3l-1-3zm48-4h3l-1-8zm98 1h3l-1-5zm-137 1h3l-1-14zm-4 2h3l-1-4zm-116-6h3l-1-3zm77 2h3l-1-25zm96-2h3l-1-9zm-122-1h3l-1-3zm90 7h3l-1-5zm-109-4h3l-1-9zm-54 3h3l-1-20zm94-5h3l-1-13zm155 1h3l-1-8zm-226 5h3l-1-3zm-51-1h3l-1-3zm195-3h3l-1-8zm80 0h3l-1-3zm-168 1h3l-1-15zm114-3h3l-1-15zm-66 4h3l-1-14zm-63-5h3l-1-6zm37 2h3l-1-11zm-151 2h3l-1-4zm85 3h3l-1-13zm195-4h3l-1-11zm-174 2h3l-1-8zm219-2h3l-1-10zm-226-1h3l-1-10zm113 1h3l-1-32zm-81-2h3l-1-13zm114-1h3l-1-6zm-54 7h3l-1-5zm-12 1h3l-1-5zm74-2h3l-1-24zm-142-4h3l-1-5zm111 3h3l-1-7zm-228-2h3l-1-2zm152-1h3l-1-23zm153 5h3l-1-14zm-3-5h3l-1-10zm4 1h3l-1-22zm-142 0h3l-1-3zm107 4h3l-1-3zm-91 0h3l-1-5zm-89 0h3l-1-14zm-74-4h3l-1-8zm7 0h3l-1-3zm192 4h3l-1-4zm36 1h3l-1-7zm-88-1h3l-1-4zm128-5h3l-1-4zm-208 4h3l-1-4zm120-4h3l-1-5zm20 1h3l-1-6zm47 4h3l-1-7zm41-1h3l-1-10zm-226-5h3l-1-12zm246 7h3l-1-12zm-8-4h3l-1-3zm-191-1h3l-1-7zm52 2h3l-1-5zm79-1h3l-1-6zm58 1h3l-1-4zm-43 0h3l-1-5zm-107-2h3l-1-4zm21 4h3l-1-8zm102-3h3l-1-6zm-282-1h3l-1-4zm174 4h3l-1-9zm88-3h3l-1-11zm-22-3h3l-1-4zm115 7h3l-1-6zm-132-3h3l-1-3zm133-3h3l-1-4zm-255-1h3l-1-5zm-66 4h3l-1-7zm300 2h3l-1-3zm-246 0h3l-1-24zm107-5h3l-1-8zm-89 5h3l-1-4zm174-3h3l-1-5zm-248 0h3l-1-29zm325 2h3l-1-7zm-31-4h3l-1-3zm-309 0h3l-1-5zm198 6h3l-1-10zm-124-1h3l-1-3zm91-2h3l-1-18zm164 3h3l-1-10zm-324-3h3l-1-6zm168 0h3l-1-11zm-93 0h3l-1-16zm-87-3h3l-1-33zm-7 0h3l-1-15zm291 4h3l-1-12zm-163-4h3l-1-4zm95 0h3l-1-15zm-124 0h3l-1-2zm86-2h3l-1-2zm-23 2h3l-1-4zm44-1h3l-1-12zm109 6h3l-1-4zm-282-2h3l-1-5zm0-2h3l-1-16zm-20-1h3l-1-5zm6 0h3l-1-5zm120 2h3l-1-3zm140 1h3l-1-9zm-166-4h3l-1-5zm219 1h3l-1-3zm-116-1h3l-1-21zm-153 5h3l-1-5zm2 0h3l-1-7zm-3-4h3l-1-3zm280 1h3l-1-6zm-237 2h3l-1-3zm-96-5h3l-1-23zm329 2h3l-1-7zm-98-1h3l-1-18zm-217 3h3l-1-25zm54-2h3l-1-10zm-26-2h3l-1-36zm-39 2h3l-1-17zm73-1h3l-1-4zm106 2h3l-1-16zm-33 0h3l-1-12zm-68 0h3l-1-6zm183-2h3l-1-4zm-131 6h3l-1-5zm46 0h3l-1-2zm-147 0h3l-1-3zm131-6h3l-1-10zm180 5h3l-1-3zm-293-4h3l-1-10zm282-2h3l-1-18zm-40 1h3l-1-6zm-139 1h3l-1-12zm9-1h3l-1-15zm-155 6h3l-1-3zm123-5h3l-1-3zm35 4h3l-1-15zm-140 1h3l-1-3zm123-4h3l-1-10zm17 5h3l-1-7zm171-4h3l-1-1zm-54-1h3l-1-3zm-142-2h3l-1-5zm-32 6h3l-1-4zm16 0h3l-1-16zm230-1h3l-1-4zm-109-5h3l-1-10zm-9 5h3l-1-3zm-233-5h3l-1-5zm30 6h3l-1-8zm6-3h3l-1-12zm197 0h3l-1-5zm-26 1h3l-1-4zm136 1h3l-1-3zm-211-4h3l-1-11zm80 5h3l-1-12zm-216-1h3l-1-8zm96-5h3l-1-5zm-70 2h3l-1-9zm-25-1h3l-1-4zm168-2h3l-1-9zm-168 3h3l-1-3zm109 3h3l-1-7zm-65-1h3l-1-4zm274-1h3l-1-5zm-231-4h3l-1-24zm82 7h3l-1-3zm-166 0h3l-1-5zm75-5h3l-1-4zm-56 1h3l-1-6zm229 5h3l-1-13zm40-3h3l-1-3zm-262-2h3l-1-12zm65 2h3l-1-34zm95 2h3l-1-7zm40-1h3l-1-5zm-153-6h3l-1-6zm-2 6h3l-1-26zm127-3h3l-1-13zm115-1h3l-1-3zm-74 0h3l-1-8zm-191 4h3l-1-2zm94-6h3l-1-6zm-151 7h3l-1-11zm7-6h3l-1-3zm206 2h3l-1-6zm-212 2h3l-1-2zm55 0h3l-1-8zm221-3h3l-1-9zm-277 0h3l-1-2zm327-1h3l-1-5zm-350 0h3l-1-7zm127 1h3l-1-6zm-100 2h3l-1-8zm329-1h3l-1-9zm-150-3h3l-1-16zm94 1h3l-1-25zm-38 1h3l-1-17zm-93-1h3l-1-13zm-130 4h3l-1-6zm318 0h3l-1-3zm-325-3h3l-1-5zm27 1h3l-1-14zm55 1h3l-1-9zm-83-4h3l-1-5zm98 4h3l-1-2zm-22-4h3l-1-5zm220 6h3l-1-10zm-196-5h3l-1-9zm-17 6h3l-1-6zm79-1h3l-1-18zm-3 1h3l-1-3zm-49-7h3l-1-15zm-44 3h3l-1-3zm188 4h3l-1-10zm52-3h3l-1-4zm-54-3h3l-1-9zm-2 3h3l-1-5zm-158 3h3l-1-6zm72-5h3l-1-9zm-155 1h3l-1-18zm35-3h3l-1-7zm246 2h3l-1-6zm-69 2h3l-1-4zm-1 0h3l-1-17zm-168 2h3l-1-9zm190 0h3l-1-6zm-223-3h3l-1-10zm288 1h3l-1-2zm-340-4h3l-1-10zm171 3h3l-1-2zm-127 3h3l-1-3zm226 0h3l-1-13zm-154-4h3l-1-26zm-66 3h3l-1-7zm-5-3h3l-1-3zm250 5h3l-1-3zm-90-6h3l-1-11zm-73 0h3l-1-15zm206 3h3l-1-2zm-22 1h3l-1-12zm-248 0h3l-1-7zm231-3h3l-1-5zm-120 1h3l-1-4zm27 3h3l-1-4zm14-1h3l-1-11zm148-4h3l-1-3zm-345 6h3l-1-9zm171-6h3l-1-10zm-2 0h3l-1-7zm162 4h3l-1-4zm-202-1h3l-1-12zm158-4h3l-1-11zm-235 1h3l-1-3zm15 4h3l-1-7zm98-1h3l-1-2zm69 1h3l-1-20zm-201-5h3l-1-5zm262 1h3l-1-8zm-297 0h3l-1-4zm164-1h3l-1-4zm92 7h3l-1-3zm-17-5h3l-1-6zm-77 5h3l-1-2zm-157-1h3l-1-3zm224-6h3l-1-6zm-57 5h3l-1-10zm-120-3h3l-1-3zm189 5h3l-1-3zm-210-1h3l-1-5zm288-4h3l-1-5zm-288 2h3l-1-4zm260 1h3l-1-2zm-67-2h3l-1-15zm-216-3h3l-1-15zm333 3h3l-1-2zm-133 0h3l-1-5zm-162 1h3l-1-10zm50-1h3l-1-7zm-60 4h3l-1-12zm-40-6h3l-1-6zm260 3h3l-1-16zm-97-1h3l-1-3zm196 1h3l-1-7zm-234-2h3l-1-3zm-61 1h3l-1-26zm107 2h3l-1-3zm57 1h3l-1-18zm-3-4h3l-1-13zm106 4h3l-1-2zm-296-3h3l-1-4zm27 0h3l-1-3zm214 0h3l-1-5zm-60 3h3l-1-3zm66-3h3l-1-14zm53-1h3l-1-4zm-83 5h3l-1-9zm-135-5h3l-1-4zm-22 5h3l-1-22zm8 0h3l-1-4zm92-1h3l-1-20zm25-5h3l-1-3zm15 6h3l-1-35zm-139-3h3l-1-22zm165-2h3l-1-13zm-169 2h3l-1-8zm252-2h3l-1-14zm-210 0h3l-1-3zm-107 4h3l-1-6zm313-4h3l-1-5zm22 5h3l-1-6zm-122-6h3l-1-23zm71 0h3l-1-21zm-139 2h3l-1-21zm-14 1h3l-1-5zm-78-4h3l-1-3zm222 6h3l-1-9zm-251-5h3l-1-3zm307 2h3l-1-3zm-224 0h3l-1-10zm-48 1h3l-1-9zm-62 1h3l-1-12zm46-5h3l-1-4zm-51 0h3l-1-3zm315 3h3l-1-3zm-118 1h3l-1-3zm-49 0h3l-1-4zm-172-2h3l-1-4zm127-2h3l-1-19zm-87 4h3l-1-4zm182-1h3l-1-4zm75-2h3l-1-7zm43 2h3l-1-2zm-288-3h3l-1-10zm83 0h3l-1-5zm37 5h3l-1-5zm-145-5h3l-1-2zm31 0h3l-1-21zm164 3h3l-1-12zm-14 2h3l-1-14zm-115 0h3l-1-24zm33 0h3l-1-7zm55-5h3l-1-4zm159 6h3l-1-3zm-258-3h3l-1-5zm65 1h3l-1-12zm-50-1h3l-1-2zm-37 1h3l-1-3zm128-3h3l-1-5zm-176-1h3l-1-3zm348 2h3l-1-3zm-97 4h3l-1-11zm99 1h3l-1-5zm-284-3h3l-1-15zm279 3h3l-1-4zm-176-7h3l-1-4zm-117 1h3l-1-3zm-1 1h3l-1-3zm-1 2h3l-1-6zm124 1h3l-1-26zm112-4h3l-1-13zm-19 4h3l-1-14zm-13 0h3l-1-12zm-97-4h3l-1-7zm-51 7h3l-1-3zm232-3h3l-1-14zm-280-3h3l-1-22zm219 5h3l-1-3zm-6 0h3l-1-6zm-81 1h3l-1-5zm-114-8h3l-1-3zm-72 3h3l-1-3zm80 3h3l-1-4zm8 0h3l-1-9zm98-4h3l-1-8zm-10 1h3l-1-19zm136 0h3l-1-14zm-270-1h3l-1-6zm49 1h3l-1-8zm5 0h3l-1-3zm75-3h3l-1-5zm-99 4h3l-1-3zm-8-3h3l-1-3zm-53 0h3l-1-4zm251 0h3l-1-4zm-270 2h3l-1-19zm303 1h3l-1-2zm-5 0h3l-1-2zm-135 0h3l-1-3zm160 1h3l-1-5zm-315-4h3l-1-5zm250 6h3l-1-25zm-168-5h3l-1-4zm14-1h3l-1-19zm200 0h3l-1-17zm-48 4h3l-1-6zm14-4h3l-1-5zm-183 2h3l-1-22zm193 3h3l-1-29zm-67 0h3l-1-24zm40 2h3l-1-3zm-230-5h3l-1-6zm285 4h3l-1-13zm-295-5h3l-1-3zm264 4h3l-1-20zm-219 0h3l-1-6zm115-1h3l-1-3zm-75 0h3l-1-18zm-54 1h3l-1-6zm10-6h3l-1-4zm-41 6h3l-1-4zm166-6h3l-1-7zm23 1h3l-1-7zm91-1h3l-1-10zm-273 4h3l-1-15zm231 3h3l-1-3zm-260-7h3l-1-11zm93 5h3l-1-12zm128-1h3l-1-4zm-142-2h3l-1-3zm-78 2h3l-1-13zm278 3h3l-1-4zm-102-7h3l-1-10zm-93 5h3l-1-11zm233-2h3l-1-3zm-303 4h3l-1-5zm173-6h3l-1-7zm-96 3h3l-1-5zm-2 1h3l-1-3zm-73-2h3l-1-19zm93-1h3l-1-6zm-107 0h3l-1-7zm87 4h3l-1-10zm140 0h3l-1-15zm-113 1h3l-1-8zm-27-7h3l-1-8zm84 1h3l-1-3zm135 6h3l-1-3zm-60-1h3l-1-9zm-215-4h3l-1-3zm248-1h3l-1-12zm-119 2h3l-1-22zm-105-2h3l-1-7zm64 3h3l-1-9zm-125-4h3l-1-6zm272 4h3l-1-12zm-133 1h3l-1-16zm-113 1h3l-1-3zm-16-5h3l-1-4zm190 5h3l-1-12zm90-2h3l-1-2zm-20 0h3l-1-2zm-208 2h3l-1-4zm-68-5h3l-1-5zm212 3h3l-1-9zm-133 0h3l-1-3zm200 2h3l-1-4zm47-3h3l-1-8zm21 1h3l-1-7zm-260 2h3l-1-6zm257-6h3l-1-5zm-130 7h3l-1-7zm-60-2h3l-1-11zm65 0h3l-1-11zm-200 2h3l-1-2zm277-5h3l-1-20zm-61 1h3l-1-9zm98-3h3l-1-5zm-25 2h3l-1-6zm-92 1h3l-1-11zm157-2h3l-1-8zm-12 1h3l-1-7zm-133 1h3l-1-23zm-59-2h3l-1-24zm-108 1h3l-1-8zm268 1h3l-1-7zm-215-2h3l-1-13zm-70 6h3l-1-16zm221 1h3l-1-5zm88-8h3l-1-5zm-291 6h3l-1-8zm125 2h3l-1-4zm144-7h3l-1-2zm-29 3h3l-1-8zm-247 1h3l-1-3zm-37 2h3l-1-5zm92-2h3l-1-3zm-88 2h3l-1-7zm335-6h3l-1-4zm-25 3h3l-1-12zm-57 3h3l-1-3zm-169-3h3l-1-13zm23-1h3l-1-9zm-24 2h3l-1-4zm240 3h3l-1-6zm-33-3h3l-1-6zm-237-1h3l-1-5zm-59-1h3l-1-12zm13-1h3l-1-11zm229 5h3l-1-5zm-169-5h3l-1-11zm90 2h3l-1-13zm61 0h3l-1-3zm104 2h3l-1-4zm-69-1h3l-1-5zm-139 2h3l-1-18zm163-6h3l-1-6zm-69 0h3l-1-11zm27 0h3l-1-5zm61 5h3l-1-18zm-190-1h3l-1-3zm151 1h3l-1-6zm-222-6h3l-1-12zm127 6h3l-1-10zm-108-1h3l-1-6zm187 0h3l-1-6zm11-1h3l-1-3zm-156 1h3l-1-7zm-18-3h3l-1-7zm277 3h3l-1-14zm-61-3h3l-1-16zm-163 4h3l-1-4zm-96-4h3l-1-16zm79 5h3l-1-3zm-23-3h3l-1-9zm-67 1h3l-1-17zm263-5h3l-1-8zm-29 7h3l-1-4zm-61-6h3l-1-3zm-183 2h3l-1-2zm302 2h3l-1-2zm-133 1h3l-1-7zm145-1h3l-1-6zm-249 1h3l-1-4zm115 2h3l-1-3zm94-1h3l-1-3zm-284-5h3l-1-13zm167 1h3l-1-5zm-183 1h3l-1-7zm141-3h3l-1-3z"/><path fill="#bec507" d="M788 467h3l-1-57zm-45 4h3l-1-40z"/><path fill="#bec507" d="M844 467h2l-1-4zm-92-4h2l-1-4zm35 2h2l-1-4zm133 5h2l-1-4zm-107-5h2l-1-4zm-89 0h2l-1-4zm232 0h2l-1-4zm-317 0h2l-1-4zm169 3h2l-1-3zm104-1h2l-1-4zm-25 3h2l-1-4zm-49-1h2l-1-4zm132 1h2l-1-3zm-316-3h2l-1-3zm84-1h2l-1-4zm201 1h2l-1-4zm-52 1h2l-1-3zm49 3h2l-1-4zm-164-2h2l-1-3zm158-4h2l-1-3zm-132 3h2l-1-4zm-146 1h2l-1-4zm138-5h2l-1-4zm175 3h2l-1-4zm-222-1h2l-1-4zm166 2h2l-1-4zm42-3h2l-1-4zm-343-1h2l-1-4zm187 4h2l-1-4zm179 0h2l-1-4zm-252-4h2l-1-4zm131 0h2l-1-4zm1 7h2l-1-4zm-27-5h2l-1-3zm47 4h2l-1-4zm-8-3h2l-1-3zm32 1h2l-1-4zm73 3h2l-1-4zm-320-3h2l-1-4zm323 1h2l-1-4zm-335 0h2l-1-3zm46 0h2l-1-4zm276-2h2l-1-4zm-3-2h2l-1-4zm-248 2h2l-1-3zm211-2h2l-1-4zm-128 6h2l-1-4zm-142-4h2l-1-3zm54-3h2l-1-3zm69 0h2l-1-4zm62 3h2l-1-4zm-237-3h2l-1-4zm127 1h2l-1-3zm-87 3h2l-1-4zm74 2h2l-1-3zm9 0h2l-1-3zm-47-7h2l-1-4zm246 3h2l-1-3zm-48 3h2l-1-4zm-225 0h2l-1-4zm18-1h2l-1-4zm123-4h2l-1-4zm-101 4h2l-1-4zm169-3h2l-1-4zm-10-1h2l-1-4zm-132 3h2l-1-4zm-101-2h2l-1-4zm360 3h2l-1-4zm-333 1h2l-1-4zm336 2h2l-1-4zm-241-2h2l-1-4zm-64-1h2l-1-3zm221 3h2l-1-3zm-226-6h2l-1-4zm206 4h2l-1-3zm-198 1h2l-1-4zm-14-1h2l-1-4zm136-6h2l-1-4zm23 1h2l-1-4zm-25 0h2l-1-4zm-78 1h2l-1-4zm-106 0h2l-1-4zm-7-2h2l-1-4zm82 6h2l-1-4zm127 1h2l-1-4zm94-5h2l-1-4zm53 0h2l-1-4zm-32 2h2l-1-4zm-308 3h2l-1-4zm323 2h2l-1-3zm-32-3h2l-1-4zm-13-4h2l-1-3zm-21 5h2l-1-4zm-202-1h2l-1-3zm187-1h2l-1-4zm-145 0h2l-1-4zm86 1h2l-1-4zm146 0h2l-1-3zm-340-1h2l-1-4z"/><path fill="#d9c400" d="M868 467h2l-1-6zm-112 3h2l-1-4zm138-6h2l-1-6zm6 1h2l-1-5zm-281 3h2l-1-5zm47 0h2l-1-5zm32-1h2l-1-5zm179-1h2l-1-6zm-227-4h2l-1-6zm217 1h2l-1-5zm-230 6h2l-1-6zm168 0h2l-1-5zm58 1h2l-1-5zm-49-5h2l-1-6zm91 4h2l-1-5zm67-2h2l-1-5zm-362-2h2l-1-6zm93 3h2l-1-5zm70-1h2l-1-6zm-132-1h2l-1-5zm211 1h2l-1-6zm-175-3h2l-1-4zm20 1h2l-1-5zm258 4h2l-1-6zm-26-4h2l-1-5zm-211-1h2l-1-6zm196 2h2l-1-5zm-281 4h2l-1-5zm243-7h2l-1-6zm-40 2h2l-1-4zm-158 3h2l-1-6zm70-5h2l-1-5zm-22 6h2l-1-6zm113-3h2l-1-5zm15-3h2l-1-6zm-142 2h2l-1-6zm196 0h2l-1-5zm-82 1h2l-1-5zm63-2h2l-1-6zm-175 4h2l-1-5zm219-3h2l-1-6zm-225-1h2l-1-6zm123 4h2l-1-4zm73-4h2l-1-6zm-285 2h2l-1-5zm296 2h2l-1-6zm-180-2h2l-1-4zm61 3h2l-1-5zm-7 1h2l-1-6zm22-6h2l-1-5zm21 6h2l-1-6zm131 0h2l-1-6zm-156-3h2l-1-6zm91 1h2l-1-5zm-201-4h2l-1-6zm94-1h2l-1-6zm-113 1h2l-1-6zm98 1h2l-1-6zm97-2h2l-1-6zm-211 6h2l-1-5zm-34 0h2l-1-5zm25-3h2l-1-5zm143-3h2l-1-5zm-59 6h2l-1-4zm80 1h2l-1-4zm54-5h2l-1-5zm-193 3h2l-1-5zm221-3h2l-1-5zm-273 2h2l-1-5zm330-2h2l-1-5zm-242 2h2l-1-5zm212 1h2l-1-6zm-195-5h2l-1-5zm154 5h2l-1-6zm-2-4h2l-1-6zm-89 0h2l-1-5zm-111 4h2l-1-6zm-34-2h2l-1-6zm-51-4h2l-1-6zm204 1h2l-1-6zm-181 7h2l-1-5zm171-7h2l-1-6zm116-1h2l-1-7zm7 2h2l-1-5zm-125 3h2l-1-6zm-125-1h2l-1-6zm201 3h2l-1-5zm-160-3h2l-1-5zm210 2h2l-1-6zm-167-3h2l-1-6zm-48 1h2l-1-5zm206-2h2l-1-4zm-245-2h2l-1-6zm211 6h2l-1-7zm-94-4h2l-1-4zm-65 4h2l-1-5zm98-3h2l-1-5zm-95 1h2l-1-5zm193-4h2l-1-6zm-124 1h2l-1-6zm-89 5h2l-1-6zm28 2h2l-1-5zm-27-7h2l-1-5zm159 5h2l-1-5zm-191-4h2l-1-4zm64 3h2l-1-5zm80-1h2l-1-6zm114 0h2l-1-5zm22 1h2l-1-4zm-193-1h2l-1-6zm81-1h2l-1-5zm-19 0h2l-1-6zm156-1h2l-1-5zm-311 1h2l-1-5zm1 4h2l-1-5zm239-2h2l-1-5zm-173-2h2l-1-5zm101-2h2l-1-6zm-45 5h2l-1-6zm-85-3h2l-1-4zm13 2h2l-1-5zm197-4h2l-1-5z"/><path fill="#ecc005" d="M799 467h2l-1-7zm-180-5h2l-1-7zm200 5h2l-1-7zm-153-1h2l-1-7zm216 0h2l-1-7zm-137-2h2l-1-7zm-31-2h2l-1-7zm232 3h2l-1-7zm-114 1h2l-1-8zm-30-3h2l-1-7zm-136 2h2l-1-8zm-8 1h2l-1-7zm60 3h2l-1-7zm-53-8h2l-1-8zm244 7h2l-1-8zm-91 1h2l-1-7zm149-7h2l-1-8zm-328 3h2l-1-7zm60-4h2l-1-8zm-35 3h2l-1-8zm32 2h2l-1-7zm-1 2h2l-1-7zm104-4h2l-1-7zm2 2h2l-1-8zm-49-4h2l-1-8zm33 3h2l-1-9zm-25-2h2l-1-7zm-67 5h2l-1-8zm47-6h2l-1-8zm168 6h2l-1-8zm-215-1h2l-1-9zm-4-5h2l-1-7zm246 7h2l-1-7zm-57-3h2l-1-7zm32 1h2l-1-7zm-85-5h2l-1-7zm-47 2h2l-1-7zm4-1h2l-1-7zm-114 2h2l-1-7zm96-1h2l-1-7zm80 4h2l-1-7zm36 1h2l-1-8zm-222-4h2l-1-7zm172-1h2l-1-8zm-208 4h2l-1-7zm147-6h2l-1-8zm-111 2h2l-1-9zm209 3h2l-1-8zm47-1h2l-1-7zm-96 1h2l-1-7zm-68-2h2l-1-7zm-95 3h2l-1-7zm185-5h2l-1-8zm57 0h2l-1-8zm-22 0h2l-1-8zm83 0h2l-1-8zm-319 3h2l-1-7zm193-2h2l-1-7zm-14 1h2l-1-8zm-61 0h2l-1-7zm151-3h2l-1-8zm-20 4h2l-1-8zm-12 0h2l-1-7zm83-1h2l-1-9zm-21-2h2l-1-9zm-12 5h2l-1-8zm-318-6h2l-1-7zm93 4h2l-1-7zm-92-2h2l-1-8zm84 3h2l-1-7zm196-5h2l-1-7zm-13 3h2l-1-7zm-71 3h2l-1-7zm12-1h2l-1-7zm-104-5h2l-1-8zm217 3h2l-1-7zm-225 0h2l-1-8zm-90-1h2l-1-7zm12 0h2l-1-7zm61 0h2l-1-7zm89 1h2l-1-8zm-122-4h2l-1-7zm320 5h2l-1-8zm-351-3h2l-1-8z"/><path fill="#f9bb11" d="M792 464h2l-1-10zm112 2h2l-1-9zm-283-4h2l-1-10zm144 4h2l-1-9zm44 0h2l-1-9zm-107-4h2l-1-10zm175-2h2l-1-10zm85 1h2l-1-9zm-298 4h2l-1-11zm166-5h2l-1-10zm40-1h2l-1-11zm14 7h2l-1-9zm-103-2h2l-1-9zm-43-1h2l-1-9zm114-2h2l-1-9zm-139 3h2l-1-10zm-93-2h2l-1-9zm222 0h2l-1-9zm-189 0h2l-1-10zm-21-1h2l-1-10zm178 1h2l-1-9zm-19-1h2l-1-9zm3 5h2l-1-9zm-42 1h2l-1-10zm53-7h2l-1-10zm56 2h2l-1-10zm-69 3h2l-1-11zm-52-5h2l-1-9zm-100 2h2l-1-11zm210 1h2l-1-10zm-120-2h2l-1-9zm112 2h2l-1-9zm-215-3h2l-1-9zm247 3h2l-1-10zm-31 2h2l-1-11zm-155-1h2l-1-9zm234-4h2l-1-10zm-285 4h2l-1-9zm201 2h2l-1-9zm-94-1h2l-1-9zm-102 1h2l-1-10zm93 0h2l-1-11zm181-1h2l-1-11zm-1-4h2l-1-9zm-259 1h2l-1-9zm-11 2h2l-1-10z"/><path fill="#fdb925" d="M629 465h2l-1-11zm46-5h2l-1-11zm194 1h2l-1-13zm65 4h2l-1-11zm-229-4h2l-1-12zm219 4h2l-1-12zm-188-4h2l-1-12zm42-2h2l-1-11zm-120 5h2l-1-12zm140 0h2l-1-11zm38-6h2l-1-12zm23 2h2l-1-11zm101-1h2l-1-11zm-105 4h2l-1-12zm-45 1h2l-1-12zm116-6h2l-1-13zm-140 3h2l-1-12zm-49-2h2l-1-11zm-69-2h2l-1-13zm12 3h2l-1-13zm121 1h2l-1-12zm-183 1h2l-1-11zm103-2h2l-1-11zm-16 0h2l-1-13zm190 3h2l-1-12zm-179 0h2l-1-11zm-91-2h2l-1-11zm270-1h2l-1-12z"/><path fill="#fec11a" d="M630 461h2l-1-14zm302-7h2l-1-20zm-77 5h2l-1-15zm-188-4h2l-1-17zm212 3h2l-1-16zm-62 4h2l-1-13zm-113 2h2l-1-14zm52-2h2l-1-14zm51-3h2l-1-17zm-95 0h2l-1-13zm-22 1h2l-1-16zm172 1h2l-1-15zm-168-3h2l-1-17zm206 0h2l-1-22zm-251-3h2l-1-16zm158 5h2l-1-14zm-71-3h2l-1-21zm57 1h2l-1-15zm120 0h2l-1-15zm-93 4h2l-1-13zm-198-4h2l-1-20zm266 1h2l-1-18zm-184 0h2l-1-20zm53 0h2l-1-15zm64-3h2l-1-19zm40 6h2l-1-15zm-106-3h2l-1-14zm153 1h2l-1-13zm-203 3h2l-1-14zm-56-4h2l-1-17zm-23-5h2l-1-20zm3 3h2l-1-14zm14 3h2l-1-15zm28-8h2l-1-21zm45 4h2l-1-15zm72-12h2l-1-34zm-66 14h2l-1-20zm-20 3h2l-1-16zm42-6h2l-1-24zm156 2h2l-1-15zm-186 1h2l-1-15zm-36 1h2l-1-15zm32 5h2l-1-13zm140-5h2l-1-21zm-139 3h2l-1-13zm143-4h2l-1-14zm-151 4h2l-1-14zm92-2h2l-1-16zm81 3h2l-1-15zm22-2h2l-1-17zm-67 1h2l-1-15zm-60-2h2l-1-13zm56-1h2l-1-14zm-60-2h2l-1-15z"/><path fill="#a1c824" d="M733 477h3l-1-12zm84 2h3l-1-5zm65-1h3l-1-28zm-165 1h3l-1-7zm-86-3h3l-1-9zm120 3h3l-1-5zm140 1h3l-1-10zm-213-5h3l-1-4zm89-1h3l-1-11zm201 2h3l-1-7zm-228-2h3l-1-9zm-96 0h3l-1-39zm301 2h3l-1-7zm-294 3h3l-1-6zm196-3h3l-1-14zm107 0h3l-1-2zm-55 2h3l-1-21zm-251 0h3l-1-12zm178 0h3l-1-10zm107-2h3l-1-5zm-45 5h3l-1-8zm-178 0h3l-1-12zm91-1h3l-1-4zm-131 0h3l-1-9zm4 0h3l-1-7zm-11-4h3l-1-15zm239-2h3l-1-8zm-253 3h3l-1-4zm-7 2h3l-1-7zm17 0h3l-1-9zm117-5h3l-1-5zm3 6h3l-1-6zm138-4h3l-1-4zm-124 2h3l-1-16zm30 2h3l-1-9zm41 1h3l-1-8zm74 0h3l-1-23zm-289-5h3l-1-6zm285 1h3l-1-13zm-284 1h3l-1-3zm65-3h3l-1-7zm13 6h3l-1-10zm-79-7h3l-1-22zm3 2h3l-1-17zm164 0h3l-1-21zm-60 0h3l-1-5zm171-1h3l-1-4zm-193 0h3l-1-15zm65-1h3l-1-4zm94 1h3l-1-6zm-78 0h3l-1-3zm-121 6h3l-1-11zm102-4h3l-1-18zm39-1h3l-1-17zm17 5h3l-1-6zm-110-2h3l-1-13zm-48 2h3l-1-13zm255-1h3l-1-23zm5-2h3l-1-5zm-26-3h3l-1-3zm-7 5h3l-1-3zm-153 0h3l-1-10zm9-2h3l-1-2zm149-3h3l-1-3zm-268 3h3l-1-14zm53-3h3l-1-9zm-17 3h3l-1-2zm57-4h3l-1-6zm-84 5h3l-1-6zm150 1h3l-1-6zm-163-6h3l-1-4zm240 1h3l-1-6zm-92 4h3l-1-9zm-131-2h3l-1-13zm219 4h3l-1-4zm-107-2h3l-1-7zm-131 0h3l-1-6zm9-1h3l-1-3zm194 2h3l-1-5zm44 1h3l-1-5zm-90-2h3l-1-9zm70-5h3l-1-10zm-170 1h3l-1-28zm-74 4h3l-1-3zm92-5h3l-1-16zm217 2h3l-1-7zm-76-2h3l-1-8zm-48 4h3l-1-4zm-64-4h3l-1-20zm24 7h3l-1-5zm-136-1h3l-1-6zm59-4h3l-1-9zm214 3h3l-1-27zm-181-1h3l-1-6zm-21 1h3l-1-5zm47 0h3l-1-8zm48 0h3l-1-13zm121 2h3l-1-4zm-80-3h3l-1-7zm41-1h3l-1-6zm-255 2h3l-1-7zm86 0h3l-1-11zm118 1h3l-1-5zm107-1h3l-1-3zm-149-3h3l-1-6zm-116-1h3l-1-15zm285 2h3l-1-3zm-210-2h3l-1-6zm53 4h3l-1-2zm128 1h3l-1-5zm-98 0h3l-1-7zm-81 0h3l-1-5zm149-2h3l-1-16zm-256 0h3l-1-6zm55 2h3l-1-3zm30-4h3l-1-9zm138 1h3l-1-24zm-231-1h3l-1-5zm235 0h3l-1-11zm-171 5h3l-1-8zm171-1h3l-1-10zm-160-4h3l-1-6zm170 2h3l-1-10zm4 2h3l-1-2zm-12-3h3l-1-10zm-244 1h3l-1-5zm52 3h3l-1-10zm226-5h3l-1-3zm-284 1h3l-1-5zm60 1h3l-1-4zm104 0h3l-1-32zm129-4h3l-1-7zm-142 7h3l-1-3zm134-3h3l-1-8zm12 2h3l-1-9zm-262-6h3l-1-6zm173 6h3l-1-3zm-200 1h3l-1-2zm-1-5h3l-1-25zm123 4h3l-1-6zm-124-1h3l-1-2zm163-1h3l-1-3zm131 2h3l-1-5zm-41-2h3l-1-10zm-117 2h3l-1-6zm22 1h3l-1-8zm-57-5h3l-1-2zm188 0h3l-1-9zm-191 4h3l-1-3zm215-6h3l-1-7zm-84 2h3l-1-3zm-13 1h3l-1-30zm-33 0h3l-1-9zm-63 4h3l-1-9zm-87-1h3l-1-6zm60-6h3l-1-9zm185 3h3l-1-3zm-257-1h3l-1-15zm239-2h3l-1-22zm-234 1h3l-1-9zm199 2h3l-1-20zm-123 4h3l-1-3zm83-2h3l-1-5zm-21-2h3l-1-13zm6 3h3l-1-3zm75 1h3l-1-6zm-153-7h3l-1-4zm171 1h3l-1-3zm-200 1h3l-1-5zm178 2h3l-1-3zm-199 0h3l-1-4zm32 3h3l-1-6zm9-4h3l-1-9zm-53-1h3l-1-17zm268 2h3l-1-9zm-108 0h3l-1-37zm-75 2h3l-1-6zm161 0h3l-1-10zm-103-2h3l-1-6zm-14 2h3l-1-17zm-87-6h3l-1-6zm186 2h3l-1-21zm-259-1h3l-1-5zm49 5h3l-1-6zm175-5h3l-1-4zm89 1h3l-1-7zm-9 1h3l-1-12zm-185-2h3l-1-35zm-89 1h3l-1-8zm1 4h3l-1-9zm268-3h3l-1-17zm-206 1h3l-1-4zm17 1h3l-1-31zm54 0h3l-1-7zm-62 0h3l-1-5zm40-2h3l-1-39zm178 0h3l-1-4zm-235-2h3l-1-2zm137 2h3l-1-5zm3-1h3l-1-3zm-180 2h3l-1-14zm106-1h3l-1-8zm-81 0h3l-1-8zm256-3h3l-1-10zm-196 5h3l-1-9zm-133-2h3l-1-3zm105 0h3l-1-5zm27-1h3l-1-6zm-23 3h3l-1-5zm221-4h3l-1-3zm-248 6h3l-1-3zm73-2h3l-1-13zm-88 1h3l-1-27zm160-4h3l-1-8zm-232-1h3l-1-3zm1 2h3l-1-19zm-8-3h3l-1-8zm231 2h3l-1-3zm90-1h3l-1-13zm-127 4h3l-1-4zm-5 1h3l-1-3zm-94-1h3l-1-7zm173 0h3l-1-17zm-221-3h3l-1-14zm78 5h3l-1-6zm203-1h3l-1-7zm-135-4h3l-1-10zm-85 4h3l-1-12zm156 1h3l-1-11zm-125 0h3l-1-3zm110 0h3l-1-18zm25-5h3l-1-11zm-25 0h3l-1-4zm-154 4h3l-1-5zm188 2h3l-1-24zm-259-7h3l-1-34zm220 6h3l-1-10zm-88-1h3l-1-4zm112-3h3l-1-14zm-85 0h3l-1-3zm-29-3h3l-1-29zm-79 6h3l-1-14zm115-3h3l-1-14zm-20-1h3l-1-11zm-139 2h3l-1-3zm82 2h3l-1-10zm178-2h3l-1-7zm-40 2h3l-1-10zm-238-5h3l-1-4zm308 1h3l-1-5zm-162 1h3l-1-2zm3-2h3l-1-6zm15-1h3l-1-3zm-106 2h3l-1-19zm152 5h3l-1-10zm-208-4h3l-1-3zm38 0h3l-1-4zm219-1h3l-1-5zm-208 1h3l-1-17zm179-1h3l-1-11zm-223-2h3l-1-2zm81 1h3l-1-21zm76 2h3l-1-9zm-133-3h3l-1-5zm97 5h3l-1-5zm99-3h3l-1-14zm-24 3h3l-1-9zm16-5h3l-1-2zm10 6h3l-1-2zm-55 1h3l-1-10zm125-5h3l-1-7zm-112 4h3l-1-5zm83-6h3l-1-11zm-229 0h3l-1-23zm25 1h3l-1-10zm24-1h3l-1-11zm-76 2h3l-1-14zm148 1h3l-1-21zm50-3h3l-1-4zm-168 2h3l-1-4zm184 4h3l-1-8zm-108 0h3l-1-3zm-15-4h3l-1-6zm209 0h3l-1-4zm-251-2h3l-1-18zm151 0h3l-1-12zm47 4h3l-1-23zm66-4h3l-1-2zm-79 6h3l-1-4zm-77-4h3l-1-14zm137 1h3l-1-4zm-272 2h3l-1-26zm199 0h3l-1-3zm38 1h3l-1-25zm-188-3h3l-1-7zm140 0h3l-1-3zm117-2h3l-1-5zm-218 3h3l-1-7zm138-3h3l-1-3zm-85 0h3l-1-10zm114 0h3l-1-5zm35 0h3l-1-4zm-307 5h3l-1-15zm184-2h3l-1-5zm15-3h3l-1-9zm-49 0h3l-1-9zm-48 0h3l-1-8zm-87 6h3l-1-3zm245-3h3l-1-10zm-146 2h3l-1-33zm-23-3h3l-1-3zm148 2h3l-1-8zm-201 1h3l-1-4zm2-2h3l-1-10zm193-2h3l-1-5zm75-1h3l-1-7zm-226 1h3l-1-16zm-102 1h3l-1-10zm249 2h3l-1-19zm-239-4h3l-1-6zm225 3h3l-1-16zm51 3h3l-1-18zm-250-3h3l-1-31zm52 1h3l-1-3zm79 0h3l-1-2zm162-3h3l-1-6zm-201 2h3l-1-10zm27-2h3l-1-11zm-98 1h3l-1-31zm-36 0h3l-1-20zm4 0h3l-1-2zm88 4h3l-1-5zm87-4h3l-1-4zm3 0h3l-1-16zm4-2h3l-1-6zm-61 0h3l-1-5zm132 6h3l-1-8zm67-6h3l-1-4zm-148 5h3l-1-4zm-166-2h3l-1-14zm196 3h3l-1-26zm-202-7h3l-1-5zm-26 1h3l-1-3zm4-1h3l-1-2zm134 1h3l-1-7zm175 5h3l-1-2zm-70-1h3l-1-17zm88-2h3l-1-8zm-150-1h3l-1-9zm91 4h3l-1-23zm-70 1h3l-1-17zm35 0h3l-1-19zm-212 0h3l-1-18zm238 0h3l-1-3zm63-6h3l-1-3zm-184 0h3l-1-3zm69 4h3l-1-4zm-168-3h3l-1-7zm-30 4h3l-1-15zm-5-2h3l-1-14zm124 0h3l-1-24zm157 2h3l-1-3zm11-3h3l-1-4zm-184-2h3l-1-2zm121 4h3l-1-14zm-233-1h3l-1-5zm205-2h3l-1-3zm-205-1h3l-1-3zm19 6h3l-1-5zm253-1h3l-1-12zm14 0h3l-1-4zm-144-3h3l-1-12zm45 4h3l-1-5zm-53-6h3l-1-17zm-59-1h3l-1-3zm-49 6h3l-1-2zm132-4h3l-1-24zm71-1h3l-1-3zm-46 3h3l-1-20zm-16 0h3l-1-30zm167-1h3l-1-3zm-97 3h3l-1-4zm-145 1h3l-1-6zm18-7h3l-1-11zm15 3h3l-1-7zm-101 1h3l-1-5zm160 1h3l-1-2zm-100-2h3l-1-6zm58 0h3l-1-7zm-48-3h3l-1-8zm98 4h3l-1-2zm-169 2h3l-1-4zm264-1h3l-1-9zm-224-5h3l-1-2zm120 3h3l-1-5zm23-1h3l-1-3zm-135-1h3l-1-4zm35 1h3l-1-32zm189 5h3l-1-7zm-109-2h3l-1-4zm-116-5h3l-1-20zm3 4h3l-1-3zm-72-4h3l-1-8zm283 5h3l-1-14zm-145 0h3l-1-3zm21 0h3l-1-11zm-167-6h3l-1-8zm109 8h3l-1-7zm82-5h3l-1-6zm-155 1h3l-1-4zm90 1h3l-1-4zm-117-1h3l-1-6zm-13 0h3l-1-20zm1 0h3l-1-8zm36 1h3l-1-6zm35 3h3l-1-4zm265-5h3l-1-15zm-76-1h3l-1-19zm-219 2h3l-1-4zm88 3h3l-1-7zm187-2h3l-1-2zm-252-4h3l-1-17zm60 0h3l-1-8zm183 0h3l-1-6zm14 2h3l-1-10zm-122-1h3l-1-12zm68 0h3l-1-5zm-135 0h3l-1-4zm-84 5h3l-1-10zm213-3h3l-1-34zm-40 4h3l-1-4zm33-2h3l-1-11zm-162-4h3l-1-28zm-63 0h3l-1-2zm123-1h3l-1-7zm-148 4h3l-1-4zm266 2h3l-1-31zm62-2h3l-1-3zm-218 0h3l-1-11zm86 0h3l-1-10zm55 0h3l-1-12zm-165 1h3l-1-6zm6 1h3l-1-4zm222-2h3l-1-15zm-37-4h3l-1-21zm-167 6h3l-1-4zm-113-5h3l-1-7zm211 0h3l-1-15zm36 4h3l-1-5zm-173 0h3l-1-5zm115-4h3l-1-4zm-145 2h3l-1-10zm176 2h3l-1-14zm28-4h3l-1-3zm-176 1h3l-1-9zm118 4h3l-1-14zm-33-6h3l-1-7zm103 2h3l-1-7zm-235 1h3l-1-11zm23-2h3l-1-20zm38 6h3l-1-22zm241-2h3l-1-7zm-297 0h3l-1-8zm67 1h3l-1-3zm116-2h3l-1-5zm133-3h3l-1-6zm-105 0h3l-1-8zm-199 4h3l-1-8zm56 1h3l-1-4zm72-4h3l-1-3zm33 3h3l-1-12zm-75 0h3l-1-10zm-26-2h3l-1-11zm205-2h3l-1-6zm-277 4h3l-1-4zm11 0h3l-1-12zm301-3h3l-1-6zm-282 1h3l-1-6zm-59 0h3l-1-12zm253 4h3l-1-28zm-155-3h3l-1-5zm64 3h3l-1-11zm-48-7h3l-1-20zm126 1h3l-1-3zm-34 4h3l-1-4zm42-1h3l-1-23zm33 0h3l-1-3zm32-4h3l-1-3zm-234 4h3l-1-6zm20-1h3l-1-3zm-91-1h3l-1-3zm205 3h3l-1-10zm72-3h3l-1-18zm-152 0h3l-1-7zm-48-1h3l-1-3zm80 1h3l-1-5zm-9 1h3l-1-2zm-68-3h3l-1-4zm229 4h3l-1-4zm-137-2h3l-1-8zm-132-1h3l-1-10zm-5 6h3l-1-13zm196-1h3l-1-4zm-151-2h3l-1-5zm137-3h3l-1-22zm-161 4h3l-1-9zm-28 1h3l-1-5zm-12-2h3l-1-7zm152 2h3l-1-9zm59 0h3l-1-4zm-85-6h3l-1-3zm-100 3h3l-1-8zm265 0h3l-1-22zm-85 1h3l-1-4zm-36-3h3l-1-9zm69 4h3l-1-12zm-133 2h3l-1-6zm-77-1h3l-1-14zm165-3h3l-1-19zm-22 0h3l-1-4zm-169-2h3l-1-2zm85 0h3l-1-14zm224 3h3l-1-4zm-87 3h3l-1-5zm-242-6h3l-1-5zm206 1h3l-1-3zm-119 5h3l-1-4zm22-3h3l-1-7zm74 1h3l-1-6zm147-4h3l-1-7zm-164 5h3l-1-23zm-87-1h3l-1-4zm21-1h3l-1-10zm41 3h3l-1-16zm-75-2h3l-1-18zm-66-4h3l-1-12zm261 6h3l-1-7zm-12-3h3l-1-10zm-66 2h3l-1-7zm6 0h3l-1-9zm-149-3h3l-1-4zm158 0h3l-1-12zm-129 0h3l-1-5zm-39-1h3l-1-6zm146 2h3l-1-3zm-65-1h3l-1-19zm113-3h3l-1-3zm-19 6h3l-1-4zm-87 0h3l-1-5zm65 1h3l-1-10zm-76 0h3l-1-7zm42-1h3l-1-12zm89-1h3l-1-3zm41 1h3l-1-11zm-226-6h3l-1-3zm47 0h3l-1-8zm172 2h3l-1-6zm-173 3h3l-1-3zm25 2h3l-1-19zm-38 0h3l-1-18zm142-3h3l-1-10zm-8-4h3l-1-5zm-215 4h3l-1-3zm325-4h3l-1-19zm-11 6h3l-1-13zm-80-4h3l-1-25zm-96 4h3l-1-21zm-43-4h3l-1-4zm89-1h3l-1-3zm-106-1h3l-1-15zm22 2h3l-1-33zm-108-1h3l-1-6zm286 4h3l-1-9zm-19-4h3l-1-5zm-86 3h3l-1-4zm-108-2h3l-1-11zm197 5h3l-1-4zm-245-4h3l-1-6zm236 1h3l-1-18zm-160 1h3l-1-13zm7 0h3l-1-16zm98-4h3l-1-3zm-124 1h3l-1-5zm203 5h3l-1-8zm-23-3h3l-1-4zm-41 2h3l-1-10zm-62-3h3l-1-3zm-93 0h3l-1-7zm33 2h3l-1-4zm6 1h3l-1-4zm-4-1h3l-1-14zm55-3h3l-1-35zm-29 4h3l-1-3zm-30-6h3l-1-10zm211 5h3l-1-20zm-133 2h3l-1-4zm155-6h3l-1-6zm-15 3h3l-1-2zm-195 0h3l-1-10zm74 1h3l-1-5zm-131 0h3l-1-5zm132 0h3l-1-3zm9 2h3l-1-9zm24-1h3l-1-5zm-215-5h3l-1-10zm166 2h3l-1-7zm35-1h3l-1-2zm-219-1h3l-1-3zm208 4h3l-1-6zm-77 2h3l-1-13zm26-4h3l-1-6zm-161-2h3l-1-8zm69 5h3l-1-26zm166-1h3l-1-10zm-125-2h3l-1-10zm-70-1h3l-1-4zm219 2h3l-1-7zm-19-2h3l-1-3zm113-1h3l-1-11zm-269 3h3l-1-11zm-44 3h3l-1-3zm108-6h3l-1-6zm158 1h3l-1-7zm-311-1h3l-1-5zm44 4h3l-1-13zm185-2h3l-1-22zm42 2h3l-1-4zm-174-5h3l-1-15zm-50 3h3l-1-4zm-32 1h3l-1-9zm45-1h3l-1-7zm67 2h3l-1-4zm179 2h3l-1-7zm24-1h3l-1-4zm-177-6h3l-1-12zm40 4h3l-1-3zm-43-1h3l-1-3zm81 1h3l-1-8zm-194 0h3l-1-4zm201 2h3l-1-11zm39 1h3l-1-9zm29-3h3l-1-3zm-298-1h3l-1-8zm287 3h3l-1-13zm51-4h3l-1-2zm-46 0h3l-1-3zm-273 3h3l-1-5zm302 1h3l-1-5zm-298 1h3l-1-7zm93-2h3l-1-5zm92-1h3l-1-10zm14 0h3l-1-15zm-122-3h3l-1-5zm141 3h3l-1-5zm-21-2h3l-1-8zm-92-1h3l-1-3zm-35 6h3l-1-11zm50-5h3l-1-6zm-18 2h3l-1-3zm18 0h3l-1-15zm9 1h3l-1-5zm-69-5h3l-1-2zm-7 3h3l-1-5zm-59-3h3l-1-4zm-15 3h3l-1-4zm192-1h3l-1-24zm93 4h3l-1-15zm-78-5h3l-1-5zm-212-1h3l-1-18zm236 3h3l-1-16zm-66 2h3l-1-20zm147-5h3l-1-8zm-237 0h3l-1-6zm223 4h3l-1-15zm-15-3h3l-1-4zm-81 0h3l-1-5zm-119 5h3l-1-14zm225-2h3l-1-19zm-183 0h3l-1-5zm38-1h3l-1-8zm-160-3h3l-1-4zm197 5h3l-1-13zm-170-1h3l-1-8zm91-3h3l-1-8zm13 4h3l-1-5zm-36-1h3l-1-6zm38-3h3l-1-13zm129 0h3l-1-5zm10 2h3l-1-6zm-110 1h3l-1-10zm130 1h3l-1-4zm-152-2h3l-1-9zm77-2h3l-1-7zm37 4h3l-1-17zm11-1h3l-1-3zm-89 2h3l-1-18zm22-3h3l-1-8zm-141 0h3l-1-24zm166-2h3l-1-15zm-101 4h3l-1-9zm182-4h3l-1-21zm0 1h3l-1-11zm-73 4h3l-1-18zm-216-3h3l-1-9zm312-2h3l-1-12zm-72 6h3l-1-11zm-134 0h3l-1-3zm191-1h3l-1-4zm-150-5h3l-1-24zm-36 4h3l-1-16zm-3 2h3l-1-3zm121-1h3l-1-6zm-79 1h3l-1-12zm40-6h3l-1-4zm99 1h3l-1-6zm-128 0h3l-1-2zm114-2h3l-1-3zm44 1h3l-1-3zm-295 5h3l-1-4zm215-3h3l-1-16zm-65-2h3l-1-3zm20-1h3l-1-16zm89 2h3l-1-16zm-20 2h3l-1-9zm27-2h3l-1-15zm-266 0h3l-1-12zm66 5h3l-1-13zm149-7h3l-1-4zm-44 6h3l-1-18zm42-4h3l-1-6zm5-1h3l-1-4zm-93 6h3l-1-8z"/><path fill="#bec507" d="M792 481h3l-1-43zm-137-4h3l-1-40zm255 2h3l-1-42z"/><path fill="#bec507" d="M717 476h2l-1-4zm251-3h2l-1-4zm-316 4h2l-1-4zm22 1h2l-1-4zm-32-2h2l-1-4zm138 2h2l-1-3zm-131-5h2l-1-4zm245 0h2l-1-4zm-41 6h2l-1-3zm-101-7h2l-1-3zm-85 4h2l-1-3zm151 2h2l-1-4zm76-5h2l-1-3zm-111 4h2l-1-4zm-130-1h2l-1-3zm292-3h2l-1-4zm-300 4h2l-1-4zm91-2h2l-1-4zm116 0h2l-1-4zm41 0h2l-1-4zm-256 2h2l-1-4zm162-4h2l-1-4zm-40 0h2l-1-4zm83 4h2l-1-4zm-188-2h2l-1-4zm67-1h2l-1-3zm204-2h2l-1-4zm-257 0h2l-1-4zm94 5h2l-1-4zm12 1h2l-1-4zm178-6h2l-1-4zm-281 5h2l-1-4zm213 1h2l-1-4zm-171 0h2l-1-4zm41-1h2l-1-4zm58-2h2l-1-4zm-101-4h2l-1-4zm-24 6h2l-1-4zm264-3h2l-1-4zm-150 2h2l-1-4zm-34-3h2l-1-4zm-49 3h2l-1-4zm30 2h2l-1-4zm203 0h2l-1-4zm-38-3h2l-1-4zm-128-3h2l-1-3zm-64 2h2l-1-4zm39 1h2l-1-4zm-115-3h2l-1-4zm318 2h2l-1-4zm-121-1h2l-1-4zm-70-1h2l-1-4zm-42 6h2l-1-4zm33-4h2l-1-4zm-41 0h2l-1-3zm57 0h2l-1-4zm-39 4h2l-1-4zm82-5h2l-1-4zm-183 2h2l-1-3zm25 1h2l-1-3zm271-4h2l-1-4zm-156-1h2l-1-4zm-62 5h2l-1-4zm-88-4h2l-1-4zm157-1h2l-1-4zm102 2h2l-1-4zm68 4h2l-1-4zm19-4h2l-1-3zm-40 0h2l-1-3zm36 0h2l-1-4zm-283 2h2l-1-4zm21 1h2l-1-3zm-55-1h2l-1-4zm106 4h2l-1-3zm-14-3h2l-1-4zm74 0h2l-1-3zm78 2h2l-1-4zm-78-1h2l-1-4zm-154-4h2l-1-3zm243 1h2l-1-3zm-275-1h2l-1-4zm25 2h2l-1-4zm40 0h2l-1-4zm265-3h2l-1-4zm-151 2h2l-1-4zm24 2h2l-1-4zm-52-1h2l-1-4zm98 0h2l-1-4zm-110-2h2l-1-3zm157 1h2l-1-4zm-250 0h2l-1-4zm246 4h2l-1-4zm-156-4h2l-1-4zm-65-2h2l-1-4zm22 3h2l-1-4zm178 0h2l-1-3zm-28 2h2l-1-4zm59-3h2l-1-4zm-51 0h2l-1-3z"/><path fill="#d9c400" d="M631 473h2l-1-5zm260 3h2l-1-6zm-124-7h2l-1-6zm-26 2h2l-1-5zm205 2h2l-1-4zm-119 1h2l-1-6zm62 4h2l-1-5zm-218-1h2l-1-5zm231-6h2l-1-5zm-242 5h2l-1-5zm163 0h2l-1-5zm42 2h2l-1-5zm-149-6h2l-1-4zm12 5h2l-1-6zm40-1h2l-1-6zm-57-4h2l-1-5zm92 4h2l-1-5zm6 0h2l-1-5zm71-6h2l-1-6zm-11 1h2l-1-5zm-165 1h2l-1-5zm59 4h2l-1-5zm-39-1h2l-1-6zm15-2h2l-1-5zm-29 5h2l-1-5zm171-2h2l-1-6zm10-2h2l-1-6zm-8-1h2l-1-6zm-192 4h2l-1-6zm227-2h2l-1-5zm12 1h2l-1-6zm-38-2h2l-1-6zm-96 4h2l-1-5zm132-5h2l-1-5zm-107 0h2l-1-5zm-63 5h2l-1-5zm-26-7h2l-1-6zm-68 0h2l-1-5zm58 3h2l-1-5zm215 1h2l-1-5zm-22 1h2l-1-6zm-247-3h2l-1-5zm0 4h2l-1-5zm120-3h2l-1-5zm-81 0h2l-1-5zm257-3h2l-1-6zm-197 5h2l-1-5zm94-3h2l-1-5zm-238-2h2l-1-5zm192 1h2l-1-6zm51 5h2l-1-6zm-131-1h2l-1-6zm139 0h2l-1-6zm-29 1h2l-1-6zm20-6h2l-1-7zm-65 2h2l-1-5zm38 3h2l-1-6zm-28 1h2l-1-6zm124-4h2l-1-4zm-29-3h2l-1-6zm-204 1h2l-1-6zm163 6h2l-1-5zm-51-6h2l-1-6zm41 1h2l-1-5zm-50 0h2l-1-5zm-47 0h2l-1-5zm158 3h2l-1-6zm-21 1h2l-1-5zm-199-2h2l-1-6zm268-2h2l-1-4zm-328 1h2l-1-6zm127 1h2l-1-6zm150 4h2l-1-5zm53-5h2l-1-5zm-151-1h2l-1-5zm-137 1h2l-1-4zm54-2h2l-1-5zm194 5h2l-1-5zm7 2h2l-1-4zm-294-7h2l-1-5zm160 3h2l-1-6zm-168-4h2l-1-5zm-3 3h2l-1-5zm130 4h2l-1-4zm-5-6h2l-1-5zm197 1h2l-1-6zm-273 4h2l-1-6zm206-1h2l-1-6zm-55-1h2l-1-6zm-155-1h2l-1-6zm28 0h2l-1-5zm-42 3h2l-1-5zm211-5h2l-1-5zm-198 4h2l-1-5zm86 0h2l-1-6zm-26-2h2l-1-6zm61 3h2l-1-6zm51-2h2l-1-6zm-80-1h2l-1-4zm46 0h2l-1-5zm-131-2h2l-1-6zm15 4h2l-1-5zm113 1h2l-1-6zm-126-3h2l-1-5zm144-2h2l-1-5zm143 1h2l-1-4zm-230 2h2l-1-6zm148 0h2l-1-6zm-60 2h2l-1-5zm-5 1h2l-1-6zm-77 1h2l-1-4zm-7-7h2l-1-5zm129 3h2l-1-6zm55 1h2l-1-5zm-214-3h2l-1-6zm213 6h2l-1-5zm-64-2h2l-1-6zm-125-6h2l-1-6zm24 4h2l-1-6zm84 3h2l-1-6zm-192-7h2l-1-6zm-21 2h2l-1-5zm235 3h2l-1-6zm-125-3h2l-1-6zm242-1h2l-1-7zm-342 3h2l-1-6zm216 1h2l-1-5zm46 2h2l-1-5zm-270-4h2l-1-5zm24 5h2l-1-4zm184-4h2l-1-6zm13-2h2l-1-5zm-127 5h2l-1-7zm220-6h2l-1-5zm-149 3h2l-1-5zm-132 1h2l-1-5zm90-3h2l-1-5zm45 1h2l-1-6zm-22 0h2l-1-6zm77-1h2l-1-4zm-20 2h2l-1-5zm-75 1h2l-1-6zm-108-1h2l-1-5zm264 0h2l-1-5zm-114 4h2l-1-5z"/><path fill="#ecc005" d="M733 472h2l-1-7zm114-2h2l-1-8zm-198 3h2l-1-7zm61 3h2l-1-7zm224-4h2l-1-8zm-240 5h2l-1-7zm49-4h2l-1-8zm-48 3h2l-1-8zm-37-3h2l-1-8zm13-1h2l-1-8zm140 2h2l-1-8zm70-2h2l-1-7zm-79 0h2l-1-8zm140 1h2l-1-7zm-260-1h2l-1-9zm108 1h2l-1-8zm154-4h2l-1-8zm-274 1h2l-1-8zm60 5h2l-1-7zm156 2h2l-1-7zm11-5h2l-1-7zm-7-1h2l-1-9zm-192 3h2l-1-9zm114-2h2l-1-8zm-20 0h2l-1-7zm71-1h2l-1-8zm-137-2h2l-1-7zm-77 2h2l-1-8zm201-2h2l-1-7zm-43 1h2l-1-8zm-17 1h2l-1-7zm-125 2h2l-1-8zm-23-1h2l-1-8zm229 2h2l-1-8zm38 1h2l-1-7zm-129-3h2l-1-7zm-32-2h2l-1-7zm174 4h2l-1-8zm-96-3h2l-1-7zm-85 3h2l-1-7zm142-1h2l-1-7zm-34 0h2l-1-8zm-30 2h2l-1-8zm-166-2h2l-1-7zm179 1h2l-1-7zm-163 0h2l-1-7zm-40-2h2l-1-7zm44 3h2l-1-8zm220 0h2l-1-7zm-211-1h2l-1-8zm60-5h2l-1-8zm-106 1h2l-1-7zm199 2h2l-1-7zm-50 3h2l-1-7zm131 0h2l-1-7zm40-1h2l-1-8zm-221 0h2l-1-8zm0-1h2l-1-8zm25 3h2l-1-8zm-51-2h2l-1-7zm-45-1h2l-1-8zm109-3h2l-1-7zm84 6h2l-1-7zm58-1h2l-1-8zm-202 0h2l-1-9zm117-1h2l-1-8zm-64-4h2l-1-8zm171 2h2l-1-7zm23-2h2l-1-7zm-73 7h2l-1-7zm-90-1h2l-1-7zm-125-5h2l-1-7zm66 5h2l-1-8z"/><path fill="#f9bb11" d="M664 470h2l-1-9zm130 1h2l-1-10zm-142-2h2l-1-10zm83 0h2l-1-9zm61 0h2l-1-11zm40 1h2l-1-10zm-108-3h2l-1-9zm-44 2h2l-1-9zm226 3h2l-1-10zm-251-2h2l-1-9zm10-1h2l-1-10zm129 5h2l-1-10zm139-4h2l-1-10zm-46 2h2l-1-10zm-19 1h2l-1-11zm-185-3h2l-1-10zm-33 4h2l-1-9zm83-5h2l-1-10zm133 3h2l-1-10zm51 2h2l-1-11zm-84-4h2l-1-10zm40 2h2l-1-10zm-41 2h2l-1-10zm-189 0h2l-1-9zm125-6h2l-1-10zm191 2h2l-1-9zm-271-3h2l-1-10zm253 5h2l-1-9zm-105-2h2l-1-9zm-62 4h2l-1-10zm-75-2h2l-1-11zm16-4h2l-1-9zm176 2h2l-1-11zm-153 3h2l-1-10zm-26-5h2l-1-9zm134 4h2l-1-9zm-80 0h2l-1-9zm145 2h2l-1-9zm-291-7h2l-1-11zm237 4h2l-1-10zm67 1h2l-1-9zm-42 0h2l-1-10zm-31-2h2l-1-9zm-96 3h2l-1-10zm127-2h2l-1-9zm-45-3h2l-1-10zm90 1h2l-1-10zm7 1h2l-1-9zm-96 3h2l-1-11z"/><path fill="#fdb925" d="M900 469h2l-1-13zm-250-4h2l-1-13zm167 2h2l-1-13zm-60-1h2l-1-12zm107 3h2l-1-12zm32-1h2l-1-13zm-265 1h2l-1-11zm63-1h2l-1-11zm30-2h2l-1-13zm74 3h2l-1-13zm-100-3h2l-1-11zm185 5h2l-1-11zm-227-2h2l-1-12zm214 4h2l-1-12zm-211 0h2l-1-11zm161-3h2l-1-12zm-113-4h2l-1-12zm-81 2h2l-1-12zm261-1h2l-1-11zm22-1h2l-1-13zm-233 1h2l-1-12zm68-1h2l-1-12zm171 2h2l-1-11zm30 1h2l-1-13zm-98 1h2l-1-12zm-99-1h2l-1-12zm13 4h2l-1-11zm-38 0h2l-1-11zm244-6h2l-1-11zm-188 5h2l-1-12zm163-1h2l-1-12zm-94-3h2l-1-13zm-54 3h2l-1-12zm144 0h2l-1-11zm-130 1h2l-1-11zm128-5h2l-1-13zm-72 5h2l-1-11z"/><path fill="#fec11a" d="M883 467h2l-1-17zm-238-9h2l-1-23zm294 14h2l-1-14zm10-2h2l-1-14zm-239-6h2l-1-17zm207 4h2l-1-16zm-40-1h2l-1-14zm-81-2h2l-1-19zm-156 1h2l-1-15zm215-1h2l-1-18zm43 0h2l-1-13zm-70-2h2l-1-22zm-72-2h2l-1-21zm-8 6h2l-1-18zm31-5h2l-1-23zm-77 7h2l-1-16zm204 3h2l-1-14zm-259-10h2l-1-20zm130 0h2l-1-18zm-100 3h2l-1-14zm220 3h2l-1-14zm-225 1h2l-1-16zm236 1h2l-1-15zm-140-3h2l-1-20zm-97-1h2l-1-18zm21-2h2l-1-19zm101 0h2l-1-26zm68 6h2l-1-16zm44 1h2l-1-14zm-140-2h2l-1-14zm31-2h2l-1-14zm9-2h2l-1-18zm-61-2h2l-1-19zm144 1h2l-1-21zm-168 0h2l-1-17zm178 4h2l-1-19zm-183 4h2l-1-13zm167-3h2l-1-17zm-4 0h2l-1-14zm-23-3h2l-1-13zm-52 5h2l-1-14zm-148-10h2l-1-24zm221 6h2l-1-15zm-134-4h2l-1-20zm169-1h2l-1-25zm-122 0h2l-1-21zm-96 8h2l-1-16zm128-4h2l-1-14zm-131 2h2l-1-14zm105-2h2l-1-15z"/><path fill="#a1c824" d="M732 483h3l-1-6zm74 0h3l-1-8zm-109 0h3l-1-4zm151-1h3l-1-6zm-156 4h3l-1-8zm12-1h3l-1-9zm82-1h3l-1-3zm-129-2h3l-1-3zm76 7h3l-1-15zm-72 0h3l-1-7zm59-7h3l-1-6zm75-1h3l-1-3zm-2 1h3l-1-18zm-113 5h3l-1-7zm130 1h3l-1-8zm-21-2h3l-1-3zm-79 2h3l-1-4zm-39-3h3l-1-11zm193-2h3l-1-15zm-197 3h3l-1-7zm84 1h3l-1-8zm72-2h3l-1-26zm-169 1h3l-1-8zm143-3h3l-1-10zm-69 4h3l-1-14zm-85-6h3l-1-12zm182 6h3l-1-17zm-57-5h3l-1-8zm-55 3h3l-1-23zm173 1h3l-1-6zm-213-4h3l-1-27zm134 5h3l-1-9zm44 1h3l-1-8zm-32-3h3l-1-15zm-39 0h3l-1-4zm0-1h3l-1-8zm62 4h3l-1-22zm26 0h3l-1-8zm11-1h3l-1-5zm-6 0h3l-1-6zm-5-4h3l-1-16zm-205 2h3l-1-13zm28 1h3l-1-4zm184 0h3l-1-7zm38-3h3l-1-4zm-220 3h3l-1-5zm32 2h3l-1-15zm-60-3h3l-1-11zm156-2h3l-1-10zm-67-1h3l-1-8zm85 7h3l-1-3zm-29-6h3l-1-7zm5 1h3l-1-22zm-45-3h3l-1-5zm-65 5h3l-1-3zm236-4h3l-1-2zm-54 5h3l-1-8zm-226-6h3l-1-6zm210 1h3l-1-4zm-37 6h3l-1-7zm42-1h3l-1-5zm4 0h3l-1-7zm35-5h3l-1-10zm-157 5h3l-1-11zm87-3h3l-1-10zm53 2h3l-1-8zm-239-1h3l-1-31zm222 0h3l-1-10zm-199-1h3l-1-10zm65 0h3l-1-17zm-18 2h3l-1-8zm-9-3h3l-1-11zm-45 2h3l-1-7zm131-2h3l-1-3zm-95-2h3l-1-6zm140 2h3l-1-8zm-142 0h3l-1-27zm-49 4h3l-1-22zm278-5h3l-1-5zm-289 1h3l-1-5zm92 0h3l-1-11zm163 4h3l-1-8zm-186-2h3l-1-2zm-13 4h3l-1-5zm39-3h3l-1-13zm-21 3h3l-1-27zm38 0h3l-1-5zm72-1h3l-1-33zm-18-5h3l-1-8zm-69 2h3l-1-3zm59 1h3l-1-9zm101 3h3l-1-7zm-171-1h3l-1-3zm45-5h3l-1-4zm-68 0h3l-1-9zm171 1h3l-1-4zm-174 2h3l-1-6zm143-4h3l-1-12zm3 0h3l-1-3zm-35 6h3l-1-11zm-103-3h3l-1-4zm56-3h3l-1-11zm31 6h3l-1-3zm1-5h3l-1-4zm28 0h3l-1-6zm2 1h3l-1-8zm15 4h3l-1-3zm-99-4h3l-1-3zm-39 0h3l-1-7zm187 4h3l-1-4zm-219-3h3l-1-3zm71 0h3l-1-6zm102 1h3l-1-4zm-55-2h3l-1-6zm-64-1h3l-1-16zm39 3h3l-1-7zm-69-4h3l-1-6zm-39 3h3l-1-9zm218-3h3l-1-11zm-229 3h3l-1-8zm274-2h3l-1-10zm-239 1h3l-1-11zm3-1h3l-1-7zm99 4h3l-1-3zm2-5h3l-1-6zm35 0h3l-1-14zm-36 2h3l-1-3zm57 0h3l-1-19zm72 0h3l-1-9zm-148 3h3l-1-4zm115-5h3l-1-10zm-21 2h3l-1-16zm-207-1h3l-1-15zm120 0h3l-1-7zm32 1h3l-1-4zm99 0h3l-1-6zm-82 3h3l-1-15zm33-5h3l-1-5zm-142 4h3l-1-4zm164 2h3l-1-7zm-223-1h3l-1-8zm-7-4h3l-1-10zm133 5h3l-1-3zm114-6h3l-1-6zm-174 7h3l-1-8zm36-7h3l-1-13zm141 7h3l-1-7zm-178-6h3l-1-8zm21 5h3l-1-5zm160 0h3l-1-3zm-263-7h3l-1-6zm188 1h3l-1-5zm38 6h3l-1-13zm-51-2h3l-1-4zm-149 0h3l-1-3zm265-4h3l-1-4zm-257 2h3l-1-2zm154 4h3l-1-8zm-64-3h3l-1-2zm93-3h3l-1-5zm-188 1h3l-1-28zm183 3h3l-1-4zm7-3h3l-1-2zm-13 1h3l-1-5zm-195 2h3l-1-8zm275-3h3l-1-3zm-169 1h3l-1-7zm-30 4h3l-1-4zm-39 1h3l-1-9zm144-5h3l-1-3zm43 5h3l-1-16zm-155 0h3l-1-4zm188-5h3l-1-3zm-74-1h3l-1-5zm-57 2h3l-1-6zm84 4h3l-1-19zm-189-1h3l-1-3zm53 0h3l-1-31zm97-3h3l-1-7zm-181-2h3l-1-3zm71 3h3l-1-2zm-62-4h3l-1-13zm72 4h3l-1-8zm96 0h3l-1-18zm-147 3h3l-1-4zm-3-7h3l-1-4zm173 6h3l-1-15zm61-4h3l-1-25zm-56 2h3l-1-3zm-116 0h3l-1-6zm-43 0h3l-1-8zm246-3h3l-1-3zm-155 2h3l-1-18zm-62 1h3l-1-16zm200-2h3l-1-33zm-80 2h3l-1-17zm-88-1h3l-1-6zm66 0h3l-1-8zm101 1h3l-1-22zm-90-1h3l-1-10zm61 1h3l-1-3zm-183 0h3l-1-12zm200 2h3l-1-4zm-203-2h3l-1-4zm133-3h3l-1-20zm-103 5h3l-1-2zm72 1h3l-1-10zm-123-7h3l-1-7zm212 5h3l-1-4zm-215-2h3l-1-7zm119 1h3l-1-16zm67 3h3l-1-9zm-36-3h3l-1-5zm25 0h3l-1-7zm-117-4h3l-1-8zm111 7h3l-1-7zm-132-2h3l-1-6zm4 1h3l-1-9zm161-6h3l-1-23zm-30 0h3l-1-2zm-74 2h3l-1-8zm-88 0h3l-1-2zm96 2h3l-1-9zm127 1h3l-1-15zm-159 0h3l-1-5zm-33-5h3l-1-8zm105 5h3l-1-37zm-56-2h3l-1-11zm144-3h3l-1-11zm-109 5h3l-1-18zm41-5h3l-1-9zm-105 3h3l-1-4zm96 4h3l-1-12zm18-6h3l-1-6zm-203 1h3l-1-8zm261 2h3l-1-3zm-154-4h3l-1-4zm102 0h3l-1-3zm-37 0h3l-1-15zm-41 1h3l-1-3zm-102 4h3l-1-11zm98 1h3l-1-4zm-71-6h3l-1-5zm66 2h3l-1-16zm157 0h3l-1-13zm-208 1h3l-1-6zm39 1h3l-1-7zm8-2h3l-1-4zm155-2h3l-1-7zm-81 5h3l-1-4zm-116-3h3l-1-17zm-47-2h3l-1-3zm20 2h3l-1-7zm-9-2h3l-1-7zm226 3h3l-1-14zm-161 1h3l-1-11zm59 1h3l-1-8zm-11 1h3l-1-36zm-53-1h3l-1-13zm-100-1h3l-1-3zm153 1h3l-1-5zm-66-4h3l-1-9zm16 6h3l-1-4zm12-2h3l-1-3zm92-2h3l-1-10zm-191-2h3l-1-7zm187 4h3l-1-7zm-185-6h3l-1-10zm87 6h3l-1-13zm-81-2h3l-1-12zm63 2h3l-1-6zm104-1h3l-1-5zm-106 1h3l-1-5zm-46-5h3l-1-4zm117 3h3l-1-5zm-101 0h3l-1-3zm-36-3h3l-1-3zm189 7h3l-1-5zm-122-4h3l-1-6zm103-2h3l-1-4zm-24 4h3l-1-5zm85-1h3l-1-6zm-170 1h3l-1-8zm184 0h3l-1-7zm-116 0h3l-1-6zm-14-5h3l-1-7zm45 1h3l-1-6zm-93 2h3l-1-3zm-57 2h3l-1-8zm15-5h3l-1-3zm-29 3h3l-1-6zm90-2h3l-1-6zm83 5h3l-1-3zm-14-4h3l-1-24zm-146 3h3l-1-10zm28-1h3l-1-6zm-15 1h3l-1-14zm136-5h3l-1-3zm-166 0h3l-1-9zm168 6h3l-1-4zm-160-6h3l-1-13zm156 5h3l-1-20zm-104 0h3l-1-11zm54 1h3l-1-3zm128-1h3l-1-8zm-150 1h3l-1-8zm-54-3h3l-1-8zm209 1h3l-1-4zm-223-1h3l-1-5zm82 0h3l-1-3zm98-2h3l-1-14zm-5 5h3l-1-6zm79-5h3l-1-9zm-41 0h3l-1-15zm-6 4h3l-1-7zm-152-3h3l-1-10zm49-2h3l-1-3zm-101 5h3l-1-11zm203-5h3l-1-10zm31 3h3l-1-4zm-51 1h3l-1-12zm-144-5h3l-1-6zm-18 4h3l-1-9zm16-1h3l-1-14zm-52-3h3l-1-7zm183 4h3l-1-5zm-11-1h3l-1-8zm-11 0h3l-1-7zm-66 3h3l-1-4zm-64 1h3l-1-8zm25-6h3l-1-12zm-51 1h3l-1-11zm28 3h3l-1-6zm187-2h3l-1-17zm-208 4h3l-1-7zm152-3h3l-1-12zm-75-1h3l-1-4zm-119-1h3l-1-17zm190 2h3l-1-5zm76 0h3l-1-14zm-103-3h3l-1-11zm-99 3h3l-1-4zm139 2h3l-1-26zm-28-1h3l-1-20zm-98 2h3l-1-6zm116 1h3l-1-8zm-141-7h3l-1-11zm124 4h3l-1-5zm82 1h3l-1-3zm-86-3h3l-1-3zm-165-2h3l-1-5zm4 3h3l-1-12zm122 1h3l-1-2zm48 2h3l-1-8zm72-1h3l-1-2zm-175 1h3l-1-8zm-21-2h3l-1-11zm6-3h3l-1-7zm205 1h3l-1-17zm-206 3h3l-1-6zm-21 1h3l-1-13zm112 0h3l-1-3zm-54-6h3l-1-20zm164 5h3l-1-18zm-245-6h3l-1-4zm163 4h3l-1-7zm-31 0h3l-1-13zm54-1h3l-1-10zm-191 1h3l-1-4zm93-2h3l-1-9zm112 1h3l-1-8zm-26-2h3l-1-13zm-138 6h3l-1-4zm-28 1h3l-1-4zm125-1h3l-1-6zm-70 1h3l-1-7zm17-6h3l-1-4zm0 1h3l-1-11zm1 2h3l-1-6zm126-4h3l-1-9zm-59 5h3l-1-15zm-35-5h3l-1-2zm31 0h3l-1-12zm30 4h3l-1-5zm-30-3h3l-1-16zm54 0h3l-1-3zm-207-1h3l-1-4zm58 7h3l-1-21zm-40-4h3l-1-9zm196 3h3l-1-4zm-23-5h3l-1-12zm-85 3h3l-1-4zm-9-4h3l-1-22zm-60 4h3l-1-9zm66-5h3l-1-19zm106 1h3l-1-12zm-111 0h3l-1-3zm71 1h3l-1-6zm-34 2h3l-1-3zm108 0h3l-1-7zm-81-1h3l-1-33zm-77 1h3l-1-36zm-51-1h3l-1-5zm169 2h3l-1-6zm74-3h3l-1-5zm-143 2h3l-1-3zm66 4h3l-1-11zm-76-7h3l-1-6zm-74 3h3l-1-4zm116 0h3l-1-17zm-161 1h3l-1-4zm132 2h3l-1-7zm-91-5h3l-1-9zm97 4h3l-1-4zm92-5h3l-1-25zm0 5h3l-1-27zm-70-5h3l-1-26zm13 5h3l-1-25zm51-5h3l-1-7zm-132 1h3l-1-13zm-90-2h3l-1-3zm67 1h3l-1-6zm109 0h3l-1-9zm-13 4h3l-1-4zm-149-3h3l-1-4zm225 5h3l-1-13zm-202 0h3l-1-8zm211-6h3l-1-17zm-111 1h3l-1-11zm-81 6h3l-1-6zm110-4h3l-1-3zm-154 0h3l-1-2zm144-1h3l-1-10zm75 1h3l-1-7zm-72-3h3l-1-13zm-49 4h3l-1-4zm-62 3h3l-1-10zm89-3h3l-1-11zm-85 2h3l-1-4zm147-5h3l-1-16zm-187-1h3l-1-16zm208 1h3l-1-6zm-90 2h3l-1-15zm-10-1h3l-1-19zm-59-3h3l-1-4zm38 2h3l-1-6zm65 1h3l-1-10zm-38-2h3l-1-8zm-83 1h3l-1-5zm49 0h3l-1-7zm11 0h3l-1-8zm93 3h3l-1-3zm-185 0h3l-1-6zm188-4h3l-1-10zm-179 5h3l-1-16zm259-4h3l-1-11zm-84 6h3l-1-9zm-132-6h3l-1-3zm-62 6h3l-1-6zm213 0h3l-1-23zm-39-7h3l-1-5zm-158 1h3l-1-4zm164 0h3l-1-16zm-136 3h3l-1-4zm65 1h3l-1-14zm-59-2h3l-1-6zm116 2h3l-1-3zm-165-4h3l-1-9zm136 3h3l-1-5zm-153-2h3l-1-8zm271-2h3l-1-5zm-165 6h3l-1-8zm-36-1h3l-1-10zm179 1h3l-1-15zm-79-2h3l-1-3zm45 1h3l-1-5zm-140-3h3l-1-6zm-23 1h3l-1-8zm58-3h3l-1-7zm79 2h3l-1-8zm-56 4h3l-1-4zm31-3h3l-1-5zm56-1h3l-1-6zm-165 2h3l-1-13zm30 3h3l-1-6zm-55-1h3l-1-5zm-15 0h3l-1-12zm174-1h3l-1-4zm102-5h3l-1-17zm-94 6h3l-1-7zm-121-6h3l-1-17zm156 1h3l-1-3zm-126 1h3l-1-4zm63 4h3l-1-11zm74-3h3l-1-4zm-99-2h3l-1-8zm-10 0h3l-1-11z"/><path fill="#bec507" d="M868 486h3l-1-44zm-49 1h3l-1-47zm26-5h3l-1-50zm-159 4h3l-1-40z"/><path fill="#bec507" d="M733 481h2l-1-4zm115-1h2l-1-4zm-186 6h2l-1-4zm58-7h2l-1-4zm-39 5h2l-1-4zm-13-1h2l-1-4zm219 0h2l-1-4zm-13 1h2l-1-4zm-63-4h2l-1-4zm-150-1h2l-1-4zm173 6h2l-1-4zm47-1h2l-1-4zm-206-2h2l-1-4zm37-3h2l-1-4zm-3 4h2l-1-3zm125-3h2l-1-4zm-122 2h2l-1-4zm40 1h2l-1-3zm47-1h2l-1-4zm-95-2h2l-1-4zm-11 0h2l-1-4zm101-1h2l-1-4zm117 2h2l-1-4zm-9-2h2l-1-3zm3 7h2l-1-4zm-260-7h2l-1-4zm137 4h2l-1-4zm44 0h2l-1-4zm-91 0h2l-1-4zm17 0h2l-1-3zm-69-4h2l-1-4zm-2 3h2l-1-4zm175 1h2l-1-4zm-7 3h2l-1-4zm-131-1h2l-1-3zm137-4h2l-1-3zm-131 1h2l-1-3zm38 1h2l-1-4zm-60-2h2l-1-4zm-34-1h2l-1-4zm188 4h2l-1-4zm-116 1h2l-1-4zm-2-3h2l-1-3zm165 2h2l-1-3zm14 0h2l-1-4zm-116 0h2l-1-3zm-15-4h2l-1-4zm46 1h2l-1-3zm-164 2h2l-1-4zm90-2h2l-1-3zm-49 3h2l-1-3zm154 2h2l-1-4zm32-1h2l-1-4zm-165-6h2l-1-4zm106 2h2l-1-4zm-127 2h2l-1-4zm14 2h2l-1-4zm-14-5h2l-1-4zm-1 5h2l-1-3zm88 1h2l-1-4zm-51-3h2l-1-4zm79-2h2l-1-4zm73 2h2l-1-4zm-39 1h2l-1-4zm-79-4h2l-1-3zm12 5h2l-1-4zm92-6h2l-1-4zm-155 0h2l-1-4zm-11 7h2l-1-4zm164-5h2l-1-3zm-121-1h2l-1-3zm-6 0h2l-1-4zm-81 3h2l-1-4zm-10 3h2l-1-4zm50-3h2l-1-4zm9-1h2l-1-4zm35-3h2l-1-4zm109 3h2l-1-3zm-134 5h2l-1-4z"/><path fill="#d9c400" d="M807 480h2l-1-5zm-114 3h2l-1-5zm12-2h2l-1-5zm106 4h2l-1-5zm-139-5h2l-1-6zm79 4h2l-1-5zm-96-2h2l-1-5zm143-3h2l-1-6zm-30-1h2l-1-5zm39 5h2l-1-6zm45 2h2l-1-5zm-71-4h2l-1-5zm87 4h2l-1-5zm8-2h2l-1-4zm-55-4h2l-1-6zm-66 0h2l-1-5zm133 5h2l-1-5zm28-6h2l-1-6zm-70 2h2l-1-6zm53 3h2l-1-5zm-17-2h2l-1-6zm-199-2h2l-1-6zm47 3h2l-1-5zm121-2h2l-1-5zm54 4h2l-1-5zm-89-4h2l-1-5zm-11 2h2l-1-6zm102 4h2l-1-4zm-194-6h2l-1-6zm108 4h2l-1-6zm15-4h2l-1-5zm-62 3h2l-1-4zm-109-2h2l-1-5zm-11 1h2l-1-5zm275-3h2l-1-6zm-7 1h2l-1-5zm-33-2h2l-1-6zm-108 2h2l-1-4zm104 5h2l-1-4zm-223-1h2l-1-5zm-7-5h2l-1-6zm73 7h2l-1-5zm-2-7h2l-1-5zm107 5h2l-1-5zm-177-1h2l-1-5zm105-2h2l-1-4zm-69 4h2l-1-5zm35-2h2l-1-5zm-35-1h2l-1-5zm127 0h2l-1-5zm11-1h2l-1-6zm-23 4h2l-1-6zm60 0h2l-1-5zm-128-6h2l-1-5zm-18 5h2l-1-5zm57-4h2l-1-5zm9 2h2l-1-6zm-65-3h2l-1-5zm48 2h2l-1-6zm77-3h2l-1-5zm-195 3h2l-1-5zm29 1h2l-1-6zm245-3h2l-1-4zm-234 0h2l-1-4zm65 3h2l-1-7zm60 1h2l-1-5zm-77-4h2l-1-5zm119 3h2l-1-6zm-188-5h2l-1-6zm62 7h2l-1-5zm-51-1h2l-1-5zm-2 0h2l-1-6zm-17-5h2l-1-5zm60 4h2l-1-6zm182 2h2l-1-5zm-150 1h2l-1-5zm-54-3h2l-1-5zm240-3h2l-1-5zm-199 1h2l-1-6zm-51 3h2l-1-6zm203-5h2l-1-6zm-182 3h2l-1-5zm-36-3h2l-1-4zm171 2h2l-1-5zm-140 5h2l-1-5zm-19 0h2l-1-4zm121-7h2l-1-6zm30 8h2l-1-5zm-142-8h2l-1-6zm130 6h2l-1-5zm-104 1h2l-1-5zm104-3h2l-1-4zm23-2h2l-1-6zm-99 0h2l-1-6zm113 1h2l-1-5zm-138 5h2l-1-4zm144-7h2l-1-5zm-198 2h2l-1-6zm20 1h2l-1-5zm8-3h2l-1-5zm137-1h2l-1-6zm-138 7h2l-1-5zm100-6h2l-1-6zm19 1h2l-1-6zm75 2h2l-1-4zm-183 3h2l-1-6zm116-5h2l-1-6zm-38-1h2l-1-5zm-23 1h2l-1-5zm96-2h2l-1-6zm-4 7h2l-1-6zm-193-5h2l-1-5zm-17 0h2l-1-5zm106 5h2l-1-5zm-36-2h2l-1-6zm-18-1h2l-1-5zm137-2h2l-1-5zm8 5h2l-1-4zm-28-1h2l-1-6zm-25-4h2l-1-5z"/><path fill="#ecc005" d="M728 482h2l-1-8zm-85-6h2l-1-7zm21 3h2l-1-8zm2 1h2l-1-7zm93 2h2l-1-7zm-38-4h2l-1-7zm21 1h2l-1-7zm3 1h2l-1-8zm107-3h2l-1-7zm-78 0h2l-1-7zm109 0h2l-1-7zm-194 2h2l-1-7zm140-2h2l-1-8zm-65 0h2l-1-8zm107 6h2l-1-8zm-216-6h2l-1-8zm52 4h2l-1-7zm208-3h2l-1-7zm-77 6h2l-1-7zm94-5h2l-1-8zm-13 1h2l-1-8zm-166 1h2l-1-8zm5 1h2l-1-8zm-81-1h2l-1-7zm17 0h2l-1-8zm-22-4h2l-1-8zm195 0h2l-1-8zm6 4h2l-1-7zm-145-2h2l-1-8zm3-2h2l-1-7zm-50 2h2l-1-7zm159 1h2l-1-7zm72 0h2l-1-8zm-255 0h2l-1-7zm46 2h2l-1-7zm-17 1h2l-1-8zm110-4h2l-1-8zm42-2h2l-1-8zm-95 3h2l-1-7zm65-3h2l-1-7zm38 2h2l-1-7zm17-2h2l-1-7zm-8 7h2l-1-7zm-104-6h2l-1-8zm149 5h2l-1-8zm-79-6h2l-1-8zm-22 5h2l-1-7zm141-4h2l-1-7zm-168 4h2l-1-9zm-70-1h2l-1-8zm-40 2h2l-1-7zm118-4h2l-1-7z"/><path fill="#f9bb11" d="M733 483h2l-1-9zm61-8h2l-1-11zm71 3h2l-1-9zm-39 2h2l-1-10zm-6-1h2l-1-9zm48-2h2l-1-10zm-142 5h2l-1-9zm22-5h2l-1-10zm-14-1h2l-1-10zm133 2h2l-1-10zm-207-1h2l-1-9zm169 4h2l-1-9zm51 2h2l-1-10zm-35-1h2l-1-9zm-63-4h2l-1-11zm-61 2h2l-1-9zm120 0h2l-1-10zm-41-1h2l-1-9zm113 2h2l-1-9zm-88-5h2l-1-9zm-50 2h2l-1-9zm-46 0h2l-1-10zm172-1h2l-1-9zm-6 0h2l-1-10zm-249-1h2l-1-10zm268 1h2l-1-10zm-102 4h2l-1-9zm-4-5h2l-1-10zm12 2h2l-1-10zm90-3h2l-1-10zm-50 1h2l-1-10zm-187 0h2l-1-10zm119 3h2l-1-9zm-110 2h2l-1-10zm161-4h2l-1-9zm53 6h2l-1-9zm41-8h2l-1-10zm-214 0h2l-1-10z"/><path fill="#fdb925" d="M815 475h2l-1-13zm35 2h2l-1-11zm16 4h2l-1-11zm-43-2h2l-1-11zm97-2h2l-1-13zm-83-2h2l-1-12zm-32 5h2l-1-11zm23-1h2l-1-12zm-7-1h2l-1-12zm-77-3h2l-1-12zm164 4h2l-1-11zm-195 1h2l-1-13zm45-6h2l-1-11zm24 2h2l-1-11z"/><path fill="#fec11a" d="M824 474h2l-1-15zm-110 2h2l-1-14zm-41-5h2l-1-16zm170 8h2l-1-13zm-184-6h2l-1-19zm50-1h2l-1-16zm-48 6h2l-1-13zm63 0h2l-1-16zm110-3h2l-1-20zm35-7h2l-1-27zm-195 4h2l-1-17zm56 3h2l-1-19zm90-6h2l-1-28zm87 5h2l-1-15zm13-3h2l-1-20zm-38 2h2l-1-14zm-56 0h2l-1-22zm-20 0h2l-1-22zm20 1h2l-1-15zm23 2h2l-1-15zm-97-2h2l-1-13zm65-3h2l-1-20zm-77 0h2l-1-21zm149 1h2l-1-15zm1 4h2l-1-16zm-71-5h2l-1-16zm27-9h2l-1-30zm-13 15h2l-1-15zm43 3h2l-1-14zm-189-10h2l-1-24z"/><path fill="#a1c824" d="M880 493h3l-1-3zm-79 2h3l-1-12zm-47-4h3l-1-15zm-57-1h3l-1-11zm112 2h3l-1-16zm10 0h3l-1-22zm1 0h3l-1-4zm-89 1h3l-1-3zm128-4h3l-1-13zm-114 4h3l-1-30zm62 3h3l-1-12zm44-6h3l-1-14zm7 2h3l-1-7zm-72-1h3l-1-3zm70 1h3l-1-8zm-5 1h3l-1-5zm-5-4h3l-1-3zm-72 1h3l-1-2zm-86 2h3l-1-7zm-9 1h3l-1-2zm97 3h3l-1-7zm-83-4h3l-1-10zm64-1h3l-1-34zm54 2h3l-1-4zm-73-1h3l-1-12zm122-1h3l-1-3zm-58 2h3l-1-5zm23 1h3l-1-15zm-87-4h3l-1-2zm2 0h3l-1-2zm52 5h3l-1-14zm91-2h3l-1-5zm-50-2h3l-1-14zm-73 5h3l-1-9zm91 0h3l-1-3zm-94-3h3l-1-6zm-63 2h3l-1-10zm26 1h3l-1-18zm164-4h3l-1-8zm-178 4h3l-1-20zm24-4h3l-1-4zm116 2h3l-1-8zm-55-4h3l-1-3zm43 5h3l-1-10zm11-2h3l-1-7zm-163 0h3l-1-5zm-11-2h3l-1-5zm49 5h3l-1-9zm-42-5h3l-1-17zm37 0h3l-1-6zm48 0h3l-1-22zm41 3h3l-1-6zm-123 0h3l-1-4zm46-1h3l-1-11zm140 3h3l-1-10zm-144-2h3l-1-22zm-21 0h3l-1-4zm157-2h3l-1-12zm-65-2h3l-1-14zm-100 5h3l-1-7zm162-1h3l-1-8zm-146-1h3l-1-8zm131 3h3l-1-10zm-11-2h3l-1-9zm-2 0h3l-1-4zm-151-2h3l-1-10zm194-1h3l-1-5zm-170 2h3l-1-7zm1 3h3l-1-2zm138-5h3l-1-3zm48-2h3l-1-10zm-111 2h3l-1-13zm-11 0h3l-1-4zm116 1h3l-1-2zm-25 4h3l-1-5zm8-4h3l-1-8zm-192-1h3l-1-6zm57 0h3l-1-6zm-29 4h3l-1-3zm185-4h3l-1-13zm-81 0h3l-1-3zm21 6h3l-1-3zm-52-7h3l-1-18zm-36 4h3l-1-5zm86-4h3l-1-4zm-15 0h3l-1-4zm-50 6h3l-1-13zm-41-1h3l-1-3zm105-4h3l-1-5zm-125 0h3l-1-9zm23 3h3l-1-6zm83 3h3l-1-2zm-2-8h3l-1-23zm34 5h3l-1-5zm-92 1h3l-1-5zm-52-1h3l-1-5zm136-4h3l-1-10zm-100 2h3l-1-4zm17-1h3l-1-21zm56 0h3l-1-18zm-52 1h3l-1-14zm-84-2h3l-1-3zm135 4h3l-1-4zm-82-2h3l-1-3zm5-3h3l-1-20zm161 2h3l-1-2zm-85 2h3l-1-5zm-69-2h3l-1-13zm-1 4h3l-1-20zm37 0h3l-1-14zm-38-5h3l-1-8zm-25 6h3l-1-7zm34-6h3l-1-3zm61 1h3l-1-4zm60 2h3l-1-3zm-120-2h3l-1-4zm45-1h3l-1-2zm42 2h3l-1-22zm-99-1h3l-1-26zm-35 2h3l-1-5zm94 3h3l-1-3zm48-2h3l-1-12zm-27 1h3l-1-3zm-48-5h3l-1-13zm-27 1h3l-1-3zm-13 1h3l-1-25zm129 0h3l-1-13zm3 3h3l-1-8zm-144 1h3l-1-4zm82-5h3l-1-25zm-71 4h3l-1-7zm23-5h3l-1-22zm-25 5h3l-1-15zm-24-5h3l-1-5zm106 4h3l-1-2zm-72 1h3l-1-14zm-29-4h3l-1-3zm-27 0h3l-1-3zm216 1h3l-1-2zm-169 1h3l-1-7zm110-2h3l-1-6zm-31 2h3l-1-7zm-11-1h3l-1-23zm-4-3h3l-1-6zm-12 6h3l-1-3zm-2-3h3l-1-10zm76 2h3l-1-4zm-28-2h3l-1-3zm-33 2h3l-1-18zm-6-4h3l-1-10zm125 1h3l-1-2zm-32 4h3l-1-3zm18-2h3l-1-20zm-189 2h3l-1-2zm129-1h3l-1-6zm-125 2h3l-1-10zm180-3h3l-1-3zm-147 0h3l-1-4zm20 4h3l-1-18zm53-3h3l-1-9zm-110 2h3l-1-15zm107-2h3l-1-3zm-8-2h3l-1-7zm-99-3h3l-1-5zm-12 5h3l-1-25zm111-4h3l-1-10zm-77 3h3l-1-27zm-13-4h3l-1-6zm121 3h3l-1-7zm55-1h3l-1-15zm-153-2h3l-1-4zm7 7h3l-1-6zm143-3h3l-1-3zm-165-1h3l-1-3zm79 4h3l-1-15zm-26-5h3l-1-6zm-79 4h3l-1-20zm139-5h3l-1-3zm-141 1h3l-1-9zm67 5h3l-1-4zm28-3h3l-1-6zm-60-4h3l-1-38zm44 4h3l-1-11zm-32 2h3l-1-5zm113 0h3l-1-21zm-107-1h3l-1-5zm119-4h3l-1-16zm12 3h3l-1-4zm-120 0h3l-1-6zm67-3h3l-1-12zm-110 1h3l-1-10zm155 1h3l-1-3zm17 2h3l-1-8zm-207-3h3l-1-4zm52 5h3l-1-7zm72 0h3l-1-4zm-9-7h3l-1-11zm10 6h3l-1-21zm-88 0h3l-1-15zm151-6h3l-1-2zm7 6h3l-1-14zm-65-4h3l-1-3zm-105 1h3l-1-15zm71 3h3l-1-13zm66-2h3l-1-13zm-151-2h3l-1-5zm183-1h3l-1-3zm-160 0h3l-1-14zm17 3h3l-1-8zm-39-2h3l-1-3zm-10-1h3l-1-10zm125 0h3l-1-8zm66 4h3l-1-5zm-39 3h3l-1-4zm-107-1h3l-1-26zm-31 0h3l-1-9zm111-2h3l-1-16zm78 0h3l-1-11zm-34-3h3l-1-13zm-57-1h3l-1-3zm-80 1h3l-1-5zm167 3h3l-1-7zm-45-2h3l-1-4zm-33-1h3l-1-8zm-102-2h3l-1-2zm25 8h3l-1-23zm164-4h3l-1-8zm-68-3h3l-1-3zm-51 4h3l-1-3zm94-4h3l-1-7zm-106 4h3l-1-21zm129-1h3l-1-14zm-167-2h3l-1-3zm145 5h3l-1-11zm-177-1h3l-1-3zm86 0h3l-1-4zm-28-3h3l-1-7zm90 4h3l-1-18zm-161-6h3l-1-6zm139 3h3l-1-2zm39 1h3l-1-12zm-53-3h3l-1-32zm-89 0h3l-1-21zm85-1h3l-1-16zm71 1h3l-1-20zm-5 4h3l-1-11zm-48-4h3l-1-26zm-60-1h3l-1-9zm27 2h3l-1-6zm112-1h3l-1-17zm-145 3h3l-1-3zm45 1h3l-1-2zm25-4h3l-1-3zm-144 0h3l-1-11zm179 2h3l-1-2zm8-2h3l-1-20zm-142-1h3l-1-6zm163 2h3l-1-28zm-116 2h3l-1-6zm-52 0h3l-1-7zm8-3h3l-1-4zm-46 0h3l-1-2zm222-2h3l-1-13zm-150 3h3l-1-3zm81 1h3l-1-13zm31-2h3l-1-3zm-72 1h3l-1-4zm-49 0h3l-1-13zm53-3h3l-1-7zm6 7h3l-1-4zm54-1h3l-1-17zm-32 0h3l-1-10zm22-6h3l-1-4zm-78 6h3l-1-3zm-38 0h3l-1-4zm127-5h3l-1-3zm38 3h3l-1-13zm-120 2h3l-1-11zm-56-6h3l-1-4zm-1 0h3l-1-11zm50 6h3l-1-6zm-47-5h3l-1-6zm166 5h3l-1-23zm-113-6h3l-1-5zm28 5h3l-1-34zm-89 0h3l-1-7zm87-4h3l-1-16zm3 0h3l-1-5zm-31 4h3l-1-3zm-52-1h3l-1-7zm83-4h3l-1-10zm-13 4h3l-1-17zm60 3h3l-1-5zm62-6h3l-1-9zm-65 2h3l-1-9zm-25 1h3l-1-19zm-143-3h3l-1-3zm178-1h3l-1-3zm-125 5h3l-1-6zm56-2h3l-1-6zm-55 4h3l-1-14zm68-2h3l-1-9zm-115-4h3l-1-4zm93 0h3l-1-3zm-35 4h3l-1-3zm140-2h3l-1-18zm-128 4h3l-1-7zm124-5h3l-1-5zm-64-1h3l-1-3zm-105 0h3l-1-10zm14-1h3l-1-6zm121 5h3l-1-5zm26-4h3l-1-8zm-19 0h3l-1-9zm-145 2h3l-1-9zm60-1h3l-1-9zm-35 3h3l-1-27zm11 2h3l-1-11zm41-5h3l-1-6zm95 5h3l-1-3zm-18-5h3l-1-10zm45-2h3l-1-19zm-95 1h3l-1-12zm-77 7h3l-1-16zm166-5h3l-1-11zm-27-3h3l-1-6zm-130 4h3l-1-11zm-64-2h3l-1-9zm110 5h3l-1-6zm2-1h3l-1-7zm62-1h3l-1-11zm-1-1h3l-1-11zm59-3h3l-1-8zm-120 3h3l-1-15zm50-3h3l-1-13zm29 3h3l-1-2zm-68-4h3l-1-4zm57 2h3l-1-3zm-150 4h3l-1-7zm105 2h3l-1-8zm2-5h3l-1-14zm44 3h3l-1-2zm-110-5h3l-1-8zm53 1h3l-1-16zm78 3h3l-1-11zm-65-4h3l-1-10zm-17 3h3l-1-2zm54-1h3l-1-3zm-55 3h3l-1-38zm0-4h3l-1-3zm-4 0h3l-1-6zm27-1h3l-1-4zm-48 6h3l-1-5zm-41-7h3l-1-2zm-41 5h3l-1-22zm75-4h3l-1-5zm69 3h3l-1-4zm-4-1h3l-1-14zm-76-1h3l-1-3zm40 0h3l-1-6zm-33 5h3l-1-13zm128-6h3l-1-3zm-15 6h3l-1-8zm-182-2h3l-1-19zm97 0h3l-1-5zm-106-3h3l-1-31zm157 1h3l-1-3zm-85 2h3l-1-9zm131-4h3l-1-10zm-101 3h3l-1-7zm59 3h3l-1-8zm-55-3h3l-1-3zm88 3h3l-1-4zm-183-1h3l-1-4zm46-3h3l-1-4zm34 4h3l-1-4zm-51-6h3l-1-15zm141 6h3l-1-3zm-112 0h3l-1-6zm39 0h3l-1-22zm10-1h3l-1-2zm20-4h3l-1-10zm53 0h3l-1-4zm-171-1h3l-1-2zm70 0h3l-1-3zm2 4h3l-1-4zm81-1h3l-1-8zm-1 2h3l-1-8zm-131 0h3l-1-6zm23 2h3l-1-3zm-22-6h3l-1-15zm162-1h3l-1-4zm-144 6h3l-1-4zm-12-3h3l-1-5zm44-2h3l-1-10zm-37 2h3l-1-5zm140 2h3l-1-3zm-71-4h3l-1-35zm-20 0h3l-1-10zm-101 3h3l-1-13zm66-1h3l-1-11zm65 3h3l-1-3zm35-1h3l-1-7zm-42-3h3l-1-13zm-37 3h3l-1-17zm93-3h3l-1-3zm-147-2h3l-1-7zm164 1h3l-1-5zm-34 5h3l-1-23zm-102-5h3l-1-23zm-25 0h3l-1-8zm105 4h3l-1-6zm-98-1h3l-1-3zm111 1h3l-1-5zm-3-3h3l-1-3zm7 3h3l-1-3zm41-2h3l-1-25zm-194 2h3l-1-23zm73 0h3l-1-6zm83-5h3l-1-4zm-92 5h3l-1-3zm-62 0h3l-1-6zm0-4h3l-1-5zm181 0h3l-1-5zm-167 5h3l-1-3zm27-6h3l-1-12zm146 3h3l-1-14zm-113-1h3l-1-14zm103 1h3l-1-12zm-148-2h3l-1-19zm87 5h3l-1-10zm20-5h3l-1-3zm-139 3h3l-1-9zm194 1h3l-1-3zm-81 0h3l-1-24zm29-1h3l-1-13zm3-4h3l-1-7zm-113 4h3l-1-6zm-33 0h3l-1-9zm171 2h3l-1-4zm-79-4h3l-1-13zm102 2h3l-1-3zm-121 1h3l-1-21zm-48-2h3l-1-9z"/><path fill="#bec507" d="M802 490h3l-1-56zm-43 7h3l-1-57zm-16-2h3l-1-42z"/><path fill="#bec507" d="M858 489h2l-1-4zm-82 5h2l-1-4zm-18-3h2l-1-3zm88 0h2l-1-4zm-130-3h2l-1-4zm88 4h2l-1-4zm-109 0h2l-1-4zm6-1h2l-1-4zm29-2h2l-1-3zm-8 3h2l-1-4zm-19 1h2l-1-4zm15-1h2l-1-4zm-2-2h2l-1-4zm111-1h2l-1-4zm-31 2h2l-1-4zm-15-4h2l-1-3zm45 5h2l-1-4zm-29-2h2l-1-4zm-90-3h2l-1-4zm30 7h2l-1-4zm30-5h2l-1-3zm14 2h2l-1-4zm-30 0h2l-1-4zm-27 3h2l-1-4zm150-2h2l-1-4zm-17-5h2l-1-4zm-189 0h2l-1-4zm106 3h2l-1-3zm-62-3h2l-1-4zm47 4h2l-1-4zm-51 1h2l-1-4zm50 1h2l-1-4zm-48-6h2l-1-4zm-8 4h2l-1-4zm20 1h2l-1-4zm56-3h2l-1-4zm-32 4h2l-1-4zm-31-6h2l-1-3zm60 2h2l-1-3zm89-2h2l-1-4zm-85 6h2l-1-4zm3-1h2l-1-4zm3-4h2l-1-4zm0 0h2l-1-3zm-41 5h2l-1-3zm-28-1h2l-1-3zm128 0h2l-1-4zm-25 1h2l-1-3zm-63 0h2l-1-4zm-72 0h2l-1-4zm143-6h2l-1-4zm-114 5h2l-1-4z"/><path fill="#d9c400" d="M856 489h2l-1-5zm-167 0h2l-1-4zm5-1h2l-1-6zm67 4h2l-1-5zm-67-1h2l-1-6zm190-2h2l-1-5zm-38 2h2l-1-5zm-11 0h2l-1-6zm-115 1h2l-1-5zm147 0h2l-1-6zm-11-1h2l-1-5zm-145-1h2l-1-5zm131 2h2l-1-6zm-11-2h2l-1-5zm-153-2h2l-1-6zm211-3h2l-1-6zm-24 3h2l-1-5zm-166-1h2l-1-5zm130-1h2l-1-6zm-100 1h2l-1-5zm122 5h2l-1-5zm-85-4h2l-1-6zm9-2h2l-1-6zm-74 6h2l-1-6zm107-2h2l-1-5zm-11-4h2l-1-6zm31 3h2l-1-4zm-141-2h2l-1-6zm21 0h2l-1-6zm172 4h2l-1-5zm-156-1h2l-1-5zm-49-4h2l-1-6zm125 1h2l-1-5zm-111 5h2l-1-5zm107-4h2l-1-5zm87 2h2l-1-5zm-144-1h2l-1-4zm9-3h2l-1-5zm38 0h2l-1-4zm27 5h2l-1-6zm-48 0h2l-1-6zm-55-1h2l-1-4zm83-4h2l-1-6zm108 0h2l-1-5zm-64 2h2l-1-5zm-46 2h2l-1-5zm-90-3h2l-1-6zm161 0h2l-1-5zm-20 0h2l-1-5zm-144 2h2l-1-5zm60-2h2l-1-6zm94 0h2l-1-6zm-183 1h2l-1-5zm233-1h2l-1-5zm-202 5h2l-1-4zm105 1h2l-1-5zm-64-6h2l-1-5zm66-1h2l-1-6zm59 7h2l-1-5zm-119-3h2l-1-5zm131-4h2l-1-6zm-101 4h2l-1-4zm58 2h2l-1-5zm-22-5h2l-1-6zm35 3h2l-1-5zm-1 1h2l-1-5zm-80-4h2l-1-6zm12 0h2l-1-6zm-35 2h2l-1-6zm-34-2h2l-1-4zm4 0h2l-1-5zm87 5h2l-1-6zm-119-1h2l-1-5zm-2 0h2l-1-5zm25-1h2l-1-5z"/><path fill="#ecc005" d="M801 491h2l-1-7zm-104-5h2l-1-7zm163-2h2l-1-8zm-52 7h2l-1-7zm44-7h2l-1-8zm-114 3h2l-1-7zm55 3h2l-1-8zm41-4h2l-1-9zm-106 3h2l-1-7zm132-1h2l-1-7zm-66-4h2l-1-8zm-16 2h2l-1-8zm109 0h2l-1-8zm-127 4h2l-1-8zm-10-3h2l-1-9zm-20-2h2l-1-8zm37 4h2l-1-8zm67 0h2l-1-7zm-76-4h2l-1-8zm90 2h2l-1-8zm-122 2h2l-1-9zm40-1h2l-1-7zm52-3h2l-1-7zm-31 0h2l-1-7zm81 4h2l-1-9zm-99 1h2l-1-8zm66-3h2l-1-8zm-128-2h2l-1-8zm170 5h2l-1-7zm-33-4h2l-1-8zm36 1h2l-1-8zm-21 4h2l-1-7zm-13-1h2l-1-7zm9 1h2l-1-7zm-187-5h2l-1-7zm224-2h2l-1-8zm-70 4h2l-1-8zm-89-1h2l-1-8zm152 1h2l-1-8zm-177-3h2l-1-7zm15 5h2l-1-8zm10 1h2l-1-7zm68-6h2l-1-7zm90 2h2l-1-7zm-157 2h2l-1-7zm110 1h2l-1-7zm-1-1h2l-1-7zm-12-4h2l-1-8zm-25 1h2l-1-8zm66 4h2l-1-7zm-51-4h2l-1-8zm-69 5h2l-1-8zm-74-3h2l-1-8zm124-1h2l-1-8zm-77-2h2l-1-7zm147 2h2l-1-8zm-114 0h2l-1-9zm103 1h2l-1-7zm-37 1h2l-1-8zm-52-2h2l-1-8z"/><path fill="#f9bb11" d="M754 485h2l-1-9zm55 1h2l-1-10zm16 2h2l-1-9zm-105 1h2l-1-11zm-42-5h2l-1-10zm97-2h2l-1-11zm-60 7h2l-1-9zm67-2h2l-1-11zm-27 2h2l-1-11zm-57 1h2l-1-9zm185-5h2l-1-9zm-89 5h2l-1-9zm65-6h2l-1-10zm-150 5h2l-1-9zm-11-3h2l-1-9zm102 2h2l-1-9zm30 1h2l-1-11zm-40-5h2l-1-9zm97 0h2l-1-10zm-42 5h2l-1-10zm-56-5h2l-1-10zm-9 2h2l-1-10zm-55 4h2l-1-10zm57-3h2l-1-9zm12-2h2l-1-9zm-80-1h2l-1-9zm2 1h2l-1-9zm49 3h2l-1-10z"/><path fill="#fdb925" d="M707 488h2l-1-12zm17-3h2l-1-13zm22-2h2l-1-12zm55 1h2l-1-11zm-77-3h2l-1-12zm6 6h2l-1-12zm96-3h2l-1-13zm-86-3h2l-1-13zm147 4h2l-1-12zm-198 2h2l-1-12zm158 0h2l-1-12zm-50 0h2l-1-13zm-45-1h2l-1-13zm-47-4h2l-1-13zm155 1h2l-1-12zm-5 0h2l-1-12zm-43 2h2l-1-12zm62 0h2l-1-11zm23-3h2l-1-11zm-214 5h2l-1-11zm30-3h2l-1-11zm41 3h2l-1-13z"/><path fill="#fec11a" d="M820 483h2l-1-13zm-74-2h2l-1-18zm12-4h2l-1-20zm5 5h2l-1-13zm39-2h2l-1-14zm-76 0h2l-1-16zm-7 2h2l-1-15zm69-1h2l-1-15zm-3 2h2l-1-14zm18-16h2l-1-34zm-118 17h2l-1-15zm34-2h2l-1-16zm3-8h2l-1-23zm-3 11h2l-1-15zm41-11h2l-1-34zm-41 13h2l-1-14zm74-8h2l-1-19zm15 2h2l-1-16zm68-1h2l-1-17zm1 6h2l-1-14zm-85-6h2l-1-20zm-70 3h2l-1-16zm22-5h2l-1-25zm44 2h2l-1-23zm-106 6h2l-1-13zm-7-7h2l-1-18zm108 9h2l-1-13zm15-11h2l-1-21zm43 9h2l-1-14zm-102-4h2l-1-14zm138 0h2l-1-15zm-195 4h2l-1-14zm112 0h2l-1-14z"/><path fill="#a1c824" d="M719 501h3l-1-17zm-13 1h3l-1-4zm78 1h3l-1-9zm52-4h3l-1-2zm8 1h3l-1-5zm-69 1h3l-1-11zm40-3h3l-1-16zm-120 0h3l-1-4zm88 1h3l-1-5zm37 3h3l-1-6zm8-2h3l-1-7zm-38-2h3l-1-7zm-74 2h3l-1-4zm27-3h3l-1-2zm55 7h3l-1-2zm64-7h3l-1-3zm-158 5h3l-1-3zm6 2h3l-1-6zm113-6h3l-1-12zm-87 6h3l-1-9zm49-6h3l-1-9zm-61 4h3l-1-3zm55 0h3l-1-27zm27 0h3l-1-3zm-57-5h3l-1-9zm29 7h3l-1-6zm58-7h3l-1-2zm6 3h3l-1-15zm12-2h3l-1-6zm-130 3h3l-1-4zm51-3h3l-1-15zm-76 2h3l-1-2zm57-1h3l-1-3zm4 5h3l-1-8zm49-2h3l-1-17zm22 2h3l-1-8zm-7-5h3l-1-15zm-30 2h3l-1-4zm-50 0h3l-1-3zm-29-4h3l-1-3zm127 4h3l-1-4zm-74-1h3l-1-4zm-4 1h3l-1-3zm-19 1h3l-1-3zm-57-4h3l-1-11zm90 0h3l-1-6zm-16 4h3l-1-5zm13-5h3l-1-17zm21 5h3l-1-8zm38-4h3l-1-4zm-32 2h3l-1-6zm-79 2h3l-1-5zm-15-2h3l-1-13zm103-2h3l-1-22zm-67-1h3l-1-14zm-42 5h3l-1-12zm69 0h3l-1-19zm-16-1h3l-1-17zm97-3h3l-1-4zm-18 2h3l-1-6zm-4 1h3l-1-3zm-94-2h3l-1-11zm96 3h3l-1-8zm-5-3h3l-1-12zm-116-1h3l-1-4zm111 1h3l-1-5zm-124 1h3l-1-4zm49-3h3l-1-5zm-1 1h3l-1-6zm-47 3h3l-1-6zm146-2h3l-1-13zm-111 1h3l-1-9zm3 3h3l-1-2zm6-2h3l-1-25zm111-3h3l-1-6zm-138 0h3l-1-4zm80 1h3l-1-4zm-37 3h3l-1-22zm-53-3h3l-1-13zm52 3h3l-1-19zm45 0h3l-1-12zm-73-4h3l-1-4zm4 4h3l-1-2zm-24 2h3l-1-10zm95-5h3l-1-17zm11 3h3l-1-9zm-109-4h3l-1-11zm91 6h3l-1-11zm-52-2h3l-1-5zm116-4h3l-1-12zm-151 0h3l-1-17zm6 4h3l-1-7zm56 2h3l-1-6zm54-6h3l-1-3zm-37 2h3l-1-21zm-39 4h3l-1-3zm66-7h3l-1-5zm-6 7h3l-1-16zm-56 0h3l-1-14zm27-7h3l-1-9zm-91 1h3l-1-10zm70 2h3l-1-39zm20 0h3l-1-14zm-43 4h3l-1-6zm91-1h3l-1-17zm19-6h3l-1-3zm-78 1h3l-1-4zm27 5h3l-1-3zm41-3h3l-1-3zm-61-2h3l-1-16zm-18-1h3l-1-4zm25 3h3l-1-2zm-9-1h3l-1-2zm31-1h3l-1-11zm-100 4h3l-1-3zm113 0h3l-1-9zm16 1h3l-1-23zm-89 1h3l-1-4zm47-3h3l-1-10zm-12 1h3l-1-12zm-66-4h3l-1-11zm34 2h3l-1-6zm26-3h3l-1-8zm-22 0h3l-1-18zm-30 5h3l-1-9zm0-5h3l-1-7zm10 3h3l-1-4zm38-3h3l-1-3zm-66 4h3l-1-4zm104-2h3l-1-10zm13 5h3l-1-4zm-104-2h3l-1-11zm100-1h3l-1-6zm-30 2h3l-1-10zm-66-6h3l-1-3zm-4 5h3l-1-21zm118 1h3l-1-2zm-62-5h3l-1-13zm64 2h3l-1-12zm-78-1h3l-1-18zm-54-1h3l-1-8zm80 1h3l-1-7zm-18 4h3l-1-8zm-56-2h3l-1-3zm110-1h3l-1-3zm-12 0h3l-1-4zm1 3h3l-1-6zm13 1h3l-1-3zm-133-7h3l-1-37zm99 3h3l-1-4zm-76-1h3l-1-7zm139-1h3l-1-5zm-110 0h3l-1-9zm-3 1h3l-1-13zm24-1h3l-1-4zm-1 3h3l-1-2zm3 0h3l-1-13zm2-4h3l-1-7zm-22 1h3l-1-29zm-8 6h3l-1-4zm77-1h3l-1-6zm14-2h3l-1-9zm-100 1h3l-1-10zm39-2h3l-1-12zm44 0h3l-1-5zm-105-2h3l-1-15zm120-1h3l-1-2zm-123 6h3l-1-4zm-5-6h3l-1-11zm61 2h3l-1-34zm-39-1h3l-1-7zm40 0h3l-1-3zm-18-1h3l-1-4zm113 1h3l-1-3zm-31 6h3l-1-25zm-99-4h3l-1-8zm80 0h3l-1-6zm12-2h3l-1-2zm19 1h3l-1-11zm-36-1h3l-1-21zm11 6h3l-1-3zm20-6h3l-1-10zm-81-1h3l-1-15zm26 2h3l-1-14zm47 0h3l-1-8zm-105 4h3l-1-15zm97 0h3l-1-11zm-63 0h3l-1-2zm19-5h3l-1-33zm18 1h3l-1-3zm-49 1h3l-1-2zm-27-3h3l-1-8zm0 7h3l-1-4zm-10-4h3l-1-9zm132-2h3l-1-5zm-104 5h3l-1-16zm65-1h3l-1-16zm-22-3h3l-1-16zm-13 4h3l-1-2zm29 0h3l-1-18zm-70-3h3l-1-3zm-19-2h3l-1-10zm112 6h3l-1-22zm-48-1h3l-1-3zm15 0h3l-1-2zm-16-5h3l-1-17zm59 1h3l-1-7zm22-1h3l-1-17zm-61 5h3l-1-13zm35-4h3l-1-4zm16 0h3l-1-20zm-94 1h3l-1-6zm-16-2h3l-1-12zm-28 1h3l-1-6zm48 3h3l-1-2zm62-4h3l-1-12zm-62 5h3l-1-7zm28-4h3l-1-4zm76 0h3l-1-2zm-82 5h3l-1-2zm53-6h3l-1-3zm-68 3h3l-1-4zm-18 1h3l-1-5zm-22-2h3l-1-5zm77-3h3l-1-11zm-49 2h3l-1-3zm25-1h3l-1-19zm57 2h3l-1-3zm-76-2h3l-1-10zm-8-1h3l-1-10zm10 5h3l-1-11zm-46-5h3l-1-3zm3 0h3l-1-22zm-6 0h3l-1-14zm142 4h3l-1-3zm-72-4h3l-1-27zm-23 5h3l-1-19zm-4 1h3l-1-22zm93-2h3l-1-2zm-71-2h3l-1-17zm-1-2h3l-1-3zm93 1h3l-1-6zm-30 3h3l-1-5zm-3-4h3l-1-27zm-95 4h3l-1-9zm-34-2h3l-1-2zm34 4h3l-1-3zm74 1h3l-1-4zm-20-7h3l-1-11zm-31 1h3l-1-8zm89-1h3l-1-16zm-56 3h3l-1-10zm-92-1h3l-1-6zm132-1h3l-1-10zm-123 0h3l-1-19zm72-1h3l-1-4zm-36 0h3l-1-3zm-14 3h3l-1-5zm68 3h3l-1-4zm-66 1h3l-1-3zm95 0h3l-1-2zm-25-4h3l-1-14zm-53-2h3l-1-5zm77-1h3l-1-6zm24 2h3l-1-13zm-79-1h3l-1-2zm-55 1h3l-1-2zm75-1h3l-1-6zm-44-1h3l-1-3zm5 7h3l-1-3zm113-6h3l-1-2zm-69 4h3l-1-2zm66-5h3l-1-13zm-38 7h3l-1-10zm-104-2h3l-1-3zm110-2h3l-1-9zm25-3h3l-1-20zm-89 3h3l-1-2zm49-1h3l-1-9zm-24-2h3l-1-6zm-5 7h3l-1-11zm52-2h3l-1-9zm-109 0h3l-1-36zm70-1h3l-1-16zm22 1h3l-1-13zm37-3h3l-1-8zm-31 4h3l-1-6zm-93-3h3l-1-9zm54 4h3l-1-8zm-83-2h3l-1-3zm45 2h3l-1-20zm25-6h3l-1-2zm-55-1h3l-1-8zm27 4h3l-1-11zm36 1h3l-1-5zm37-3h3l-1-4zm-35 3h3l-1-26zm-1-3h3l-1-4zm43 3h3l-1-4zm16-2h3l-1-3zm-67 0h3l-1-4zm-12-2h3l-1-4zm2 5h3l-1-26zm-23-5h3l-1-6zm-19-1h3l-1-30zm-14 2h3l-1-9zm16 3h3l-1-7zm13 0h3l-1-4zm76 1h3l-1-17zm-3-5h3l-1-9zm-90 2h3l-1-5zm104-1h3l-1-8zm6 5h3l-1-3z"/><path fill="#bec507" d="M806 500h3l-1-44z"/><path fill="#bec507" d="M821 500h2l-1-4zm-30-5h2l-1-4zm-80 7h2l-1-3zm68-1h2l-1-4zm76-6h2l-1-4zm-77 1h2l-1-4zm25 1h2l-1-4zm32 1h2l-1-3zm-88-3h2l-1-4zm-48 3h2l-1-4zm156-3h2l-1-4zm-138 4h2l-1-4zm56 3h2l-1-3zm-34 0h2l-1-3zm10-5h2l-1-3zm-25-2h2l-1-4zm94 4h2l-1-4zm-6 2h2l-1-3zm-97-5h2l-1-4zm100 5h2l-1-4zm-93-5h2l-1-4zm85 2h2l-1-3zm18-1h2l-1-4zm-83 1h2l-1-3zm5 3h2l-1-4zm110-5h2l-1-4zm-163 1h2l-1-4zm127-2h2l-1-4zm-36 1h2l-1-4zm1-2h2l-1-4zm35 7h2l-1-4zm-101-2h2l-1-4z"/><path fill="#d9c400" d="M785 499h2l-1-6zm44-2h2l-1-4zm-93 3h2l-1-5zm49-6h2l-1-6zm-35 0h2l-1-5zm11 7h2l-1-5zm71 0h2l-1-5zm-35-2h2l-1-5zm-61-4h2l-1-6zm96 4h2l-1-5zm-97-3h2l-1-5zm-25 4h2l-1-6zm107-2h2l-1-5zm-110-4h2l-1-6zm92 6h2l-1-6zm-16-6h2l-1-5zm-91 0h2l-1-6zm114 0h2l-1-7zm13 4h2l-1-5zm-25-1h2l-1-6zm-78-3h2l-1-6zm60 0h2l-1-5zm-52 4h2l-1-5zm86-2h2l-1-6zm-91 2h2l-1-6zm70 1h2l-1-6zm-83-5h2l-1-5zm81 2h2l-1-4zm-18 4h2l-1-5zm-25-5h2l-1-6zm25-1h2l-1-4zm61 4h2l-1-5zm-100 0h2l-1-6zm-30-6h2l-1-6zm26 4h2l-1-5zm107-2h2l-1-6zm-8 1h2l-1-5zm-9 3h2l-1-6zm-101-4h2l-1-5zm-10 2h2l-1-5zm-2-2h2l-1-6zm88-1h2l-1-7zm-44 1h2l-1-6zm-7-1h2l-1-6zm10 4h2l-1-6zm-21 1h2l-1-6zm24-3h2l-1-5zm32 1h2l-1-6zm41-2h2l-1-6zm-8 6h2l-1-6zm7-3h2l-1-5zm-15-2h2l-1-5zm23 3h2l-1-6zm20-2h2l-1-5zm-125 0h2l-1-6zm54 4h2l-1-5zm-68-6h2l-1-5zm28 2h2l-1-6zm-38-1h2l-1-5zm102-1h2l-1-5zm15 1h2l-1-5z"/><path fill="#ecc005" d="M775 496h2l-1-7zm49-3h2l-1-7zm-135 1h2l-1-7zm19 1h2l-1-8zm36-4h2l-1-9zm-41 6h2l-1-7zm124-3h2l-1-7zm19 0h2l-1-8zm-140-1h2l-1-8zm98 4h2l-1-7zm58-4h2l-1-7zm-107 5h2l-1-9zm27-3h2l-1-8zm-1 2h2l-1-7zm-6-5h2l-1-8zm64 3h2l-1-7zm-99-1h2l-1-8zm27 1h2l-1-8zm2 0h2l-1-7zm69 0h2l-1-7zm-60-1h2l-1-8zm7 4h2l-1-8zm-58-5h2l-1-7zm81 0h2l-1-7zm-108-1h2l-1-8zm84 1h2l-1-7zm13 1h2l-1-9zm48 0h2l-1-8zm12-2h2l-1-8zm-76 8h2l-1-7zm35-3h2l-1-8z"/><path fill="#f9bb11" d="M720 494h2l-1-10zm95-3h2l-1-10zm28 3h2l-1-9zm-67-2h2l-1-9zm34 4h2l-1-10zm14-2h2l-1-9zm-48-4h2l-1-10zm-21 5h2l-1-10zm51-3h2l-1-10zm-95-1h2l-1-10zm101 6h2l-1-10zm18-1h2l-1-10zm-52-4h2l-1-9zm-25-2h2l-1-11zm8 2h2l-1-11zm-53 0h2l-1-9zm43-1h2l-1-9zm-31 6h2l-1-9zm13 0h2l-1-10zm64-2h2l-1-10zm-22-2h2l-1-10zm17 3h2l-1-11zm-26-5h2l-1-10zm81 0h2l-1-10zm-81 2h2l-1-10zm76-2h2l-1-10zm-49 4h2l-1-10zm17 1h2l-1-10z"/><path fill="#fdb925" d="M771 494h2l-1-12zm-13 1h2l-1-11zm33-3h2l-1-13zm-72 1h2l-1-12zm83-3h2l-1-13zm13 5h2l-1-13zm22-4h2l-1-12zm-70-1h2l-1-11zm-20 4h2l-1-12zm-4 0h2l-1-13zm-41-4h2l-1-11zm148 0h2l-1-12zm-106 6h2l-1-12z"/><path fill="#fec11a" d="M779 491h2l-1-16zm32-2h2l-1-13zm-67 2h2l-1-15zm16 2h2l-1-13zm2-9h2l-1-23zm73 10h2l-1-14zm-143-12h2l-1-22zm54 5h2l-1-17zm14-1h2l-1-20zm66 8h2l-1-15zm-53-9h2l-1-20zm34-2h2l-1-27zm-101 5h2l-1-13zm64-1h2l-1-16zm55 0h2l-1-16zm-101 1h2l-1-22zm55 4h2l-1-16zm-18 1h2l-1-16zm-43-8h2l-1-18z"/><path fill="#a1c824" d="M726 505h3l-1-4zm60 1h3l-1-4zm-69 2h3l-1-14zm4 1h3l-1-14zm80 0h3l-1-8zm-1-4h3l-1-4zm-21 0h3l-1-7zm-43 1h3l-1-8zm76 1h3l-1-12zm-65 2h3l-1-20zm27 2h3l-1-12zm-60-5h3l-1-8zm103-1h3l-1-6zm-84 0h3l-1-10zm25 0h3l-1-12zm11 7h3l-1-8zm-39-1h3l-1-4zm-2-3h3l-1-2zm-12-1h3l-1-4zm79 4h3l-1-9zm-49 0h3l-1-18zm11-3h3l-1-5zm44-2h3l-1-4zm-20 0h3l-1-32zm14 4h3l-1-4zm-29 0h3l-1-3zm-23-1h3l-1-3zm-4-2h3l-1-18zm70-2h3l-1-13zm-48 4h3l-1-4zm-25-4h3l-1-5zm-24 0h3l-1-15zm102 1h3l-1-15zm-47 4h3l-1-3zm26-5h3l-1-7zm-35 3h3l-1-6zm-25-3h3l-1-3zm21 4h3l-1-7zm42-1h3l-1-11zm-57-2h3l-1-6zm54 4h3l-1-21zm-35-5h3l-1-4zm26 0h3l-1-4zm-61-1h3l-1-37zm58 6h3l-1-6zm16 0h3l-1-15zm-62-2h3l-1-16zm-11 0h3l-1-3zm68-3h3l-1-3zm-1 5h3l-1-5zm-11-4h3l-1-12zm0 6h3l-1-6zm-27-4h3l-1-8zm-22 0h3l-1-21zm36 0h3l-1-7zm-17-3h3l-1-4zm29 0h3l-1-4zm18 1h3l-1-3zm6 2h3l-1-21zm11-2h3l-1-30zm1 0h3l-1-9zm-56-1h3l-1-3zm10 3h3l-1-7zm-44 0h3l-1-5zm18 1h3l-1-5zm-13 1h3l-1-3zm16-5h3l-1-14zm36 6h3l-1-11zm-36-4h3l-1-11zm36-1h3l-1-4zm-34 4h3l-1-4zm12-2h3l-1-3zm30-4h3l-1-4zm-43 6h3l-1-4zm28-3h3l-1-3zm-42 3h3l-1-20zm-8 0h3l-1-5zm63-3h3l-1-19zm-23-1h3l-1-4zm1 3h3l-1-4zm-21-4h3l-1-9zm-25 0h3l-1-2zm63 5h3l-1-4zm-11 0h3l-1-6zm-8-3h3l-1-14zm28-1h3l-1-17zm-55 4h3l-1-10zm-3-4h3l-1-10zm60 4h3l-1-4zm-31-1h3l-1-14zm-26-2h3l-1-6zm-11 1h3l-1-3zm85-3h3l-1-4zm-10 4h3l-1-8zm-19-4h3l-1-3zm-39 3h3l-1-11zm19-2h3l-1-6zm-25 5h3l-1-19zm8-5h3l-1-8zm21 0h3l-1-8zm-5 3h3l-1-11zm32 0h3l-1-3zm-15-2h3l-1-4zm25 0h3l-1-24zm-72 0h3l-1-3zm15-2h3l-1-5zm-35 0h3l-1-8zm68 2h3l-1-4zm-61 0h3l-1-8zm20 4h3l-1-10zm63-6h3l-1-5zm-74 1h3l-1-4zm54-1h3l-1-8zm-33 1h3l-1-12zm0 2h3l-1-31zm-7-2h3l-1-31zm-17 1h3l-1-7zm39 2h3l-1-8zm26 3h3l-1-16zm-61-7h3l-1-7zm12 6h3l-1-13zm9-3h3l-1-5zm-4 2h3l-1-5zm-29-4h3l-1-10zm70 5h3l-1-9zm-21-1h3l-1-7zm-34 1h3l-1-9zm8-2h3l-1-2zm82-3h3l-1-2zm-83-1h3l-1-3zm75 3h3l-1-13zm-60 3h3l-1-4zm5-1h3l-1-7zm-3-6h3l-1-19zm-6 1h3l-1-5zm58 3h3l-1-3zm16-3h3l-1-11zm-74 3h3l-1-14zm9 3h3l-1-10zm4-3h3l-1-3zm0-2h3l-1-9zm13 2h3l-1-3zm-34-2h3l-1-18zm4 5h3l-1-8zm10-6h3l-1-37zm-20 1h3l-1-8zm4 5h3l-1-16zm42-6h3l-1-29zm-48 6h3l-1-11zm45-5h3l-1-12zm-21 2h3l-1-4zm-2 3h3l-1-7zm4-6h3l-1-4zm-5 1h3l-1-7zm8-1h3l-1-8zm-33 5h3l-1-16zm36-2h3l-1-5zm-21 1h3l-1-14zm-18 0h3l-1-31zm40-1h3l-1-23zm-31 2h3l-1-22z"/><path fill="#bec507" d="M780 502h2l-1-4zm38 1h2l-1-4zm-59 2h2l-1-4zm-4 1h2l-1-4zm-15-2h2l-1-4zm42 3h2l-1-4zm-2 2h2l-1-3zm-12-3h2l-1-4zm5 2h2l-1-4zm-35-3h2l-1-3zm25-1h2l-1-3zm-39 1h2l-1-4zm41 2h2l-1-4z"/><path fill="#d9c400" d="M801 506h2l-1-5zm-64-3h2l-1-5zm-22 0h2l-1-5zm18-2h2l-1-6zm36 8h2l-1-5zm27-1h2l-1-5zm-2-6h2l-1-4zm2 2h2l-1-6zm-43 0h2l-1-5zm63-2h2l-1-6zm-46 3h2l-1-4zm13 1h2l-1-6zm-36-4h2l-1-6zm-2-1h2l-1-6zm-8 5h2l-1-6zm-2-4h2l-1-6zm67 4h2l-1-5zm-56-4h2l-1-5zm20 1h2l-1-5zm-4 2h2l-1-7zm-50-3h2l-1-5zm6 2h2l-1-5zm21 3h2l-1-6zm43-6h2l-1-5zm-19 5h2l-1-5zm-35-4h2l-1-4zm-11 0h2l-1-6zm70 5h2l-1-5zm-55 1h2l-1-5zm27-1h2l-1-4zm0 0h2l-1-6zm3-4h2l-1-5zm-17 5h2l-1-5zm-9-5h2l-1-5zm20 5h2l-1-4zm-2-5h2l-1-4zm9-1h2l-1-5z"/><path fill="#ecc005" d="M718 502h2l-1-8zm3 1h2l-1-8zm92 0h2l-1-7zm-38 4h2l-1-7zm-17-7h2l-1-7zm52-1h2l-1-8zm-29 2h2l-1-7zm-35-1h2l-1-8zm18 2h2l-1-8zm0 2h2l-1-9zm-20 0h2l-1-7zm5-3h2l-1-7zm-9 5h2l-1-8zm74-4h2l-1-8zm10-1h2l-1-7zm-74 1h2l-1-8zm-16 5h2l-1-7zm45-5h2l-1-7zm-35 2h2l-1-8z"/><path fill="#f9bb11" d="M747 504h2l-1-11zm-34-5h2l-1-9zm101 1h2l-1-9zm-16 4h2l-1-9zm-62-2h2l-1-10zm57-3h2l-1-10zm-3 6h2l-1-10zm-50-1h2l-1-10zm-10-1h2l-1-9z"/><path fill="#fdb925" d="M748 501h2l-1-12zm-8-1h2l-1-11zm54 2h2l-1-13zm-62-3h2l-1-12zm71 1h2l-1-12zm-69 2h2l-1-12zm55-3h2l-1-12zm-51 4h2l-1-12zm18-6h2l-1-12zm-15 2h2l-1-11zm-5 3h2l-1-13z"/><path fill="#fec11a" d="M782 494h2l-1-19zm-59-4h2l-1-22zm92 4h2l-1-18zm-12 4h2l-1-15zm-54-2h2l-1-18zm-8-2h2l-1-19zm15-4h2l-1-22zm26 3h2l-1-17zm-55 4h2l-1-18zm39 2h2l-1-14z"/><path fill="#a1c824" d="M739 515h3l-1-17zm21 3h3l-1-2zm-23-4h3l-1-23zm40-1h3l-1-11zm-30 5h3l-1-3zm-2-5h3l-1-4zm12 4h3l-1-23zm17-3h3l-1-10zm-35 0h3l-1-9zm39 0h3l-1-15zm10-2h3l-1-4zm-39 1h3l-1-3zm19 3h3l-1-3zm-20-3h3l-1-3zm-5 2h3l-1-2zm14 1h3l-1-8zm-8-2h3l-1-8zm19 0h3l-1-10zm-9 2h3l-1-7zm-9-2h3l-1-7zm9 1h3l-1-3zm-14 1h3l-1-4zm4 2h3l-1-8zm2-2h3l-1-3zm5 2h3l-1-5zm14-5h3l-1-23zm0 3h3l-1-22zm-8 0h3l-1-6zm19-3h3l-1-10zm-10 0h3l-1-9zm-19 4h3l-1-3zm0-2h3l-1-8zm-9-3h3l-1-28zm27 2h3l-1-13zm-25 0h3l-1-11zm2 3h3l-1-4zm5-3h3l-1-2zm20-2h3l-1-16zm-22 1h3l-1-31zm18 2h3l-1-5zm6-1h3l-1-4zm5-2h3l-1-13zm-26 6h3l-1-4zm15-3h3l-1-5zm-4 0h3l-1-5zm-10 3h3l-1-12zm7-3h3l-1-7zm-7 1h3l-1-32zm2 2h3l-1-4zm15-2h3l-1-11zm-20-1h3l-1-3zm9 2h3l-1-3zm4-4h3l-1-5zm6 2h3l-1-6zm-34-2h3l-1-9zm14 4h3l-1-7zm13-2h3l-1-2zm-14 1h3l-1-8zm11 0h3l-1-7zm1 1h3l-1-31zm3-4h3l-1-9zm-3 1h3l-1-6zm-11 5h3l-1-5zm6-6h3l-1-10zm-3 4h3l-1-11zm-6-2h3l-1-12zm30-2h3l-1-3zm-33 0h3l-1-4zm14 0h3l-1-12zm-10 2h3l-1-20zm0 0h3l-1-6zm-12-2h3l-1-5zm16 0h3l-1-17zm16 0h3l-1-16zm-28 2h3l-1-9zm45-3h3l-1-11zm-34 2h3l-1-32zm17 0h3l-1-6zm-9 3h3l-1-5z"/><path fill="#bec507" d="M759 513h2l-1-4zm4 0h2l-1-4zm-2-1h2l-1-4zm10 0h2l-1-4zm-11 1h2l-1-4zm2-1h2l-1-3zm-13 1h2l-1-4zm20-2h2l-1-4z"/><path fill="#d9c400" d="M775 510h2l-1-6zm-35 1h2l-1-5zm17 2h2l-1-5zm-7-2h2l-1-5zm19-1h2l-1-6zm-18 1h2l-1-4zm-1 4h2l-1-5zm32-6h2l-1-6zm-10 0h2l-1-6zm-20 3h2l-1-5zm-6-2h2l-1-6zm26 1h2l-1-7zm-35-2h2l-1-5zm13 5h2l-1-4zm0-2h2l-1-5zm14-3h2l-1-5zm-7 0h2l-1-6zm-16 3h2l-1-5z"/><path fill="#ecc005" d="M777 508h2l-1-7zm-7 0h2l-1-8zm9-1h2l-1-8zm-25 6h2l-1-7zm-1-1h2l-1-7zm-6-2h2l-1-7zm12-2h2l-1-7zm27 0h2l-1-7z"/><path fill="#f9bb11" d="M739 508h2l-1-10zm40 0h2l-1-9zm-6-2h2l-1-10zm-21 0h2l-1-10zm17 0h2l-1-9z"/><path fill="#fdb925" d="M771 507h2l-1-13zm-22 0h2l-1-12z"/><path fill="#fec11a" d="M738 505h2l-1-14zm19 3h2l-1-14zm14-5h2l-1-14zm-27-2h2l-1-17zm7 0h2l-1-19zm3 2h2l-1-19zm8 2h2l-1-19zm-11-3h2l-1-19z"/></g>
<path class="ax" d="M246.3 125.5L366.2 101.8M246.3 125.5L152.2 93.8M152.2 93.8L152.2 25.8M246.3 125.5L247.8 126.0M276.3 119.6L277.8 120.1M306.2 113.7L307.8 114.2M336.2 107.7L337.7 108.2M366.2 101.8L367.7 102.3M238.5 122.9L236.9 123.2M199.2 109.7L197.7 110.0M160.0 96.4L158.5 96.8M152.2 93.8L150.6 94.1M152.2 76.8L150.6 77.1M152.2 59.8L150.6 60.1M152.2 42.8L150.6 43.1M152.2 25.8L150.6 26.1"/><path class="ax" d="M113.6 294.6L231.7 272.3M113.6 294.6L23.8 264.3M23.8 264.3L23.8 198.7M113.6 294.6L115.1 295.1M143.1 289.0L144.6 289.5M172.6 283.5L174.2 284.0M202.2 277.9L203.7 278.4M231.7 272.3L233.2 272.8M106.1 292.1L104.5 292.4M68.7 279.5L67.1 279.7M31.3 266.8L29.7 267.1M23.8 264.3L22.2 264.6M23.8 247.9L22.2 248.2M23.8 231.5L22.2 231.8M23.8 215.1L22.2 215.4M23.8 198.7L22.2 199.0"/><path class="ax" d="M377.0 297.2L499.3 273.3M377.0 297.2L282.8 265.0M282.8 265.0L282.8 196.8M377.0 297.2L378.5 297.7M407.6 291.2L409.1 291.7M438.1 285.2L439.7 285.8M468.7 279.3L470.2 279.8M499.3 273.3L500.8 273.8M369.1 294.5L367.6 294.8M329.9 281.1L328.3 281.4M290.7 267.7L289.1 268.0M282.8 258.1L281.2 258.4M282.8 244.3L281.2 244.6M282.8 230.5L281.2 230.8M282.8 216.7L281.2 217.0M282.8 202.9L281.2 203.2"/>
<text transform="matrix(0.90 0 0 1 250.9 134.7)">-100</text>
<text transform="matrix(0.90 0 0 1 280.9 128.7)">-50</text>
<text transform="matrix(0.90 0 0 1 310.9 122.8)">0</text>
<text transform="matrix(0.90 0 0 1 340.8 116.9)">50</text>
<text transform="matrix(0.90 0 0 1 370.8 111.0)">100</text>
<text class="r" transform="matrix(0.90 0 0 1 231.9 132.0)">-50</text>
<text class="r" transform="matrix(0.90 0 0 1 192.7 118.8)">0</text>
<text class="r" transform="matrix(0.90 0 0 1 153.4 105.6)">50</text>
<text class="r" transform="matrix(0.90 0 0 1 145.8 96.4)">-3</text>
<text class="r" transform="matrix(0.90 0 0 1 145.8 79.4)">-2</text>
<text class="r" transform="matrix(0.90 0 0 1 145.8 62.4)">-1</text>
<text class="r" transform="matrix(0.90 0 0 1 145.8 45.4)">0</text>
<text class="r" transform="matrix(0.90 0 0 1 145.8 28.4)">1</text>
<text transform="matrix(0.90 0 0 1 118.2 303.8)">-100</text>
<text transform="matrix(0.90 0 0 1 147.7 298.2)">-50</text>
<text transform="matrix(0.90 0 0 1 177.2 292.6)">0</text>
<text transform="matrix(0.90 0 0 1 206.8 287.0)">50</text>
<text transform="matrix(0.90 0 0 1 236.3 281.5)">100</text>
<text class="r" transform="matrix(0.90 0 0 1 99.5 301.2)">-50</text>
<text class="r" transform="matrix(0.90 0 0 1 62.1 288.6)">0</text>
<text class="r" transform="matrix(0.90 0 0 1 24.7 276.0)">50</text>
<text class="r" transform="matrix(0.90 0 0 1 17.4 266.9)">-3</text>
<text class="r" transform="matrix(0.90 0 0 1 17.4 250.5)">-2</text>
<text class="r" transform="matrix(0.90 0 0 1 17.4 234.1)">-1</text>
<text class="r" transform="matrix(0.90 0 0 1 17.4 217.7)">0</text>
<text class="r" transform="matrix(0.90 0 0 1 17.4 201.3)">1</text>
<text transform="matrix(0.90 0 0 1 381.6 306.4)">-100</text>
<text transform="matrix(0.90 0 0 1 412.2 300.4)">-50</text>
<text transform="matrix(0.90 0 0 1 442.8 294.4)">0</text>
<text transform="matrix(0.90 0 0 1 473.3 288.4)">50</text>
<text transform="matrix(0.90 0 0 1 503.9 282.5)">100</text>
<text class="r" transform="matrix(0.90 0 0 1 362.5 303.7)">-50</text>
<text class="r" transform="matrix(0.90 0 0 1 323.3 290.3)">0</text>
<text class="r" transform="matrix(0.90 0 0 1 284.1 276.8)">50</text>
<text class="r" transform="matrix(0.90 0 0 1 276.4 260.7)">-1</text>
<text class="r" transform="matrix(0.90 0 0 1 276.4 246.9)">-0.5</text>
<text class="r" transform="matrix(0.90 0 0 1 276.4 233.1)">0</text>
<text class="r" transform="matrix(0.90 0 0 1 276.4 219.3)">0.5</text>
<text class="r" transform="matrix(0.90 0 0 1 276.4 205.5)">1</text>
<text class="m" transform="translate(133.3 60.2) rotate(-90.0)" y="2.5">z/mm</text>
<text class="m" transform="translate(187.4 131.5) rotate(18.6)" y="2.5">y/mm</text>
<text class="m" transform="translate(312.7 135.2) rotate(-11.2)" y="2.5">x/mm</text>
<text class="m" transform="translate(5.6 232.0) rotate(-90.0)" y="2.5">z/mm</text>
<text class="m" transform="translate(57.5 301.5) rotate(18.6)" y="2.5">y/mm</text>
<text class="m" transform="translate(178.4 304.7) rotate(-10.7)" y="2.5">x/mm</text>
<text class="m" transform="translate(258.2 231.5) rotate(-90.0)" y="2.5">z/mm</text>
<text class="m" transform="translate(318.5 304.0) rotate(18.9)" y="2.5">y/mm</text>
<text class="m" transform="translate(444.4 306.5) rotate(-11.1)" y="2.5">x/mm</text>
<rect x="391.0" y="2.0" width="9.0" height="123.5" fill="url(#cb)" class="cbr"/>
<text class="cb" transform="matrix(.88 0 0 1 403.0 12.3)">1</text>
<text class="cb" transform="matrix(.88 0 0 1 403.0 29.0)">0.5</text>
<text class="cb" transform="matrix(.88 0 0 1 403.0 45.6)">0</text>
<text class="cb" transform="matrix(.88 0 0 1 403.0 62.3)">-0.5</text>
<text class="cb" transform="matrix(.88 0 0 1 403.0 78.9)">-1</text>
<text class="cb" transform="matrix(.88 0 0 1 403.0 95.5)">-1.5</text>
<text class="cb" transform="matrix(.88 0 0 1 403.0 112.2)">-2</text>
<text class="cb" transform="matrix(.88 0 0 1 403.0 128.8)">-2.5</text>
<path class="ax" d="M400.0 9.5h-1.6M400.0 26.1h-1.6M400.0 42.8h-1.6M400.0 59.4h-1.6M400.0 76.1h-1.6M400.0 92.7h-1.6M400.0 109.4h-1.6M400.0 126.0h-1.6"/>
<rect x="523.2" y="173.8" width="8.8" height="123.4" fill="url(#cb)" class="cbr"/>
<text class="cb" transform="matrix(.88 0 0 1 535.6 184.1)">1</text>
<text class="cb" transform="matrix(.88 0 0 1 535.6 200.6)">0.5</text>
<text class="cb" transform="matrix(.88 0 0 1 535.6 217.2)">0</text>
<text class="cb" transform="matrix(.88 0 0 1 535.6 233.8)">-0.5</text>
<text class="cb" transform="matrix(.88 0 0 1 535.6 250.3)">-1</text>
<text class="cb" transform="matrix(.88 0 0 1 535.6 266.9)">-1.5</text>
<text class="cb" transform="matrix(.88 0 0 1 535.6 283.5)">-2</text>
<text class="cb" transform="matrix(.88 0 0 1 535.6 300.0)">-2.5</text>
<path class="ax" d="M532.0 181.3h-1.6M532.0 197.8h-1.6M532.0 214.4h-1.6M532.0 230.9h-1.6M532.0 247.5h-1.6M532.0 264.1h-1.6M532.0 280.6h-1.6M532.0 297.2h-1.6"/>
<text class="p" x="276.1" y="159">(a)</text>
<text class="p" x="123.6" y="330.8">(b)</text>
<text class="p" x="401.6" y="330.8">(c)</text>
</svg></body></html>
